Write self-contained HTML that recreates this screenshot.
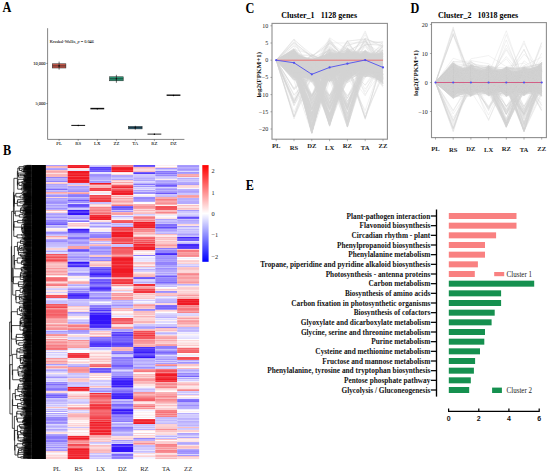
<!DOCTYPE html><html><head><meta charset="utf-8"><style>html,body{margin:0;padding:0;background:#fff;width:550px;height:474px;overflow:hidden}svg{display:block}</style></head><body>
<svg width="550" height="474" viewBox="0 0 550 474">
<rect width="550" height="474" fill="#fff"/>
<text transform="translate(2.6 12.3) scale(0.9 1)" font-family='"Liberation Serif", serif' font-weight="bold" font-size="13.6">A</text>
<path d="M47.6 28.2V139.4H184.4" fill="none" stroke="#333" stroke-width="0.6"/>
<path d="M46.2 63.4H47.6M46.2 103.6H47.6" stroke="#333" stroke-width="0.5"/>
<text x="45.6" y="64.9" text-anchor="end" font-family='"Liberation Serif", serif' font-size="4.5" fill="#000" stroke="#000" stroke-width="0.05">10,000</text>
<text x="45.6" y="105.1" text-anchor="end" font-family='"Liberation Serif", serif' font-size="4.5" fill="#000" stroke="#000" stroke-width="0.05">5,000</text>
<text x="49.8" y="42.9" font-family='"Liberation Serif", serif' font-size="4.25" fill="#000" stroke="#000" stroke-width="0.04">Kruskal-Wallis, <tspan font-style="italic">p</tspan> = 0.046</text>
<path d="M59.1 139.4V140.8" stroke="#333" stroke-width="0.5"/>
<text x="59.1" y="145.2" text-anchor="middle" font-family='"Liberation Serif", serif' font-size="4.8" fill="#000" stroke="#000" stroke-width="0.04">PL</text>
<path d="M78.2 139.4V140.8" stroke="#333" stroke-width="0.5"/>
<text x="78.2" y="145.2" text-anchor="middle" font-family='"Liberation Serif", serif' font-size="4.8" fill="#000" stroke="#000" stroke-width="0.04">RS</text>
<path d="M97.3 139.4V140.8" stroke="#333" stroke-width="0.5"/>
<text x="97.3" y="145.2" text-anchor="middle" font-family='"Liberation Serif", serif' font-size="4.8" fill="#000" stroke="#000" stroke-width="0.04">LX</text>
<path d="M116.4 139.4V140.8" stroke="#333" stroke-width="0.5"/>
<text x="116.4" y="145.2" text-anchor="middle" font-family='"Liberation Serif", serif' font-size="4.8" fill="#000" stroke="#000" stroke-width="0.04">ZZ</text>
<path d="M135.3 139.4V140.8" stroke="#333" stroke-width="0.5"/>
<text x="135.3" y="145.2" text-anchor="middle" font-family='"Liberation Serif", serif' font-size="4.8" fill="#000" stroke="#000" stroke-width="0.04">TA</text>
<path d="M154.4 139.4V140.8" stroke="#333" stroke-width="0.5"/>
<text x="154.4" y="145.2" text-anchor="middle" font-family='"Liberation Serif", serif' font-size="4.8" fill="#000" stroke="#000" stroke-width="0.04">RZ</text>
<path d="M173.5 139.4V140.8" stroke="#333" stroke-width="0.5"/>
<text x="173.5" y="145.2" text-anchor="middle" font-family='"Liberation Serif", serif' font-size="4.8" fill="#000" stroke="#000" stroke-width="0.04">DZ</text>
<rect x="52.3" y="63.8" width="13.6" height="4.2" fill="#c75a4c" stroke="#222" stroke-width="0.5"/>
<path d="M59.1 61.6V69.6 M52.3 65.9H65.9" stroke="#111" stroke-width="0.6"/>
<circle cx="59.1" cy="65.9" r="0.8" fill="#111"/>
<rect x="109.6" y="76.8" width="13.6" height="4" fill="#2a9a76" stroke="#222" stroke-width="0.5"/>
<path d="M116.4 74.8V82.8 M109.6 78.8H123.2" stroke="#111" stroke-width="0.6"/>
<circle cx="116.4" cy="78.8" r="0.8" fill="#111"/>
<rect x="128.5" y="126.4" width="13.6" height="2.5" fill="#2b6f8e" stroke="#222" stroke-width="0.5"/>
<path d="M135.3 125.8V129.6 M128.5 127.65H142.1" stroke="#111" stroke-width="0.6"/>
<circle cx="135.3" cy="127.65" r="0.8" fill="#111"/>
<rect x="71.3" y="124.9" width="13.8" height="1" fill="#111"/>
<circle cx="78.2" cy="125.6" r="0.75" fill="#000"/>
<rect x="90.4" y="107.85" width="13.8" height="1.5" fill="#111"/>
<circle cx="97.3" cy="108.8" r="0.75" fill="#000"/>
<rect x="147.5" y="133.65" width="13.8" height="0.9" fill="#111"/>
<circle cx="154.4" cy="134.3" r="0.75" fill="#000"/>
<rect x="166.6" y="94.5" width="13.8" height="1.4" fill="#111"/>
<circle cx="173.5" cy="95.4" r="0.75" fill="#000"/>
<text transform="translate(2.9 155.3) scale(0.9 1)" font-family='"Liberation Serif", serif' font-weight="bold" font-size="13.6">B</text>
<rect x="45.8" y="165" width="21.95" height="1.05" fill="#a99cfd"/>
<rect x="45.8" y="166" width="21.95" height="1.05" fill="#fab1b4"/>
<rect x="45.8" y="167" width="21.95" height="1.05" fill="#fbbec1"/>
<rect x="45.8" y="168" width="21.95" height="1.05" fill="#b2a7fd"/>
<rect x="45.8" y="169" width="21.95" height="1.05" fill="#a89bfd"/>
<rect x="45.8" y="170" width="21.95" height="1.05" fill="#fbbec1"/>
<rect x="45.8" y="171" width="21.95" height="1.05" fill="#f9a6a9"/>
<rect x="45.8" y="172" width="21.95" height="1.05" fill="#fab2b6"/>
<rect x="45.8" y="173" width="21.95" height="1.05" fill="#fde0e2"/>
<rect x="45.8" y="174" width="21.95" height="1.05" fill="#fab5b9"/>
<rect x="45.8" y="175" width="21.95" height="1.05" fill="#fab3b6"/>
<rect x="45.8" y="176" width="21.95" height="1.05" fill="#fab7ba"/>
<rect x="45.8" y="177" width="21.95" height="1.05" fill="#9282fc"/>
<rect x="45.8" y="178" width="21.95" height="1.05" fill="#bbb1fd"/>
<rect x="45.8" y="179" width="21.95" height="1.05" fill="#b5abfd"/>
<rect x="45.8" y="180" width="21.95" height="1.05" fill="#b5aafd"/>
<rect x="45.8" y="181" width="21.95" height="1.05" fill="#9181fc"/>
<rect x="45.8" y="182" width="21.95" height="1.05" fill="#fddadc"/>
<rect x="45.8" y="183" width="21.95" height="1.05" fill="#fccacd"/>
<rect x="45.8" y="184" width="21.95" height="1.05" fill="#b0a4fd"/>
<rect x="45.8" y="185" width="21.95" height="1.05" fill="#bcb2fd"/>
<rect x="45.8" y="186" width="21.95" height="1.05" fill="#b6acfd"/>
<rect x="45.8" y="187" width="21.95" height="1.05" fill="#c0b7fd"/>
<rect x="45.8" y="188" width="21.95" height="1.05" fill="#ada1fd"/>
<rect x="45.8" y="189" width="21.95" height="1.05" fill="#7f6cfc"/>
<rect x="45.8" y="190" width="21.95" height="1.05" fill="#c8c0fe"/>
<rect x="45.8" y="191" width="21.95" height="1.05" fill="#b7acfd"/>
<rect x="45.8" y="192" width="21.95" height="1.05" fill="#f9a6aa"/>
<rect x="45.8" y="193" width="21.95" height="1.05" fill="#fbbbbe"/>
<rect x="45.8" y="194" width="21.95" height="1.05" fill="#c1b8fd"/>
<rect x="45.8" y="195" width="21.95" height="1.05" fill="#a395fd"/>
<rect x="45.8" y="196" width="21.95" height="1.05" fill="#a193fd"/>
<rect x="45.8" y="197" width="21.95" height="1.05" fill="#fcd7d9"/>
<rect x="45.8" y="198" width="21.95" height="1.05" fill="#ab9ffd"/>
<rect x="45.8" y="199" width="21.95" height="1.05" fill="#b7adfd"/>
<rect x="45.8" y="200" width="21.95" height="1.05" fill="#b1a6fd"/>
<rect x="45.8" y="201" width="21.95" height="1.05" fill="#a699fd"/>
<rect x="45.8" y="202" width="21.95" height="1.05" fill="#9d8ffd"/>
<rect x="45.8" y="203" width="21.95" height="1.05" fill="#a497fd"/>
<rect x="45.8" y="204" width="21.95" height="1.05" fill="#cbc4fe"/>
<rect x="45.8" y="205" width="21.95" height="1.05" fill="#aa9efd"/>
<rect x="45.8" y="206" width="21.95" height="1.05" fill="#bbb1fd"/>
<rect x="45.8" y="207" width="21.95" height="1.05" fill="#beb5fd"/>
<rect x="45.8" y="208" width="21.95" height="1.05" fill="#9f91fd"/>
<rect x="45.8" y="209" width="21.95" height="1.05" fill="#b8aefd"/>
<rect x="45.8" y="210" width="21.95" height="1.05" fill="#fab9bc"/>
<rect x="45.8" y="211" width="21.95" height="1.05" fill="#fef6f6"/>
<rect x="45.8" y="212" width="21.95" height="1.05" fill="#fcd7d9"/>
<rect x="45.8" y="213" width="21.95" height="1.05" fill="#b6abfd"/>
<rect x="45.8" y="214" width="21.95" height="1.05" fill="#aa9dfd"/>
<rect x="45.8" y="215" width="21.95" height="1.05" fill="#bfb6fd"/>
<rect x="45.8" y="216" width="21.95" height="1.05" fill="#b6acfd"/>
<rect x="45.8" y="217" width="21.95" height="1.05" fill="#9f91fd"/>
<rect x="45.8" y="218" width="21.95" height="1.05" fill="#c5bcfe"/>
<rect x="45.8" y="219" width="21.95" height="1.05" fill="#c2b9fe"/>
<rect x="45.8" y="220" width="21.95" height="1.05" fill="#9484fc"/>
<rect x="45.8" y="221" width="21.95" height="1.05" fill="#9c8dfd"/>
<rect x="45.8" y="222" width="21.95" height="1.05" fill="#8a79fc"/>
<rect x="45.8" y="223" width="21.95" height="1.05" fill="#8674fc"/>
<rect x="45.8" y="224" width="21.95" height="1.05" fill="#6f5afb"/>
<rect x="45.8" y="225" width="21.95" height="1.05" fill="#ccc4fe"/>
<rect x="45.8" y="226" width="21.95" height="1.05" fill="#b7adfd"/>
<rect x="45.8" y="227" width="21.95" height="1.05" fill="#bab0fd"/>
<rect x="45.8" y="228" width="21.95" height="1.05" fill="#fef4f4"/>
<rect x="45.8" y="229" width="21.95" height="1.05" fill="#feeeef"/>
<rect x="45.8" y="230" width="21.95" height="1.05" fill="#fde6e7"/>
<rect x="45.8" y="231" width="21.95" height="1.05" fill="#ccc5fe"/>
<rect x="45.8" y="232" width="21.95" height="1.05" fill="#9687fc"/>
<rect x="45.8" y="233" width="21.95" height="1.05" fill="#9f91fd"/>
<rect x="45.8" y="234" width="21.95" height="1.05" fill="#bbb1fd"/>
<rect x="45.8" y="235" width="21.95" height="1.05" fill="#cfc8fe"/>
<rect x="45.8" y="236" width="21.95" height="1.05" fill="#f9a4a8"/>
<rect x="45.8" y="237" width="21.95" height="1.05" fill="#fcd1d3"/>
<rect x="45.8" y="238" width="21.95" height="1.05" fill="#fdddde"/>
<rect x="45.8" y="239" width="21.95" height="1.05" fill="#b3a8fd"/>
<rect x="45.8" y="240" width="21.95" height="1.05" fill="#a193fd"/>
<rect x="45.8" y="241" width="21.95" height="1.05" fill="#9b8cfd"/>
<rect x="45.8" y="242" width="21.95" height="1.05" fill="#bdb3fd"/>
<rect x="45.8" y="243" width="21.95" height="1.05" fill="#bfb6fd"/>
<rect x="45.8" y="244" width="21.95" height="1.05" fill="#c4bbfe"/>
<rect x="45.8" y="245" width="21.95" height="1.05" fill="#c6bdfe"/>
<rect x="45.8" y="246" width="21.95" height="1.05" fill="#c9c1fe"/>
<rect x="45.8" y="247" width="21.95" height="1.05" fill="#dcd6fe"/>
<rect x="45.8" y="248" width="21.95" height="1.05" fill="#fcd1d3"/>
<rect x="45.8" y="249" width="21.95" height="1.05" fill="#fcd3d5"/>
<rect x="45.8" y="250" width="21.95" height="1.05" fill="#d5cffe"/>
<rect x="45.8" y="251" width="21.95" height="1.05" fill="#b2a7fd"/>
<rect x="45.8" y="252" width="21.95" height="1.05" fill="#e1dcfe"/>
<rect x="45.8" y="253" width="21.95" height="1.05" fill="#dbd6fe"/>
<rect x="45.8" y="254" width="21.95" height="1.05" fill="#f4545c"/>
<rect x="45.8" y="255" width="21.95" height="1.05" fill="#f78288"/>
<rect x="45.8" y="256" width="21.95" height="1.05" fill="#f56a70"/>
<rect x="45.8" y="257" width="21.95" height="1.05" fill="#f34f56"/>
<rect x="45.8" y="258" width="21.95" height="1.05" fill="#f77f85"/>
<rect x="45.8" y="259" width="21.95" height="1.05" fill="#f56168"/>
<rect x="45.8" y="260" width="21.95" height="1.05" fill="#f34b53"/>
<rect x="45.8" y="261" width="21.95" height="1.05" fill="#f6767c"/>
<rect x="45.8" y="262" width="21.95" height="1.05" fill="#f9a8ac"/>
<rect x="45.8" y="263" width="21.95" height="1.05" fill="#fbbbbe"/>
<rect x="45.8" y="264" width="21.95" height="1.05" fill="#fbc8cb"/>
<rect x="45.8" y="265" width="21.95" height="1.05" fill="#fbc0c2"/>
<rect x="45.8" y="266" width="21.95" height="1.05" fill="#fababd"/>
<rect x="45.8" y="267" width="21.95" height="1.05" fill="#fbc3c6"/>
<rect x="45.8" y="268" width="21.95" height="1.05" fill="#f8999e"/>
<rect x="45.8" y="269" width="21.95" height="1.05" fill="#fbbbbe"/>
<rect x="45.8" y="270" width="21.95" height="1.05" fill="#fab6b9"/>
<rect x="45.8" y="271" width="21.95" height="1.05" fill="#f89ba0"/>
<rect x="45.8" y="272" width="21.95" height="1.05" fill="#faaeb2"/>
<rect x="45.8" y="273" width="21.95" height="1.05" fill="#fbbfc1"/>
<rect x="45.8" y="274" width="21.95" height="1.05" fill="#f99da1"/>
<rect x="45.8" y="275" width="21.95" height="1.05" fill="#fcd9da"/>
<rect x="45.8" y="276" width="21.95" height="1.05" fill="#fffcfc"/>
<rect x="45.8" y="277" width="21.95" height="1.05" fill="#f78388"/>
<rect x="45.8" y="278" width="21.95" height="1.05" fill="#f56c72"/>
<rect x="45.8" y="279" width="21.95" height="1.05" fill="#f56c73"/>
<rect x="45.8" y="280" width="21.95" height="1.05" fill="#f66f75"/>
<rect x="45.8" y="281" width="21.95" height="1.05" fill="#faacaf"/>
<rect x="45.8" y="282" width="21.95" height="1.05" fill="#fcd8da"/>
<rect x="45.8" y="283" width="21.95" height="1.05" fill="#faaeb2"/>
<rect x="45.8" y="284" width="21.95" height="1.05" fill="#f78186"/>
<rect x="45.8" y="285" width="21.95" height="1.05" fill="#f6787e"/>
<rect x="45.8" y="286" width="21.95" height="1.05" fill="#fddcde"/>
<rect x="45.8" y="287" width="21.95" height="1.05" fill="#fcd3d5"/>
<rect x="45.8" y="288" width="21.95" height="1.05" fill="#dad4fe"/>
<rect x="45.8" y="289" width="21.95" height="1.05" fill="#d1cbfe"/>
<rect x="45.8" y="290" width="21.95" height="1.05" fill="#fde5e6"/>
<rect x="45.8" y="291" width="21.95" height="1.05" fill="#fde5e6"/>
<rect x="45.8" y="292" width="21.95" height="1.05" fill="#d5cffe"/>
<rect x="45.8" y="293" width="21.95" height="1.05" fill="#feebec"/>
<rect x="45.8" y="294" width="21.95" height="1.05" fill="#fde3e4"/>
<rect x="45.8" y="295" width="21.95" height="1.05" fill="#f4535b"/>
<rect x="45.8" y="296" width="21.95" height="1.05" fill="#f45e65"/>
<rect x="45.8" y="297" width="21.95" height="1.05" fill="#f45058"/>
<rect x="45.8" y="298" width="21.95" height="1.05" fill="#d5cffe"/>
<rect x="45.8" y="299" width="21.95" height="1.05" fill="#edeaff"/>
<rect x="45.8" y="300" width="21.95" height="1.05" fill="#d1cafe"/>
<rect x="45.8" y="301" width="21.95" height="1.05" fill="#c5bcfe"/>
<rect x="45.8" y="302" width="21.95" height="1.05" fill="#c6bdfe"/>
<rect x="45.8" y="303" width="21.95" height="1.05" fill="#ccc4fe"/>
<rect x="45.8" y="304" width="21.95" height="1.05" fill="#f45960"/>
<rect x="45.8" y="305" width="21.95" height="1.05" fill="#f67076"/>
<rect x="45.8" y="306" width="21.95" height="1.05" fill="#f56269"/>
<rect x="45.8" y="307" width="21.95" height="1.05" fill="#f34850"/>
<rect x="45.8" y="308" width="21.95" height="1.05" fill="#f8999d"/>
<rect x="45.8" y="309" width="21.95" height="1.05" fill="#f77e84"/>
<rect x="45.8" y="310" width="21.95" height="1.05" fill="#f5656c"/>
<rect x="45.8" y="311" width="21.95" height="1.05" fill="#f56269"/>
<rect x="45.8" y="312" width="21.95" height="1.05" fill="#f5656c"/>
<rect x="45.8" y="313" width="21.95" height="1.05" fill="#f67178"/>
<rect x="45.8" y="314" width="21.95" height="1.05" fill="#f45d64"/>
<rect x="45.8" y="315" width="21.95" height="1.05" fill="#f5646b"/>
<rect x="45.8" y="316" width="21.95" height="1.05" fill="#f67379"/>
<rect x="45.8" y="317" width="21.95" height="1.05" fill="#f6767c"/>
<rect x="45.8" y="318" width="21.95" height="1.05" fill="#f99ca1"/>
<rect x="45.8" y="319" width="21.95" height="1.05" fill="#faadb1"/>
<rect x="45.8" y="320" width="21.95" height="1.05" fill="#f9a5a9"/>
<rect x="45.8" y="321" width="21.95" height="1.05" fill="#f9a7ab"/>
<rect x="45.8" y="322" width="21.95" height="1.05" fill="#f9a4a8"/>
<rect x="45.8" y="323" width="21.95" height="1.05" fill="#fcd5d7"/>
<rect x="45.8" y="324" width="21.95" height="1.05" fill="#faacb0"/>
<rect x="45.8" y="325" width="21.95" height="1.05" fill="#f89095"/>
<rect x="45.8" y="326" width="21.95" height="1.05" fill="#fab9bc"/>
<rect x="45.8" y="327" width="21.95" height="1.05" fill="#f9a4a8"/>
<rect x="45.8" y="328" width="21.95" height="1.05" fill="#f89196"/>
<rect x="45.8" y="329" width="21.95" height="1.05" fill="#f89398"/>
<rect x="45.8" y="330" width="21.95" height="1.05" fill="#dad5fe"/>
<rect x="45.8" y="331" width="21.95" height="1.05" fill="#a699fd"/>
<rect x="45.8" y="332" width="21.95" height="1.05" fill="#bcb2fd"/>
<rect x="45.8" y="333" width="21.95" height="1.05" fill="#bcb2fd"/>
<rect x="45.8" y="334" width="21.95" height="1.05" fill="#f8989c"/>
<rect x="45.8" y="335" width="21.95" height="1.05" fill="#f88f94"/>
<rect x="45.8" y="336" width="21.95" height="1.05" fill="#fcd4d6"/>
<rect x="45.8" y="337" width="21.95" height="1.05" fill="#fbbdc0"/>
<rect x="45.8" y="338" width="21.95" height="1.05" fill="#feecec"/>
<rect x="45.8" y="339" width="21.95" height="1.05" fill="#f8969b"/>
<rect x="45.8" y="340" width="21.95" height="1.05" fill="#fbbec1"/>
<rect x="45.8" y="341" width="21.95" height="1.05" fill="#f9a0a4"/>
<rect x="45.8" y="342" width="21.95" height="1.05" fill="#f88d92"/>
<rect x="45.8" y="343" width="21.95" height="1.05" fill="#f9a6aa"/>
<rect x="45.8" y="344" width="21.95" height="1.05" fill="#f99fa4"/>
<rect x="45.8" y="345" width="21.95" height="1.05" fill="#f77d83"/>
<rect x="45.8" y="346" width="21.95" height="1.05" fill="#f7898f"/>
<rect x="45.8" y="347" width="21.95" height="1.05" fill="#f88e93"/>
<rect x="45.8" y="348" width="21.95" height="1.05" fill="#f67076"/>
<rect x="45.8" y="349" width="21.95" height="1.05" fill="#f6797f"/>
<rect x="45.8" y="350" width="21.95" height="1.05" fill="#dbd6fe"/>
<rect x="45.8" y="351" width="21.95" height="1.05" fill="#feeff0"/>
<rect x="45.8" y="352" width="21.95" height="1.05" fill="#cdc6fe"/>
<rect x="45.8" y="353" width="21.95" height="1.05" fill="#efedff"/>
<rect x="45.8" y="354" width="21.95" height="1.05" fill="#dcd7fe"/>
<rect x="45.8" y="355" width="21.95" height="1.05" fill="#e2defe"/>
<rect x="45.8" y="356" width="21.95" height="1.05" fill="#ece9ff"/>
<rect x="45.8" y="357" width="21.95" height="1.05" fill="#e4e0fe"/>
<rect x="45.8" y="358" width="21.95" height="1.05" fill="#f8979c"/>
<rect x="45.8" y="359" width="21.95" height="1.05" fill="#fbbfc2"/>
<rect x="45.8" y="360" width="21.95" height="1.05" fill="#fbbfc2"/>
<rect x="45.8" y="361" width="21.95" height="1.05" fill="#f8989c"/>
<rect x="45.8" y="362" width="21.95" height="1.05" fill="#fab5b8"/>
<rect x="45.8" y="363" width="21.95" height="1.05" fill="#fab6b9"/>
<rect x="45.8" y="364" width="21.95" height="1.05" fill="#a99dfd"/>
<rect x="45.8" y="365" width="21.95" height="1.05" fill="#d6d0fe"/>
<rect x="45.8" y="366" width="21.95" height="1.05" fill="#faacb0"/>
<rect x="45.8" y="367" width="21.95" height="1.05" fill="#f99fa3"/>
<rect x="45.8" y="368" width="21.95" height="1.05" fill="#fccbce"/>
<rect x="45.8" y="369" width="21.95" height="1.05" fill="#c2b9fe"/>
<rect x="45.8" y="370" width="21.95" height="1.05" fill="#afa3fd"/>
<rect x="45.8" y="371" width="21.95" height="1.05" fill="#cec7fe"/>
<rect x="45.8" y="372" width="21.95" height="1.05" fill="#dcd6fe"/>
<rect x="45.8" y="373" width="21.95" height="1.05" fill="#feedee"/>
<rect x="45.8" y="374" width="21.95" height="1.05" fill="#dbd6fe"/>
<rect x="45.8" y="375" width="21.95" height="1.05" fill="#d2cbfe"/>
<rect x="45.8" y="376" width="21.95" height="1.05" fill="#bfb5fd"/>
<rect x="45.8" y="377" width="21.95" height="1.05" fill="#a193fd"/>
<rect x="45.8" y="378" width="21.95" height="1.05" fill="#d9d3fe"/>
<rect x="45.8" y="379" width="21.95" height="1.05" fill="#dfdafe"/>
<rect x="45.8" y="380" width="21.95" height="1.05" fill="#d6d0fe"/>
<rect x="45.8" y="381" width="21.95" height="1.05" fill="#e7e3fe"/>
<rect x="45.8" y="382" width="21.95" height="1.05" fill="#9585fc"/>
<rect x="45.8" y="383" width="21.95" height="1.05" fill="#a79afd"/>
<rect x="45.8" y="384" width="21.95" height="1.05" fill="#7e6bfc"/>
<rect x="45.8" y="385" width="21.95" height="1.05" fill="#a193fd"/>
<rect x="45.8" y="386" width="21.95" height="1.05" fill="#a79afd"/>
<rect x="45.8" y="387" width="21.95" height="1.05" fill="#a699fd"/>
<rect x="45.8" y="388" width="21.95" height="1.05" fill="#8b7afc"/>
<rect x="45.8" y="389" width="21.95" height="1.05" fill="#8270fc"/>
<rect x="45.8" y="390" width="21.95" height="1.05" fill="#9f91fd"/>
<rect x="45.8" y="391" width="21.95" height="1.05" fill="#fddadc"/>
<rect x="45.8" y="392" width="21.95" height="1.05" fill="#fddadc"/>
<rect x="45.8" y="393" width="21.95" height="1.05" fill="#b0a4fd"/>
<rect x="45.8" y="394" width="21.95" height="1.05" fill="#9485fc"/>
<rect x="45.8" y="395" width="21.95" height="1.05" fill="#735efc"/>
<rect x="45.8" y="396" width="21.95" height="1.05" fill="#9282fc"/>
<rect x="45.8" y="397" width="21.95" height="1.05" fill="#7a67fc"/>
<rect x="45.8" y="398" width="21.95" height="1.05" fill="#cfc8fe"/>
<rect x="45.8" y="399" width="21.95" height="1.05" fill="#c7befe"/>
<rect x="45.8" y="400" width="21.95" height="1.05" fill="#b7adfd"/>
<rect x="45.8" y="401" width="21.95" height="1.05" fill="#c1b8fd"/>
<rect x="45.8" y="402" width="21.95" height="1.05" fill="#cfc8fe"/>
<rect x="45.8" y="403" width="21.95" height="1.05" fill="#c3bafe"/>
<rect x="45.8" y="404" width="21.95" height="1.05" fill="#e2ddfe"/>
<rect x="45.8" y="405" width="21.95" height="1.05" fill="#cbc3fe"/>
<rect x="45.8" y="406" width="21.95" height="1.05" fill="#ddd8fe"/>
<rect x="45.8" y="407" width="21.95" height="1.05" fill="#fbc1c4"/>
<rect x="45.8" y="408" width="21.95" height="1.05" fill="#e6e3fe"/>
<rect x="45.8" y="409" width="21.95" height="1.05" fill="#c1b8fd"/>
<rect x="45.8" y="410" width="21.95" height="1.05" fill="#dad5fe"/>
<rect x="45.8" y="411" width="21.95" height="1.05" fill="#ada1fd"/>
<rect x="45.8" y="412" width="21.95" height="1.05" fill="#fffcfc"/>
<rect x="45.8" y="413" width="21.95" height="1.05" fill="#ac9ffd"/>
<rect x="45.8" y="414" width="21.95" height="1.05" fill="#ddd8fe"/>
<rect x="45.8" y="415" width="21.95" height="1.05" fill="#b8adfd"/>
<rect x="45.8" y="416" width="21.95" height="1.05" fill="#ccc4fe"/>
<rect x="45.8" y="417" width="21.95" height="1.05" fill="#9586fc"/>
<rect x="45.8" y="418" width="21.95" height="1.05" fill="#9889fc"/>
<rect x="45.8" y="419" width="21.95" height="1.05" fill="#8f7efc"/>
<rect x="45.8" y="420" width="21.95" height="1.05" fill="#9c8efd"/>
<rect x="45.8" y="421" width="21.95" height="1.05" fill="#b6abfd"/>
<rect x="45.8" y="422" width="21.95" height="1.05" fill="#998afd"/>
<rect x="45.8" y="423" width="21.95" height="1.05" fill="#a193fd"/>
<rect x="45.8" y="424" width="21.95" height="1.05" fill="#dcd7fe"/>
<rect x="45.8" y="425" width="21.95" height="1.05" fill="#c9c1fe"/>
<rect x="45.8" y="426" width="21.95" height="1.05" fill="#b7adfd"/>
<rect x="45.8" y="427" width="21.95" height="1.05" fill="#c3bafe"/>
<rect x="45.8" y="428" width="21.95" height="1.05" fill="#ddd8fe"/>
<rect x="45.8" y="429" width="21.95" height="1.05" fill="#b1a5fd"/>
<rect x="45.8" y="430" width="21.95" height="1.05" fill="#c2b9fe"/>
<rect x="45.8" y="431" width="21.95" height="1.05" fill="#dcd7fe"/>
<rect x="45.8" y="432" width="21.95" height="1.05" fill="#fdd9db"/>
<rect x="45.8" y="433" width="21.95" height="1.05" fill="#fde8e9"/>
<rect x="45.8" y="434" width="21.95" height="1.05" fill="#b0a4fd"/>
<rect x="45.8" y="435" width="21.95" height="1.05" fill="#a598fd"/>
<rect x="45.8" y="436" width="21.95" height="1.05" fill="#8f7ffc"/>
<rect x="45.8" y="437" width="21.95" height="1.05" fill="#8978fc"/>
<rect x="45.8" y="438" width="21.95" height="1.05" fill="#8e7dfc"/>
<rect x="45.8" y="439" width="21.95" height="1.05" fill="#a89bfd"/>
<rect x="45.8" y="440" width="21.95" height="1.05" fill="#8f7ffc"/>
<rect x="45.8" y="441" width="21.95" height="1.05" fill="#8a79fc"/>
<rect x="45.8" y="442" width="21.95" height="1.05" fill="#b5aafd"/>
<rect x="45.8" y="443" width="21.95" height="1.05" fill="#a89cfd"/>
<rect x="45.8" y="444" width="21.95" height="1.05" fill="#c0b6fd"/>
<rect x="45.8" y="445" width="21.95" height="1.05" fill="#aea2fd"/>
<rect x="45.8" y="446" width="21.95" height="1.05" fill="#c7bffe"/>
<rect x="45.8" y="447" width="21.95" height="1.05" fill="#9b8cfd"/>
<rect x="45.8" y="448" width="21.95" height="1.05" fill="#c7bffe"/>
<rect x="45.8" y="449" width="21.95" height="1.05" fill="#b7acfd"/>
<rect x="45.8" y="450" width="21.95" height="1.05" fill="#a294fd"/>
<rect x="45.8" y="451" width="21.95" height="1.05" fill="#fccfd1"/>
<rect x="45.8" y="452" width="21.95" height="1.05" fill="#fde2e3"/>
<rect x="45.8" y="453" width="21.95" height="1.05" fill="#f9f8ff"/>
<rect x="45.8" y="454" width="21.95" height="1.05" fill="#feeded"/>
<rect x="45.8" y="455" width="21.95" height="1.05" fill="#fcd7d9"/>
<rect x="45.8" y="456" width="21.95" height="1.05" fill="#fde5e6"/>
<rect x="45.8" y="457" width="21.95" height="1.05" fill="#fcced0"/>
<rect x="45.8" y="458" width="21.95" height="1.05" fill="#fccfd1"/>
<rect x="67.7" y="165" width="21.95" height="1.05" fill="#f1242d"/>
<rect x="67.7" y="166" width="21.95" height="1.05" fill="#f12a33"/>
<rect x="67.7" y="167" width="21.95" height="1.05" fill="#f01923"/>
<rect x="67.7" y="168" width="21.95" height="1.05" fill="#fde7e8"/>
<rect x="67.7" y="169" width="21.95" height="1.05" fill="#feebec"/>
<rect x="67.7" y="170" width="21.95" height="1.05" fill="#e7e4fe"/>
<rect x="67.7" y="171" width="21.95" height="1.05" fill="#f01923"/>
<rect x="67.7" y="172" width="21.95" height="1.05" fill="#f01923"/>
<rect x="67.7" y="173" width="21.95" height="1.05" fill="#f12a33"/>
<rect x="67.7" y="174" width="21.95" height="1.05" fill="#f12d36"/>
<rect x="67.7" y="175" width="21.95" height="1.05" fill="#f01923"/>
<rect x="67.7" y="176" width="21.95" height="1.05" fill="#f3454d"/>
<rect x="67.7" y="177" width="21.95" height="1.05" fill="#f01c26"/>
<rect x="67.7" y="178" width="21.95" height="1.05" fill="#f01923"/>
<rect x="67.7" y="179" width="21.95" height="1.05" fill="#f2363e"/>
<rect x="67.7" y="180" width="21.95" height="1.05" fill="#f01923"/>
<rect x="67.7" y="181" width="21.95" height="1.05" fill="#f01923"/>
<rect x="67.7" y="182" width="21.95" height="1.05" fill="#f12730"/>
<rect x="67.7" y="183" width="21.95" height="1.05" fill="#cbc3fe"/>
<rect x="67.7" y="184" width="21.95" height="1.05" fill="#d0c9fe"/>
<rect x="67.7" y="185" width="21.95" height="1.05" fill="#fccbcd"/>
<rect x="67.7" y="186" width="21.95" height="1.05" fill="#ac9ffd"/>
<rect x="67.7" y="187" width="21.95" height="1.05" fill="#b2a7fd"/>
<rect x="67.7" y="188" width="21.95" height="1.05" fill="#bbb1fd"/>
<rect x="67.7" y="189" width="21.95" height="1.05" fill="#aca0fd"/>
<rect x="67.7" y="190" width="21.95" height="1.05" fill="#aa9dfd"/>
<rect x="67.7" y="191" width="21.95" height="1.05" fill="#9c8efd"/>
<rect x="67.7" y="192" width="21.95" height="1.05" fill="#fab5b8"/>
<rect x="67.7" y="193" width="21.95" height="1.05" fill="#f99ea2"/>
<rect x="67.7" y="194" width="21.95" height="1.05" fill="#9a8bfd"/>
<rect x="67.7" y="195" width="21.95" height="1.05" fill="#8b79fc"/>
<rect x="67.7" y="196" width="21.95" height="1.05" fill="#8b7afc"/>
<rect x="67.7" y="197" width="21.95" height="1.05" fill="#c4bcfe"/>
<rect x="67.7" y="198" width="21.95" height="1.05" fill="#ab9ffd"/>
<rect x="67.7" y="199" width="21.95" height="1.05" fill="#a395fd"/>
<rect x="67.7" y="200" width="21.95" height="1.05" fill="#6e59fb"/>
<rect x="67.7" y="201" width="21.95" height="1.05" fill="#a395fd"/>
<rect x="67.7" y="202" width="21.95" height="1.05" fill="#a093fd"/>
<rect x="67.7" y="203" width="21.95" height="1.05" fill="#ddd8fe"/>
<rect x="67.7" y="204" width="21.95" height="1.05" fill="#6c57fb"/>
<rect x="67.7" y="205" width="21.95" height="1.05" fill="#644dfb"/>
<rect x="67.7" y="206" width="21.95" height="1.05" fill="#6e59fb"/>
<rect x="67.7" y="207" width="21.95" height="1.05" fill="#a294fd"/>
<rect x="67.7" y="208" width="21.95" height="1.05" fill="#d2ccfe"/>
<rect x="67.7" y="209" width="21.95" height="1.05" fill="#c7bffe"/>
<rect x="67.7" y="210" width="21.95" height="1.05" fill="#3214fa"/>
<rect x="67.7" y="211" width="21.95" height="1.05" fill="#5239fb"/>
<rect x="67.7" y="212" width="21.95" height="1.05" fill="#5a42fb"/>
<rect x="67.7" y="213" width="21.95" height="1.05" fill="#3214fa"/>
<rect x="67.7" y="214" width="21.95" height="1.05" fill="#3214fa"/>
<rect x="67.7" y="215" width="21.95" height="1.05" fill="#bcb2fd"/>
<rect x="67.7" y="216" width="21.95" height="1.05" fill="#bab0fd"/>
<rect x="67.7" y="217" width="21.95" height="1.05" fill="#b1a5fd"/>
<rect x="67.7" y="218" width="21.95" height="1.05" fill="#a79afd"/>
<rect x="67.7" y="219" width="21.95" height="1.05" fill="#dad5fe"/>
<rect x="67.7" y="220" width="21.95" height="1.05" fill="#aa9dfd"/>
<rect x="67.7" y="221" width="21.95" height="1.05" fill="#8573fc"/>
<rect x="67.7" y="222" width="21.95" height="1.05" fill="#fdfdff"/>
<rect x="67.7" y="223" width="21.95" height="1.05" fill="#fbc9cb"/>
<rect x="67.7" y="224" width="21.95" height="1.05" fill="#fcd6d8"/>
<rect x="67.7" y="225" width="21.95" height="1.05" fill="#fbc6c9"/>
<rect x="67.7" y="226" width="21.95" height="1.05" fill="#fdd9db"/>
<rect x="67.7" y="227" width="21.95" height="1.05" fill="#fff8f8"/>
<rect x="67.7" y="228" width="21.95" height="1.05" fill="#d0c9fe"/>
<rect x="67.7" y="229" width="21.95" height="1.05" fill="#381afa"/>
<rect x="67.7" y="230" width="21.95" height="1.05" fill="#4f35fb"/>
<rect x="67.7" y="231" width="21.95" height="1.05" fill="#5a42fb"/>
<rect x="67.7" y="232" width="21.95" height="1.05" fill="#644dfb"/>
<rect x="67.7" y="233" width="21.95" height="1.05" fill="#a193fd"/>
<rect x="67.7" y="234" width="21.95" height="1.05" fill="#ab9ffd"/>
<rect x="67.7" y="235" width="21.95" height="1.05" fill="#b5aafd"/>
<rect x="67.7" y="236" width="21.95" height="1.05" fill="#b3a8fd"/>
<rect x="67.7" y="237" width="21.95" height="1.05" fill="#8472fc"/>
<rect x="67.7" y="238" width="21.95" height="1.05" fill="#7d6afc"/>
<rect x="67.7" y="239" width="21.95" height="1.05" fill="#a89bfd"/>
<rect x="67.7" y="240" width="21.95" height="1.05" fill="#bab0fd"/>
<rect x="67.7" y="241" width="21.95" height="1.05" fill="#aea2fd"/>
<rect x="67.7" y="242" width="21.95" height="1.05" fill="#9f91fd"/>
<rect x="67.7" y="243" width="21.95" height="1.05" fill="#a395fd"/>
<rect x="67.7" y="244" width="21.95" height="1.05" fill="#c1b8fd"/>
<rect x="67.7" y="245" width="21.95" height="1.05" fill="#c0b6fd"/>
<rect x="67.7" y="246" width="21.95" height="1.05" fill="#f9a0a4"/>
<rect x="67.7" y="247" width="21.95" height="1.05" fill="#f9a3a7"/>
<rect x="67.7" y="248" width="21.95" height="1.05" fill="#f9a0a4"/>
<rect x="67.7" y="249" width="21.95" height="1.05" fill="#7864fc"/>
<rect x="67.7" y="250" width="21.95" height="1.05" fill="#654ffb"/>
<rect x="67.7" y="251" width="21.95" height="1.05" fill="#816efc"/>
<rect x="67.7" y="252" width="21.95" height="1.05" fill="#c9c1fe"/>
<rect x="67.7" y="253" width="21.95" height="1.05" fill="#beb5fd"/>
<rect x="67.7" y="254" width="21.95" height="1.05" fill="#b4a9fd"/>
<rect x="67.7" y="255" width="21.95" height="1.05" fill="#bfb5fd"/>
<rect x="67.7" y="256" width="21.95" height="1.05" fill="#a79bfd"/>
<rect x="67.7" y="257" width="21.95" height="1.05" fill="#9889fc"/>
<rect x="67.7" y="258" width="21.95" height="1.05" fill="#b8aefd"/>
<rect x="67.7" y="259" width="21.95" height="1.05" fill="#a89bfd"/>
<rect x="67.7" y="260" width="21.95" height="1.05" fill="#c3bbfe"/>
<rect x="67.7" y="261" width="21.95" height="1.05" fill="#a598fd"/>
<rect x="67.7" y="262" width="21.95" height="1.05" fill="#3214fa"/>
<rect x="67.7" y="263" width="21.95" height="1.05" fill="#4a2ffb"/>
<rect x="67.7" y="264" width="21.95" height="1.05" fill="#7561fc"/>
<rect x="67.7" y="265" width="21.95" height="1.05" fill="#553cfb"/>
<rect x="67.7" y="266" width="21.95" height="1.05" fill="#4529fa"/>
<rect x="67.7" y="267" width="21.95" height="1.05" fill="#b5aafd"/>
<rect x="67.7" y="268" width="21.95" height="1.05" fill="#cac2fe"/>
<rect x="67.7" y="269" width="21.95" height="1.05" fill="#cac2fe"/>
<rect x="67.7" y="270" width="21.95" height="1.05" fill="#c4bcfe"/>
<rect x="67.7" y="271" width="21.95" height="1.05" fill="#dad4fe"/>
<rect x="67.7" y="272" width="21.95" height="1.05" fill="#cdc6fe"/>
<rect x="67.7" y="273" width="21.95" height="1.05" fill="#9889fc"/>
<rect x="67.7" y="274" width="21.95" height="1.05" fill="#a295fd"/>
<rect x="67.7" y="275" width="21.95" height="1.05" fill="#b4a9fd"/>
<rect x="67.7" y="276" width="21.95" height="1.05" fill="#feedee"/>
<rect x="67.7" y="277" width="21.95" height="1.05" fill="#feeced"/>
<rect x="67.7" y="278" width="21.95" height="1.05" fill="#edebff"/>
<rect x="67.7" y="279" width="21.95" height="1.05" fill="#fdfcff"/>
<rect x="67.7" y="280" width="21.95" height="1.05" fill="#fef2f2"/>
<rect x="67.7" y="281" width="21.95" height="1.05" fill="#fbbfc2"/>
<rect x="67.7" y="282" width="21.95" height="1.05" fill="#f9a6aa"/>
<rect x="67.7" y="283" width="21.95" height="1.05" fill="#faafb3"/>
<rect x="67.7" y="284" width="21.95" height="1.05" fill="#c6befe"/>
<rect x="67.7" y="285" width="21.95" height="1.05" fill="#b4a9fd"/>
<rect x="67.7" y="286" width="21.95" height="1.05" fill="#e1ddfe"/>
<rect x="67.7" y="287" width="21.95" height="1.05" fill="#ccc4fe"/>
<rect x="67.7" y="288" width="21.95" height="1.05" fill="#b4a9fd"/>
<rect x="67.7" y="289" width="21.95" height="1.05" fill="#9a8bfd"/>
<rect x="67.7" y="290" width="21.95" height="1.05" fill="#c3bafe"/>
<rect x="67.7" y="291" width="21.95" height="1.05" fill="#9383fc"/>
<rect x="67.7" y="292" width="21.95" height="1.05" fill="#a79afd"/>
<rect x="67.7" y="293" width="21.95" height="1.05" fill="#614afb"/>
<rect x="67.7" y="294" width="21.95" height="1.05" fill="#5137fb"/>
<rect x="67.7" y="295" width="21.95" height="1.05" fill="#3e21fa"/>
<rect x="67.7" y="296" width="21.95" height="1.05" fill="#543bfb"/>
<rect x="67.7" y="297" width="21.95" height="1.05" fill="#573efb"/>
<rect x="67.7" y="298" width="21.95" height="1.05" fill="#634cfb"/>
<rect x="67.7" y="299" width="21.95" height="1.05" fill="#cec7fe"/>
<rect x="67.7" y="300" width="21.95" height="1.05" fill="#c2b9fe"/>
<rect x="67.7" y="301" width="21.95" height="1.05" fill="#cfc9fe"/>
<rect x="67.7" y="302" width="21.95" height="1.05" fill="#cac3fe"/>
<rect x="67.7" y="303" width="21.95" height="1.05" fill="#c5bcfe"/>
<rect x="67.7" y="304" width="21.95" height="1.05" fill="#c2bafe"/>
<rect x="67.7" y="305" width="21.95" height="1.05" fill="#beb4fd"/>
<rect x="67.7" y="306" width="21.95" height="1.05" fill="#fbc4c7"/>
<rect x="67.7" y="307" width="21.95" height="1.05" fill="#fde4e6"/>
<rect x="67.7" y="308" width="21.95" height="1.05" fill="#fdddde"/>
<rect x="67.7" y="309" width="21.95" height="1.05" fill="#fcd1d3"/>
<rect x="67.7" y="310" width="21.95" height="1.05" fill="#feeced"/>
<rect x="67.7" y="311" width="21.95" height="1.05" fill="#fdd9db"/>
<rect x="67.7" y="312" width="21.95" height="1.05" fill="#a193fd"/>
<rect x="67.7" y="313" width="21.95" height="1.05" fill="#b6acfd"/>
<rect x="67.7" y="314" width="21.95" height="1.05" fill="#cbc3fe"/>
<rect x="67.7" y="315" width="21.95" height="1.05" fill="#cbc3fe"/>
<rect x="67.7" y="316" width="21.95" height="1.05" fill="#fee9ea"/>
<rect x="67.7" y="317" width="21.95" height="1.05" fill="#feeced"/>
<rect x="67.7" y="318" width="21.95" height="1.05" fill="#fcfcff"/>
<rect x="67.7" y="319" width="21.95" height="1.05" fill="#dfdbfe"/>
<rect x="67.7" y="320" width="21.95" height="1.05" fill="#cac2fe"/>
<rect x="67.7" y="321" width="21.95" height="1.05" fill="#d3cdfe"/>
<rect x="67.7" y="322" width="21.95" height="1.05" fill="#b3a8fd"/>
<rect x="67.7" y="323" width="21.95" height="1.05" fill="#beb5fd"/>
<rect x="67.7" y="324" width="21.95" height="1.05" fill="#faadb1"/>
<rect x="67.7" y="325" width="21.95" height="1.05" fill="#f77e83"/>
<rect x="67.7" y="326" width="21.95" height="1.05" fill="#f67b81"/>
<rect x="67.7" y="327" width="21.95" height="1.05" fill="#faafb2"/>
<rect x="67.7" y="328" width="21.95" height="1.05" fill="#f88d92"/>
<rect x="67.7" y="329" width="21.95" height="1.05" fill="#f78086"/>
<rect x="67.7" y="330" width="21.95" height="1.05" fill="#a597fd"/>
<rect x="67.7" y="331" width="21.95" height="1.05" fill="#a496fd"/>
<rect x="67.7" y="332" width="21.95" height="1.05" fill="#b0a4fd"/>
<rect x="67.7" y="333" width="21.95" height="1.05" fill="#b7adfd"/>
<rect x="67.7" y="334" width="21.95" height="1.05" fill="#fef6f7"/>
<rect x="67.7" y="335" width="21.95" height="1.05" fill="#fddcdd"/>
<rect x="67.7" y="336" width="21.95" height="1.05" fill="#fcd8da"/>
<rect x="67.7" y="337" width="21.95" height="1.05" fill="#d6d0fe"/>
<rect x="67.7" y="338" width="21.95" height="1.05" fill="#d7d1fe"/>
<rect x="67.7" y="339" width="21.95" height="1.05" fill="#e4e0fe"/>
<rect x="67.7" y="340" width="21.95" height="1.05" fill="#f88e93"/>
<rect x="67.7" y="341" width="21.95" height="1.05" fill="#fbbbbe"/>
<rect x="67.7" y="342" width="21.95" height="1.05" fill="#faacb0"/>
<rect x="67.7" y="343" width="21.95" height="1.05" fill="#fab7ba"/>
<rect x="67.7" y="344" width="21.95" height="1.05" fill="#fab7ba"/>
<rect x="67.7" y="345" width="21.95" height="1.05" fill="#f9a4a8"/>
<rect x="67.7" y="346" width="21.95" height="1.05" fill="#f9a3a7"/>
<rect x="67.7" y="347" width="21.95" height="1.05" fill="#f89a9e"/>
<rect x="67.7" y="348" width="21.95" height="1.05" fill="#e5e1fe"/>
<rect x="67.7" y="349" width="21.95" height="1.05" fill="#ebe8ff"/>
<rect x="67.7" y="350" width="21.95" height="1.05" fill="#ffffff"/>
<rect x="67.7" y="351" width="21.95" height="1.05" fill="#fcfbff"/>
<rect x="67.7" y="352" width="21.95" height="1.05" fill="#faf9ff"/>
<rect x="67.7" y="353" width="21.95" height="1.05" fill="#f23d45"/>
<rect x="67.7" y="354" width="21.95" height="1.05" fill="#f34951"/>
<rect x="67.7" y="355" width="21.95" height="1.05" fill="#f12f38"/>
<rect x="67.7" y="356" width="21.95" height="1.05" fill="#f2353e"/>
<rect x="67.7" y="357" width="21.95" height="1.05" fill="#f23d46"/>
<rect x="67.7" y="358" width="21.95" height="1.05" fill="#fddddf"/>
<rect x="67.7" y="359" width="21.95" height="1.05" fill="#fcd4d6"/>
<rect x="67.7" y="360" width="21.95" height="1.05" fill="#fbfbff"/>
<rect x="67.7" y="361" width="21.95" height="1.05" fill="#fde3e4"/>
<rect x="67.7" y="362" width="21.95" height="1.05" fill="#fcd0d2"/>
<rect x="67.7" y="363" width="21.95" height="1.05" fill="#feeded"/>
<rect x="67.7" y="364" width="21.95" height="1.05" fill="#c5bcfe"/>
<rect x="67.7" y="365" width="21.95" height="1.05" fill="#c4bbfe"/>
<rect x="67.7" y="366" width="21.95" height="1.05" fill="#ab9ffd"/>
<rect x="67.7" y="367" width="21.95" height="1.05" fill="#f99ca0"/>
<rect x="67.7" y="368" width="21.95" height="1.05" fill="#f99da2"/>
<rect x="67.7" y="369" width="21.95" height="1.05" fill="#f88f94"/>
<rect x="67.7" y="370" width="21.95" height="1.05" fill="#f88c91"/>
<rect x="67.7" y="371" width="21.95" height="1.05" fill="#f8989d"/>
<rect x="67.7" y="372" width="21.95" height="1.05" fill="#f9a7ab"/>
<rect x="67.7" y="373" width="21.95" height="1.05" fill="#c9c2fe"/>
<rect x="67.7" y="374" width="21.95" height="1.05" fill="#cbc3fe"/>
<rect x="67.7" y="375" width="21.95" height="1.05" fill="#d8d2fe"/>
<rect x="67.7" y="376" width="21.95" height="1.05" fill="#d1cafe"/>
<rect x="67.7" y="377" width="21.95" height="1.05" fill="#c0b7fd"/>
<rect x="67.7" y="378" width="21.95" height="1.05" fill="#fcd3d5"/>
<rect x="67.7" y="379" width="21.95" height="1.05" fill="#fbc1c4"/>
<rect x="67.7" y="380" width="21.95" height="1.05" fill="#fbc8ca"/>
<rect x="67.7" y="381" width="21.95" height="1.05" fill="#fcced1"/>
<rect x="67.7" y="382" width="21.95" height="1.05" fill="#cac2fe"/>
<rect x="67.7" y="383" width="21.95" height="1.05" fill="#c4bbfe"/>
<rect x="67.7" y="384" width="21.95" height="1.05" fill="#cdc6fe"/>
<rect x="67.7" y="385" width="21.95" height="1.05" fill="#d4cefe"/>
<rect x="67.7" y="386" width="21.95" height="1.05" fill="#c5bcfe"/>
<rect x="67.7" y="387" width="21.95" height="1.05" fill="#f01923"/>
<rect x="67.7" y="388" width="21.95" height="1.05" fill="#f3414a"/>
<rect x="67.7" y="389" width="21.95" height="1.05" fill="#f12731"/>
<rect x="67.7" y="390" width="21.95" height="1.05" fill="#f23942"/>
<rect x="67.7" y="391" width="21.95" height="1.05" fill="#fbc8ca"/>
<rect x="67.7" y="392" width="21.95" height="1.05" fill="#f7f6ff"/>
<rect x="67.7" y="393" width="21.95" height="1.05" fill="#feeaeb"/>
<rect x="67.7" y="394" width="21.95" height="1.05" fill="#fcd8da"/>
<rect x="67.7" y="395" width="21.95" height="1.05" fill="#fcd1d3"/>
<rect x="67.7" y="396" width="21.95" height="1.05" fill="#fab2b5"/>
<rect x="67.7" y="397" width="21.95" height="1.05" fill="#fcd7d8"/>
<rect x="67.7" y="398" width="21.95" height="1.05" fill="#fbc5c7"/>
<rect x="67.7" y="399" width="21.95" height="1.05" fill="#d8d3fe"/>
<rect x="67.7" y="400" width="21.95" height="1.05" fill="#dbd6fe"/>
<rect x="67.7" y="401" width="21.95" height="1.05" fill="#d4cefe"/>
<rect x="67.7" y="402" width="21.95" height="1.05" fill="#c9c1fe"/>
<rect x="67.7" y="403" width="21.95" height="1.05" fill="#d4cefe"/>
<rect x="67.7" y="404" width="21.95" height="1.05" fill="#fef0f1"/>
<rect x="67.7" y="405" width="21.95" height="1.05" fill="#fbc7c9"/>
<rect x="67.7" y="406" width="21.95" height="1.05" fill="#feeff0"/>
<rect x="67.7" y="407" width="21.95" height="1.05" fill="#f9aaae"/>
<rect x="67.7" y="408" width="21.95" height="1.05" fill="#f7878d"/>
<rect x="67.7" y="409" width="21.95" height="1.05" fill="#fab3b6"/>
<rect x="67.7" y="410" width="21.95" height="1.05" fill="#d6d0fe"/>
<rect x="67.7" y="411" width="21.95" height="1.05" fill="#e9e6fe"/>
<rect x="67.7" y="412" width="21.95" height="1.05" fill="#d6d0fe"/>
<rect x="67.7" y="413" width="21.95" height="1.05" fill="#fbc9cb"/>
<rect x="67.7" y="414" width="21.95" height="1.05" fill="#fab5b8"/>
<rect x="67.7" y="415" width="21.95" height="1.05" fill="#faafb3"/>
<rect x="67.7" y="416" width="21.95" height="1.05" fill="#faadb1"/>
<rect x="67.7" y="417" width="21.95" height="1.05" fill="#fbc8cb"/>
<rect x="67.7" y="418" width="21.95" height="1.05" fill="#fcd3d5"/>
<rect x="67.7" y="419" width="21.95" height="1.05" fill="#fcd5d7"/>
<rect x="67.7" y="420" width="21.95" height="1.05" fill="#fef3f4"/>
<rect x="67.7" y="421" width="21.95" height="1.05" fill="#feefef"/>
<rect x="67.7" y="422" width="21.95" height="1.05" fill="#fffbfc"/>
<rect x="67.7" y="423" width="21.95" height="1.05" fill="#fdd9db"/>
<rect x="67.7" y="424" width="21.95" height="1.05" fill="#fee9ea"/>
<rect x="67.7" y="425" width="21.95" height="1.05" fill="#fcd0d2"/>
<rect x="67.7" y="426" width="21.95" height="1.05" fill="#fde5e6"/>
<rect x="67.7" y="427" width="21.95" height="1.05" fill="#cbc3fe"/>
<rect x="67.7" y="428" width="21.95" height="1.05" fill="#fde6e7"/>
<rect x="67.7" y="429" width="21.95" height="1.05" fill="#fddbdd"/>
<rect x="67.7" y="430" width="21.95" height="1.05" fill="#fef4f4"/>
<rect x="67.7" y="431" width="21.95" height="1.05" fill="#fefeff"/>
<rect x="67.7" y="432" width="21.95" height="1.05" fill="#fde5e6"/>
<rect x="67.7" y="433" width="21.95" height="1.05" fill="#fef4f5"/>
<rect x="67.7" y="434" width="21.95" height="1.05" fill="#feeeef"/>
<rect x="67.7" y="435" width="21.95" height="1.05" fill="#fcd7d9"/>
<rect x="67.7" y="436" width="21.95" height="1.05" fill="#f12730"/>
<rect x="67.7" y="437" width="21.95" height="1.05" fill="#f3454d"/>
<rect x="67.7" y="438" width="21.95" height="1.05" fill="#f01923"/>
<rect x="67.7" y="439" width="21.95" height="1.05" fill="#f23b44"/>
<rect x="67.7" y="440" width="21.95" height="1.05" fill="#f77e83"/>
<rect x="67.7" y="441" width="21.95" height="1.05" fill="#f8989c"/>
<rect x="67.7" y="442" width="21.95" height="1.05" fill="#f88d92"/>
<rect x="67.7" y="443" width="21.95" height="1.05" fill="#faacb0"/>
<rect x="67.7" y="444" width="21.95" height="1.05" fill="#f34951"/>
<rect x="67.7" y="445" width="21.95" height="1.05" fill="#f45058"/>
<rect x="67.7" y="446" width="21.95" height="1.05" fill="#f78085"/>
<rect x="67.7" y="447" width="21.95" height="1.05" fill="#f7858a"/>
<rect x="67.7" y="448" width="21.95" height="1.05" fill="#f3424b"/>
<rect x="67.7" y="449" width="21.95" height="1.05" fill="#f01923"/>
<rect x="67.7" y="450" width="21.95" height="1.05" fill="#f12d36"/>
<rect x="67.7" y="451" width="21.95" height="1.05" fill="#f1262f"/>
<rect x="67.7" y="452" width="21.95" height="1.05" fill="#f12a34"/>
<rect x="67.7" y="453" width="21.95" height="1.05" fill="#f12730"/>
<rect x="67.7" y="454" width="21.95" height="1.05" fill="#f23941"/>
<rect x="67.7" y="455" width="21.95" height="1.05" fill="#f1242e"/>
<rect x="67.7" y="456" width="21.95" height="1.05" fill="#f23f47"/>
<rect x="67.7" y="457" width="21.95" height="1.05" fill="#f1262f"/>
<rect x="67.7" y="458" width="21.95" height="1.05" fill="#f01f29"/>
<rect x="89.6" y="165" width="21.95" height="1.05" fill="#d3cdfe"/>
<rect x="89.6" y="166" width="21.95" height="1.05" fill="#c8c0fe"/>
<rect x="89.6" y="167" width="21.95" height="1.05" fill="#563efb"/>
<rect x="89.6" y="168" width="21.95" height="1.05" fill="#6852fb"/>
<rect x="89.6" y="169" width="21.95" height="1.05" fill="#5d46fb"/>
<rect x="89.6" y="170" width="21.95" height="1.05" fill="#7f6cfc"/>
<rect x="89.6" y="171" width="21.95" height="1.05" fill="#725dfc"/>
<rect x="89.6" y="172" width="21.95" height="1.05" fill="#e9e5fe"/>
<rect x="89.6" y="173" width="21.95" height="1.05" fill="#e3dffe"/>
<rect x="89.6" y="174" width="21.95" height="1.05" fill="#a194fd"/>
<rect x="89.6" y="175" width="21.95" height="1.05" fill="#9e8ffd"/>
<rect x="89.6" y="176" width="21.95" height="1.05" fill="#a79afd"/>
<rect x="89.6" y="177" width="21.95" height="1.05" fill="#b2a7fd"/>
<rect x="89.6" y="178" width="21.95" height="1.05" fill="#b5abfd"/>
<rect x="89.6" y="179" width="21.95" height="1.05" fill="#b6acfd"/>
<rect x="89.6" y="180" width="21.95" height="1.05" fill="#cfc8fe"/>
<rect x="89.6" y="181" width="21.95" height="1.05" fill="#a194fd"/>
<rect x="89.6" y="182" width="21.95" height="1.05" fill="#ada1fd"/>
<rect x="89.6" y="183" width="21.95" height="1.05" fill="#f01923"/>
<rect x="89.6" y="184" width="21.95" height="1.05" fill="#f56970"/>
<rect x="89.6" y="185" width="21.95" height="1.05" fill="#fbc4c6"/>
<rect x="89.6" y="186" width="21.95" height="1.05" fill="#fab7ba"/>
<rect x="89.6" y="187" width="21.95" height="1.05" fill="#fab7ba"/>
<rect x="89.6" y="188" width="21.95" height="1.05" fill="#f33f48"/>
<rect x="89.6" y="189" width="21.95" height="1.05" fill="#f34b53"/>
<rect x="89.6" y="190" width="21.95" height="1.05" fill="#f34049"/>
<rect x="89.6" y="191" width="21.95" height="1.05" fill="#fef3f3"/>
<rect x="89.6" y="192" width="21.95" height="1.05" fill="#fde5e6"/>
<rect x="89.6" y="193" width="21.95" height="1.05" fill="#eae7fe"/>
<rect x="89.6" y="194" width="21.95" height="1.05" fill="#fbfaff"/>
<rect x="89.6" y="195" width="21.95" height="1.05" fill="#f3474f"/>
<rect x="89.6" y="196" width="21.95" height="1.05" fill="#f45a61"/>
<rect x="89.6" y="197" width="21.95" height="1.05" fill="#f45a61"/>
<rect x="89.6" y="198" width="21.95" height="1.05" fill="#f23b44"/>
<rect x="89.6" y="199" width="21.95" height="1.05" fill="#f4535a"/>
<rect x="89.6" y="200" width="21.95" height="1.05" fill="#f23b44"/>
<rect x="89.6" y="201" width="21.95" height="1.05" fill="#f23942"/>
<rect x="89.6" y="202" width="21.95" height="1.05" fill="#c7befe"/>
<rect x="89.6" y="203" width="21.95" height="1.05" fill="#cac2fe"/>
<rect x="89.6" y="204" width="21.95" height="1.05" fill="#fcd3d5"/>
<rect x="89.6" y="205" width="21.95" height="1.05" fill="#feebec"/>
<rect x="89.6" y="206" width="21.95" height="1.05" fill="#fcd2d4"/>
<rect x="89.6" y="207" width="21.95" height="1.05" fill="#f78489"/>
<rect x="89.6" y="208" width="21.95" height="1.05" fill="#f8969a"/>
<rect x="89.6" y="209" width="21.95" height="1.05" fill="#f88e93"/>
<rect x="89.6" y="210" width="21.95" height="1.05" fill="#f77e84"/>
<rect x="89.6" y="211" width="21.95" height="1.05" fill="#f99ca0"/>
<rect x="89.6" y="212" width="21.95" height="1.05" fill="#f78086"/>
<rect x="89.6" y="213" width="21.95" height="1.05" fill="#f56a70"/>
<rect x="89.6" y="214" width="21.95" height="1.05" fill="#f8969b"/>
<rect x="89.6" y="215" width="21.95" height="1.05" fill="#f12d36"/>
<rect x="89.6" y="216" width="21.95" height="1.05" fill="#f2333c"/>
<rect x="89.6" y="217" width="21.95" height="1.05" fill="#f01923"/>
<rect x="89.6" y="218" width="21.95" height="1.05" fill="#f12a33"/>
<rect x="89.6" y="219" width="21.95" height="1.05" fill="#f01f29"/>
<rect x="89.6" y="220" width="21.95" height="1.05" fill="#fee9ea"/>
<rect x="89.6" y="221" width="21.95" height="1.05" fill="#fdddde"/>
<rect x="89.6" y="222" width="21.95" height="1.05" fill="#c1b8fd"/>
<rect x="89.6" y="223" width="21.95" height="1.05" fill="#a497fd"/>
<rect x="89.6" y="224" width="21.95" height="1.05" fill="#d9d4fe"/>
<rect x="89.6" y="225" width="21.95" height="1.05" fill="#d0c9fe"/>
<rect x="89.6" y="226" width="21.95" height="1.05" fill="#a598fd"/>
<rect x="89.6" y="227" width="21.95" height="1.05" fill="#cec6fe"/>
<rect x="89.6" y="228" width="21.95" height="1.05" fill="#fef6f6"/>
<rect x="89.6" y="229" width="21.95" height="1.05" fill="#feebec"/>
<rect x="89.6" y="230" width="21.95" height="1.05" fill="#feedee"/>
<rect x="89.6" y="231" width="21.95" height="1.05" fill="#f1efff"/>
<rect x="89.6" y="232" width="21.95" height="1.05" fill="#9f91fd"/>
<rect x="89.6" y="233" width="21.95" height="1.05" fill="#bbb1fd"/>
<rect x="89.6" y="234" width="21.95" height="1.05" fill="#998afd"/>
<rect x="89.6" y="235" width="21.95" height="1.05" fill="#9282fc"/>
<rect x="89.6" y="236" width="21.95" height="1.05" fill="#8c7cfc"/>
<rect x="89.6" y="237" width="21.95" height="1.05" fill="#8f7efc"/>
<rect x="89.6" y="238" width="21.95" height="1.05" fill="#f9a8ac"/>
<rect x="89.6" y="239" width="21.95" height="1.05" fill="#f88f94"/>
<rect x="89.6" y="240" width="21.95" height="1.05" fill="#f9a7aa"/>
<rect x="89.6" y="241" width="21.95" height="1.05" fill="#c6bdfe"/>
<rect x="89.6" y="242" width="21.95" height="1.05" fill="#e6e2fe"/>
<rect x="89.6" y="243" width="21.95" height="1.05" fill="#b9affd"/>
<rect x="89.6" y="244" width="21.95" height="1.05" fill="#fbc6c9"/>
<rect x="89.6" y="245" width="21.95" height="1.05" fill="#fab0b4"/>
<rect x="89.6" y="246" width="21.95" height="1.05" fill="#b6abfd"/>
<rect x="89.6" y="247" width="21.95" height="1.05" fill="#9c8efd"/>
<rect x="89.6" y="248" width="21.95" height="1.05" fill="#9a8bfd"/>
<rect x="89.6" y="249" width="21.95" height="1.05" fill="#b2a6fd"/>
<rect x="89.6" y="250" width="21.95" height="1.05" fill="#b1a6fd"/>
<rect x="89.6" y="251" width="21.95" height="1.05" fill="#9888fc"/>
<rect x="89.6" y="252" width="21.95" height="1.05" fill="#aa9dfd"/>
<rect x="89.6" y="253" width="21.95" height="1.05" fill="#a497fd"/>
<rect x="89.6" y="254" width="21.95" height="1.05" fill="#b5aafd"/>
<rect x="89.6" y="255" width="21.95" height="1.05" fill="#fbc8ca"/>
<rect x="89.6" y="256" width="21.95" height="1.05" fill="#fbc7ca"/>
<rect x="89.6" y="257" width="21.95" height="1.05" fill="#9383fc"/>
<rect x="89.6" y="258" width="21.95" height="1.05" fill="#aa9dfd"/>
<rect x="89.6" y="259" width="21.95" height="1.05" fill="#afa4fd"/>
<rect x="89.6" y="260" width="21.95" height="1.05" fill="#9283fc"/>
<rect x="89.6" y="261" width="21.95" height="1.05" fill="#fbc1c4"/>
<rect x="89.6" y="262" width="21.95" height="1.05" fill="#fddfe0"/>
<rect x="89.6" y="263" width="21.95" height="1.05" fill="#fcd0d2"/>
<rect x="89.6" y="264" width="21.95" height="1.05" fill="#fbc3c6"/>
<rect x="89.6" y="265" width="21.95" height="1.05" fill="#fab5b8"/>
<rect x="89.6" y="266" width="21.95" height="1.05" fill="#fcd8da"/>
<rect x="89.6" y="267" width="21.95" height="1.05" fill="#7965fc"/>
<rect x="89.6" y="268" width="21.95" height="1.05" fill="#7d6afc"/>
<rect x="89.6" y="269" width="21.95" height="1.05" fill="#614afb"/>
<rect x="89.6" y="270" width="21.95" height="1.05" fill="#7a67fc"/>
<rect x="89.6" y="271" width="21.95" height="1.05" fill="#6f5afb"/>
<rect x="89.6" y="272" width="21.95" height="1.05" fill="#614afb"/>
<rect x="89.6" y="273" width="21.95" height="1.05" fill="#482efb"/>
<rect x="89.6" y="274" width="21.95" height="1.05" fill="#3b1efa"/>
<rect x="89.6" y="275" width="21.95" height="1.05" fill="#5c44fb"/>
<rect x="89.6" y="276" width="21.95" height="1.05" fill="#5f48fb"/>
<rect x="89.6" y="277" width="21.95" height="1.05" fill="#b8aefd"/>
<rect x="89.6" y="278" width="21.95" height="1.05" fill="#d0c9fe"/>
<rect x="89.6" y="279" width="21.95" height="1.05" fill="#7561fc"/>
<rect x="89.6" y="280" width="21.95" height="1.05" fill="#705bfc"/>
<rect x="89.6" y="281" width="21.95" height="1.05" fill="#826ffc"/>
<rect x="89.6" y="282" width="21.95" height="1.05" fill="#6049fb"/>
<rect x="89.6" y="283" width="21.95" height="1.05" fill="#6f5afb"/>
<rect x="89.6" y="284" width="21.95" height="1.05" fill="#8472fc"/>
<rect x="89.6" y="285" width="21.95" height="1.05" fill="#9282fc"/>
<rect x="89.6" y="286" width="21.95" height="1.05" fill="#816ffc"/>
<rect x="89.6" y="287" width="21.95" height="1.05" fill="#563dfb"/>
<rect x="89.6" y="288" width="21.95" height="1.05" fill="#462bfa"/>
<rect x="89.6" y="289" width="21.95" height="1.05" fill="#563dfb"/>
<rect x="89.6" y="290" width="21.95" height="1.05" fill="#6c57fb"/>
<rect x="89.6" y="291" width="21.95" height="1.05" fill="#a294fd"/>
<rect x="89.6" y="292" width="21.95" height="1.05" fill="#d4cdfe"/>
<rect x="89.6" y="293" width="21.95" height="1.05" fill="#a295fd"/>
<rect x="89.6" y="294" width="21.95" height="1.05" fill="#ada1fd"/>
<rect x="89.6" y="295" width="21.95" height="1.05" fill="#b0a4fd"/>
<rect x="89.6" y="296" width="21.95" height="1.05" fill="#beb4fd"/>
<rect x="89.6" y="297" width="21.95" height="1.05" fill="#998afd"/>
<rect x="89.6" y="298" width="21.95" height="1.05" fill="#8b7afc"/>
<rect x="89.6" y="299" width="21.95" height="1.05" fill="#b7acfd"/>
<rect x="89.6" y="300" width="21.95" height="1.05" fill="#bab0fd"/>
<rect x="89.6" y="301" width="21.95" height="1.05" fill="#e0dcfe"/>
<rect x="89.6" y="302" width="21.95" height="1.05" fill="#fffdfd"/>
<rect x="89.6" y="303" width="21.95" height="1.05" fill="#d9d4fe"/>
<rect x="89.6" y="304" width="21.95" height="1.05" fill="#dad5fe"/>
<rect x="89.6" y="305" width="21.95" height="1.05" fill="#9383fc"/>
<rect x="89.6" y="306" width="21.95" height="1.05" fill="#8a79fc"/>
<rect x="89.6" y="307" width="21.95" height="1.05" fill="#9f91fd"/>
<rect x="89.6" y="308" width="21.95" height="1.05" fill="#705bfc"/>
<rect x="89.6" y="309" width="21.95" height="1.05" fill="#7e6bfc"/>
<rect x="89.6" y="310" width="21.95" height="1.05" fill="#4c31fb"/>
<rect x="89.6" y="311" width="21.95" height="1.05" fill="#9181fc"/>
<rect x="89.6" y="312" width="21.95" height="1.05" fill="#7e6bfc"/>
<rect x="89.6" y="313" width="21.95" height="1.05" fill="#4125fa"/>
<rect x="89.6" y="314" width="21.95" height="1.05" fill="#553cfb"/>
<rect x="89.6" y="315" width="21.95" height="1.05" fill="#3214fa"/>
<rect x="89.6" y="316" width="21.95" height="1.05" fill="#3214fa"/>
<rect x="89.6" y="317" width="21.95" height="1.05" fill="#3214fa"/>
<rect x="89.6" y="318" width="21.95" height="1.05" fill="#3214fa"/>
<rect x="89.6" y="319" width="21.95" height="1.05" fill="#3214fa"/>
<rect x="89.6" y="320" width="21.95" height="1.05" fill="#3c20fa"/>
<rect x="89.6" y="321" width="21.95" height="1.05" fill="#3315fa"/>
<rect x="89.6" y="322" width="21.95" height="1.05" fill="#3315fa"/>
<rect x="89.6" y="323" width="21.95" height="1.05" fill="#3214fa"/>
<rect x="89.6" y="324" width="21.95" height="1.05" fill="#553dfb"/>
<rect x="89.6" y="325" width="21.95" height="1.05" fill="#4f35fb"/>
<rect x="89.6" y="326" width="21.95" height="1.05" fill="#4429fa"/>
<rect x="89.6" y="327" width="21.95" height="1.05" fill="#5138fb"/>
<rect x="89.6" y="328" width="21.95" height="1.05" fill="#b5aafd"/>
<rect x="89.6" y="329" width="21.95" height="1.05" fill="#a497fd"/>
<rect x="89.6" y="330" width="21.95" height="1.05" fill="#cfc8fe"/>
<rect x="89.6" y="331" width="21.95" height="1.05" fill="#fbc8cb"/>
<rect x="89.6" y="332" width="21.95" height="1.05" fill="#fde3e4"/>
<rect x="89.6" y="333" width="21.95" height="1.05" fill="#fbbdc0"/>
<rect x="89.6" y="334" width="21.95" height="1.05" fill="#fccbcd"/>
<rect x="89.6" y="335" width="21.95" height="1.05" fill="#feeeef"/>
<rect x="89.6" y="336" width="21.95" height="1.05" fill="#fab3b7"/>
<rect x="89.6" y="337" width="21.95" height="1.05" fill="#8978fc"/>
<rect x="89.6" y="338" width="21.95" height="1.05" fill="#9383fc"/>
<rect x="89.6" y="339" width="21.95" height="1.05" fill="#8776fc"/>
<rect x="89.6" y="340" width="21.95" height="1.05" fill="#826ffc"/>
<rect x="89.6" y="341" width="21.95" height="1.05" fill="#6b55fb"/>
<rect x="89.6" y="342" width="21.95" height="1.05" fill="#614afb"/>
<rect x="89.6" y="343" width="21.95" height="1.05" fill="#5138fb"/>
<rect x="89.6" y="344" width="21.95" height="1.05" fill="#4c32fb"/>
<rect x="89.6" y="345" width="21.95" height="1.05" fill="#573efb"/>
<rect x="89.6" y="346" width="21.95" height="1.05" fill="#5239fb"/>
<rect x="89.6" y="347" width="21.95" height="1.05" fill="#d7d1fe"/>
<rect x="89.6" y="348" width="21.95" height="1.05" fill="#c6bdfe"/>
<rect x="89.6" y="349" width="21.95" height="1.05" fill="#cbc4fe"/>
<rect x="89.6" y="350" width="21.95" height="1.05" fill="#f0eeff"/>
<rect x="89.6" y="351" width="21.95" height="1.05" fill="#fef0f0"/>
<rect x="89.6" y="352" width="21.95" height="1.05" fill="#fddcdd"/>
<rect x="89.6" y="353" width="21.95" height="1.05" fill="#fccfd1"/>
<rect x="89.6" y="354" width="21.95" height="1.05" fill="#feefef"/>
<rect x="89.6" y="355" width="21.95" height="1.05" fill="#feeaeb"/>
<rect x="89.6" y="356" width="21.95" height="1.05" fill="#fccbcd"/>
<rect x="89.6" y="357" width="21.95" height="1.05" fill="#fde2e4"/>
<rect x="89.6" y="358" width="21.95" height="1.05" fill="#fccfd1"/>
<rect x="89.6" y="359" width="21.95" height="1.05" fill="#fbbec0"/>
<rect x="89.6" y="360" width="21.95" height="1.05" fill="#fddcdd"/>
<rect x="89.6" y="361" width="21.95" height="1.05" fill="#fbc6c8"/>
<rect x="89.6" y="362" width="21.95" height="1.05" fill="#feeaeb"/>
<rect x="89.6" y="363" width="21.95" height="1.05" fill="#fdd9da"/>
<rect x="89.6" y="364" width="21.95" height="1.05" fill="#f6767c"/>
<rect x="89.6" y="365" width="21.95" height="1.05" fill="#f67379"/>
<rect x="89.6" y="366" width="21.95" height="1.05" fill="#f56067"/>
<rect x="89.6" y="367" width="21.95" height="1.05" fill="#fcd3d5"/>
<rect x="89.6" y="368" width="21.95" height="1.05" fill="#6f5afb"/>
<rect x="89.6" y="369" width="21.95" height="1.05" fill="#705bfc"/>
<rect x="89.6" y="370" width="21.95" height="1.05" fill="#8270fc"/>
<rect x="89.6" y="371" width="21.95" height="1.05" fill="#6852fb"/>
<rect x="89.6" y="372" width="21.95" height="1.05" fill="#8270fc"/>
<rect x="89.6" y="373" width="21.95" height="1.05" fill="#fcd2d4"/>
<rect x="89.6" y="374" width="21.95" height="1.05" fill="#fde2e3"/>
<rect x="89.6" y="375" width="21.95" height="1.05" fill="#fcd3d5"/>
<rect x="89.6" y="376" width="21.95" height="1.05" fill="#fff9f9"/>
<rect x="89.6" y="377" width="21.95" height="1.05" fill="#fccfd1"/>
<rect x="89.6" y="378" width="21.95" height="1.05" fill="#fff9f9"/>
<rect x="89.6" y="379" width="21.95" height="1.05" fill="#fee9ea"/>
<rect x="89.6" y="380" width="21.95" height="1.05" fill="#cdc6fe"/>
<rect x="89.6" y="381" width="21.95" height="1.05" fill="#cfc8fe"/>
<rect x="89.6" y="382" width="21.95" height="1.05" fill="#e4e0fe"/>
<rect x="89.6" y="383" width="21.95" height="1.05" fill="#d7d2fe"/>
<rect x="89.6" y="384" width="21.95" height="1.05" fill="#cfc9fe"/>
<rect x="89.6" y="385" width="21.95" height="1.05" fill="#dfdafe"/>
<rect x="89.6" y="386" width="21.95" height="1.05" fill="#fbbfc2"/>
<rect x="89.6" y="387" width="21.95" height="1.05" fill="#fddcde"/>
<rect x="89.6" y="388" width="21.95" height="1.05" fill="#b3a8fd"/>
<rect x="89.6" y="389" width="21.95" height="1.05" fill="#c1b8fd"/>
<rect x="89.6" y="390" width="21.95" height="1.05" fill="#b1a6fd"/>
<rect x="89.6" y="391" width="21.95" height="1.05" fill="#9889fc"/>
<rect x="89.6" y="392" width="21.95" height="1.05" fill="#d6d0fe"/>
<rect x="89.6" y="393" width="21.95" height="1.05" fill="#f12a33"/>
<rect x="89.6" y="394" width="21.95" height="1.05" fill="#f6777d"/>
<rect x="89.6" y="395" width="21.95" height="1.05" fill="#f4535b"/>
<rect x="89.6" y="396" width="21.95" height="1.05" fill="#f34b53"/>
<rect x="89.6" y="397" width="21.95" height="1.05" fill="#f5636a"/>
<rect x="89.6" y="398" width="21.95" height="1.05" fill="#f5696f"/>
<rect x="89.6" y="399" width="21.95" height="1.05" fill="#f67a80"/>
<rect x="89.6" y="400" width="21.95" height="1.05" fill="#f7888e"/>
<rect x="89.6" y="401" width="21.95" height="1.05" fill="#f67379"/>
<rect x="89.6" y="402" width="21.95" height="1.05" fill="#f56269"/>
<rect x="89.6" y="403" width="21.95" height="1.05" fill="#f7898e"/>
<rect x="89.6" y="404" width="21.95" height="1.05" fill="#f3434b"/>
<rect x="89.6" y="405" width="21.95" height="1.05" fill="#f23039"/>
<rect x="89.6" y="406" width="21.95" height="1.05" fill="#f4545b"/>
<rect x="89.6" y="407" width="21.95" height="1.05" fill="#f2353e"/>
<rect x="89.6" y="408" width="21.95" height="1.05" fill="#f23841"/>
<rect x="89.6" y="409" width="21.95" height="1.05" fill="#f4565d"/>
<rect x="89.6" y="410" width="21.95" height="1.05" fill="#f56b71"/>
<rect x="89.6" y="411" width="21.95" height="1.05" fill="#f66e75"/>
<rect x="89.6" y="412" width="21.95" height="1.05" fill="#f5656c"/>
<rect x="89.6" y="413" width="21.95" height="1.05" fill="#f55f66"/>
<rect x="89.6" y="414" width="21.95" height="1.05" fill="#f56a71"/>
<rect x="89.6" y="415" width="21.95" height="1.05" fill="#f45e65"/>
<rect x="89.6" y="416" width="21.95" height="1.05" fill="#f45058"/>
<rect x="89.6" y="417" width="21.95" height="1.05" fill="#f34850"/>
<rect x="89.6" y="418" width="21.95" height="1.05" fill="#f23f47"/>
<rect x="89.6" y="419" width="21.95" height="1.05" fill="#f56c73"/>
<rect x="89.6" y="420" width="21.95" height="1.05" fill="#f23840"/>
<rect x="89.6" y="421" width="21.95" height="1.05" fill="#f45e65"/>
<rect x="89.6" y="422" width="21.95" height="1.05" fill="#f01923"/>
<rect x="89.6" y="423" width="21.95" height="1.05" fill="#f23d46"/>
<rect x="89.6" y="424" width="21.95" height="1.05" fill="#f2313a"/>
<rect x="89.6" y="425" width="21.95" height="1.05" fill="#f12630"/>
<rect x="89.6" y="426" width="21.95" height="1.05" fill="#f34951"/>
<rect x="89.6" y="427" width="21.95" height="1.05" fill="#f12731"/>
<rect x="89.6" y="428" width="21.95" height="1.05" fill="#f23039"/>
<rect x="89.6" y="429" width="21.95" height="1.05" fill="#f45259"/>
<rect x="89.6" y="430" width="21.95" height="1.05" fill="#f12b34"/>
<rect x="89.6" y="431" width="21.95" height="1.05" fill="#f01a24"/>
<rect x="89.6" y="432" width="21.95" height="1.05" fill="#f4525a"/>
<rect x="89.6" y="433" width="21.95" height="1.05" fill="#f1212b"/>
<rect x="89.6" y="434" width="21.95" height="1.05" fill="#f12c35"/>
<rect x="89.6" y="435" width="21.95" height="1.05" fill="#f9a6aa"/>
<rect x="89.6" y="436" width="21.95" height="1.05" fill="#f9a6aa"/>
<rect x="89.6" y="437" width="21.95" height="1.05" fill="#fab9bc"/>
<rect x="89.6" y="438" width="21.95" height="1.05" fill="#fcd5d7"/>
<rect x="89.6" y="439" width="21.95" height="1.05" fill="#fbc1c4"/>
<rect x="89.6" y="440" width="21.95" height="1.05" fill="#fcd9da"/>
<rect x="89.6" y="441" width="21.95" height="1.05" fill="#fbc4c6"/>
<rect x="89.6" y="442" width="21.95" height="1.05" fill="#c9c1fe"/>
<rect x="89.6" y="443" width="21.95" height="1.05" fill="#d4cefe"/>
<rect x="89.6" y="444" width="21.95" height="1.05" fill="#f2f1ff"/>
<rect x="89.6" y="445" width="21.95" height="1.05" fill="#fbbdc0"/>
<rect x="89.6" y="446" width="21.95" height="1.05" fill="#fbc8cb"/>
<rect x="89.6" y="447" width="21.95" height="1.05" fill="#fddbdc"/>
<rect x="89.6" y="448" width="21.95" height="1.05" fill="#fcd4d6"/>
<rect x="89.6" y="449" width="21.95" height="1.05" fill="#fbc2c5"/>
<rect x="89.6" y="450" width="21.95" height="1.05" fill="#fab4b7"/>
<rect x="89.6" y="451" width="21.95" height="1.05" fill="#fbbec1"/>
<rect x="89.6" y="452" width="21.95" height="1.05" fill="#fbbcbf"/>
<rect x="89.6" y="453" width="21.95" height="1.05" fill="#cbc3fe"/>
<rect x="89.6" y="454" width="21.95" height="1.05" fill="#e2defe"/>
<rect x="89.6" y="455" width="21.95" height="1.05" fill="#c5bdfe"/>
<rect x="89.6" y="456" width="21.95" height="1.05" fill="#c3bafe"/>
<rect x="89.6" y="457" width="21.95" height="1.05" fill="#dad5fe"/>
<rect x="89.6" y="458" width="21.95" height="1.05" fill="#cdc5fe"/>
<rect x="111.5" y="165" width="21.95" height="1.05" fill="#f67a80"/>
<rect x="111.5" y="166" width="21.95" height="1.05" fill="#f78085"/>
<rect x="111.5" y="167" width="21.95" height="1.05" fill="#f12933"/>
<rect x="111.5" y="168" width="21.95" height="1.05" fill="#f01923"/>
<rect x="111.5" y="169" width="21.95" height="1.05" fill="#f01e28"/>
<rect x="111.5" y="170" width="21.95" height="1.05" fill="#f23b43"/>
<rect x="111.5" y="171" width="21.95" height="1.05" fill="#f01d26"/>
<rect x="111.5" y="172" width="21.95" height="1.05" fill="#fde5e6"/>
<rect x="111.5" y="173" width="21.95" height="1.05" fill="#fffafb"/>
<rect x="111.5" y="174" width="21.95" height="1.05" fill="#fddadb"/>
<rect x="111.5" y="175" width="21.95" height="1.05" fill="#b3a7fd"/>
<rect x="111.5" y="176" width="21.95" height="1.05" fill="#b2a6fd"/>
<rect x="111.5" y="177" width="21.95" height="1.05" fill="#c4bcfe"/>
<rect x="111.5" y="178" width="21.95" height="1.05" fill="#cdc6fe"/>
<rect x="111.5" y="179" width="21.95" height="1.05" fill="#aca0fd"/>
<rect x="111.5" y="180" width="21.95" height="1.05" fill="#fbc9cb"/>
<rect x="111.5" y="181" width="21.95" height="1.05" fill="#fde1e2"/>
<rect x="111.5" y="182" width="21.95" height="1.05" fill="#f9a6aa"/>
<rect x="111.5" y="183" width="21.95" height="1.05" fill="#fddadc"/>
<rect x="111.5" y="184" width="21.95" height="1.05" fill="#fbbbbe"/>
<rect x="111.5" y="185" width="21.95" height="1.05" fill="#f55e65"/>
<rect x="111.5" y="186" width="21.95" height="1.05" fill="#f3444c"/>
<rect x="111.5" y="187" width="21.95" height="1.05" fill="#f12a33"/>
<rect x="111.5" y="188" width="21.95" height="1.05" fill="#f78187"/>
<rect x="111.5" y="189" width="21.95" height="1.05" fill="#f45a62"/>
<rect x="111.5" y="190" width="21.95" height="1.05" fill="#f34951"/>
<rect x="111.5" y="191" width="21.95" height="1.05" fill="#f12630"/>
<rect x="111.5" y="192" width="21.95" height="1.05" fill="#f2313a"/>
<rect x="111.5" y="193" width="21.95" height="1.05" fill="#f01923"/>
<rect x="111.5" y="194" width="21.95" height="1.05" fill="#f1232d"/>
<rect x="111.5" y="195" width="21.95" height="1.05" fill="#fcd8da"/>
<rect x="111.5" y="196" width="21.95" height="1.05" fill="#f9aaae"/>
<rect x="111.5" y="197" width="21.95" height="1.05" fill="#fddadb"/>
<rect x="111.5" y="198" width="21.95" height="1.05" fill="#f9a5a9"/>
<rect x="111.5" y="199" width="21.95" height="1.05" fill="#fbc5c7"/>
<rect x="111.5" y="200" width="21.95" height="1.05" fill="#fab7ba"/>
<rect x="111.5" y="201" width="21.95" height="1.05" fill="#f9a3a7"/>
<rect x="111.5" y="202" width="21.95" height="1.05" fill="#fab8bb"/>
<rect x="111.5" y="203" width="21.95" height="1.05" fill="#fcd4d5"/>
<rect x="111.5" y="204" width="21.95" height="1.05" fill="#faabaf"/>
<rect x="111.5" y="205" width="21.95" height="1.05" fill="#f6767c"/>
<rect x="111.5" y="206" width="21.95" height="1.05" fill="#7c68fc"/>
<rect x="111.5" y="207" width="21.95" height="1.05" fill="#624bfb"/>
<rect x="111.5" y="208" width="21.95" height="1.05" fill="#7e6bfc"/>
<rect x="111.5" y="209" width="21.95" height="1.05" fill="#7864fc"/>
<rect x="111.5" y="210" width="21.95" height="1.05" fill="#ccc5fe"/>
<rect x="111.5" y="211" width="21.95" height="1.05" fill="#9c8efd"/>
<rect x="111.5" y="212" width="21.95" height="1.05" fill="#fab4b7"/>
<rect x="111.5" y="213" width="21.95" height="1.05" fill="#f99ea2"/>
<rect x="111.5" y="214" width="21.95" height="1.05" fill="#f9a1a5"/>
<rect x="111.5" y="215" width="21.95" height="1.05" fill="#efecff"/>
<rect x="111.5" y="216" width="21.95" height="1.05" fill="#b8aefd"/>
<rect x="111.5" y="217" width="21.95" height="1.05" fill="#e3dffe"/>
<rect x="111.5" y="218" width="21.95" height="1.05" fill="#e8e5fe"/>
<rect x="111.5" y="219" width="21.95" height="1.05" fill="#fef3f3"/>
<rect x="111.5" y="220" width="21.95" height="1.05" fill="#f5646b"/>
<rect x="111.5" y="221" width="21.95" height="1.05" fill="#f45960"/>
<rect x="111.5" y="222" width="21.95" height="1.05" fill="#f45259"/>
<rect x="111.5" y="223" width="21.95" height="1.05" fill="#d0c9fe"/>
<rect x="111.5" y="224" width="21.95" height="1.05" fill="#bab0fd"/>
<rect x="111.5" y="225" width="21.95" height="1.05" fill="#d4cefe"/>
<rect x="111.5" y="226" width="21.95" height="1.05" fill="#b5aafd"/>
<rect x="111.5" y="227" width="21.95" height="1.05" fill="#f3424a"/>
<rect x="111.5" y="228" width="21.95" height="1.05" fill="#f45158"/>
<rect x="111.5" y="229" width="21.95" height="1.05" fill="#f3444c"/>
<rect x="111.5" y="230" width="21.95" height="1.05" fill="#f4545b"/>
<rect x="111.5" y="231" width="21.95" height="1.05" fill="#f5646b"/>
<rect x="111.5" y="232" width="21.95" height="1.05" fill="#f01923"/>
<rect x="111.5" y="233" width="21.95" height="1.05" fill="#f01923"/>
<rect x="111.5" y="234" width="21.95" height="1.05" fill="#f1232d"/>
<rect x="111.5" y="235" width="21.95" height="1.05" fill="#f01923"/>
<rect x="111.5" y="236" width="21.95" height="1.05" fill="#f01923"/>
<rect x="111.5" y="237" width="21.95" height="1.05" fill="#f5646b"/>
<rect x="111.5" y="238" width="21.95" height="1.05" fill="#f4555c"/>
<rect x="111.5" y="239" width="21.95" height="1.05" fill="#f34951"/>
<rect x="111.5" y="240" width="21.95" height="1.05" fill="#f34951"/>
<rect x="111.5" y="241" width="21.95" height="1.05" fill="#f45960"/>
<rect x="111.5" y="242" width="21.95" height="1.05" fill="#f6797f"/>
<rect x="111.5" y="243" width="21.95" height="1.05" fill="#f23c44"/>
<rect x="111.5" y="244" width="21.95" height="1.05" fill="#d1cafe"/>
<rect x="111.5" y="245" width="21.95" height="1.05" fill="#ccc4fe"/>
<rect x="111.5" y="246" width="21.95" height="1.05" fill="#c7bffe"/>
<rect x="111.5" y="247" width="21.95" height="1.05" fill="#f34e55"/>
<rect x="111.5" y="248" width="21.95" height="1.05" fill="#f45a61"/>
<rect x="111.5" y="249" width="21.95" height="1.05" fill="#f5656c"/>
<rect x="111.5" y="250" width="21.95" height="1.05" fill="#f56067"/>
<rect x="111.5" y="251" width="21.95" height="1.05" fill="#f45d65"/>
<rect x="111.5" y="252" width="21.95" height="1.05" fill="#f45e65"/>
<rect x="111.5" y="253" width="21.95" height="1.05" fill="#f5686e"/>
<rect x="111.5" y="254" width="21.95" height="1.05" fill="#f78086"/>
<rect x="111.5" y="255" width="21.95" height="1.05" fill="#f9a4a8"/>
<rect x="111.5" y="256" width="21.95" height="1.05" fill="#f78085"/>
<rect x="111.5" y="257" width="21.95" height="1.05" fill="#f23740"/>
<rect x="111.5" y="258" width="21.95" height="1.05" fill="#f01e28"/>
<rect x="111.5" y="259" width="21.95" height="1.05" fill="#f01923"/>
<rect x="111.5" y="260" width="21.95" height="1.05" fill="#f1212a"/>
<rect x="111.5" y="261" width="21.95" height="1.05" fill="#f2323b"/>
<rect x="111.5" y="262" width="21.95" height="1.05" fill="#f1242d"/>
<rect x="111.5" y="263" width="21.95" height="1.05" fill="#f1222b"/>
<rect x="111.5" y="264" width="21.95" height="1.05" fill="#f3444d"/>
<rect x="111.5" y="265" width="21.95" height="1.05" fill="#f13039"/>
<rect x="111.5" y="266" width="21.95" height="1.05" fill="#f1222b"/>
<rect x="111.5" y="267" width="21.95" height="1.05" fill="#f12d36"/>
<rect x="111.5" y="268" width="21.95" height="1.05" fill="#f1232d"/>
<rect x="111.5" y="269" width="21.95" height="1.05" fill="#f01923"/>
<rect x="111.5" y="270" width="21.95" height="1.05" fill="#f01923"/>
<rect x="111.5" y="271" width="21.95" height="1.05" fill="#f01923"/>
<rect x="111.5" y="272" width="21.95" height="1.05" fill="#f01a24"/>
<rect x="111.5" y="273" width="21.95" height="1.05" fill="#f12a33"/>
<rect x="111.5" y="274" width="21.95" height="1.05" fill="#f1252e"/>
<rect x="111.5" y="275" width="21.95" height="1.05" fill="#f12933"/>
<rect x="111.5" y="276" width="21.95" height="1.05" fill="#f12a34"/>
<rect x="111.5" y="277" width="21.95" height="1.05" fill="#f88f94"/>
<rect x="111.5" y="278" width="21.95" height="1.05" fill="#faacaf"/>
<rect x="111.5" y="279" width="21.95" height="1.05" fill="#f3424a"/>
<rect x="111.5" y="280" width="21.95" height="1.05" fill="#f23c44"/>
<rect x="111.5" y="281" width="21.95" height="1.05" fill="#f34d55"/>
<rect x="111.5" y="282" width="21.95" height="1.05" fill="#f23c44"/>
<rect x="111.5" y="283" width="21.95" height="1.05" fill="#f2323b"/>
<rect x="111.5" y="284" width="21.95" height="1.05" fill="#fab2b5"/>
<rect x="111.5" y="285" width="21.95" height="1.05" fill="#f7888d"/>
<rect x="111.5" y="286" width="21.95" height="1.05" fill="#fddee0"/>
<rect x="111.5" y="287" width="21.95" height="1.05" fill="#fef7f8"/>
<rect x="111.5" y="288" width="21.95" height="1.05" fill="#ebe8ff"/>
<rect x="111.5" y="289" width="21.95" height="1.05" fill="#fde1e3"/>
<rect x="111.5" y="290" width="21.95" height="1.05" fill="#fbc3c5"/>
<rect x="111.5" y="291" width="21.95" height="1.05" fill="#e0dcfe"/>
<rect x="111.5" y="292" width="21.95" height="1.05" fill="#fef1f2"/>
<rect x="111.5" y="293" width="21.95" height="1.05" fill="#f8999e"/>
<rect x="111.5" y="294" width="21.95" height="1.05" fill="#f9a9ac"/>
<rect x="111.5" y="295" width="21.95" height="1.05" fill="#f8999d"/>
<rect x="111.5" y="296" width="21.95" height="1.05" fill="#fcccce"/>
<rect x="111.5" y="297" width="21.95" height="1.05" fill="#f89398"/>
<rect x="111.5" y="298" width="21.95" height="1.05" fill="#f99ca0"/>
<rect x="111.5" y="299" width="21.95" height="1.05" fill="#f9a3a7"/>
<rect x="111.5" y="300" width="21.95" height="1.05" fill="#b8adfd"/>
<rect x="111.5" y="301" width="21.95" height="1.05" fill="#ccc5fe"/>
<rect x="111.5" y="302" width="21.95" height="1.05" fill="#baaffd"/>
<rect x="111.5" y="303" width="21.95" height="1.05" fill="#c5bdfe"/>
<rect x="111.5" y="304" width="21.95" height="1.05" fill="#b9affd"/>
<rect x="111.5" y="305" width="21.95" height="1.05" fill="#9d8efd"/>
<rect x="111.5" y="306" width="21.95" height="1.05" fill="#c1b8fd"/>
<rect x="111.5" y="307" width="21.95" height="1.05" fill="#c5bcfe"/>
<rect x="111.5" y="308" width="21.95" height="1.05" fill="#faacb0"/>
<rect x="111.5" y="309" width="21.95" height="1.05" fill="#fccacc"/>
<rect x="111.5" y="310" width="21.95" height="1.05" fill="#fbbbbe"/>
<rect x="111.5" y="311" width="21.95" height="1.05" fill="#fef4f4"/>
<rect x="111.5" y="312" width="21.95" height="1.05" fill="#fffcfc"/>
<rect x="111.5" y="313" width="21.95" height="1.05" fill="#fee8e9"/>
<rect x="111.5" y="314" width="21.95" height="1.05" fill="#fddadc"/>
<rect x="111.5" y="315" width="21.95" height="1.05" fill="#f0eeff"/>
<rect x="111.5" y="316" width="21.95" height="1.05" fill="#dfdbfe"/>
<rect x="111.5" y="317" width="21.95" height="1.05" fill="#feeff0"/>
<rect x="111.5" y="318" width="21.95" height="1.05" fill="#f34d55"/>
<rect x="111.5" y="319" width="21.95" height="1.05" fill="#f45960"/>
<rect x="111.5" y="320" width="21.95" height="1.05" fill="#f45b62"/>
<rect x="111.5" y="321" width="21.95" height="1.05" fill="#f6757b"/>
<rect x="111.5" y="322" width="21.95" height="1.05" fill="#f6777d"/>
<rect x="111.5" y="323" width="21.95" height="1.05" fill="#f45960"/>
<rect x="111.5" y="324" width="21.95" height="1.05" fill="#fcd6d8"/>
<rect x="111.5" y="325" width="21.95" height="1.05" fill="#fde7e8"/>
<rect x="111.5" y="326" width="21.95" height="1.05" fill="#fcd8da"/>
<rect x="111.5" y="327" width="21.95" height="1.05" fill="#f8989c"/>
<rect x="111.5" y="328" width="21.95" height="1.05" fill="#f9a2a6"/>
<rect x="111.5" y="329" width="21.95" height="1.05" fill="#aca0fd"/>
<rect x="111.5" y="330" width="21.95" height="1.05" fill="#ab9ffd"/>
<rect x="111.5" y="331" width="21.95" height="1.05" fill="#bbb1fd"/>
<rect x="111.5" y="332" width="21.95" height="1.05" fill="#5941fb"/>
<rect x="111.5" y="333" width="21.95" height="1.05" fill="#7b67fc"/>
<rect x="111.5" y="334" width="21.95" height="1.05" fill="#644dfb"/>
<rect x="111.5" y="335" width="21.95" height="1.05" fill="#533afb"/>
<rect x="111.5" y="336" width="21.95" height="1.05" fill="#7b67fc"/>
<rect x="111.5" y="337" width="21.95" height="1.05" fill="#705bfc"/>
<rect x="111.5" y="338" width="21.95" height="1.05" fill="#7d6afc"/>
<rect x="111.5" y="339" width="21.95" height="1.05" fill="#7a66fc"/>
<rect x="111.5" y="340" width="21.95" height="1.05" fill="#7560fc"/>
<rect x="111.5" y="341" width="21.95" height="1.05" fill="#7f6cfc"/>
<rect x="111.5" y="342" width="21.95" height="1.05" fill="#6e59fb"/>
<rect x="111.5" y="343" width="21.95" height="1.05" fill="#5c44fb"/>
<rect x="111.5" y="344" width="21.95" height="1.05" fill="#563dfb"/>
<rect x="111.5" y="345" width="21.95" height="1.05" fill="#654efb"/>
<rect x="111.5" y="346" width="21.95" height="1.05" fill="#6d58fb"/>
<rect x="111.5" y="347" width="21.95" height="1.05" fill="#fbbabd"/>
<rect x="111.5" y="348" width="21.95" height="1.05" fill="#fab9bc"/>
<rect x="111.5" y="349" width="21.95" height="1.05" fill="#fab0b3"/>
<rect x="111.5" y="350" width="21.95" height="1.05" fill="#fab8bb"/>
<rect x="111.5" y="351" width="21.95" height="1.05" fill="#9686fc"/>
<rect x="111.5" y="352" width="21.95" height="1.05" fill="#9788fc"/>
<rect x="111.5" y="353" width="21.95" height="1.05" fill="#806dfc"/>
<rect x="111.5" y="354" width="21.95" height="1.05" fill="#c9c1fe"/>
<rect x="111.5" y="355" width="21.95" height="1.05" fill="#d4cdfe"/>
<rect x="111.5" y="356" width="21.95" height="1.05" fill="#d4cefe"/>
<rect x="111.5" y="357" width="21.95" height="1.05" fill="#8c7bfc"/>
<rect x="111.5" y="358" width="21.95" height="1.05" fill="#8b7afc"/>
<rect x="111.5" y="359" width="21.95" height="1.05" fill="#9e8ffd"/>
<rect x="111.5" y="360" width="21.95" height="1.05" fill="#8f7efc"/>
<rect x="111.5" y="361" width="21.95" height="1.05" fill="#9a8cfd"/>
<rect x="111.5" y="362" width="21.95" height="1.05" fill="#9889fc"/>
<rect x="111.5" y="363" width="21.95" height="1.05" fill="#9282fc"/>
<rect x="111.5" y="364" width="21.95" height="1.05" fill="#8f7ffc"/>
<rect x="111.5" y="365" width="21.95" height="1.05" fill="#705bfc"/>
<rect x="111.5" y="366" width="21.95" height="1.05" fill="#7460fc"/>
<rect x="111.5" y="367" width="21.95" height="1.05" fill="#9586fc"/>
<rect x="111.5" y="368" width="21.95" height="1.05" fill="#9686fc"/>
<rect x="111.5" y="369" width="21.95" height="1.05" fill="#bcb3fd"/>
<rect x="111.5" y="370" width="21.95" height="1.05" fill="#dedafe"/>
<rect x="111.5" y="371" width="21.95" height="1.05" fill="#c2b9fe"/>
<rect x="111.5" y="372" width="21.95" height="1.05" fill="#a294fd"/>
<rect x="111.5" y="373" width="21.95" height="1.05" fill="#aca0fd"/>
<rect x="111.5" y="374" width="21.95" height="1.05" fill="#a699fd"/>
<rect x="111.5" y="375" width="21.95" height="1.05" fill="#aca0fd"/>
<rect x="111.5" y="376" width="21.95" height="1.05" fill="#8472fc"/>
<rect x="111.5" y="377" width="21.95" height="1.05" fill="#8e7dfc"/>
<rect x="111.5" y="378" width="21.95" height="1.05" fill="#4e34fb"/>
<rect x="111.5" y="379" width="21.95" height="1.05" fill="#5e46fb"/>
<rect x="111.5" y="380" width="21.95" height="1.05" fill="#482dfb"/>
<rect x="111.5" y="381" width="21.95" height="1.05" fill="#381bfa"/>
<rect x="111.5" y="382" width="21.95" height="1.05" fill="#4125fa"/>
<rect x="111.5" y="383" width="21.95" height="1.05" fill="#3c1ffa"/>
<rect x="111.5" y="384" width="21.95" height="1.05" fill="#381bfa"/>
<rect x="111.5" y="385" width="21.95" height="1.05" fill="#5f48fb"/>
<rect x="111.5" y="386" width="21.95" height="1.05" fill="#3c20fa"/>
<rect x="111.5" y="387" width="21.95" height="1.05" fill="#8472fc"/>
<rect x="111.5" y="388" width="21.95" height="1.05" fill="#a79bfd"/>
<rect x="111.5" y="389" width="21.95" height="1.05" fill="#9788fc"/>
<rect x="111.5" y="390" width="21.95" height="1.05" fill="#8a78fc"/>
<rect x="111.5" y="391" width="21.95" height="1.05" fill="#7a66fc"/>
<rect x="111.5" y="392" width="21.95" height="1.05" fill="#8b7afc"/>
<rect x="111.5" y="393" width="21.95" height="1.05" fill="#573efb"/>
<rect x="111.5" y="394" width="21.95" height="1.05" fill="#462bfa"/>
<rect x="111.5" y="395" width="21.95" height="1.05" fill="#5137fb"/>
<rect x="111.5" y="396" width="21.95" height="1.05" fill="#3e22fa"/>
<rect x="111.5" y="397" width="21.95" height="1.05" fill="#4529fa"/>
<rect x="111.5" y="398" width="21.95" height="1.05" fill="#391cfa"/>
<rect x="111.5" y="399" width="21.95" height="1.05" fill="#beb5fd"/>
<rect x="111.5" y="400" width="21.95" height="1.05" fill="#cdc5fe"/>
<rect x="111.5" y="401" width="21.95" height="1.05" fill="#a092fd"/>
<rect x="111.5" y="402" width="21.95" height="1.05" fill="#b6acfd"/>
<rect x="111.5" y="403" width="21.95" height="1.05" fill="#bbb1fd"/>
<rect x="111.5" y="404" width="21.95" height="1.05" fill="#7b67fc"/>
<rect x="111.5" y="405" width="21.95" height="1.05" fill="#7f6cfc"/>
<rect x="111.5" y="406" width="21.95" height="1.05" fill="#9181fc"/>
<rect x="111.5" y="407" width="21.95" height="1.05" fill="#a598fd"/>
<rect x="111.5" y="408" width="21.95" height="1.05" fill="#8e7efc"/>
<rect x="111.5" y="409" width="21.95" height="1.05" fill="#4c32fb"/>
<rect x="111.5" y="410" width="21.95" height="1.05" fill="#3214fa"/>
<rect x="111.5" y="411" width="21.95" height="1.05" fill="#6650fb"/>
<rect x="111.5" y="412" width="21.95" height="1.05" fill="#482dfb"/>
<rect x="111.5" y="413" width="21.95" height="1.05" fill="#462bfa"/>
<rect x="111.5" y="414" width="21.95" height="1.05" fill="#8674fc"/>
<rect x="111.5" y="415" width="21.95" height="1.05" fill="#9888fc"/>
<rect x="111.5" y="416" width="21.95" height="1.05" fill="#8775fc"/>
<rect x="111.5" y="417" width="21.95" height="1.05" fill="#9a8bfd"/>
<rect x="111.5" y="418" width="21.95" height="1.05" fill="#a092fd"/>
<rect x="111.5" y="419" width="21.95" height="1.05" fill="#998afd"/>
<rect x="111.5" y="420" width="21.95" height="1.05" fill="#9d8ffd"/>
<rect x="111.5" y="421" width="21.95" height="1.05" fill="#8b79fc"/>
<rect x="111.5" y="422" width="21.95" height="1.05" fill="#e3dffe"/>
<rect x="111.5" y="423" width="21.95" height="1.05" fill="#c1b8fd"/>
<rect x="111.5" y="424" width="21.95" height="1.05" fill="#aea2fd"/>
<rect x="111.5" y="425" width="21.95" height="1.05" fill="#c9c1fe"/>
<rect x="111.5" y="426" width="21.95" height="1.05" fill="#bfb6fd"/>
<rect x="111.5" y="427" width="21.95" height="1.05" fill="#8877fc"/>
<rect x="111.5" y="428" width="21.95" height="1.05" fill="#9383fc"/>
<rect x="111.5" y="429" width="21.95" height="1.05" fill="#9d8ffd"/>
<rect x="111.5" y="430" width="21.95" height="1.05" fill="#a497fd"/>
<rect x="111.5" y="431" width="21.95" height="1.05" fill="#b5aafd"/>
<rect x="111.5" y="432" width="21.95" height="1.05" fill="#cfc8fe"/>
<rect x="111.5" y="433" width="21.95" height="1.05" fill="#c2bafe"/>
<rect x="111.5" y="434" width="21.95" height="1.05" fill="#b5aafd"/>
<rect x="111.5" y="435" width="21.95" height="1.05" fill="#b9affd"/>
<rect x="111.5" y="436" width="21.95" height="1.05" fill="#fddfe0"/>
<rect x="111.5" y="437" width="21.95" height="1.05" fill="#fddddf"/>
<rect x="111.5" y="438" width="21.95" height="1.05" fill="#fccfd1"/>
<rect x="111.5" y="439" width="21.95" height="1.05" fill="#fddee0"/>
<rect x="111.5" y="440" width="21.95" height="1.05" fill="#a497fd"/>
<rect x="111.5" y="441" width="21.95" height="1.05" fill="#cbc4fe"/>
<rect x="111.5" y="442" width="21.95" height="1.05" fill="#bdb4fd"/>
<rect x="111.5" y="443" width="21.95" height="1.05" fill="#d6d0fe"/>
<rect x="111.5" y="444" width="21.95" height="1.05" fill="#3c20fa"/>
<rect x="111.5" y="445" width="21.95" height="1.05" fill="#492efb"/>
<rect x="111.5" y="446" width="21.95" height="1.05" fill="#6a54fb"/>
<rect x="111.5" y="447" width="21.95" height="1.05" fill="#3518fa"/>
<rect x="111.5" y="448" width="21.95" height="1.05" fill="#3416fa"/>
<rect x="111.5" y="449" width="21.95" height="1.05" fill="#3214fa"/>
<rect x="111.5" y="450" width="21.95" height="1.05" fill="#3214fa"/>
<rect x="111.5" y="451" width="21.95" height="1.05" fill="#3214fa"/>
<rect x="111.5" y="452" width="21.95" height="1.05" fill="#d2cbfe"/>
<rect x="111.5" y="453" width="21.95" height="1.05" fill="#c1b8fd"/>
<rect x="111.5" y="454" width="21.95" height="1.05" fill="#7a66fc"/>
<rect x="111.5" y="455" width="21.95" height="1.05" fill="#806efc"/>
<rect x="111.5" y="456" width="21.95" height="1.05" fill="#a395fd"/>
<rect x="111.5" y="457" width="21.95" height="1.05" fill="#8c7bfc"/>
<rect x="111.5" y="458" width="21.95" height="1.05" fill="#9283fc"/>
<rect x="133.4" y="165" width="21.95" height="1.05" fill="#6049fb"/>
<rect x="133.4" y="166" width="21.95" height="1.05" fill="#715dfc"/>
<rect x="133.4" y="167" width="21.95" height="1.05" fill="#fab9bc"/>
<rect x="133.4" y="168" width="21.95" height="1.05" fill="#fccacc"/>
<rect x="133.4" y="169" width="21.95" height="1.05" fill="#fddadb"/>
<rect x="133.4" y="170" width="21.95" height="1.05" fill="#fdd9db"/>
<rect x="133.4" y="171" width="21.95" height="1.05" fill="#fbbbbe"/>
<rect x="133.4" y="172" width="21.95" height="1.05" fill="#725efc"/>
<rect x="133.4" y="173" width="21.95" height="1.05" fill="#563dfb"/>
<rect x="133.4" y="174" width="21.95" height="1.05" fill="#d3cdfe"/>
<rect x="133.4" y="175" width="21.95" height="1.05" fill="#d0cafe"/>
<rect x="133.4" y="176" width="21.95" height="1.05" fill="#cdc5fe"/>
<rect x="133.4" y="177" width="21.95" height="1.05" fill="#c4bbfe"/>
<rect x="133.4" y="178" width="21.95" height="1.05" fill="#b6abfd"/>
<rect x="133.4" y="179" width="21.95" height="1.05" fill="#c3bafe"/>
<rect x="133.4" y="180" width="21.95" height="1.05" fill="#b2a7fd"/>
<rect x="133.4" y="181" width="21.95" height="1.05" fill="#e0dbfe"/>
<rect x="133.4" y="182" width="21.95" height="1.05" fill="#d5cefe"/>
<rect x="133.4" y="183" width="21.95" height="1.05" fill="#b8aefd"/>
<rect x="133.4" y="184" width="21.95" height="1.05" fill="#8675fc"/>
<rect x="133.4" y="185" width="21.95" height="1.05" fill="#d0c9fe"/>
<rect x="133.4" y="186" width="21.95" height="1.05" fill="#a295fd"/>
<rect x="133.4" y="187" width="21.95" height="1.05" fill="#e0dbfe"/>
<rect x="133.4" y="188" width="21.95" height="1.05" fill="#cfc8fe"/>
<rect x="133.4" y="189" width="21.95" height="1.05" fill="#e3dffe"/>
<rect x="133.4" y="190" width="21.95" height="1.05" fill="#ada1fd"/>
<rect x="133.4" y="191" width="21.95" height="1.05" fill="#cac2fe"/>
<rect x="133.4" y="192" width="21.95" height="1.05" fill="#9f91fd"/>
<rect x="133.4" y="193" width="21.95" height="1.05" fill="#9c8dfd"/>
<rect x="133.4" y="194" width="21.95" height="1.05" fill="#fffcfc"/>
<rect x="133.4" y="195" width="21.95" height="1.05" fill="#feecec"/>
<rect x="133.4" y="196" width="21.95" height="1.05" fill="#e6e3fe"/>
<rect x="133.4" y="197" width="21.95" height="1.05" fill="#998afd"/>
<rect x="133.4" y="198" width="21.95" height="1.05" fill="#9687fc"/>
<rect x="133.4" y="199" width="21.95" height="1.05" fill="#a497fd"/>
<rect x="133.4" y="200" width="21.95" height="1.05" fill="#a396fd"/>
<rect x="133.4" y="201" width="21.95" height="1.05" fill="#b3a8fd"/>
<rect x="133.4" y="202" width="21.95" height="1.05" fill="#fffafa"/>
<rect x="133.4" y="203" width="21.95" height="1.05" fill="#fffefe"/>
<rect x="133.4" y="204" width="21.95" height="1.05" fill="#faafb3"/>
<rect x="133.4" y="205" width="21.95" height="1.05" fill="#faabaf"/>
<rect x="133.4" y="206" width="21.95" height="1.05" fill="#f89196"/>
<rect x="133.4" y="207" width="21.95" height="1.05" fill="#f8959a"/>
<rect x="133.4" y="208" width="21.95" height="1.05" fill="#f9a1a5"/>
<rect x="133.4" y="209" width="21.95" height="1.05" fill="#fcd7d9"/>
<rect x="133.4" y="210" width="21.95" height="1.05" fill="#fab4b8"/>
<rect x="133.4" y="211" width="21.95" height="1.05" fill="#fddcdd"/>
<rect x="133.4" y="212" width="21.95" height="1.05" fill="#fbc5c8"/>
<rect x="133.4" y="213" width="21.95" height="1.05" fill="#fbbcbf"/>
<rect x="133.4" y="214" width="21.95" height="1.05" fill="#d2cbfe"/>
<rect x="133.4" y="215" width="21.95" height="1.05" fill="#e4e0fe"/>
<rect x="133.4" y="216" width="21.95" height="1.05" fill="#f9a1a5"/>
<rect x="133.4" y="217" width="21.95" height="1.05" fill="#f6797f"/>
<rect x="133.4" y="218" width="21.95" height="1.05" fill="#f7888d"/>
<rect x="133.4" y="219" width="21.95" height="1.05" fill="#f9a9ad"/>
<rect x="133.4" y="220" width="21.95" height="1.05" fill="#f78085"/>
<rect x="133.4" y="221" width="21.95" height="1.05" fill="#f99ca1"/>
<rect x="133.4" y="222" width="21.95" height="1.05" fill="#f01923"/>
<rect x="133.4" y="223" width="21.95" height="1.05" fill="#f2313a"/>
<rect x="133.4" y="224" width="21.95" height="1.05" fill="#f12831"/>
<rect x="133.4" y="225" width="21.95" height="1.05" fill="#f01f29"/>
<rect x="133.4" y="226" width="21.95" height="1.05" fill="#f12b34"/>
<rect x="133.4" y="227" width="21.95" height="1.05" fill="#f02029"/>
<rect x="133.4" y="228" width="21.95" height="1.05" fill="#f8969b"/>
<rect x="133.4" y="229" width="21.95" height="1.05" fill="#f78085"/>
<rect x="133.4" y="230" width="21.95" height="1.05" fill="#f78c91"/>
<rect x="133.4" y="231" width="21.95" height="1.05" fill="#f7888d"/>
<rect x="133.4" y="232" width="21.95" height="1.05" fill="#fbbfc1"/>
<rect x="133.4" y="233" width="21.95" height="1.05" fill="#fab0b4"/>
<rect x="133.4" y="234" width="21.95" height="1.05" fill="#fbc5c7"/>
<rect x="133.4" y="235" width="21.95" height="1.05" fill="#fde6e7"/>
<rect x="133.4" y="236" width="21.95" height="1.05" fill="#fbc4c6"/>
<rect x="133.4" y="237" width="21.95" height="1.05" fill="#f56c73"/>
<rect x="133.4" y="238" width="21.95" height="1.05" fill="#f56168"/>
<rect x="133.4" y="239" width="21.95" height="1.05" fill="#f7898e"/>
<rect x="133.4" y="240" width="21.95" height="1.05" fill="#f45960"/>
<rect x="133.4" y="241" width="21.95" height="1.05" fill="#f6787e"/>
<rect x="133.4" y="242" width="21.95" height="1.05" fill="#f34951"/>
<rect x="133.4" y="243" width="21.95" height="1.05" fill="#f6787e"/>
<rect x="133.4" y="244" width="21.95" height="1.05" fill="#f1232d"/>
<rect x="133.4" y="245" width="21.95" height="1.05" fill="#f2373f"/>
<rect x="133.4" y="246" width="21.95" height="1.05" fill="#f3454d"/>
<rect x="133.4" y="247" width="21.95" height="1.05" fill="#f01c26"/>
<rect x="133.4" y="248" width="21.95" height="1.05" fill="#f01f29"/>
<rect x="133.4" y="249" width="21.95" height="1.05" fill="#f01923"/>
<rect x="133.4" y="250" width="21.95" height="1.05" fill="#fccdcf"/>
<rect x="133.4" y="251" width="21.95" height="1.05" fill="#fde7e8"/>
<rect x="133.4" y="252" width="21.95" height="1.05" fill="#fffbfb"/>
<rect x="133.4" y="253" width="21.95" height="1.05" fill="#fee8e9"/>
<rect x="133.4" y="254" width="21.95" height="1.05" fill="#fee9ea"/>
<rect x="133.4" y="255" width="21.95" height="1.05" fill="#8b7afc"/>
<rect x="133.4" y="256" width="21.95" height="1.05" fill="#f4f2ff"/>
<rect x="133.4" y="257" width="21.95" height="1.05" fill="#f0eeff"/>
<rect x="133.4" y="258" width="21.95" height="1.05" fill="#e6e2fe"/>
<rect x="133.4" y="259" width="21.95" height="1.05" fill="#edebff"/>
<rect x="133.4" y="260" width="21.95" height="1.05" fill="#e8e5fe"/>
<rect x="133.4" y="261" width="21.95" height="1.05" fill="#eeecff"/>
<rect x="133.4" y="262" width="21.95" height="1.05" fill="#fbc3c6"/>
<rect x="133.4" y="263" width="21.95" height="1.05" fill="#fbbfc2"/>
<rect x="133.4" y="264" width="21.95" height="1.05" fill="#fddedf"/>
<rect x="133.4" y="265" width="21.95" height="1.05" fill="#feedee"/>
<rect x="133.4" y="266" width="21.95" height="1.05" fill="#fab7ba"/>
<rect x="133.4" y="267" width="21.95" height="1.05" fill="#d8d2fe"/>
<rect x="133.4" y="268" width="21.95" height="1.05" fill="#e8e5fe"/>
<rect x="133.4" y="269" width="21.95" height="1.05" fill="#bbb1fd"/>
<rect x="133.4" y="270" width="21.95" height="1.05" fill="#d1cafe"/>
<rect x="133.4" y="271" width="21.95" height="1.05" fill="#d6d1fe"/>
<rect x="133.4" y="272" width="21.95" height="1.05" fill="#feecec"/>
<rect x="133.4" y="273" width="21.95" height="1.05" fill="#fddadc"/>
<rect x="133.4" y="274" width="21.95" height="1.05" fill="#fbc4c6"/>
<rect x="133.4" y="275" width="21.95" height="1.05" fill="#fbbdc0"/>
<rect x="133.4" y="276" width="21.95" height="1.05" fill="#fab4b7"/>
<rect x="133.4" y="277" width="21.95" height="1.05" fill="#7662fc"/>
<rect x="133.4" y="278" width="21.95" height="1.05" fill="#6d58fb"/>
<rect x="133.4" y="279" width="21.95" height="1.05" fill="#d4cefe"/>
<rect x="133.4" y="280" width="21.95" height="1.05" fill="#dbd6fe"/>
<rect x="133.4" y="281" width="21.95" height="1.05" fill="#cfc8fe"/>
<rect x="133.4" y="282" width="21.95" height="1.05" fill="#b6acfd"/>
<rect x="133.4" y="283" width="21.95" height="1.05" fill="#d9d3fe"/>
<rect x="133.4" y="284" width="21.95" height="1.05" fill="#f12d36"/>
<rect x="133.4" y="285" width="21.95" height="1.05" fill="#f2313a"/>
<rect x="133.4" y="286" width="21.95" height="1.05" fill="#faacb0"/>
<rect x="133.4" y="287" width="21.95" height="1.05" fill="#f99da2"/>
<rect x="133.4" y="288" width="21.95" height="1.05" fill="#f89499"/>
<rect x="133.4" y="289" width="21.95" height="1.05" fill="#f3464e"/>
<rect x="133.4" y="290" width="21.95" height="1.05" fill="#f45d64"/>
<rect x="133.4" y="291" width="21.95" height="1.05" fill="#f2353e"/>
<rect x="133.4" y="292" width="21.95" height="1.05" fill="#f2333c"/>
<rect x="133.4" y="293" width="21.95" height="1.05" fill="#fcd1d3"/>
<rect x="133.4" y="294" width="21.95" height="1.05" fill="#fbc1c3"/>
<rect x="133.4" y="295" width="21.95" height="1.05" fill="#fddcdd"/>
<rect x="133.4" y="296" width="21.95" height="1.05" fill="#fcd3d4"/>
<rect x="133.4" y="297" width="21.95" height="1.05" fill="#fcd7d8"/>
<rect x="133.4" y="298" width="21.95" height="1.05" fill="#fbc6c9"/>
<rect x="133.4" y="299" width="21.95" height="1.05" fill="#f0eeff"/>
<rect x="133.4" y="300" width="21.95" height="1.05" fill="#d2cbfe"/>
<rect x="133.4" y="301" width="21.95" height="1.05" fill="#f8f7ff"/>
<rect x="133.4" y="302" width="21.95" height="1.05" fill="#efedff"/>
<rect x="133.4" y="303" width="21.95" height="1.05" fill="#e3dffe"/>
<rect x="133.4" y="304" width="21.95" height="1.05" fill="#faafb3"/>
<rect x="133.4" y="305" width="21.95" height="1.05" fill="#f8999e"/>
<rect x="133.4" y="306" width="21.95" height="1.05" fill="#fbbdc0"/>
<rect x="133.4" y="307" width="21.95" height="1.05" fill="#fbbcbf"/>
<rect x="133.4" y="308" width="21.95" height="1.05" fill="#fcced0"/>
<rect x="133.4" y="309" width="21.95" height="1.05" fill="#9687fc"/>
<rect x="133.4" y="310" width="21.95" height="1.05" fill="#a497fd"/>
<rect x="133.4" y="311" width="21.95" height="1.05" fill="#fbbcbf"/>
<rect x="133.4" y="312" width="21.95" height="1.05" fill="#fbbec1"/>
<rect x="133.4" y="313" width="21.95" height="1.05" fill="#fbc9cc"/>
<rect x="133.4" y="314" width="21.95" height="1.05" fill="#fbc2c5"/>
<rect x="133.4" y="315" width="21.95" height="1.05" fill="#fde0e1"/>
<rect x="133.4" y="316" width="21.95" height="1.05" fill="#fab2b6"/>
<rect x="133.4" y="317" width="21.95" height="1.05" fill="#fccdcf"/>
<rect x="133.4" y="318" width="21.95" height="1.05" fill="#fddadb"/>
<rect x="133.4" y="319" width="21.95" height="1.05" fill="#fcd3d5"/>
<rect x="133.4" y="320" width="21.95" height="1.05" fill="#fcd5d7"/>
<rect x="133.4" y="321" width="21.95" height="1.05" fill="#fab6b9"/>
<rect x="133.4" y="322" width="21.95" height="1.05" fill="#fab2b5"/>
<rect x="133.4" y="323" width="21.95" height="1.05" fill="#fddee0"/>
<rect x="133.4" y="324" width="21.95" height="1.05" fill="#d1cafe"/>
<rect x="133.4" y="325" width="21.95" height="1.05" fill="#d0c9fe"/>
<rect x="133.4" y="326" width="21.95" height="1.05" fill="#b8aefd"/>
<rect x="133.4" y="327" width="21.95" height="1.05" fill="#a99dfd"/>
<rect x="133.4" y="328" width="21.95" height="1.05" fill="#b5aafd"/>
<rect x="133.4" y="329" width="21.95" height="1.05" fill="#fbc6c8"/>
<rect x="133.4" y="330" width="21.95" height="1.05" fill="#fab4b7"/>
<rect x="133.4" y="331" width="21.95" height="1.05" fill="#f34e55"/>
<rect x="133.4" y="332" width="21.95" height="1.05" fill="#f56c73"/>
<rect x="133.4" y="333" width="21.95" height="1.05" fill="#f3434b"/>
<rect x="133.4" y="334" width="21.95" height="1.05" fill="#f5636a"/>
<rect x="133.4" y="335" width="21.95" height="1.05" fill="#f2363f"/>
<rect x="133.4" y="336" width="21.95" height="1.05" fill="#f45d64"/>
<rect x="133.4" y="337" width="21.95" height="1.05" fill="#f4545b"/>
<rect x="133.4" y="338" width="21.95" height="1.05" fill="#f4575e"/>
<rect x="133.4" y="339" width="21.95" height="1.05" fill="#faadb1"/>
<rect x="133.4" y="340" width="21.95" height="1.05" fill="#f78b90"/>
<rect x="133.4" y="341" width="21.95" height="1.05" fill="#f89398"/>
<rect x="133.4" y="342" width="21.95" height="1.05" fill="#f8989c"/>
<rect x="133.4" y="343" width="21.95" height="1.05" fill="#f99da1"/>
<rect x="133.4" y="344" width="21.95" height="1.05" fill="#fbbfc2"/>
<rect x="133.4" y="345" width="21.95" height="1.05" fill="#faadb0"/>
<rect x="133.4" y="346" width="21.95" height="1.05" fill="#faadb1"/>
<rect x="133.4" y="347" width="21.95" height="1.05" fill="#4b31fb"/>
<rect x="133.4" y="348" width="21.95" height="1.05" fill="#634dfb"/>
<rect x="133.4" y="349" width="21.95" height="1.05" fill="#4f35fb"/>
<rect x="133.4" y="350" width="21.95" height="1.05" fill="#4f36fb"/>
<rect x="133.4" y="351" width="21.95" height="1.05" fill="#4a2ffb"/>
<rect x="133.4" y="352" width="21.95" height="1.05" fill="#391cfa"/>
<rect x="133.4" y="353" width="21.95" height="1.05" fill="#654efb"/>
<rect x="133.4" y="354" width="21.95" height="1.05" fill="#715cfc"/>
<rect x="133.4" y="355" width="21.95" height="1.05" fill="#5e46fb"/>
<rect x="133.4" y="356" width="21.95" height="1.05" fill="#4b31fb"/>
<rect x="133.4" y="357" width="21.95" height="1.05" fill="#3214fa"/>
<rect x="133.4" y="358" width="21.95" height="1.05" fill="#b0a4fd"/>
<rect x="133.4" y="359" width="21.95" height="1.05" fill="#c1b8fd"/>
<rect x="133.4" y="360" width="21.95" height="1.05" fill="#b2a7fd"/>
<rect x="133.4" y="361" width="21.95" height="1.05" fill="#bcb2fd"/>
<rect x="133.4" y="362" width="21.95" height="1.05" fill="#c5bdfe"/>
<rect x="133.4" y="363" width="21.95" height="1.05" fill="#bfb6fd"/>
<rect x="133.4" y="364" width="21.95" height="1.05" fill="#b0a4fd"/>
<rect x="133.4" y="365" width="21.95" height="1.05" fill="#c9c1fe"/>
<rect x="133.4" y="366" width="21.95" height="1.05" fill="#c4bbfe"/>
<rect x="133.4" y="367" width="21.95" height="1.05" fill="#9e90fd"/>
<rect x="133.4" y="368" width="21.95" height="1.05" fill="#b1a5fd"/>
<rect x="133.4" y="369" width="21.95" height="1.05" fill="#f89b9f"/>
<rect x="133.4" y="370" width="21.95" height="1.05" fill="#f78388"/>
<rect x="133.4" y="371" width="21.95" height="1.05" fill="#f6767c"/>
<rect x="133.4" y="372" width="21.95" height="1.05" fill="#fde5e6"/>
<rect x="133.4" y="373" width="21.95" height="1.05" fill="#fef7f7"/>
<rect x="133.4" y="374" width="21.95" height="1.05" fill="#fab9bc"/>
<rect x="133.4" y="375" width="21.95" height="1.05" fill="#fccacc"/>
<rect x="133.4" y="376" width="21.95" height="1.05" fill="#fab6b9"/>
<rect x="133.4" y="377" width="21.95" height="1.05" fill="#fcd2d4"/>
<rect x="133.4" y="378" width="21.95" height="1.05" fill="#f9a6aa"/>
<rect x="133.4" y="379" width="21.95" height="1.05" fill="#f89498"/>
<rect x="133.4" y="380" width="21.95" height="1.05" fill="#f8959a"/>
<rect x="133.4" y="381" width="21.95" height="1.05" fill="#fbbec1"/>
<rect x="133.4" y="382" width="21.95" height="1.05" fill="#fab5b8"/>
<rect x="133.4" y="383" width="21.95" height="1.05" fill="#fbbdc0"/>
<rect x="133.4" y="384" width="21.95" height="1.05" fill="#fde1e2"/>
<rect x="133.4" y="385" width="21.95" height="1.05" fill="#fde0e2"/>
<rect x="133.4" y="386" width="21.95" height="1.05" fill="#fef2f2"/>
<rect x="133.4" y="387" width="21.95" height="1.05" fill="#f3f1ff"/>
<rect x="133.4" y="388" width="21.95" height="1.05" fill="#d8d2fe"/>
<rect x="133.4" y="389" width="21.95" height="1.05" fill="#c4bbfe"/>
<rect x="133.4" y="390" width="21.95" height="1.05" fill="#d6d0fe"/>
<rect x="133.4" y="391" width="21.95" height="1.05" fill="#d0c9fe"/>
<rect x="133.4" y="392" width="21.95" height="1.05" fill="#f89195"/>
<rect x="133.4" y="393" width="21.95" height="1.05" fill="#f89a9e"/>
<rect x="133.4" y="394" width="21.95" height="1.05" fill="#fab7ba"/>
<rect x="133.4" y="395" width="21.95" height="1.05" fill="#f9a8ac"/>
<rect x="133.4" y="396" width="21.95" height="1.05" fill="#f88e93"/>
<rect x="133.4" y="397" width="21.95" height="1.05" fill="#f77f84"/>
<rect x="133.4" y="398" width="21.95" height="1.05" fill="#f56d73"/>
<rect x="133.4" y="399" width="21.95" height="1.05" fill="#f55f66"/>
<rect x="133.4" y="400" width="21.95" height="1.05" fill="#f45e65"/>
<rect x="133.4" y="401" width="21.95" height="1.05" fill="#fbc7ca"/>
<rect x="133.4" y="402" width="21.95" height="1.05" fill="#fee9ea"/>
<rect x="133.4" y="403" width="21.95" height="1.05" fill="#fee8e9"/>
<rect x="133.4" y="404" width="21.95" height="1.05" fill="#f99ea3"/>
<rect x="133.4" y="405" width="21.95" height="1.05" fill="#f99ca0"/>
<rect x="133.4" y="406" width="21.95" height="1.05" fill="#f6747a"/>
<rect x="133.4" y="407" width="21.95" height="1.05" fill="#fab3b6"/>
<rect x="133.4" y="408" width="21.95" height="1.05" fill="#f88e93"/>
<rect x="133.4" y="409" width="21.95" height="1.05" fill="#fde5e6"/>
<rect x="133.4" y="410" width="21.95" height="1.05" fill="#eeebff"/>
<rect x="133.4" y="411" width="21.95" height="1.05" fill="#fcfbff"/>
<rect x="133.4" y="412" width="21.95" height="1.05" fill="#fef0f1"/>
<rect x="133.4" y="413" width="21.95" height="1.05" fill="#fffdfd"/>
<rect x="133.4" y="414" width="21.95" height="1.05" fill="#fef6f7"/>
<rect x="133.4" y="415" width="21.95" height="1.05" fill="#feebec"/>
<rect x="133.4" y="416" width="21.95" height="1.05" fill="#fcfcff"/>
<rect x="133.4" y="417" width="21.95" height="1.05" fill="#feebec"/>
<rect x="133.4" y="418" width="21.95" height="1.05" fill="#ffffff"/>
<rect x="133.4" y="419" width="21.95" height="1.05" fill="#f23a43"/>
<rect x="133.4" y="420" width="21.95" height="1.05" fill="#f12630"/>
<rect x="133.4" y="421" width="21.95" height="1.05" fill="#f23b43"/>
<rect x="133.4" y="422" width="21.95" height="1.05" fill="#f12b34"/>
<rect x="133.4" y="423" width="21.95" height="1.05" fill="#f01923"/>
<rect x="133.4" y="424" width="21.95" height="1.05" fill="#ccc5fe"/>
<rect x="133.4" y="425" width="21.95" height="1.05" fill="#c9c2fe"/>
<rect x="133.4" y="426" width="21.95" height="1.05" fill="#d8d2fe"/>
<rect x="133.4" y="427" width="21.95" height="1.05" fill="#c6bdfe"/>
<rect x="133.4" y="428" width="21.95" height="1.05" fill="#ded9fe"/>
<rect x="133.4" y="429" width="21.95" height="1.05" fill="#b7acfd"/>
<rect x="133.4" y="430" width="21.95" height="1.05" fill="#fee8e9"/>
<rect x="133.4" y="431" width="21.95" height="1.05" fill="#fffdfd"/>
<rect x="133.4" y="432" width="21.95" height="1.05" fill="#fcfcff"/>
<rect x="133.4" y="433" width="21.95" height="1.05" fill="#fcd3d5"/>
<rect x="133.4" y="434" width="21.95" height="1.05" fill="#fbfbff"/>
<rect x="133.4" y="435" width="21.95" height="1.05" fill="#fcd3d5"/>
<rect x="133.4" y="436" width="21.95" height="1.05" fill="#fde7e8"/>
<rect x="133.4" y="437" width="21.95" height="1.05" fill="#fdd9da"/>
<rect x="133.4" y="438" width="21.95" height="1.05" fill="#9383fc"/>
<rect x="133.4" y="439" width="21.95" height="1.05" fill="#b6acfd"/>
<rect x="133.4" y="440" width="21.95" height="1.05" fill="#bbb1fd"/>
<rect x="133.4" y="441" width="21.95" height="1.05" fill="#fbbcbf"/>
<rect x="133.4" y="442" width="21.95" height="1.05" fill="#fbbcbf"/>
<rect x="133.4" y="443" width="21.95" height="1.05" fill="#f88d92"/>
<rect x="133.4" y="444" width="21.95" height="1.05" fill="#fab7ba"/>
<rect x="133.4" y="445" width="21.95" height="1.05" fill="#c5bcfe"/>
<rect x="133.4" y="446" width="21.95" height="1.05" fill="#c1b8fd"/>
<rect x="133.4" y="447" width="21.95" height="1.05" fill="#d3cdfe"/>
<rect x="133.4" y="448" width="21.95" height="1.05" fill="#d1cafe"/>
<rect x="133.4" y="449" width="21.95" height="1.05" fill="#cfc8fe"/>
<rect x="133.4" y="450" width="21.95" height="1.05" fill="#e8e5fe"/>
<rect x="133.4" y="451" width="21.95" height="1.05" fill="#c6befe"/>
<rect x="133.4" y="452" width="21.95" height="1.05" fill="#d4cdfe"/>
<rect x="133.4" y="453" width="21.95" height="1.05" fill="#fcd9da"/>
<rect x="133.4" y="454" width="21.95" height="1.05" fill="#f9f8ff"/>
<rect x="133.4" y="455" width="21.95" height="1.05" fill="#fde0e2"/>
<rect x="133.4" y="456" width="21.95" height="1.05" fill="#fcd2d4"/>
<rect x="133.4" y="457" width="21.95" height="1.05" fill="#f3f1ff"/>
<rect x="133.4" y="458" width="21.95" height="1.05" fill="#f7f6ff"/>
<rect x="155.3" y="165" width="21.95" height="1.05" fill="#fef0f0"/>
<rect x="155.3" y="166" width="21.95" height="1.05" fill="#fffefe"/>
<rect x="155.3" y="167" width="21.95" height="1.05" fill="#fcd4d6"/>
<rect x="155.3" y="168" width="21.95" height="1.05" fill="#a396fd"/>
<rect x="155.3" y="169" width="21.95" height="1.05" fill="#cac2fe"/>
<rect x="155.3" y="170" width="21.95" height="1.05" fill="#d9d4fe"/>
<rect x="155.3" y="171" width="21.95" height="1.05" fill="#8877fc"/>
<rect x="155.3" y="172" width="21.95" height="1.05" fill="#9e8ffd"/>
<rect x="155.3" y="173" width="21.95" height="1.05" fill="#8371fc"/>
<rect x="155.3" y="174" width="21.95" height="1.05" fill="#b0a4fd"/>
<rect x="155.3" y="175" width="21.95" height="1.05" fill="#9787fc"/>
<rect x="155.3" y="176" width="21.95" height="1.05" fill="#c7bffe"/>
<rect x="155.3" y="177" width="21.95" height="1.05" fill="#cdc5fe"/>
<rect x="155.3" y="178" width="21.95" height="1.05" fill="#d5cefe"/>
<rect x="155.3" y="179" width="21.95" height="1.05" fill="#feeeef"/>
<rect x="155.3" y="180" width="21.95" height="1.05" fill="#b7adfd"/>
<rect x="155.3" y="181" width="21.95" height="1.05" fill="#aea2fd"/>
<rect x="155.3" y="182" width="21.95" height="1.05" fill="#b9affd"/>
<rect x="155.3" y="183" width="21.95" height="1.05" fill="#a497fd"/>
<rect x="155.3" y="184" width="21.95" height="1.05" fill="#8f7ffc"/>
<rect x="155.3" y="185" width="21.95" height="1.05" fill="#6f59fb"/>
<rect x="155.3" y="186" width="21.95" height="1.05" fill="#8675fc"/>
<rect x="155.3" y="187" width="21.95" height="1.05" fill="#d7d1fe"/>
<rect x="155.3" y="188" width="21.95" height="1.05" fill="#b9aefd"/>
<rect x="155.3" y="189" width="21.95" height="1.05" fill="#a395fd"/>
<rect x="155.3" y="190" width="21.95" height="1.05" fill="#bbb2fd"/>
<rect x="155.3" y="191" width="21.95" height="1.05" fill="#a79afd"/>
<rect x="155.3" y="192" width="21.95" height="1.05" fill="#9c8efd"/>
<rect x="155.3" y="193" width="21.95" height="1.05" fill="#6e58fb"/>
<rect x="155.3" y="194" width="21.95" height="1.05" fill="#cec6fe"/>
<rect x="155.3" y="195" width="21.95" height="1.05" fill="#c8c0fe"/>
<rect x="155.3" y="196" width="21.95" height="1.05" fill="#c0b7fd"/>
<rect x="155.3" y="197" width="21.95" height="1.05" fill="#f9a9ac"/>
<rect x="155.3" y="198" width="21.95" height="1.05" fill="#faabaf"/>
<rect x="155.3" y="199" width="21.95" height="1.05" fill="#f77f84"/>
<rect x="155.3" y="200" width="21.95" height="1.05" fill="#f89398"/>
<rect x="155.3" y="201" width="21.95" height="1.05" fill="#f9a9ad"/>
<rect x="155.3" y="202" width="21.95" height="1.05" fill="#f99ca0"/>
<rect x="155.3" y="203" width="21.95" height="1.05" fill="#f88e93"/>
<rect x="155.3" y="204" width="21.95" height="1.05" fill="#faafb2"/>
<rect x="155.3" y="205" width="21.95" height="1.05" fill="#fef2f2"/>
<rect x="155.3" y="206" width="21.95" height="1.05" fill="#f4545b"/>
<rect x="155.3" y="207" width="21.95" height="1.05" fill="#f34f56"/>
<rect x="155.3" y="208" width="21.95" height="1.05" fill="#f4555d"/>
<rect x="155.3" y="209" width="21.95" height="1.05" fill="#f4585f"/>
<rect x="155.3" y="210" width="21.95" height="1.05" fill="#fbbcbf"/>
<rect x="155.3" y="211" width="21.95" height="1.05" fill="#fab6b9"/>
<rect x="155.3" y="212" width="21.95" height="1.05" fill="#f78489"/>
<rect x="155.3" y="213" width="21.95" height="1.05" fill="#fab1b4"/>
<rect x="155.3" y="214" width="21.95" height="1.05" fill="#fde4e5"/>
<rect x="155.3" y="215" width="21.95" height="1.05" fill="#edebff"/>
<rect x="155.3" y="216" width="21.95" height="1.05" fill="#fff9f9"/>
<rect x="155.3" y="217" width="21.95" height="1.05" fill="#feefef"/>
<rect x="155.3" y="218" width="21.95" height="1.05" fill="#fde0e2"/>
<rect x="155.3" y="219" width="21.95" height="1.05" fill="#afa3fd"/>
<rect x="155.3" y="220" width="21.95" height="1.05" fill="#cbc4fe"/>
<rect x="155.3" y="221" width="21.95" height="1.05" fill="#c8c0fe"/>
<rect x="155.3" y="222" width="21.95" height="1.05" fill="#b5abfd"/>
<rect x="155.3" y="223" width="21.95" height="1.05" fill="#c9c1fe"/>
<rect x="155.3" y="224" width="21.95" height="1.05" fill="#806dfc"/>
<rect x="155.3" y="225" width="21.95" height="1.05" fill="#816ffc"/>
<rect x="155.3" y="226" width="21.95" height="1.05" fill="#8e7dfc"/>
<rect x="155.3" y="227" width="21.95" height="1.05" fill="#624bfb"/>
<rect x="155.3" y="228" width="21.95" height="1.05" fill="#8c7cfc"/>
<rect x="155.3" y="229" width="21.95" height="1.05" fill="#b1a6fd"/>
<rect x="155.3" y="230" width="21.95" height="1.05" fill="#aa9dfd"/>
<rect x="155.3" y="231" width="21.95" height="1.05" fill="#bbb1fd"/>
<rect x="155.3" y="232" width="21.95" height="1.05" fill="#cec7fe"/>
<rect x="155.3" y="233" width="21.95" height="1.05" fill="#bbb1fd"/>
<rect x="155.3" y="234" width="21.95" height="1.05" fill="#fababd"/>
<rect x="155.3" y="235" width="21.95" height="1.05" fill="#fde6e7"/>
<rect x="155.3" y="236" width="21.95" height="1.05" fill="#fee9ea"/>
<rect x="155.3" y="237" width="21.95" height="1.05" fill="#fab4b8"/>
<rect x="155.3" y="238" width="21.95" height="1.05" fill="#fccacc"/>
<rect x="155.3" y="239" width="21.95" height="1.05" fill="#fbc0c2"/>
<rect x="155.3" y="240" width="21.95" height="1.05" fill="#fde0e2"/>
<rect x="155.3" y="241" width="21.95" height="1.05" fill="#fbc2c5"/>
<rect x="155.3" y="242" width="21.95" height="1.05" fill="#fcccce"/>
<rect x="155.3" y="243" width="21.95" height="1.05" fill="#fbc5c8"/>
<rect x="155.3" y="244" width="21.95" height="1.05" fill="#faaeb2"/>
<rect x="155.3" y="245" width="21.95" height="1.05" fill="#f8989d"/>
<rect x="155.3" y="246" width="21.95" height="1.05" fill="#fbbabd"/>
<rect x="155.3" y="247" width="21.95" height="1.05" fill="#fbc0c3"/>
<rect x="155.3" y="248" width="21.95" height="1.05" fill="#8b79fc"/>
<rect x="155.3" y="249" width="21.95" height="1.05" fill="#b6abfd"/>
<rect x="155.3" y="250" width="21.95" height="1.05" fill="#9787fc"/>
<rect x="155.3" y="251" width="21.95" height="1.05" fill="#9282fc"/>
<rect x="155.3" y="252" width="21.95" height="1.05" fill="#9384fc"/>
<rect x="155.3" y="253" width="21.95" height="1.05" fill="#543bfb"/>
<rect x="155.3" y="254" width="21.95" height="1.05" fill="#462bfa"/>
<rect x="155.3" y="255" width="21.95" height="1.05" fill="#a89cfd"/>
<rect x="155.3" y="256" width="21.95" height="1.05" fill="#a395fd"/>
<rect x="155.3" y="257" width="21.95" height="1.05" fill="#a497fd"/>
<rect x="155.3" y="258" width="21.95" height="1.05" fill="#9d8ffd"/>
<rect x="155.3" y="259" width="21.95" height="1.05" fill="#aea2fd"/>
<rect x="155.3" y="260" width="21.95" height="1.05" fill="#a598fd"/>
<rect x="155.3" y="261" width="21.95" height="1.05" fill="#afa3fd"/>
<rect x="155.3" y="262" width="21.95" height="1.05" fill="#9282fc"/>
<rect x="155.3" y="263" width="21.95" height="1.05" fill="#9484fc"/>
<rect x="155.3" y="264" width="21.95" height="1.05" fill="#9384fc"/>
<rect x="155.3" y="265" width="21.95" height="1.05" fill="#aea3fd"/>
<rect x="155.3" y="266" width="21.95" height="1.05" fill="#aa9efd"/>
<rect x="155.3" y="267" width="21.95" height="1.05" fill="#c4bbfe"/>
<rect x="155.3" y="268" width="21.95" height="1.05" fill="#9d8ffd"/>
<rect x="155.3" y="269" width="21.95" height="1.05" fill="#ac9ffd"/>
<rect x="155.3" y="270" width="21.95" height="1.05" fill="#b2a7fd"/>
<rect x="155.3" y="271" width="21.95" height="1.05" fill="#b2a6fd"/>
<rect x="155.3" y="272" width="21.95" height="1.05" fill="#c8bffe"/>
<rect x="155.3" y="273" width="21.95" height="1.05" fill="#b0a4fd"/>
<rect x="155.3" y="274" width="21.95" height="1.05" fill="#c7bffe"/>
<rect x="155.3" y="275" width="21.95" height="1.05" fill="#9f91fd"/>
<rect x="155.3" y="276" width="21.95" height="1.05" fill="#715cfc"/>
<rect x="155.3" y="277" width="21.95" height="1.05" fill="#a295fd"/>
<rect x="155.3" y="278" width="21.95" height="1.05" fill="#9586fc"/>
<rect x="155.3" y="279" width="21.95" height="1.05" fill="#9687fc"/>
<rect x="155.3" y="280" width="21.95" height="1.05" fill="#9080fc"/>
<rect x="155.3" y="281" width="21.95" height="1.05" fill="#9687fc"/>
<rect x="155.3" y="282" width="21.95" height="1.05" fill="#7a67fc"/>
<rect x="155.3" y="283" width="21.95" height="1.05" fill="#9e90fd"/>
<rect x="155.3" y="284" width="21.95" height="1.05" fill="#b9aefd"/>
<rect x="155.3" y="285" width="21.95" height="1.05" fill="#d2cbfe"/>
<rect x="155.3" y="286" width="21.95" height="1.05" fill="#c3bafe"/>
<rect x="155.3" y="287" width="21.95" height="1.05" fill="#fdfdff"/>
<rect x="155.3" y="288" width="21.95" height="1.05" fill="#fef4f5"/>
<rect x="155.3" y="289" width="21.95" height="1.05" fill="#fbc8ca"/>
<rect x="155.3" y="290" width="21.95" height="1.05" fill="#fddfe0"/>
<rect x="155.3" y="291" width="21.95" height="1.05" fill="#9c8efd"/>
<rect x="155.3" y="292" width="21.95" height="1.05" fill="#a79afd"/>
<rect x="155.3" y="293" width="21.95" height="1.05" fill="#fbc2c4"/>
<rect x="155.3" y="294" width="21.95" height="1.05" fill="#fbc4c7"/>
<rect x="155.3" y="295" width="21.95" height="1.05" fill="#fab8bb"/>
<rect x="155.3" y="296" width="21.95" height="1.05" fill="#d8d3fe"/>
<rect x="155.3" y="297" width="21.95" height="1.05" fill="#efedff"/>
<rect x="155.3" y="298" width="21.95" height="1.05" fill="#d7d1fe"/>
<rect x="155.3" y="299" width="21.95" height="1.05" fill="#c2b9fe"/>
<rect x="155.3" y="300" width="21.95" height="1.05" fill="#c0b7fd"/>
<rect x="155.3" y="301" width="21.95" height="1.05" fill="#bfb6fd"/>
<rect x="155.3" y="302" width="21.95" height="1.05" fill="#b4a9fd"/>
<rect x="155.3" y="303" width="21.95" height="1.05" fill="#fddadc"/>
<rect x="155.3" y="304" width="21.95" height="1.05" fill="#fddadc"/>
<rect x="155.3" y="305" width="21.95" height="1.05" fill="#826ffc"/>
<rect x="155.3" y="306" width="21.95" height="1.05" fill="#7864fc"/>
<rect x="155.3" y="307" width="21.95" height="1.05" fill="#8371fc"/>
<rect x="155.3" y="308" width="21.95" height="1.05" fill="#7966fc"/>
<rect x="155.3" y="309" width="21.95" height="1.05" fill="#9f91fd"/>
<rect x="155.3" y="310" width="21.95" height="1.05" fill="#fcd3d5"/>
<rect x="155.3" y="311" width="21.95" height="1.05" fill="#fde5e6"/>
<rect x="155.3" y="312" width="21.95" height="1.05" fill="#fefeff"/>
<rect x="155.3" y="313" width="21.95" height="1.05" fill="#dfdbfe"/>
<rect x="155.3" y="314" width="21.95" height="1.05" fill="#d9d4fe"/>
<rect x="155.3" y="315" width="21.95" height="1.05" fill="#cec7fe"/>
<rect x="155.3" y="316" width="21.95" height="1.05" fill="#cec6fe"/>
<rect x="155.3" y="317" width="21.95" height="1.05" fill="#bbb1fd"/>
<rect x="155.3" y="318" width="21.95" height="1.05" fill="#eae6fe"/>
<rect x="155.3" y="319" width="21.95" height="1.05" fill="#dfdbfe"/>
<rect x="155.3" y="320" width="21.95" height="1.05" fill="#fef2f3"/>
<rect x="155.3" y="321" width="21.95" height="1.05" fill="#e0dbfe"/>
<rect x="155.3" y="322" width="21.95" height="1.05" fill="#ded9fe"/>
<rect x="155.3" y="323" width="21.95" height="1.05" fill="#f8f7ff"/>
<rect x="155.3" y="324" width="21.95" height="1.05" fill="#cec7fe"/>
<rect x="155.3" y="325" width="21.95" height="1.05" fill="#cec7fe"/>
<rect x="155.3" y="326" width="21.95" height="1.05" fill="#c6bdfe"/>
<rect x="155.3" y="327" width="21.95" height="1.05" fill="#8f7efc"/>
<rect x="155.3" y="328" width="21.95" height="1.05" fill="#fbc1c4"/>
<rect x="155.3" y="329" width="21.95" height="1.05" fill="#fccacc"/>
<rect x="155.3" y="330" width="21.95" height="1.05" fill="#fbbdc0"/>
<rect x="155.3" y="331" width="21.95" height="1.05" fill="#fde3e4"/>
<rect x="155.3" y="332" width="21.95" height="1.05" fill="#ccc5fe"/>
<rect x="155.3" y="333" width="21.95" height="1.05" fill="#bdb4fd"/>
<rect x="155.3" y="334" width="21.95" height="1.05" fill="#dcd6fe"/>
<rect x="155.3" y="335" width="21.95" height="1.05" fill="#fcd4d6"/>
<rect x="155.3" y="336" width="21.95" height="1.05" fill="#fab0b3"/>
<rect x="155.3" y="337" width="21.95" height="1.05" fill="#f9a6aa"/>
<rect x="155.3" y="338" width="21.95" height="1.05" fill="#f9a0a4"/>
<rect x="155.3" y="339" width="21.95" height="1.05" fill="#fccbce"/>
<rect x="155.3" y="340" width="21.95" height="1.05" fill="#f9a6aa"/>
<rect x="155.3" y="341" width="21.95" height="1.05" fill="#fbc7ca"/>
<rect x="155.3" y="342" width="21.95" height="1.05" fill="#fbc8ca"/>
<rect x="155.3" y="343" width="21.95" height="1.05" fill="#fcd2d4"/>
<rect x="155.3" y="344" width="21.95" height="1.05" fill="#f9a5a9"/>
<rect x="155.3" y="345" width="21.95" height="1.05" fill="#f99ca0"/>
<rect x="155.3" y="346" width="21.95" height="1.05" fill="#8f7efc"/>
<rect x="155.3" y="347" width="21.95" height="1.05" fill="#8c7bfc"/>
<rect x="155.3" y="348" width="21.95" height="1.05" fill="#9383fc"/>
<rect x="155.3" y="349" width="21.95" height="1.05" fill="#c2b9fe"/>
<rect x="155.3" y="350" width="21.95" height="1.05" fill="#a99cfd"/>
<rect x="155.3" y="351" width="21.95" height="1.05" fill="#907ffc"/>
<rect x="155.3" y="352" width="21.95" height="1.05" fill="#7b68fc"/>
<rect x="155.3" y="353" width="21.95" height="1.05" fill="#8d7dfc"/>
<rect x="155.3" y="354" width="21.95" height="1.05" fill="#aca0fd"/>
<rect x="155.3" y="355" width="21.95" height="1.05" fill="#e0dcfe"/>
<rect x="155.3" y="356" width="21.95" height="1.05" fill="#bdb3fd"/>
<rect x="155.3" y="357" width="21.95" height="1.05" fill="#b6acfd"/>
<rect x="155.3" y="358" width="21.95" height="1.05" fill="#b9affd"/>
<rect x="155.3" y="359" width="21.95" height="1.05" fill="#a395fd"/>
<rect x="155.3" y="360" width="21.95" height="1.05" fill="#d0cafe"/>
<rect x="155.3" y="361" width="21.95" height="1.05" fill="#b0a4fd"/>
<rect x="155.3" y="362" width="21.95" height="1.05" fill="#d3ccfe"/>
<rect x="155.3" y="363" width="21.95" height="1.05" fill="#a598fd"/>
<rect x="155.3" y="364" width="21.95" height="1.05" fill="#f9a3a7"/>
<rect x="155.3" y="365" width="21.95" height="1.05" fill="#f7878c"/>
<rect x="155.3" y="366" width="21.95" height="1.05" fill="#bfb6fd"/>
<rect x="155.3" y="367" width="21.95" height="1.05" fill="#d9d3fe"/>
<rect x="155.3" y="368" width="21.95" height="1.05" fill="#ccc4fe"/>
<rect x="155.3" y="369" width="21.95" height="1.05" fill="#f6747a"/>
<rect x="155.3" y="370" width="21.95" height="1.05" fill="#f4535a"/>
<rect x="155.3" y="371" width="21.95" height="1.05" fill="#f34f56"/>
<rect x="155.3" y="372" width="21.95" height="1.05" fill="#f78187"/>
<rect x="155.3" y="373" width="21.95" height="1.05" fill="#f23c45"/>
<rect x="155.3" y="374" width="21.95" height="1.05" fill="#f01b25"/>
<rect x="155.3" y="375" width="21.95" height="1.05" fill="#f01923"/>
<rect x="155.3" y="376" width="21.95" height="1.05" fill="#f3474f"/>
<rect x="155.3" y="377" width="21.95" height="1.05" fill="#f2323b"/>
<rect x="155.3" y="378" width="21.95" height="1.05" fill="#f12b34"/>
<rect x="155.3" y="379" width="21.95" height="1.05" fill="#f01923"/>
<rect x="155.3" y="380" width="21.95" height="1.05" fill="#f33f48"/>
<rect x="155.3" y="381" width="21.95" height="1.05" fill="#f2353e"/>
<rect x="155.3" y="382" width="21.95" height="1.05" fill="#fab1b5"/>
<rect x="155.3" y="383" width="21.95" height="1.05" fill="#f89095"/>
<rect x="155.3" y="384" width="21.95" height="1.05" fill="#f7868b"/>
<rect x="155.3" y="385" width="21.95" height="1.05" fill="#faabaf"/>
<rect x="155.3" y="386" width="21.95" height="1.05" fill="#f8979b"/>
<rect x="155.3" y="387" width="21.95" height="1.05" fill="#f78388"/>
<rect x="155.3" y="388" width="21.95" height="1.05" fill="#fccbcd"/>
<rect x="155.3" y="389" width="21.95" height="1.05" fill="#fddcdd"/>
<rect x="155.3" y="390" width="21.95" height="1.05" fill="#feeeee"/>
<rect x="155.3" y="391" width="21.95" height="1.05" fill="#fffefe"/>
<rect x="155.3" y="392" width="21.95" height="1.05" fill="#fab4b7"/>
<rect x="155.3" y="393" width="21.95" height="1.05" fill="#faafb3"/>
<rect x="155.3" y="394" width="21.95" height="1.05" fill="#f9a0a4"/>
<rect x="155.3" y="395" width="21.95" height="1.05" fill="#f9a4a8"/>
<rect x="155.3" y="396" width="21.95" height="1.05" fill="#f7848a"/>
<rect x="155.3" y="397" width="21.95" height="1.05" fill="#f99ea2"/>
<rect x="155.3" y="398" width="21.95" height="1.05" fill="#fab7ba"/>
<rect x="155.3" y="399" width="21.95" height="1.05" fill="#f7878c"/>
<rect x="155.3" y="400" width="21.95" height="1.05" fill="#f89296"/>
<rect x="155.3" y="401" width="21.95" height="1.05" fill="#f9a1a5"/>
<rect x="155.3" y="402" width="21.95" height="1.05" fill="#fab0b4"/>
<rect x="155.3" y="403" width="21.95" height="1.05" fill="#fbc5c8"/>
<rect x="155.3" y="404" width="21.95" height="1.05" fill="#fde4e5"/>
<rect x="155.3" y="405" width="21.95" height="1.05" fill="#fbc0c3"/>
<rect x="155.3" y="406" width="21.95" height="1.05" fill="#fde0e1"/>
<rect x="155.3" y="407" width="21.95" height="1.05" fill="#fee9ea"/>
<rect x="155.3" y="408" width="21.95" height="1.05" fill="#fccdd0"/>
<rect x="155.3" y="409" width="21.95" height="1.05" fill="#fccdcf"/>
<rect x="155.3" y="410" width="21.95" height="1.05" fill="#f78186"/>
<rect x="155.3" y="411" width="21.95" height="1.05" fill="#f78085"/>
<rect x="155.3" y="412" width="21.95" height="1.05" fill="#f67278"/>
<rect x="155.3" y="413" width="21.95" height="1.05" fill="#f99ba0"/>
<rect x="155.3" y="414" width="21.95" height="1.05" fill="#f67a80"/>
<rect x="155.3" y="415" width="21.95" height="1.05" fill="#f99ea2"/>
<rect x="155.3" y="416" width="21.95" height="1.05" fill="#f77f85"/>
<rect x="155.3" y="417" width="21.95" height="1.05" fill="#c4bcfe"/>
<rect x="155.3" y="418" width="21.95" height="1.05" fill="#c5bdfe"/>
<rect x="155.3" y="419" width="21.95" height="1.05" fill="#d1cbfe"/>
<rect x="155.3" y="420" width="21.95" height="1.05" fill="#c1b8fd"/>
<rect x="155.3" y="421" width="21.95" height="1.05" fill="#d4cdfe"/>
<rect x="155.3" y="422" width="21.95" height="1.05" fill="#d0c9fe"/>
<rect x="155.3" y="423" width="21.95" height="1.05" fill="#c4bbfe"/>
<rect x="155.3" y="424" width="21.95" height="1.05" fill="#fcd0d2"/>
<rect x="155.3" y="425" width="21.95" height="1.05" fill="#fcd3d5"/>
<rect x="155.3" y="426" width="21.95" height="1.05" fill="#fccfd1"/>
<rect x="155.3" y="427" width="21.95" height="1.05" fill="#fbc9cc"/>
<rect x="155.3" y="428" width="21.95" height="1.05" fill="#fbc6c8"/>
<rect x="155.3" y="429" width="21.95" height="1.05" fill="#f88f94"/>
<rect x="155.3" y="430" width="21.95" height="1.05" fill="#fbc5c8"/>
<rect x="155.3" y="431" width="21.95" height="1.05" fill="#fbc3c5"/>
<rect x="155.3" y="432" width="21.95" height="1.05" fill="#fde1e2"/>
<rect x="155.3" y="433" width="21.95" height="1.05" fill="#fddee0"/>
<rect x="155.3" y="434" width="21.95" height="1.05" fill="#fcd7d9"/>
<rect x="155.3" y="435" width="21.95" height="1.05" fill="#d9d4fe"/>
<rect x="155.3" y="436" width="21.95" height="1.05" fill="#bbb1fd"/>
<rect x="155.3" y="437" width="21.95" height="1.05" fill="#e6e3fe"/>
<rect x="155.3" y="438" width="21.95" height="1.05" fill="#c3bafe"/>
<rect x="155.3" y="439" width="21.95" height="1.05" fill="#fbbdc0"/>
<rect x="155.3" y="440" width="21.95" height="1.05" fill="#fffcfc"/>
<rect x="155.3" y="441" width="21.95" height="1.05" fill="#fcd1d3"/>
<rect x="155.3" y="442" width="21.95" height="1.05" fill="#fcccce"/>
<rect x="155.3" y="443" width="21.95" height="1.05" fill="#fccdd0"/>
<rect x="155.3" y="444" width="21.95" height="1.05" fill="#f78186"/>
<rect x="155.3" y="445" width="21.95" height="1.05" fill="#f7878c"/>
<rect x="155.3" y="446" width="21.95" height="1.05" fill="#f7898e"/>
<rect x="155.3" y="447" width="21.95" height="1.05" fill="#faafb2"/>
<rect x="155.3" y="448" width="21.95" height="1.05" fill="#f8999e"/>
<rect x="155.3" y="449" width="21.95" height="1.05" fill="#fab7ba"/>
<rect x="155.3" y="450" width="21.95" height="1.05" fill="#f78086"/>
<rect x="155.3" y="451" width="21.95" height="1.05" fill="#f7868c"/>
<rect x="155.3" y="452" width="21.95" height="1.05" fill="#f89094"/>
<rect x="155.3" y="453" width="21.95" height="1.05" fill="#fde0e1"/>
<rect x="155.3" y="454" width="21.95" height="1.05" fill="#fddcdd"/>
<rect x="155.3" y="455" width="21.95" height="1.05" fill="#faafb3"/>
<rect x="155.3" y="456" width="21.95" height="1.05" fill="#fab1b5"/>
<rect x="155.3" y="457" width="21.95" height="1.05" fill="#fcd2d4"/>
<rect x="155.3" y="458" width="21.95" height="1.05" fill="#fab9bc"/>
<rect x="177.2" y="165" width="21.95" height="1.05" fill="#a79bfd"/>
<rect x="177.2" y="166" width="21.95" height="1.05" fill="#a294fd"/>
<rect x="177.2" y="167" width="21.95" height="1.05" fill="#baaffd"/>
<rect x="177.2" y="168" width="21.95" height="1.05" fill="#b3a8fd"/>
<rect x="177.2" y="169" width="21.95" height="1.05" fill="#a496fd"/>
<rect x="177.2" y="170" width="21.95" height="1.05" fill="#b0a5fd"/>
<rect x="177.2" y="171" width="21.95" height="1.05" fill="#dfdafe"/>
<rect x="177.2" y="172" width="21.95" height="1.05" fill="#a295fd"/>
<rect x="177.2" y="173" width="21.95" height="1.05" fill="#aea2fd"/>
<rect x="177.2" y="174" width="21.95" height="1.05" fill="#f9a9ad"/>
<rect x="177.2" y="175" width="21.95" height="1.05" fill="#faafb3"/>
<rect x="177.2" y="176" width="21.95" height="1.05" fill="#f99da2"/>
<rect x="177.2" y="177" width="21.95" height="1.05" fill="#e9e6fe"/>
<rect x="177.2" y="178" width="21.95" height="1.05" fill="#b7adfd"/>
<rect x="177.2" y="179" width="21.95" height="1.05" fill="#cec7fe"/>
<rect x="177.2" y="180" width="21.95" height="1.05" fill="#c7bffe"/>
<rect x="177.2" y="181" width="21.95" height="1.05" fill="#d2cbfe"/>
<rect x="177.2" y="182" width="21.95" height="1.05" fill="#b3a7fd"/>
<rect x="177.2" y="183" width="21.95" height="1.05" fill="#afa3fd"/>
<rect x="177.2" y="184" width="21.95" height="1.05" fill="#a699fd"/>
<rect x="177.2" y="185" width="21.95" height="1.05" fill="#fcd3d5"/>
<rect x="177.2" y="186" width="21.95" height="1.05" fill="#fdd9db"/>
<rect x="177.2" y="187" width="21.95" height="1.05" fill="#fddbdd"/>
<rect x="177.2" y="188" width="21.95" height="1.05" fill="#f7f6ff"/>
<rect x="177.2" y="189" width="21.95" height="1.05" fill="#bbb1fd"/>
<rect x="177.2" y="190" width="21.95" height="1.05" fill="#b5aafd"/>
<rect x="177.2" y="191" width="21.95" height="1.05" fill="#aa9efd"/>
<rect x="177.2" y="192" width="21.95" height="1.05" fill="#b2a7fd"/>
<rect x="177.2" y="193" width="21.95" height="1.05" fill="#cdc6fe"/>
<rect x="177.2" y="194" width="21.95" height="1.05" fill="#cac3fe"/>
<rect x="177.2" y="195" width="21.95" height="1.05" fill="#f9a3a7"/>
<rect x="177.2" y="196" width="21.95" height="1.05" fill="#f89a9e"/>
<rect x="177.2" y="197" width="21.95" height="1.05" fill="#faaeb2"/>
<rect x="177.2" y="198" width="21.95" height="1.05" fill="#b8aefd"/>
<rect x="177.2" y="199" width="21.95" height="1.05" fill="#b8aefd"/>
<rect x="177.2" y="200" width="21.95" height="1.05" fill="#c0b7fd"/>
<rect x="177.2" y="201" width="21.95" height="1.05" fill="#b6abfd"/>
<rect x="177.2" y="202" width="21.95" height="1.05" fill="#b5aafd"/>
<rect x="177.2" y="203" width="21.95" height="1.05" fill="#b5aafd"/>
<rect x="177.2" y="204" width="21.95" height="1.05" fill="#fef4f4"/>
<rect x="177.2" y="205" width="21.95" height="1.05" fill="#fbbfc2"/>
<rect x="177.2" y="206" width="21.95" height="1.05" fill="#fddfe0"/>
<rect x="177.2" y="207" width="21.95" height="1.05" fill="#fde0e1"/>
<rect x="177.2" y="208" width="21.95" height="1.05" fill="#fbbec1"/>
<rect x="177.2" y="209" width="21.95" height="1.05" fill="#fcced0"/>
<rect x="177.2" y="210" width="21.95" height="1.05" fill="#a89bfd"/>
<rect x="177.2" y="211" width="21.95" height="1.05" fill="#cdc6fe"/>
<rect x="177.2" y="212" width="21.95" height="1.05" fill="#cfc8fe"/>
<rect x="177.2" y="213" width="21.95" height="1.05" fill="#e0dcfe"/>
<rect x="177.2" y="214" width="21.95" height="1.05" fill="#d7d1fe"/>
<rect x="177.2" y="215" width="21.95" height="1.05" fill="#cec7fe"/>
<rect x="177.2" y="216" width="21.95" height="1.05" fill="#aea2fd"/>
<rect x="177.2" y="217" width="21.95" height="1.05" fill="#614afb"/>
<rect x="177.2" y="218" width="21.95" height="1.05" fill="#7460fc"/>
<rect x="177.2" y="219" width="21.95" height="1.05" fill="#cac2fe"/>
<rect x="177.2" y="220" width="21.95" height="1.05" fill="#b1a5fd"/>
<rect x="177.2" y="221" width="21.95" height="1.05" fill="#bbb1fd"/>
<rect x="177.2" y="222" width="21.95" height="1.05" fill="#bbb1fd"/>
<rect x="177.2" y="223" width="21.95" height="1.05" fill="#c2bafe"/>
<rect x="177.2" y="224" width="21.95" height="1.05" fill="#fcd6d8"/>
<rect x="177.2" y="225" width="21.95" height="1.05" fill="#fde2e3"/>
<rect x="177.2" y="226" width="21.95" height="1.05" fill="#ada1fd"/>
<rect x="177.2" y="227" width="21.95" height="1.05" fill="#d6d0fe"/>
<rect x="177.2" y="228" width="21.95" height="1.05" fill="#dcd7fe"/>
<rect x="177.2" y="229" width="21.95" height="1.05" fill="#c0b7fd"/>
<rect x="177.2" y="230" width="21.95" height="1.05" fill="#d2ccfe"/>
<rect x="177.2" y="231" width="21.95" height="1.05" fill="#c9c1fe"/>
<rect x="177.2" y="232" width="21.95" height="1.05" fill="#ccc5fe"/>
<rect x="177.2" y="233" width="21.95" height="1.05" fill="#bfb6fd"/>
<rect x="177.2" y="234" width="21.95" height="1.05" fill="#ab9efd"/>
<rect x="177.2" y="235" width="21.95" height="1.05" fill="#c1b8fd"/>
<rect x="177.2" y="236" width="21.95" height="1.05" fill="#c8c0fe"/>
<rect x="177.2" y="237" width="21.95" height="1.05" fill="#4226fa"/>
<rect x="177.2" y="238" width="21.95" height="1.05" fill="#715cfc"/>
<rect x="177.2" y="239" width="21.95" height="1.05" fill="#735ffc"/>
<rect x="177.2" y="240" width="21.95" height="1.05" fill="#6f5afb"/>
<rect x="177.2" y="241" width="21.95" height="1.05" fill="#e2defe"/>
<rect x="177.2" y="242" width="21.95" height="1.05" fill="#cec6fe"/>
<rect x="177.2" y="243" width="21.95" height="1.05" fill="#bcb2fd"/>
<rect x="177.2" y="244" width="21.95" height="1.05" fill="#472cfb"/>
<rect x="177.2" y="245" width="21.95" height="1.05" fill="#4328fa"/>
<rect x="177.2" y="246" width="21.95" height="1.05" fill="#5339fb"/>
<rect x="177.2" y="247" width="21.95" height="1.05" fill="#5037fb"/>
<rect x="177.2" y="248" width="21.95" height="1.05" fill="#5c44fb"/>
<rect x="177.2" y="249" width="21.95" height="1.05" fill="#fbc8cb"/>
<rect x="177.2" y="250" width="21.95" height="1.05" fill="#f6787e"/>
<rect x="177.2" y="251" width="21.95" height="1.05" fill="#f6797f"/>
<rect x="177.2" y="252" width="21.95" height="1.05" fill="#f9a4a7"/>
<rect x="177.2" y="253" width="21.95" height="1.05" fill="#f8979b"/>
<rect x="177.2" y="254" width="21.95" height="1.05" fill="#f89a9f"/>
<rect x="177.2" y="255" width="21.95" height="1.05" fill="#f7878c"/>
<rect x="177.2" y="256" width="21.95" height="1.05" fill="#f89095"/>
<rect x="177.2" y="257" width="21.95" height="1.05" fill="#fdfdff"/>
<rect x="177.2" y="258" width="21.95" height="1.05" fill="#f1efff"/>
<rect x="177.2" y="259" width="21.95" height="1.05" fill="#fffcfc"/>
<rect x="177.2" y="260" width="21.95" height="1.05" fill="#fcd1d3"/>
<rect x="177.2" y="261" width="21.95" height="1.05" fill="#fccbcd"/>
<rect x="177.2" y="262" width="21.95" height="1.05" fill="#fde1e2"/>
<rect x="177.2" y="263" width="21.95" height="1.05" fill="#fcd0d2"/>
<rect x="177.2" y="264" width="21.95" height="1.05" fill="#d7d1fe"/>
<rect x="177.2" y="265" width="21.95" height="1.05" fill="#e0dbfe"/>
<rect x="177.2" y="266" width="21.95" height="1.05" fill="#c5bcfe"/>
<rect x="177.2" y="267" width="21.95" height="1.05" fill="#fbc9cc"/>
<rect x="177.2" y="268" width="21.95" height="1.05" fill="#fbbfc2"/>
<rect x="177.2" y="269" width="21.95" height="1.05" fill="#fbc6c8"/>
<rect x="177.2" y="270" width="21.95" height="1.05" fill="#fcd8d9"/>
<rect x="177.2" y="271" width="21.95" height="1.05" fill="#fddadc"/>
<rect x="177.2" y="272" width="21.95" height="1.05" fill="#fcd5d7"/>
<rect x="177.2" y="273" width="21.95" height="1.05" fill="#f8969a"/>
<rect x="177.2" y="274" width="21.95" height="1.05" fill="#f7868c"/>
<rect x="177.2" y="275" width="21.95" height="1.05" fill="#f9a6aa"/>
<rect x="177.2" y="276" width="21.95" height="1.05" fill="#faafb2"/>
<rect x="177.2" y="277" width="21.95" height="1.05" fill="#f99ca0"/>
<rect x="177.2" y="278" width="21.95" height="1.05" fill="#f99fa3"/>
<rect x="177.2" y="279" width="21.95" height="1.05" fill="#fab4b7"/>
<rect x="177.2" y="280" width="21.95" height="1.05" fill="#fab1b4"/>
<rect x="177.2" y="281" width="21.95" height="1.05" fill="#f9a5a9"/>
<rect x="177.2" y="282" width="21.95" height="1.05" fill="#f8979b"/>
<rect x="177.2" y="283" width="21.95" height="1.05" fill="#fab9bc"/>
<rect x="177.2" y="284" width="21.95" height="1.05" fill="#bbb1fd"/>
<rect x="177.2" y="285" width="21.95" height="1.05" fill="#d4cefe"/>
<rect x="177.2" y="286" width="21.95" height="1.05" fill="#fde8e9"/>
<rect x="177.2" y="287" width="21.95" height="1.05" fill="#fccfd1"/>
<rect x="177.2" y="288" width="21.95" height="1.05" fill="#fccbcd"/>
<rect x="177.2" y="289" width="21.95" height="1.05" fill="#fcd3d5"/>
<rect x="177.2" y="290" width="21.95" height="1.05" fill="#fde4e5"/>
<rect x="177.2" y="291" width="21.95" height="1.05" fill="#fcd2d4"/>
<rect x="177.2" y="292" width="21.95" height="1.05" fill="#fcd7d9"/>
<rect x="177.2" y="293" width="21.95" height="1.05" fill="#fccbcd"/>
<rect x="177.2" y="294" width="21.95" height="1.05" fill="#fbbec1"/>
<rect x="177.2" y="295" width="21.95" height="1.05" fill="#f89a9f"/>
<rect x="177.2" y="296" width="21.95" height="1.05" fill="#fccdcf"/>
<rect x="177.2" y="297" width="21.95" height="1.05" fill="#fab2b5"/>
<rect x="177.2" y="298" width="21.95" height="1.05" fill="#faaeb2"/>
<rect x="177.2" y="299" width="21.95" height="1.05" fill="#f01923"/>
<rect x="177.2" y="300" width="21.95" height="1.05" fill="#f13039"/>
<rect x="177.2" y="301" width="21.95" height="1.05" fill="#f01a24"/>
<rect x="177.2" y="302" width="21.95" height="1.05" fill="#f12f38"/>
<rect x="177.2" y="303" width="21.95" height="1.05" fill="#f01923"/>
<rect x="177.2" y="304" width="21.95" height="1.05" fill="#f01923"/>
<rect x="177.2" y="305" width="21.95" height="1.05" fill="#f89398"/>
<rect x="177.2" y="306" width="21.95" height="1.05" fill="#f78489"/>
<rect x="177.2" y="307" width="21.95" height="1.05" fill="#f99da1"/>
<rect x="177.2" y="308" width="21.95" height="1.05" fill="#f67a80"/>
<rect x="177.2" y="309" width="21.95" height="1.05" fill="#f6767c"/>
<rect x="177.2" y="310" width="21.95" height="1.05" fill="#f78b90"/>
<rect x="177.2" y="311" width="21.95" height="1.05" fill="#f9a1a5"/>
<rect x="177.2" y="312" width="21.95" height="1.05" fill="#f7858a"/>
<rect x="177.2" y="313" width="21.95" height="1.05" fill="#dfdafe"/>
<rect x="177.2" y="314" width="21.95" height="1.05" fill="#ded9fe"/>
<rect x="177.2" y="315" width="21.95" height="1.05" fill="#d9d4fe"/>
<rect x="177.2" y="316" width="21.95" height="1.05" fill="#fddcdd"/>
<rect x="177.2" y="317" width="21.95" height="1.05" fill="#fbc7c9"/>
<rect x="177.2" y="318" width="21.95" height="1.05" fill="#f9a0a4"/>
<rect x="177.2" y="319" width="21.95" height="1.05" fill="#fcd1d3"/>
<rect x="177.2" y="320" width="21.95" height="1.05" fill="#f9a5a9"/>
<rect x="177.2" y="321" width="21.95" height="1.05" fill="#f8979c"/>
<rect x="177.2" y="322" width="21.95" height="1.05" fill="#faacb0"/>
<rect x="177.2" y="323" width="21.95" height="1.05" fill="#f9a5a9"/>
<rect x="177.2" y="324" width="21.95" height="1.05" fill="#fbc0c3"/>
<rect x="177.2" y="325" width="21.95" height="1.05" fill="#fcd1d3"/>
<rect x="177.2" y="326" width="21.95" height="1.05" fill="#fbbcbf"/>
<rect x="177.2" y="327" width="21.95" height="1.05" fill="#beb5fd"/>
<rect x="177.2" y="328" width="21.95" height="1.05" fill="#c1b8fd"/>
<rect x="177.2" y="329" width="21.95" height="1.05" fill="#cdc6fe"/>
<rect x="177.2" y="330" width="21.95" height="1.05" fill="#bfb6fd"/>
<rect x="177.2" y="331" width="21.95" height="1.05" fill="#c5bcfe"/>
<rect x="177.2" y="332" width="21.95" height="1.05" fill="#f1efff"/>
<rect x="177.2" y="333" width="21.95" height="1.05" fill="#eae7fe"/>
<rect x="177.2" y="334" width="21.95" height="1.05" fill="#fef4f5"/>
<rect x="177.2" y="335" width="21.95" height="1.05" fill="#f2f0ff"/>
<rect x="177.2" y="336" width="21.95" height="1.05" fill="#ece9ff"/>
<rect x="177.2" y="337" width="21.95" height="1.05" fill="#e7e4fe"/>
<rect x="177.2" y="338" width="21.95" height="1.05" fill="#e0dcfe"/>
<rect x="177.2" y="339" width="21.95" height="1.05" fill="#fffdfd"/>
<rect x="177.2" y="340" width="21.95" height="1.05" fill="#fddadb"/>
<rect x="177.2" y="341" width="21.95" height="1.05" fill="#fef0f1"/>
<rect x="177.2" y="342" width="21.95" height="1.05" fill="#fde7e8"/>
<rect x="177.2" y="343" width="21.95" height="1.05" fill="#fddfe0"/>
<rect x="177.2" y="344" width="21.95" height="1.05" fill="#fde5e6"/>
<rect x="177.2" y="345" width="21.95" height="1.05" fill="#fbc9cb"/>
<rect x="177.2" y="346" width="21.95" height="1.05" fill="#fef2f2"/>
<rect x="177.2" y="347" width="21.95" height="1.05" fill="#fcd3d5"/>
<rect x="177.2" y="348" width="21.95" height="1.05" fill="#f5676d"/>
<rect x="177.2" y="349" width="21.95" height="1.05" fill="#f77f85"/>
<rect x="177.2" y="350" width="21.95" height="1.05" fill="#f5696f"/>
<rect x="177.2" y="351" width="21.95" height="1.05" fill="#f56b72"/>
<rect x="177.2" y="352" width="21.95" height="1.05" fill="#f56067"/>
<rect x="177.2" y="353" width="21.95" height="1.05" fill="#fffcfc"/>
<rect x="177.2" y="354" width="21.95" height="1.05" fill="#feeeef"/>
<rect x="177.2" y="355" width="21.95" height="1.05" fill="#eeebff"/>
<rect x="177.2" y="356" width="21.95" height="1.05" fill="#f7f6ff"/>
<rect x="177.2" y="357" width="21.95" height="1.05" fill="#f45057"/>
<rect x="177.2" y="358" width="21.95" height="1.05" fill="#f34b53"/>
<rect x="177.2" y="359" width="21.95" height="1.05" fill="#f55e65"/>
<rect x="177.2" y="360" width="21.95" height="1.05" fill="#b8adfd"/>
<rect x="177.2" y="361" width="21.95" height="1.05" fill="#d3cdfe"/>
<rect x="177.2" y="362" width="21.95" height="1.05" fill="#9f91fd"/>
<rect x="177.2" y="363" width="21.95" height="1.05" fill="#b4a9fd"/>
<rect x="177.2" y="364" width="21.95" height="1.05" fill="#fbc5c7"/>
<rect x="177.2" y="365" width="21.95" height="1.05" fill="#fbc5c8"/>
<rect x="177.2" y="366" width="21.95" height="1.05" fill="#fde4e5"/>
<rect x="177.2" y="367" width="21.95" height="1.05" fill="#fef4f4"/>
<rect x="177.2" y="368" width="21.95" height="1.05" fill="#fab6b9"/>
<rect x="177.2" y="369" width="21.95" height="1.05" fill="#c4bbfe"/>
<rect x="177.2" y="370" width="21.95" height="1.05" fill="#b3a8fd"/>
<rect x="177.2" y="371" width="21.95" height="1.05" fill="#c2bafe"/>
<rect x="177.2" y="372" width="21.95" height="1.05" fill="#d0c9fe"/>
<rect x="177.2" y="373" width="21.95" height="1.05" fill="#9788fc"/>
<rect x="177.2" y="374" width="21.95" height="1.05" fill="#ab9efd"/>
<rect x="177.2" y="375" width="21.95" height="1.05" fill="#a597fd"/>
<rect x="177.2" y="376" width="21.95" height="1.05" fill="#7662fc"/>
<rect x="177.2" y="377" width="21.95" height="1.05" fill="#d8d3fe"/>
<rect x="177.2" y="378" width="21.95" height="1.05" fill="#afa3fd"/>
<rect x="177.2" y="379" width="21.95" height="1.05" fill="#dedafe"/>
<rect x="177.2" y="380" width="21.95" height="1.05" fill="#d2ccfe"/>
<rect x="177.2" y="381" width="21.95" height="1.05" fill="#f1efff"/>
<rect x="177.2" y="382" width="21.95" height="1.05" fill="#fcd1d3"/>
<rect x="177.2" y="383" width="21.95" height="1.05" fill="#fbc5c8"/>
<rect x="177.2" y="384" width="21.95" height="1.05" fill="#fab2b6"/>
<rect x="177.2" y="385" width="21.95" height="1.05" fill="#fcd1d3"/>
<rect x="177.2" y="386" width="21.95" height="1.05" fill="#fee9ea"/>
<rect x="177.2" y="387" width="21.95" height="1.05" fill="#fde3e5"/>
<rect x="177.2" y="388" width="21.95" height="1.05" fill="#fddedf"/>
<rect x="177.2" y="389" width="21.95" height="1.05" fill="#f9a0a4"/>
<rect x="177.2" y="390" width="21.95" height="1.05" fill="#f78388"/>
<rect x="177.2" y="391" width="21.95" height="1.05" fill="#d5cefe"/>
<rect x="177.2" y="392" width="21.95" height="1.05" fill="#cdc6fe"/>
<rect x="177.2" y="393" width="21.95" height="1.05" fill="#e8e4fe"/>
<rect x="177.2" y="394" width="21.95" height="1.05" fill="#c6befe"/>
<rect x="177.2" y="395" width="21.95" height="1.05" fill="#fddbdd"/>
<rect x="177.2" y="396" width="21.95" height="1.05" fill="#fffefe"/>
<rect x="177.2" y="397" width="21.95" height="1.05" fill="#fde6e7"/>
<rect x="177.2" y="398" width="21.95" height="1.05" fill="#eae6fe"/>
<rect x="177.2" y="399" width="21.95" height="1.05" fill="#8776fc"/>
<rect x="177.2" y="400" width="21.95" height="1.05" fill="#816ffc"/>
<rect x="177.2" y="401" width="21.95" height="1.05" fill="#7c69fc"/>
<rect x="177.2" y="402" width="21.95" height="1.05" fill="#b7adfd"/>
<rect x="177.2" y="403" width="21.95" height="1.05" fill="#bcb2fd"/>
<rect x="177.2" y="404" width="21.95" height="1.05" fill="#b6abfd"/>
<rect x="177.2" y="405" width="21.95" height="1.05" fill="#9e8ffd"/>
<rect x="177.2" y="406" width="21.95" height="1.05" fill="#b8adfd"/>
<rect x="177.2" y="407" width="21.95" height="1.05" fill="#b8aefd"/>
<rect x="177.2" y="408" width="21.95" height="1.05" fill="#b9affd"/>
<rect x="177.2" y="409" width="21.95" height="1.05" fill="#eeebff"/>
<rect x="177.2" y="410" width="21.95" height="1.05" fill="#fdfcff"/>
<rect x="177.2" y="411" width="21.95" height="1.05" fill="#fef1f1"/>
<rect x="177.2" y="412" width="21.95" height="1.05" fill="#fbfaff"/>
<rect x="177.2" y="413" width="21.95" height="1.05" fill="#b9affd"/>
<rect x="177.2" y="414" width="21.95" height="1.05" fill="#d8d2fe"/>
<rect x="177.2" y="415" width="21.95" height="1.05" fill="#d2cbfe"/>
<rect x="177.2" y="416" width="21.95" height="1.05" fill="#d1cafe"/>
<rect x="177.2" y="417" width="21.95" height="1.05" fill="#d4cefe"/>
<rect x="177.2" y="418" width="21.95" height="1.05" fill="#bcb2fd"/>
<rect x="177.2" y="419" width="21.95" height="1.05" fill="#bfb6fd"/>
<rect x="177.2" y="420" width="21.95" height="1.05" fill="#d4cdfe"/>
<rect x="177.2" y="421" width="21.95" height="1.05" fill="#b8aefd"/>
<rect x="177.2" y="422" width="21.95" height="1.05" fill="#c0b6fd"/>
<rect x="177.2" y="423" width="21.95" height="1.05" fill="#c8c0fe"/>
<rect x="177.2" y="424" width="21.95" height="1.05" fill="#c8c0fe"/>
<rect x="177.2" y="425" width="21.95" height="1.05" fill="#bdb3fd"/>
<rect x="177.2" y="426" width="21.95" height="1.05" fill="#d2cbfe"/>
<rect x="177.2" y="427" width="21.95" height="1.05" fill="#fbbdc0"/>
<rect x="177.2" y="428" width="21.95" height="1.05" fill="#cdc6fe"/>
<rect x="177.2" y="429" width="21.95" height="1.05" fill="#d3cdfe"/>
<rect x="177.2" y="430" width="21.95" height="1.05" fill="#fcd0d2"/>
<rect x="177.2" y="431" width="21.95" height="1.05" fill="#fccfd1"/>
<rect x="177.2" y="432" width="21.95" height="1.05" fill="#fef2f2"/>
<rect x="177.2" y="433" width="21.95" height="1.05" fill="#aca0fd"/>
<rect x="177.2" y="434" width="21.95" height="1.05" fill="#b7adfd"/>
<rect x="177.2" y="435" width="21.95" height="1.05" fill="#c9c1fe"/>
<rect x="177.2" y="436" width="21.95" height="1.05" fill="#dad5fe"/>
<rect x="177.2" y="437" width="21.95" height="1.05" fill="#ada2fd"/>
<rect x="177.2" y="438" width="21.95" height="1.05" fill="#fcd7d9"/>
<rect x="177.2" y="439" width="21.95" height="1.05" fill="#feeced"/>
<rect x="177.2" y="440" width="21.95" height="1.05" fill="#feeaeb"/>
<rect x="177.2" y="441" width="21.95" height="1.05" fill="#fde2e3"/>
<rect x="177.2" y="442" width="21.95" height="1.05" fill="#b8aefd"/>
<rect x="177.2" y="443" width="21.95" height="1.05" fill="#b0a5fd"/>
<rect x="177.2" y="444" width="21.95" height="1.05" fill="#c0b7fd"/>
<rect x="177.2" y="445" width="21.95" height="1.05" fill="#fde3e4"/>
<rect x="177.2" y="446" width="21.95" height="1.05" fill="#fbc1c3"/>
<rect x="177.2" y="447" width="21.95" height="1.05" fill="#fbc0c3"/>
<rect x="177.2" y="448" width="21.95" height="1.05" fill="#fcd0d2"/>
<rect x="177.2" y="449" width="21.95" height="1.05" fill="#b5aafd"/>
<rect x="177.2" y="450" width="21.95" height="1.05" fill="#a496fd"/>
<rect x="177.2" y="451" width="21.95" height="1.05" fill="#9b8dfd"/>
<rect x="177.2" y="452" width="21.95" height="1.05" fill="#a699fd"/>
<rect x="177.2" y="453" width="21.95" height="1.05" fill="#a295fd"/>
<rect x="177.2" y="454" width="21.95" height="1.05" fill="#dcd7fe"/>
<rect x="177.2" y="455" width="21.95" height="1.05" fill="#a598fd"/>
<rect x="177.2" y="456" width="21.95" height="1.05" fill="#fbbec1"/>
<rect x="177.2" y="457" width="21.95" height="1.05" fill="#fdd9da"/>
<rect x="177.2" y="458" width="21.95" height="1.05" fill="#fcd7d9"/>
<defs><linearGradient id="cb" x1="0" y1="0" x2="0" y2="1"><stop offset="0" stop-color="#ff0000"/><stop offset="0.5" stop-color="#ffffff"/><stop offset="1" stop-color="#0000ff"/></linearGradient></defs>
<rect x="202.3" y="165.1" width="6.3" height="96.7" fill="url(#cb)"/>
<text x="211.4" y="172.8" font-family='"Liberation Serif", serif' font-size="6.3" fill="#222">2</text>
<text x="211.4" y="194.6" font-family='"Liberation Serif", serif' font-size="6.3" fill="#222">1</text>
<text x="211.4" y="215.8" font-family='"Liberation Serif", serif' font-size="6.3" fill="#222">0</text>
<text x="211.4" y="237.4" font-family='"Liberation Serif", serif' font-size="6.3" fill="#222">−1</text>
<text x="211.4" y="258.9" font-family='"Liberation Serif", serif' font-size="6.3" fill="#222">−2</text>
<text x="56.75" y="470.6" text-anchor="middle" font-family='"Liberation Serif", serif' font-size="6.6" fill="#222">PL</text>
<text x="78.65" y="470.6" text-anchor="middle" font-family='"Liberation Serif", serif' font-size="6.6" fill="#222">RS</text>
<text x="100.55" y="470.6" text-anchor="middle" font-family='"Liberation Serif", serif' font-size="6.6" fill="#222">LX</text>
<text x="122.45" y="470.6" text-anchor="middle" font-family='"Liberation Serif", serif' font-size="6.6" fill="#222">DZ</text>
<text x="144.35" y="470.6" text-anchor="middle" font-family='"Liberation Serif", serif' font-size="6.6" fill="#222">RZ</text>
<text x="166.25" y="470.6" text-anchor="middle" font-family='"Liberation Serif", serif' font-size="6.6" fill="#222">TA</text>
<text x="188.15" y="470.6" text-anchor="middle" font-family='"Liberation Serif", serif' font-size="6.6" fill="#222">ZZ</text>
<rect x="31.5" y="165" width="14.4" height="294" fill="#000"/>
<path d="M31.5 165.37H26.68V165.59H31.5M26.68 165.48H26.38V165.86H31.5M31.5 166.15H24.9V166.42H31.5M26.38 165.67H24.6V166.29H24.9M31.5 166.69H25.26V167.01H31.5M25.26 166.85H24.96V167.27H31.5M24.96 167.06H24.66V167.53H31.5M24.6 165.98H23.3V167.3H24.66M31.5 167.77H27.93V167.99H31.5M31.5 168.23H24.22V168.43H31.5M31.5 168.65H25.15V168.86H31.5M24.22 168.33H23.92V168.75H25.15M27.93 167.88H23.62V168.54H23.92M31.5 169.14H24.23V169.37H31.5M24.23 169.26H23.93V169.51H31.5M31.5 170.08H26.75V170.37H31.5M31.5 169.78H26.45V170.23H26.75M23.93 169.38H23.14V170H26.45M31.5 170.67H23.69V170.93H31.5M23.69 170.8H23.39V171.2H31.5M31.5 171.98H25.92V172.21H31.5M31.5 171.69H23.59V172.09H25.92M31.5 171.45H23.29V171.89H23.59M23.39 171H22.99V171.67H23.29M23.14 169.69H21.64V171.33H22.99M23.62 168.21H19.45V170.51H21.64M23.3 166.64H19.15V169.36H19.45M31.5 172.44H27.53V172.7H31.5M27.53 172.57H26.95V172.89H31.5M31.5 173.65H27.26V173.9H31.5M31.5 173.39H25.52V173.78H27.26M31.5 173.14H25.22V173.58H25.52M26.95 172.73H24.92V173.36H25.22M31.5 174.06H26.15V174.29H31.5M26.15 174.18H25.85V174.62H31.5M31.5 174.96H26.68V175.2H31.5M26.68 175.08H24.03V175.38H31.5M31.5 176H24.17V176.35H31.5M31.5 175.66H23.87V176.17H24.17M24.03 175.23H23.57V175.92H23.87M25.85 174.4H20.09V175.57H23.57M31.5 176.65H24.54V176.93H31.5M31.5 177.19H27.74V177.4H31.5M31.5 177.82H26.96V178.03H31.5M31.5 177.62H25.32V177.92H26.96M27.74 177.3H25.02V177.77H25.32M24.54 176.79H24.24V177.53H25.02M20.09 174.99H18.42V177.16H24.24M24.92 173.05H18.12V176.07H18.42M19.15 168H17.82V174.56H18.12M31.5 178.21H27.2V178.43H31.5M27.2 178.32H24.69V178.69H31.5M24.69 178.51H23.77V178.95H31.5M31.5 179.26H25.31V179.51H31.5M25.31 179.39H25.01V179.69H31.5M31.5 180.5H24.85V180.74H31.5M24.85 180.62H24.55V180.98H31.5M31.5 180.29H24.25V180.8H24.55M31.5 179.98H23.95V180.55H24.25M25.01 179.54H23.65V180.26H23.95M23.77 178.73H23.35V179.9H23.65M31.5 181.6H24.18V181.91H31.5M31.5 181.25H23.88V181.75H24.18M31.5 182.36H26.84V182.58H31.5M31.5 182.18H26.03V182.47H26.84M26.03 182.32H25.73V182.89H31.5M31.5 183.14H25.46V183.39H31.5M31.5 184H24V184.34H31.5M31.5 183.7H23.58V184.17H24M25.46 183.27H23.28V183.93H23.58M25.73 182.6H22.13V183.6H23.28M23.88 181.5H21.82V183.1H22.13M31.5 184.8H23.91V185.06H31.5M31.5 184.63H23.61V184.93H23.91M31.5 185.65H24.73V185.88H31.5M24.73 185.76H24.43V186.17H31.5M31.5 185.39H23.17V185.97H24.43M31.5 186.41H25.58V186.61H31.5M23.17 185.68H22.87V186.51H25.58M23.61 184.78H21.18V186.1H22.87M21.82 182.3H19.05V185.44H21.18M23.35 179.31H17.98V183.87H19.05M31.5 186.92H24.09V187.15H31.5M24.09 187.03H23.79V187.38H31.5M31.5 187.66H25.22V187.89H31.5M25.22 187.77H24.92V188.1H31.5M24.92 187.94H24.62V188.4H31.5M23.79 187.2H23.49V188.17H24.62M31.5 188.96H23.53V189.23H31.5M31.5 188.69H23.23V189.09H23.53M23.49 187.69H21.75V188.89H23.23M31.5 189.53H25.42V189.85H31.5M31.5 190.48H27.69V190.69H31.5M31.5 190.15H24.64V190.58H27.69M25.42 189.69H24.34V190.37H24.64M21.75 188.29H21.26V190.03H24.34M17.98 181.59H17.68V189.16H21.26M17.82 171.28H17.38V185.38H17.68M31.5 191.59H27.15V191.86H31.5M31.5 191.25H26.85V191.72H27.15M31.5 190.91H23.27V191.49H26.85M31.5 192.16H26.58V192.44H31.5M31.5 192.7H27.16V193.01H31.5M26.58 192.3H25.74V192.85H27.16M31.5 193.33H24.05V193.61H31.5M24.05 193.47H23.75V193.83H31.5M25.74 192.58H23.45V193.65H23.75M23.27 191.2H22.97V193.11H23.45M31.5 194.08H24.25V194.29H31.5M31.5 194.58H23.73V194.88H31.5M23.73 194.73H23.43V195.15H31.5M24.25 194.19H23.13V194.94H23.43M22.97 192.16H22.06V194.56H23.13M31.5 195.41H25.21V195.66H31.5M31.5 195.88H24.24V196.11H31.5M31.5 196.41H26V196.63H31.5M24.24 195.99H23.94V196.52H26M25.21 195.53H23.64V196.26H23.94M31.5 196.82H25.46V197.02H31.5M31.5 197.25H27.98V197.47H31.5M31.5 197.87H27.96V198.09H31.5M31.5 197.65H24.28V197.98H27.96M27.98 197.36H23.98V197.82H24.28M25.46 196.92H23.68V197.59H23.98M31.5 198.54H26.03V198.79H31.5M31.5 198.3H25.19V198.66H26.03M23.68 197.25H22.73V198.48H25.19M23.64 195.89H20.06V197.87H22.73M22.06 193.36H15.83V196.88H20.06M31.5 199.42H24.81V199.62H31.5M31.5 199.25H24.51V199.52H24.81M31.5 199.04H24.21V199.39H24.51M31.5 200.24H25.69V200.5H31.5M31.5 199.91H25.26V200.37H25.69M24.21 199.21H22.96V200.14H25.26M31.5 200.95H24.77V201.17H31.5M31.5 200.69H24.47V201.06H24.77M24.47 200.87H24.17V201.37H31.5M31.5 201.65H23.91V201.9H31.5M24.17 201.12H23.61V201.77H23.91M31.5 202.16H25.95V202.36H31.5M25.95 202.26H25.09V202.54H31.5M25.09 202.4H24.79V202.79H31.5M31.5 203.1H25.14V203.35H31.5M25.14 203.23H24.79V203.59H31.5M24.79 202.6H24.49V203.41H24.79M23.61 201.45H19.88V203H24.49M22.96 199.68H17.63V202.22H19.88M31.5 204.26H24.16V204.5H31.5M31.5 203.92H23.86V204.38H24.16M31.5 204.64H26.06V204.87H31.5M23.86 204.15H23.56V204.76H26.06M31.5 205.22H27.94V205.59H31.5M31.5 205.93H27.78V206.14H31.5M27.94 205.4H23.88V206.03H27.78M23.56 204.45H23.26V205.72H23.88M31.5 206.75H27.43V207H31.5M31.5 206.4H27.13V206.87H27.43M23.26 205.09H22.42V206.64H27.13M17.63 200.95H17.33V205.86H22.42M15.83 195.12H14.51V203.41H17.33M31.5 207.18H25.66V207.43H31.5M31.5 207.73H25.15V207.97H31.5M31.5 208.24H24.22V208.6H31.5M25.15 207.85H23.92V208.42H24.22M25.66 207.3H23.62V208.14H23.92M31.5 208.92H24.21V209.24H31.5M23.62 207.72H21V209.08H24.21M31.5 209.53H25.45V209.74H31.5M25.45 209.63H25.15V209.91H31.5M25.15 209.77H24.85V210.12H31.5M31.5 210.32H23.64V210.53H31.5M23.64 210.42H23.34V210.86H31.5M31.5 211.51H25.5V211.72H31.5M31.5 211.2H25.2V211.61H25.5M23.34 210.64H23.04V211.4H25.2M24.85 209.95H22.74V211.02H23.04M21 208.4H20.7V210.48H22.74M31.5 211.87H25.91V212.08H31.5M25.91 211.98H25.61V212.3H31.5M25.61 212.14H25.31V212.5H31.5M31.5 212.72H26.62V212.95H31.5M26.62 212.83H26.32V213.16H31.5M26.32 213H25.25V213.42H31.5M25.31 212.32H21.79V213.21H25.25M20.7 209.44H20.4V212.76H21.79M31.5 213.93H24.93V214.18H31.5M31.5 213.72H24.63V214.06H24.93M31.5 214.41H24.73V214.66H31.5M24.73 214.53H24.43V215.03H31.5M31.5 215.34H27.17V215.64H31.5M31.5 215.98H26.08V216.28H31.5M27.17 215.49H25.78V216.13H26.08M24.43 214.78H24.13V215.81H25.78M24.63 213.89H22.8V215.3H24.13M31.5 216.52H25.19V216.78H31.5M31.5 217.11H24.18V217.41H31.5M31.5 217.69H24.16V217.92H31.5M24.18 217.26H23.86V217.8H24.16M25.19 216.65H23.25V217.53H23.86M22.8 214.59H19.32V217.09H23.25M20.4 211.1H15.27V215.84H19.32M14.51 199.26H14.21V213.47H15.27M17.38 178.33H13.91V206.37H14.21M31.5 218.52H26.89V218.81H31.5M31.5 218.18H26.59V218.67H26.89M31.5 219.11H27.5V219.4H31.5M31.5 219.67H24.94V220.01H31.5M27.5 219.26H24.64V219.84H24.94M31.5 220.55H23.91V220.76H31.5M31.5 220.32H23.61V220.66H23.91M24.64 219.55H23.31V220.49H23.61M26.59 218.43H22.97V220.02H23.31M31.5 221.05H24.94V221.44H31.5M31.5 221.71H27.75V221.95H31.5M24.94 221.24H24.64V221.83H27.75M22.97 219.22H22.67V221.54H24.64M31.5 222.28H25.47V222.64H31.5M31.5 223.1H27.14V223.32H31.5M31.5 222.92H24.23V223.21H27.14M25.47 222.46H22.44V223.07H24.23M22.67 220.38H17.63V222.76H22.44M31.5 223.61H24.58V223.9H31.5M24.58 223.75H24.28V224.16H31.5M31.5 224.39H25.32V224.65H31.5M31.5 224.85H24.87V225.1H31.5M25.32 224.52H24.2V224.97H24.87M31.5 225.82H24.69V226.17H31.5M31.5 225.46H24.39V225.99H24.69M24.2 224.75H23.9V225.73H24.39M24.28 223.96H23.6V225.24H23.9M31.5 226.48H24.14V226.68H31.5M24.14 226.58H23.84V226.87H31.5M23.84 226.72H23.54V227.11H31.5M31.5 227.42H26.89V227.68H31.5M26.89 227.55H23.91V227.86H31.5M31.5 228.09H24.35V228.31H31.5M24.35 228.2H24.05V228.52H31.5M23.91 227.71H22.82V228.36H24.05M31.5 228.81H24.57V229.05H31.5M24.57 228.93H24.27V229.29H31.5M24.27 229.11H23.97V229.63H31.5M22.82 228.03H22.52V229.37H23.97M23.54 226.92H22.22V228.7H22.52M31.5 229.9H25.15V230.11H31.5M31.5 230.63H25.03V230.85H31.5M31.5 230.35H24.73V230.74H25.03M31.5 231.07H25.47V231.33H31.5M24.73 230.55H24.43V231.2H25.47M25.15 230H24.13V230.87H24.43M31.5 231.58H23.59V231.81H31.5M23.59 231.7H23.29V232.04H31.5M31.5 232.34H24.69V232.62H31.5M23.29 231.87H22.99V232.48H24.69M31.5 232.84H27.84V233.06H31.5M22.99 232.18H22.69V232.95H27.84M24.13 230.44H22.39V232.56H22.69M22.22 227.81H21.92V231.5H22.39M23.6 224.6H21.62V229.66H21.92M17.63 221.57H14.08V227.13H21.62M31.5 233.32H24.37V233.55H31.5M24.37 233.44H24.07V233.74H31.5M31.5 233.97H24.6V234.25H31.5M24.07 233.59H23.77V234.11H24.6M31.5 234.53H27.34V234.75H31.5M23.77 233.85H23.47V234.64H27.34M31.5 234.94H25.28V235.21H31.5M31.5 235.77H25.66V236.05H31.5M25.66 235.91H25.34V236.3H31.5M31.5 235.49H25.04V236.11H25.34M25.28 235.08H24.74V235.8H25.04M23.47 234.24H21.53V235.44H24.74M31.5 236.6H26.72V236.9H31.5M31.5 237.58H27.36V237.8H31.5M31.5 237.39H24.62V237.69H27.36M31.5 237.14H24.32V237.54H24.62M26.72 236.75H22.48V237.34H24.32M31.5 238.36H27.74V238.59H31.5M27.74 238.48H23.93V238.74H31.5M31.5 238.08H23.63V238.61H23.93M31.5 238.94H23.62V239.2H31.5M23.63 238.34H23.32V239.07H23.62M22.48 237.04H22.18V238.71H23.32M21.53 234.84H17.08V237.88H22.18M14.08 224.35H13.78V236.36H17.08M13.91 192.35H13.48V230.35H13.78M31.5 239.4H25.66V239.66H31.5M31.5 240.29H25.02V240.62H31.5M31.5 239.99H24.72V240.46H25.02M25.66 239.53H24.42V240.22H24.72M31.5 241.34H25.65V241.57H31.5M31.5 240.99H23.51V241.45H25.65M31.5 241.82H26.98V242.08H31.5M26.98 241.95H26.68V242.28H31.5M23.51 241.22H22.41V242.12H26.68M24.42 239.88H20.81V241.67H22.41M31.5 242.49H24.94V242.78H31.5M31.5 243.07H25.18V243.27H31.5M25.18 243.17H24.63V243.54H31.5M24.94 242.64H24.33V243.35H24.63M31.5 244.28H24.05V244.52H31.5M24.05 244.4H23.75V244.67H31.5M31.5 243.91H23.45V244.54H23.75M24.33 243H23.15V244.23H23.45M20.81 240.77H20.51V243.61H23.15M31.5 245.45H25.55V245.72H31.5M31.5 245.18H25.19V245.59H25.55M31.5 244.91H24.89V245.38H25.19M31.5 245.92H26.5V246.16H31.5M31.5 246.48H24.24V246.73H31.5M26.5 246.04H23.94V246.6H24.24M24.89 245.15H23.64V246.32H23.94M31.5 247.39H26.89V247.75H31.5M31.5 247.03H24.02V247.57H26.89M31.5 248.08H25.08V248.41H31.5M24.02 247.3H21.5V248.25H25.08M31.5 248.74H24.66V249.02H31.5M31.5 249.29H26.38V249.58H31.5M26.38 249.43H26.08V249.85H31.5M24.66 248.88H23.02V249.64H26.08M21.5 247.77H21.2V249.26H23.02M31.5 250.09H25.86V250.33H31.5M31.5 250.86H27.72V251.07H31.5M31.5 250.59H27.1V250.96H27.72M31.5 251.28H27.7V251.52H31.5M27.1 250.77H26.34V251.4H27.7M25.86 250.21H23.22V251.09H26.34M21.2 248.52H19.97V250.65H23.22M23.64 245.74H19.67V249.58H19.97M31.5 251.72H27.54V251.94H31.5M27.54 251.83H24.83V252.22H31.5M31.5 252.55H23.78V252.81H31.5M31.5 253.05H26.07V253.27H31.5M23.78 252.68H23.48V253.16H26.07M24.83 252.02H23.18V252.92H23.48M31.5 253.51H26.94V253.75H31.5M26.94 253.63H26.42V253.92H31.5M31.5 254.46H26.26V254.7H31.5M31.5 254.19H25.96V254.58H26.26M26.42 253.77H25.66V254.38H25.96M31.5 255.02H24.25V255.39H31.5M31.5 255.68H27.26V255.88H31.5M24.25 255.21H23.95V255.78H27.26M31.5 256.3H25.71V256.51H31.5M31.5 256.11H25.41V256.4H25.71M25.41 256.25H25.11V256.82H31.5M23.95 255.49H20.89V256.54H25.11M25.66 254.08H20.59V256.01H20.89M23.18 252.47H18.7V255.05H20.59M19.67 247.66H18.4V253.76H18.7M20.51 242.19H17.44V250.71H18.4M31.5 257.15H27.68V257.39H31.5M27.68 257.27H25.17V257.61H31.5M31.5 257.95H25.11V258.26H31.5M31.5 258.46H24.57V258.7H31.5M31.5 258.99H26.27V259.2H31.5M26.27 259.09H25.97V259.47H31.5M24.57 258.58H22.74V259.28H25.97M25.11 258.1H22.44V258.93H22.74M25.17 257.44H22.14V258.52H22.44M31.5 259.8H25.02V260.01H31.5M31.5 260.24H24.39V260.48H31.5M25.02 259.9H24.09V260.36H24.39M24.09 260.13H23.27V260.74H31.5M31.5 261.09H25.68V261.39H31.5M25.68 261.24H24.83V261.63H31.5M23.27 260.43H22.03V261.43H24.83M31.5 261.88H27.4V262.18H31.5M31.5 262.51H26.36V262.73H31.5M26.36 262.62H26.06V262.92H31.5M27.4 262.03H25.76V262.77H26.06M22.03 260.93H21.73V262.4H25.76M31.5 263.45H27.55V263.78H31.5M31.5 263.19H25.11V263.61H27.55M25.11 263.4H23.85V264.14H31.5M31.5 264.6H25.4V264.83H31.5M31.5 264.4H23.92V264.71H25.4M31.5 265.86H27V266.07H31.5M31.5 265.68H24.79V265.96H27M31.5 265.43H24.49V265.82H24.79M31.5 265.12H24.19V265.62H24.49M23.92 264.55H23.62V265.37H24.19M23.85 263.77H23.32V264.96H23.62M21.73 261.67H21.43V264.37H23.32M22.14 257.98H17.26V263.02H21.43M31.5 266.38H26.88V266.74H31.5M26.88 266.56H23.75V267.1H31.5M31.5 267.69H23.7V267.89H31.5M31.5 267.44H23.4V267.79H23.7M23.4 267.61H23.1V268.13H31.5M23.75 266.83H22.8V267.87H23.1M31.5 268.44H25.71V268.75H31.5M31.5 269.4H25.07V269.64H31.5M31.5 269.06H24.77V269.52H25.07M25.71 268.6H24.47V269.29H24.77M31.5 269.89H26.37V270.27H31.5M24.47 268.94H21.86V270.08H26.37M31.5 270.61H27.35V270.86H31.5M27.35 270.74H27.05V271.14H31.5M21.86 269.51H21.56V270.94H27.05M22.8 267.35H21.26V270.22H21.56M17.26 260.5H14.65V268.79H21.26M17.44 246.45H14.35V264.64H14.65M31.5 271.45H28.07V271.68H31.5M31.5 271.9H27.7V272.11H31.5M27.7 272H26.84V272.28H31.5M26.84 272.14H24.8V272.54H31.5M28.07 271.56H24.5V272.34H24.8M31.5 272.86H23.7V273.18H31.5M31.5 273.52H24.15V273.85H31.5M23.7 273.02H23.4V273.69H24.15M24.5 271.95H21.2V273.35H23.4M31.5 274.14H27.12V274.35H31.5M31.5 274.55H27.35V274.81H31.5M31.5 275.1H26.65V275.34H31.5M27.35 274.68H26.35V275.22H26.65M27.12 274.25H26.05V274.95H26.35M31.5 275.53H25.94V275.82H31.5M26.05 274.6H22.69V275.68H25.94M31.5 276.27H25.96V276.48H31.5M31.5 276.09H23.65V276.38H25.96M31.5 276.73H25.08V276.94H31.5M23.65 276.23H23.35V276.84H25.08M31.5 277.18H26.99V277.48H31.5M31.5 277.69H28.02V277.89H31.5M28.02 277.79H23.54V278.17H31.5M26.99 277.33H23.24V277.98H23.54M23.35 276.53H22.94V277.66H23.24M22.69 275.14H20.89V277.09H22.94M21.2 272.65H20.59V276.12H20.89M31.5 278.46H26.53V278.73H31.5M31.5 279H25.02V279.26H31.5M26.53 278.59H24.72V279.13H25.02M31.5 279.54H26.57V279.77H31.5M31.5 280.03H24.76V280.35H31.5M24.76 280.19H24.46V280.62H31.5M26.57 279.66H23.34V280.4H24.46M24.72 278.86H23.04V280.03H23.34M20.59 274.38H20.29V279.45H23.04M31.5 281.11H24.25V281.36H31.5M31.5 280.87H23.95V281.23H24.25M31.5 281.57H27.04V281.82H31.5M23.95 281.05H23.65V281.69H27.04M31.5 282.4H27.74V282.7H31.5M31.5 282.13H23.86V282.55H27.74M23.65 281.37H23.35V282.34H23.86M31.5 283H26.56V283.31H31.5M26.56 283.15H26.19V283.63H31.5M31.5 283.86H26.24V284.13H31.5M26.19 283.39H23.75V283.99H26.24M31.5 284.48H25.29V284.74H31.5M25.29 284.61H24.99V284.99H31.5M24.99 284.8H24.69V285.27H31.5M23.75 283.69H23.45V285.03H24.69M31.5 285.51H25.74V285.72H31.5M31.5 285.96H27.35V286.18H31.5M27.35 286.07H24.57V286.38H31.5M24.57 286.22H23.94V286.66H31.5M25.74 285.61H23.64V286.44H23.94M31.5 286.95H27.42V287.18H31.5M31.5 287.48H23.56V287.78H31.5M27.42 287.07H23.26V287.63H23.56M23.64 286.03H21.96V287.35H23.26M23.45 284.36H18.66V286.69H21.96M23.35 281.86H18.36V285.53H18.66M20.29 276.91H13.34V283.69H18.36M14.35 255.55H13.04V280.3H13.34M31.5 288.07H24.89V288.4H31.5M31.5 288.71H26.42V288.94H31.5M31.5 289.15H27.5V289.47H31.5M26.42 288.82H23.31V289.31H27.5M24.89 288.23H23.01V289.07H23.31M31.5 289.72H23.92V289.94H31.5M23.92 289.83H23.54V290.27H31.5M31.5 290.59H27.51V290.83H31.5M27.51 290.71H24.3V291.07H31.5M23.54 290.05H23.24V290.89H24.3M31.5 291.72H24.27V292.04H31.5M31.5 291.37H23.97V291.88H24.27M31.5 292.29H27.72V292.51H31.5M23.97 291.63H23.67V292.4H27.72M23.24 290.47H22.94V292.01H23.67M31.5 292.81H26.67V293.14H31.5M26.67 292.97H25V293.42H31.5M25 293.2H24V293.71H31.5M22.94 291.24H22.64V293.45H24M23.01 288.65H20.12V292.35H22.64M31.5 294.03H27.42V294.36H31.5M31.5 294.67H27.28V294.94H31.5M31.5 295.24H26.87V295.58H31.5M27.28 294.81H24.95V295.41H26.87M27.42 294.19H24.65V295.11H24.95M31.5 295.82H23.69V296.07H31.5M23.69 295.95H23.39V296.4H31.5M31.5 296.71H24.92V296.96H31.5M31.5 297.26H24.64V297.55H31.5M24.92 296.84H24.34V297.41H24.64M31.5 297.86H26.2V298.15H31.5M26.2 298.01H25.9V298.39H31.5M25.9 298.2H25.1V298.68H31.5M24.34 297.12H21.1V298.44H25.1M23.39 296.17H20.8V297.78H21.1M31.5 299.02H26.61V299.29H31.5M31.5 299.69H23.96V299.92H31.5M31.5 299.46H23.66V299.8H23.96M26.61 299.15H23.36V299.63H23.66M31.5 300.41H27.75V300.62H31.5M31.5 300.15H27.45V300.51H27.75M31.5 300.81H25.77V301.02H31.5M27.45 300.33H25.47V300.92H25.77M23.36 299.39H23.06V300.62H25.47M20.8 296.98H19.58V300.01H23.06M24.65 294.65H19.28V298.49H19.58M31.5 301.26H26.99V301.55H31.5M31.5 302.11H25.03V302.33H31.5M25.03 302.22H24.11V302.48H31.5M31.5 301.83H23.81V302.35H24.11M26.99 301.41H23.24V302.09H23.81M31.5 302.72H23.94V302.99H31.5M23.94 302.85H23.64V303.29H31.5M31.5 303.95H23.72V304.29H31.5M31.5 303.61H23.42V304.12H23.72M31.5 304.56H26.7V304.84H31.5M23.42 303.86H23.12V304.7H26.7M23.64 303.07H22.82V304.28H23.12M23.24 301.75H19.15V303.68H22.82M19.28 296.57H16.06V302.71H19.15M20.12 290.5H15.76V299.64H16.06M13.04 267.92H12.74V295.07H15.76M13.48 211.35H11.65V281.5H12.74M31.5 305.09H26.72V305.29H31.5M31.5 305.57H23.97V305.78H31.5M26.72 305.19H23.67V305.68H23.97M23.67 305.43H23.37V305.99H31.5M31.5 306.24H25.91V306.46H31.5M23.37 305.71H23.07V306.35H25.91M31.5 307.02H27.2V307.28H31.5M31.5 306.73H24.05V307.15H27.2M24.05 306.94H23.75V307.53H31.5M31.5 307.75H24.75V307.99H31.5M23.75 307.24H23.45V307.87H24.75M23.07 306.03H19.89V307.55H23.45M31.5 308.34H23.79V308.65H31.5M31.5 309.03H26.67V309.25H31.5M31.5 308.86H24.82V309.14H26.67M31.5 309.71H27V309.94H31.5M31.5 309.52H25.03V309.83H27M24.82 309H23.6V309.67H25.03M23.79 308.5H23.3V309.34H23.6M31.5 310.23H27.03V310.48H31.5M27.03 310.35H26.7V310.7H31.5M31.5 311H25.02V311.27H31.5M26.7 310.53H24.72V311.13H25.02M23.3 308.92H21.69V310.83H24.72M31.5 311.5H26.06V311.72H31.5M31.5 311.91H27.86V312.17H31.5M31.5 312.44H26.77V312.69H31.5M27.86 312.04H26.47V312.57H26.77M26.06 311.61H23.19V312.3H26.47M21.69 309.87H21.39V311.96H23.19M19.89 306.79H19.59V310.91H21.39M31.5 313.23H27.22V313.47H31.5M31.5 312.96H23.97V313.35H27.22M31.5 314.02H24.64V314.38H31.5M31.5 313.72H24.34V314.2H24.64M24.34 313.96H22.88V314.74H31.5M23.97 313.16H22.58V314.35H22.88M31.5 315.02H25.12V315.23H31.5M31.5 315.82H24.49V316.06H31.5M31.5 315.51H24.19V315.94H24.49M25.12 315.13H23.89V315.72H24.19M22.58 313.75H20.05V315.42H23.89M19.59 308.85H17.36V314.59H20.05M31.5 316.24H26.06V316.46H31.5M26.06 316.35H24.54V316.79H31.5M31.5 317.33H27.06V317.54H31.5M31.5 317.1H25.42V317.44H27.06M25.42 317.27H25.12V317.84H31.5M31.5 318.3H24.8V318.52H31.5M31.5 318.11H24.5V318.41H24.8M25.12 317.55H22.42V318.26H24.5M24.54 316.57H22.12V317.91H22.42M31.5 318.67H25.8V318.9H31.5M31.5 319.17H26.87V319.39H31.5M31.5 319.66H27.74V319.91H31.5M26.87 319.28H23.92V319.79H27.74M25.8 318.78H23.62V319.53H23.92M22.12 317.24H21.82V319.16H23.62M31.5 320.12H27.88V320.41H31.5M31.5 320.72H25.67V320.97H31.5M31.5 321.48H27.67V321.7H31.5M31.5 321.22H24.32V321.59H27.67M25.67 320.84H24.02V321.4H24.32M27.88 320.26H23.72V321.12H24.02M31.5 321.93H27.79V322.13H31.5M27.79 322.03H26.19V322.31H31.5M31.5 322.5H27.08V322.7H31.5M26.19 322.17H23.58V322.6H27.08M31.5 322.96H24.59V323.24H31.5M31.5 323.92H24.67V324.3H31.5M31.5 323.56H24.37V324.11H24.67M24.37 323.83H24.07V324.69H31.5M24.59 323.1H21.5V324.26H24.07M23.58 322.38H21.2V323.68H21.5M23.72 320.69H20.9V323.03H21.2M31.5 324.95H27.92V325.2H31.5M31.5 325.51H24.72V325.73H31.5M24.72 325.62H24.42V325.88H31.5M27.92 325.08H24.12V325.75H24.42M31.5 326.39H23.81V326.66H31.5M31.5 326.11H23.51V326.53H23.81M31.5 327.28H25.28V327.51H31.5M31.5 326.96H24.98V327.39H25.28M23.51 326.32H23.21V327.18H24.98M24.12 325.41H22.16V326.75H23.21M20.9 321.86H20.6V326.08H22.16M21.82 318.2H20.3V323.97H20.6M31.5 327.72H26.28V328.05H31.5M26.28 327.89H24.22V328.37H31.5M31.5 329.02H27.09V329.24H31.5M31.5 328.7H26.48V329.13H27.09M24.22 328.13H23.92V328.91H26.48M31.5 329.39H27.14V329.61H31.5M27.14 329.5H26.84V329.94H31.5M23.92 328.52H23.48V329.72H26.84M31.5 330.3H23.53V330.66H31.5M31.5 330.91H26.32V331.12H31.5M26.32 331.02H26.02V331.35H31.5M31.5 331.58H26.41V331.79H31.5M26.02 331.18H25.72V331.68H26.41M23.53 330.48H23.23V331.43H25.72M23.48 329.12H22.93V330.96H23.23M20.3 321.08H20V330.04H22.93M31.5 331.95H23.79V332.19H31.5M31.5 332.49H24.57V332.81H31.5M23.79 332.07H23.49V332.65H24.57M31.5 333.83H27.69V334.1H31.5M31.5 333.51H24.04V333.96H27.69M31.5 333.16H23.74V333.74H24.04M31.5 334.42H25.7V334.69H31.5M23.74 333.45H23.44V334.56H25.7M23.49 332.36H23.14V334H23.44M31.5 335.06H25.35V335.31H31.5M31.5 334.88H25.05V335.18H25.35M31.5 335.59H25.59V335.83H31.5M31.5 336.33H26.88V336.57H31.5M31.5 336.08H24.76V336.45H26.88M25.59 335.71H24.46V336.26H24.76M25.05 335.03H24.16V335.99H24.46M23.14 333.18H22.84V335.51H24.16M31.5 336.77H26.31V337H31.5M26.31 336.89H24.11V337.28H31.5M31.5 337.51H26.49V337.73H31.5M31.5 338.19H27.96V338.43H31.5M31.5 337.99H25.19V338.31H27.96M26.49 337.62H24.89V338.15H25.19M24.11 337.08H22.21V337.89H24.89M22.84 334.35H16.4V337.48H22.21M31.5 338.76H25.02V339.01H31.5M31.5 339.19H25.18V339.41H31.5M25.18 339.3H24.88V339.65H31.5M24.88 339.47H24.58V339.87H31.5M25.02 338.88H24.28V339.67H24.58M31.5 340.24H26.57V340.45H31.5M31.5 340.07H25.8V340.35H26.57M24.28 339.28H23.98V340.21H25.8M31.5 340.66H25.9V340.89H31.5M31.5 341.51H26.98V341.81H31.5M31.5 341.17H26.68V341.66H26.98M25.9 340.78H25.6V341.42H26.68M23.98 339.74H23.1V341.1H25.6M31.5 342.08H24.87V342.35H31.5M24.87 342.22H24.57V342.65H31.5M31.5 343.25H27.78V343.46H31.5M31.5 342.99H26.22V343.35H27.78M24.57 342.43H24.27V343.17H26.22M31.5 343.67H26.91V343.89H31.5M31.5 344.08H26.49V344.32H31.5M26.91 343.78H24V344.2H26.49M31.5 344.57H25.02V344.77H31.5M25.02 344.67H24.72V345.08H31.5M24 343.99H23.7V344.88H24.72M31.5 345.41H25.44V345.76H31.5M25.44 345.58H23.76V346.08H31.5M31.5 346.34H25.23V346.58H31.5M25.23 346.46H24.93V346.82H31.5M23.76 345.83H23.46V346.64H24.93M23.7 344.43H23.16V346.24H23.46M24.27 342.8H18.72V345.34H23.16M23.1 340.42H16.46V344.07H18.72M16.4 335.92H16.1V342.24H16.46M20 325.56H11.6V339.08H16.1M17.36 311.72H11.3V332.32H11.6M31.5 347.31H24.96V347.55H31.5M31.5 347.09H24.66V347.43H24.96M31.5 348.23H26.98V348.54H31.5M31.5 348.84H25.1V349.12H31.5M26.98 348.38H24.8V348.98H25.1M31.5 347.9H23.97V348.68H24.8M24.66 347.26H23.2V348.29H23.97M31.5 349.46H26.55V349.73H31.5M26.55 349.59H26.25V349.94H31.5M23.2 347.78H20.03V349.77H26.25M31.5 350.25H23.67V350.56H31.5M31.5 350.82H27.34V351.02H31.5M23.67 350.41H23.37V350.92H27.34M31.5 351.25H25.49V351.58H31.5M23.37 350.66H23.07V351.42H25.49M31.5 351.9H26.99V352.2H31.5M26.99 352.05H26.69V352.53H31.5M31.5 353.02H27.5V353.22H31.5M31.5 352.81H27.2V353.12H27.5M31.5 353.89H27.56V354.11H31.5M31.5 353.66H26.01V354H27.56M31.5 353.45H24.54V353.83H26.01M27.2 352.97H24.24V353.64H24.54M26.69 352.29H23.94V353.3H24.24M23.07 351.04H19.14V352.8H23.94M20.03 348.77H17.07V351.92H19.14M31.5 354.38H26.28V354.66H31.5M31.5 354.92H26.92V355.2H31.5M26.28 354.52H24.49V355.06H26.92M31.5 355.76H24.22V355.98H31.5M31.5 355.46H23.92V355.87H24.22M31.5 356.2H24.84V356.48H31.5M31.5 356.78H24.27V357.03H31.5M24.84 356.34H23.97V356.91H24.27M23.92 355.67H23.62V356.62H23.97M24.49 354.79H23.32V356.15H23.62M31.5 357.4H23.77V357.61H31.5M31.5 357.22H23.47V357.51H23.77M31.5 358.15H25.19V358.37H31.5M25.19 358.26H24.89V358.64H31.5M31.5 357.88H23.54V358.45H24.89M23.47 357.36H21.76V358.16H23.54M31.5 358.86H27.88V359.1H31.5M27.88 358.98H26.76V359.42H31.5M31.5 360.01H27.95V360.34H31.5M31.5 359.72H25.59V360.17H27.95M25.59 359.95H25.25V360.69H31.5M31.5 361.29H24.41V361.52H31.5M31.5 361.03H24.11V361.4H24.41M25.25 360.32H23.81V361.21H24.11M26.76 359.2H23.51V360.77H23.81M21.76 357.76H20.77V359.98H23.51M31.5 361.85H25.58V362.18H31.5M31.5 362.4H27.27V362.67H31.5M27.27 362.54H26.97V363H31.5M25.58 362.01H22.4V362.77H26.97M31.5 363.25H25.84V363.51H31.5M22.4 362.39H22.1V363.38H25.84M31.5 363.74H25.48V363.98H31.5M31.5 364.51H26.82V364.75H31.5M31.5 364.27H26.52V364.63H26.82M25.48 363.86H25.18V364.45H26.52M22.1 362.89H21.8V364.15H25.18M20.77 358.87H20.47V363.52H21.8M23.32 355.47H20.17V361.2H20.47M17.07 350.35H16.77V358.33H20.17M31.5 364.97H23.51V365.22H31.5M31.5 365.78H26.18V365.99H31.5M26.18 365.88H24.38V366.19H31.5M31.5 365.51H24.08V366.04H24.38M23.51 365.09H23.21V365.77H24.08M31.5 366.4H23.78V366.71H31.5M31.5 367.05H23.53V367.29H31.5M23.78 366.55H23.23V367.17H23.53M31.5 367.52H27.27V367.78H31.5M27.27 367.65H26.97V368.01H31.5M23.23 366.86H22.93V367.83H26.97M31.5 368.22H26.43V368.48H31.5M31.5 369.06H28.02V369.28H31.5M31.5 368.81H27.11V369.17H28.02M31.5 369.54H28.02V369.76H31.5M27.11 368.99H25.29V369.65H28.02M26.43 368.35H22.7V369.32H25.29M22.93 367.35H20.25V368.83H22.7M23.21 365.43H19.52V368.09H20.25M31.5 370.19H26.23V370.42H31.5M31.5 369.92H24.85V370.31H26.23M24.85 370.11H24.55V370.6H31.5M31.5 370.9H27.96V371.16H31.5M24.55 370.36H24.25V371.03H27.96M31.5 371.6H26.38V371.83H31.5M31.5 371.37H25.07V371.72H26.38M24.25 370.7H21.86V371.55H25.07M31.5 372.1H26.45V372.35H31.5M31.5 372.58H23.93V372.91H31.5M26.45 372.23H23.63V372.75H23.93M21.86 371.12H21.56V372.49H23.63M31.5 373.59H24.96V373.8H31.5M24.96 373.69H24.66V374.02H31.5M31.5 373.29H24.36V373.86H24.66M31.5 374.45H26.1V374.66H31.5M31.5 374.25H25.8V374.55H26.1M24.36 373.57H24.06V374.4H25.8M31.5 374.9H23.72V375.12H31.5M31.5 375.58H26.6V375.78H31.5M31.5 375.33H24.62V375.68H26.6M23.72 375.01H23.42V375.51H24.62M31.5 376.01H27.07V376.23H31.5M31.5 376.41H24.84V376.66H31.5M27.07 376.12H24.54V376.53H24.84M24.54 376.33H24.24V376.97H31.5M23.42 375.26H22.4V376.65H24.24M24.06 373.99H18.61V375.95H22.4M21.56 371.8H18.31V374.97H18.61M19.52 366.76H18.01V373.39H18.31M31.5 377.29H26.34V377.56H31.5M31.5 378.04H24.01V378.25H31.5M31.5 377.8H23.71V378.14H24.01M31.5 378.48H25.76V378.73H31.5M23.71 377.97H23.41V378.61H25.76M26.34 377.43H23.11V378.29H23.41M31.5 379.04H24.92V379.33H31.5M23.11 377.86H22.81V379.18H24.92M31.5 379.87H25.33V380.1H31.5M31.5 379.61H25.03V379.99H25.33M31.5 380.31H25.2V380.56H31.5M31.5 380.85H25.36V381.08H31.5M25.2 380.43H24.9V380.97H25.36M25.03 379.8H21.79V380.7H24.9M31.5 381.31H23.53V381.52H31.5M31.5 381.73H24.7V382H31.5M24.7 381.87H23.55V382.32H31.5M23.53 381.41H23.23V382.09H23.55M21.79 380.25H20.22V381.75H23.23M22.81 378.52H19.92V381H20.22M18.01 370.07H12.63V379.76H19.92M16.77 354.34H12.33V374.92H12.63M31.5 383.03H26.93V383.34H31.5M26.93 383.19H24.38V383.61H31.5M31.5 382.66H24.08V383.4H24.38M31.5 383.86H24.12V384.07H31.5M24.08 383.03H23.78V383.97H24.12M31.5 384.36H27.74V384.68H31.5M31.5 384.99H25.83V385.25H31.5M31.5 385.44H24.42V385.68H31.5M25.83 385.12H24.12V385.56H24.42M27.74 384.52H22.97V385.34H24.12M23.78 383.5H22.18V384.93H22.97M31.5 386.21H27.61V386.49H31.5M31.5 385.96H27.31V386.35H27.61M31.5 386.74H24.12V386.97H31.5M27.31 386.16H23.49V386.86H24.12M31.5 387.18H27.24V387.45H31.5M23.49 386.51H23.19V387.31H27.24M22.18 384.21H18.47V386.91H23.19M31.5 388.02H25.2V388.29H31.5M25.2 388.15H24.07V388.56H31.5M31.5 387.78H23.77V388.36H24.07M31.5 388.72H25.02V388.94H31.5M23.77 388.07H23.47V388.83H25.02M31.5 389.84H25.19V390.08H31.5M31.5 389.56H24.89V389.96H25.19M31.5 389.23H24.59V389.76H24.89M23.47 388.45H21.96V389.49H24.59M18.47 385.56H18.17V388.97H21.96M31.5 390.37H27.48V390.65H31.5M27.48 390.51H27.18V390.99H31.5M31.5 391.62H23.52V391.86H31.5M31.5 391.36H23.22V391.74H23.52M31.5 392.1H26.65V392.31H31.5M26.65 392.2H26.21V392.55H31.5M23.22 391.55H22.92V392.38H26.21M31.5 392.84H26.13V393.13H31.5M22.92 391.96H21.91V392.99H26.13M27.18 390.75H21.61V392.47H21.91M18.17 387.27H17.87V391.61H21.61M31.5 393.65H26.77V393.89H31.5M31.5 393.39H24.08V393.77H26.77M31.5 394.09H24.17V394.33H31.5M24.08 393.58H23.78V394.21H24.17M31.5 394.61H24.67V394.89H31.5M24.67 394.75H24.37V395.17H31.5M31.5 395.34H26.16V395.54H31.5M31.5 395.78H26.06V396.01H31.5M26.16 395.44H23.71V395.9H26.06M24.37 394.96H23.41V395.67H23.71M23.78 393.9H21.61V395.31H23.41M31.5 396.49H27.47V396.7H31.5M31.5 396.27H23.98V396.59H27.47M31.5 396.89H26.15V397.13H31.5M23.98 396.43H23.68V397.01H26.15M21.61 394.61H19.59V396.72H23.68M31.5 397.69H27.67V397.95H31.5M31.5 397.39H26.41V397.82H27.67M31.5 398.19H24.77V398.53H31.5M26.41 397.6H23.91V398.36H24.77M31.5 398.91H23.73V399.17H31.5M31.5 399.57H25.93V399.83H31.5M31.5 399.33H25.63V399.7H25.93M23.73 399.04H23.43V399.52H25.63M23.91 397.98H23.13V399.28H23.43M31.5 400.1H23.61V400.31H31.5M23.61 400.2H23.31V400.53H31.5M31.5 400.82H24.28V401.09H31.5M23.31 400.37H23.01V400.95H24.28M23.13 398.63H20.54V400.66H23.01M19.59 395.66H15.55V399.64H20.54M17.87 389.44H15.25V397.65H15.55M31.5 401.39H27.11V401.59H31.5M31.5 402.04H26.27V402.25H31.5M31.5 401.81H24.68V402.14H26.27M27.11 401.49H24.38V401.98H24.68M31.5 402.83H25.22V403.11H31.5M31.5 402.53H24.68V402.97H25.22M24.38 401.73H24.08V402.75H24.68M31.5 403.53H28V403.75H31.5M31.5 403.33H24.14V403.64H28M24.14 403.49H23.75V404.04H31.5M31.5 404.27H26.47V404.49H31.5M26.47 404.38H25.62V404.74H31.5M23.75 403.76H23.45V404.56H25.62M31.5 405.28H26.69V405.57H31.5M31.5 404.96H25.75V405.42H26.69M23.45 404.16H23.15V405.19H25.75M24.08 402.24H21.2V404.68H23.15M31.5 405.78H26.73V406.01H31.5M31.5 406.47H27.82V406.68H31.5M31.5 406.24H27.08V406.57H27.82M27.08 406.41H25.86V406.99H31.5M26.73 405.9H24.42V406.7H25.86M31.5 407.58H23.64V407.83H31.5M23.64 407.71H23.34V408.12H31.5M31.5 407.34H23.04V407.92H23.34M31.5 408.39H24.12V408.64H31.5M23.04 407.63H22.06V408.51H24.12M31.5 409.05H24.33V409.34H31.5M31.5 408.85H24.03V409.19H24.33M31.5 409.63H25.64V409.91H31.5M25.64 409.77H25.34V410.28H31.5M24.03 409.02H23.73V410.02H25.34M22.06 408.07H21.76V409.52H23.73M24.42 406.3H17.8V408.8H21.76M21.2 403.46H17.5V407.55H17.8M15.25 393.55H12.65V405.5H17.5M31.5 410.83H26.57V411.06H31.5M31.5 410.56H25.84V410.94H26.57M31.5 411.28H25.48V411.5H31.5M25.48 411.39H25.18V411.65H31.5M31.5 411.91H26.27V412.14H31.5M25.18 411.52H24.88V412.02H26.27M25.84 410.75H22.97V411.77H24.88M31.5 412.37H25.89V412.72H31.5M31.5 413.43H26.01V413.69H31.5M31.5 413.11H25.71V413.56H26.01M25.89 412.55H22.66V413.33H25.71M31.5 414.02H25.57V414.4H31.5M31.5 414.97H26.37V415.25H31.5M31.5 414.74H26.07V415.11H26.37M31.5 415.54H24.65V415.79H31.5M31.5 416.09H28.03V416.36H31.5M24.65 415.67H24.35V416.23H28.03M26.07 414.92H21.32V415.95H24.35M25.57 414.21H21.02V415.43H21.32M22.66 412.94H20.72V414.82H21.02M22.97 411.26H16.95V413.88H20.72M31.5 416.91H25.38V417.13H31.5M31.5 416.64H25.08V417.02H25.38M31.5 417.35H24.63V417.59H31.5M31.5 417.78H27.65V418.02H31.5M24.63 417.47H24.33V417.9H27.65M25.08 416.83H24.03V417.68H24.33M31.5 418.33H26.23V418.54H31.5M31.5 418.7H24.96V418.95H31.5M26.23 418.44H24.66V418.82H24.96M31.5 419.28H24.27V419.52H31.5M24.66 418.63H23.97V419.4H24.27M24.03 417.26H23.67V419.01H23.97M31.5 419.92H25.22V420.14H31.5M25.22 420.03H24.92V420.44H31.5M31.5 419.72H23.83V420.23H24.92M31.5 420.62H23.8V420.83H31.5M23.8 420.73H23.5V421.15H31.5M23.83 419.98H23.2V420.94H23.5M31.5 421.65H24.97V421.86H31.5M24.97 421.76H23.58V422.12H31.5M31.5 421.42H23.28V421.94H23.58M23.2 420.46H22.9V421.68H23.28M31.5 422.38H26.34V422.59H31.5M31.5 422.78H26.07V423.01H31.5M26.34 422.49H25.77V422.9H26.07M31.5 423.24H24.71V423.49H31.5M25.77 422.69H24.41V423.36H24.71M22.9 421.07H22.6V423.03H24.41M23.67 418.14H17.43V422.05H22.6M16.95 412.57H16.65V420.09H17.43M31.5 423.77H23.86V424.02H31.5M23.86 423.9H23.56V424.24H31.5M31.5 424.46H24.24V424.7H31.5M31.5 424.9H24.08V425.18H31.5M24.24 424.58H23.78V425.04H24.08M23.56 424.07H23.26V424.81H23.78M31.5 425.54H25.82V425.78H31.5M25.82 425.66H24.92V426.01H31.5M31.5 426.31H27.59V426.54H31.5M31.5 426.8H27.31V427.08H31.5M27.59 426.43H25.35V426.94H27.31M24.92 425.83H24.62V426.68H25.35M31.5 427.61H25.37V427.9H31.5M31.5 427.33H25.07V427.75H25.37M31.5 428.21H24.22V428.48H31.5M31.5 428.74H25.4V429.08H31.5M24.22 428.34H23.92V428.91H25.4M25.07 427.54H20.92V428.63H23.92M24.62 426.26H20.62V428.09H20.92M23.26 424.44H19.41V427.17H20.62M31.5 429.38H27.78V429.67H31.5M31.5 430.02H26.35V430.28H31.5M27.78 429.53H24.53V430.15H26.35M31.5 430.52H25.25V430.86H31.5M24.53 429.84H23.94V430.69H25.25M31.5 431.22H27.01V431.58H31.5M31.5 431.84H26.67V432.09H31.5M26.67 431.96H24.2V432.4H31.5M27.01 431.4H23.9V432.18H24.2M31.5 432.74H25.48V433.06H31.5M23.9 431.79H23.47V432.9H25.48M31.5 433.57H23.73V433.79H31.5M31.5 433.34H23.43V433.68H23.73M23.47 432.35H20.85V433.51H23.43M23.94 430.26H20.55V432.93H20.85M31.5 434.11H25.28V434.43H31.5M31.5 435.11H23.96V435.37H31.5M23.96 435.24H23.66V435.65H31.5M31.5 434.78H23.36V435.45H23.66M25.28 434.27H23.06V435.11H23.36M31.5 436H24.75V436.29H31.5M31.5 436.82H27.98V437.1H31.5M31.5 436.55H25.62V436.96H27.98M24.75 436.14H24.45V436.76H25.62M31.5 437.75H27.47V438.03H31.5M31.5 437.46H25.86V437.89H27.47M24.45 436.45H24.15V437.67H25.86M31.5 438.68H25.74V438.95H31.5M31.5 438.39H24.08V438.81H25.74M24.15 437.06H23.78V438.6H24.08M23.06 434.69H18.36V437.83H23.78M31.5 439.3H25.63V439.58H31.5M31.5 439.84H23.87V440.1H31.5M25.63 439.44H23.57V439.97H23.87M31.5 440.61H23.79V440.88H31.5M31.5 440.37H23.49V440.75H23.79M23.57 439.7H22.31V440.56H23.49M31.5 441.56H26.38V441.86H31.5M31.5 441.25H24.74V441.71H26.38M22.31 440.13H19.91V441.48H24.74M18.36 436.26H18.06V440.8H19.91M20.55 431.6H17.76V438.53H18.06M19.41 425.81H17.46V435.07H17.76M31.5 442.31H27.61V442.51H31.5M31.5 442.09H25.49V442.41H27.61M31.5 442.64H23.55V442.84H31.5M25.49 442.25H23.25V442.74H23.55M23.25 442.5H22.95V443.17H31.5M31.5 443.43H27.94V443.68H31.5M27.94 443.56H25.46V444.05H31.5M31.5 444.33H27.72V444.55H31.5M27.72 444.44H25.66V444.77H31.5M25.66 444.6H25.36V445.04H31.5M31.5 445.37H26.45V445.7H31.5M25.36 444.82H24.51V445.54H26.45M31.5 445.97H24.85V446.25H31.5M24.51 445.18H24.2V446.11H24.85M25.46 443.8H22.87V445.64H24.2M22.95 442.83H22.57V444.72H22.87M31.5 446.6H25.51V446.82H31.5M25.51 446.71H25.21V447.07H31.5M31.5 447.72H24.86V447.97H31.5M31.5 447.44H23.78V447.84H24.86M25.21 446.89H21.75V447.64H23.78M22.57 443.78H17V447.27H21.75M31.5 448.25H24.94V448.49H31.5M31.5 448.73H25.27V448.97H31.5M24.94 448.37H23.81V448.85H25.27M31.5 449.22H27.93V449.43H31.5M27.93 449.33H27.56V449.68H31.5M31.5 450.48H24.92V450.74H31.5M31.5 450.22H24.62V450.61H24.92M31.5 450H24.32V450.42H24.62M24.32 450.21H23.77V451.01H31.5M31.5 451.39H28.07V451.69H31.5M23.77 450.61H23.47V451.54H28.07M27.56 449.5H21.14V451.07H23.47M23.81 448.61H18.76V450.29H21.14M31.5 451.89H26.49V452.11H31.5M31.5 452.3H24.55V452.56H31.5M26.49 452H24.25V452.43H24.55M31.5 452.89H25.67V453.13H31.5M24.25 452.21H23.95V453.01H25.67M18.76 449.45H18.46V452.61H23.95M31.5 453.39H27.27V453.6H31.5M31.5 454H25.88V454.24H31.5M31.5 453.78H24.49V454.12H25.88M27.27 453.49H24.19V453.95H24.49M31.5 454.53H26.88V454.76H31.5M31.5 454.94H24.06V455.14H31.5M24.06 455.04H23.76V455.47H31.5M26.88 454.65H23.46V455.25H23.76M24.19 453.72H23.16V454.95H23.46M18.46 451.03H18.16V454.34H23.16M31.5 455.84H27.71V456.2H31.5M27.71 456.02H24.31V456.56H31.5M31.5 457.13H26.18V457.37H31.5M31.5 456.9H23.55V457.25H26.18M24.31 456.29H23.25V457.07H23.55M31.5 457.7H23.54V457.95H31.5M31.5 458.18H27.45V458.51H31.5M23.54 457.83H23.24V458.34H27.45M23.25 456.68H20.84V458.09H23.24M18.16 452.68H17.86V457.38H20.84M17 445.52H14.97V455.03H17.86M17.46 430.44H14.67V450.28H14.97M16.65 416.33H14.37V440.36H14.67M12.65 399.52H12.35V428.34H14.37M12.33 364.63H9.93V413.93H12.35M11.3 322.02H9.63V389.28H9.93M11.65 246.42H11.3V355.65H9.63" fill="none" stroke="#000" stroke-width="0.7"/>
<text transform="translate(245.6 13) scale(0.9 1)" font-family='"Liberation Serif", serif' font-weight="bold" font-size="13.6">C</text>
<text x="281.2" y="18.1" font-family='"Liberation Serif", serif' font-weight="bold" font-size="8">Cluster_1</text>
<text x="320.8" y="18.1" font-family='"Liberation Serif", serif' font-weight="bold" font-size="8">1128 genes</text>
<clipPath id="clipC"><rect x="272" y="23.4" width="115.4" height="115.8"/></clipPath>
<g clip-path="url(#clipC)">
<path d="M276.2 60.2L294 53.77L311.8 58.88L329.6 53.58L347.4 53.01L365.2 54.33L383 53.77L383 74.39L365.2 69.66L347.4 72.5L329.6 72.5L311.8 72.5L294 71.55Z" fill="#d3d3d3"/>
<path d="M276.2 60.2L294 66.06L311.8 74L329.6 63.69L347.4 56.59L365.2 64.13L383 71.27M276.2 60.2L294 63.92L311.8 73.45L329.6 62.23L347.4 66.68L365.2 55.14L383 61.33M276.2 60.2L294 66.46L311.8 60.79L329.6 76.49L347.4 67.11L365.2 66.14L383 68.45M276.2 60.2L294 55.19L311.8 61.35L329.6 59.47L347.4 50.22L365.2 61.54L383 66.45M276.2 60.2L294 75.21L311.8 58.04L329.6 61.73L347.4 63.73L365.2 76.17L383 71.69M276.2 60.2L294 50.74L311.8 66.36L329.6 71.7L347.4 64.52L365.2 64.72L383 51.22M276.2 60.2L294 64.99L311.8 68.26L329.6 57.66L347.4 65.59L365.2 56.52L383 78M276.2 60.2L294 70.56L311.8 74.05L329.6 64.81L347.4 69.09L365.2 54.56L383 66.33M276.2 60.2L294 69.9L311.8 71.46L329.6 68.81L347.4 64.04L365.2 62.88L383 64.75M276.2 60.2L294 70.24L311.8 71.7L329.6 76.74L347.4 55.36L365.2 72.58L383 67.3M276.2 60.2L294 74.9L311.8 64.61L329.6 70.68L347.4 63.32L365.2 66.77L383 61.06M276.2 60.2L294 65.51L311.8 58.12L329.6 50.27L347.4 54.53L365.2 66.14L383 80.46M276.2 60.2L294 63.1L311.8 62.78L329.6 51.72L347.4 62.12L365.2 64.62L383 63.73M276.2 60.2L294 55.76L311.8 68.76L329.6 63.05L347.4 58.62L365.2 53.53L383 55.12M276.2 60.2L294 56.73L311.8 75.87L329.6 67.15L347.4 82.5L365.2 73.9L383 51.71M276.2 60.2L294 67.61L311.8 70.2L329.6 73.07L347.4 70.53L365.2 70.99L383 67.67M276.2 60.2L294 68.54L311.8 67.13L329.6 67.62L347.4 62.81L365.2 66.52L383 76.69M276.2 60.2L294 51.48L311.8 61.65L329.6 72.46L347.4 59.09L365.2 55.32L383 61.67M276.2 60.2L294 71.26L311.8 72.42L329.6 65.71L347.4 67.24L365.2 56.26L383 50.29M276.2 60.2L294 67.34L311.8 69.9L329.6 67.84L347.4 80.39L365.2 58.01L383 77.94M276.2 60.2L294 62.29L311.8 73.31L329.6 72.52L347.4 67.93L365.2 65.54L383 60.73M276.2 60.2L294 62.62L311.8 78.86L329.6 53.93L347.4 61.97L365.2 70.9L383 75.74M276.2 60.2L294 60.64L311.8 66.87L329.6 74.22L347.4 67.28L365.2 67.89L383 80.62M276.2 60.2L294 65.33L311.8 66.43L329.6 63.4L347.4 54.62L365.2 53.8L383 77.29M276.2 60.2L294 54.42L311.8 76.56L329.6 74.89L347.4 51.41L365.2 60.98L383 70.72M276.2 60.2L294 62.64L311.8 67.01L329.6 69.3L347.4 68.47L365.2 66.51L383 78.61M276.2 60.2L294 64.68L311.8 80.16L329.6 69.69L347.4 55.73L365.2 58.87L383 76.04M276.2 60.2L294 49.75L311.8 74.52L329.6 64.15L347.4 69.3L365.2 66.12L383 61.43M276.2 60.2L294 63.49L311.8 66.24L329.6 63.55L347.4 78.22L365.2 59.32L383 74.28M276.2 60.2L294 66.05L311.8 69.98L329.6 69.9L347.4 62.64L365.2 74.28L383 82.02M276.2 60.2L294 57.32L311.8 75.06L329.6 55.65L347.4 72.91L365.2 62.13L383 66.66M276.2 60.2L294 53.45L311.8 73.07L329.6 61.63L347.4 58.23L365.2 58.67L383 72.33M276.2 60.2L294 59.44L311.8 70.37L329.6 72.81L347.4 63.25L365.2 51.61L383 59.46M276.2 60.2L294 71.25L311.8 64.37L329.6 55.64L347.4 56.7L365.2 57.45L383 64.43M276.2 60.2L294 52.98L311.8 67.18L329.6 80.48L347.4 70.9L365.2 64.03L383 71.58M276.2 60.2L294 67.86L311.8 62.51L329.6 67.07L347.4 78.55L365.2 64.49L383 78.41M276.2 60.2L294 71.59L311.8 79.11L329.6 81.15L347.4 62.87L365.2 66.26L383 63.79M276.2 60.2L294 70.5L311.8 76.74L329.6 65.31L347.4 66.07L365.2 69.03L383 65.74M276.2 60.2L294 73.75L311.8 63.22L329.6 80.48L347.4 80.96L365.2 62.06L383 68.12M276.2 60.2L294 51.18L311.8 81.71L329.6 55.84L347.4 62.3L365.2 67.31L383 65.32M276.2 60.2L294 55.46L311.8 66.63L329.6 65.21L347.4 74.78L365.2 59.06L383 73.98M276.2 60.2L294 72.92L311.8 65.78L329.6 63.97L347.4 51.54L365.2 54.69L383 77.71M276.2 60.2L294 63.69L311.8 80.19L329.6 77.58L347.4 60.77L365.2 60.72L383 67.59M276.2 60.2L294 61.3L311.8 69.3L329.6 78.14L347.4 78.57L365.2 61.16L383 82.78M276.2 60.2L294 63.83L311.8 65.18L329.6 70.66L347.4 72.7L365.2 60.84L383 78.28M276.2 60.2L294 61.56L311.8 72.27L329.6 60.41L347.4 60.34L365.2 58.64L383 76.34M276.2 60.2L294 63.12L311.8 59.51L329.6 57.33L347.4 49.77L365.2 63.91L383 70.74M276.2 60.2L294 51.08L311.8 68.71L329.6 65.07L347.4 70.52L365.2 67.53L383 58.09M276.2 60.2L294 74.33L311.8 79.7L329.6 58.47L347.4 47.85L365.2 67.02L383 71.47M276.2 60.2L294 66.26L311.8 75.5L329.6 53.42L347.4 63.97L365.2 68.17L383 81.95M276.2 60.2L294 60.86L311.8 63.1L329.6 81.35L347.4 74.67L365.2 69.08L383 75.52M276.2 60.2L294 67.32L311.8 76.7L329.6 55.25L347.4 73.8L365.2 55.84L383 60.07M276.2 60.2L294 77.84L311.8 60.23L329.6 55.14L347.4 61.21L365.2 67.8L383 54.58M276.2 60.2L294 68.55L311.8 67.01L329.6 77.22L347.4 66.02L365.2 54.34L383 63.04M276.2 60.2L294 62.66L311.8 70.31L329.6 79.04L347.4 66.86L365.2 50.64L383 65.08M276.2 60.2L294 61.25L311.8 67.44L329.6 71.64L347.4 75.24L365.2 62.64L383 80.76M276.2 60.2L294 55.27L311.8 72.37L329.6 64.83L347.4 69.26L365.2 73.46L383 80.59M276.2 60.2L294 75.09L311.8 65.85L329.6 79.18L347.4 76.32L365.2 53.75L383 57.96M276.2 60.2L294 72.81L311.8 75.61L329.6 77.88L347.4 64.99L365.2 50.42L383 76.78M276.2 60.2L294 57.62L311.8 78.42L329.6 56.24L347.4 64.81L365.2 58.35L383 57.37M276.2 60.2L294 75.04L311.8 61.75L329.6 74.51L347.4 57.98L365.2 74.21L383 54.81M276.2 60.2L294 58.67L311.8 71.93L329.6 72.45L347.4 67.86L365.2 67.97L383 50.07M276.2 60.2L294 53.83L311.8 67.12L329.6 61.35L347.4 66.13L365.2 64.78L383 59.63M276.2 60.2L294 63.75L311.8 74.05L329.6 54.61L347.4 60.62L365.2 67.18L383 59.14M276.2 60.2L294 55.31L311.8 72.58L329.6 64.94L347.4 61.85L365.2 69.17L383 81.86M276.2 60.2L294 75.79L311.8 64.53L329.6 53.9L347.4 66.92L365.2 63.46L383 60.4M276.2 60.2L294 64.45L311.8 81.16L329.6 68.11L347.4 70.82L365.2 62.62L383 76M276.2 60.2L294 58.49L311.8 67.76L329.6 80.29L347.4 66.58L365.2 54.37L383 67.22M276.2 60.2L294 74.31L311.8 73.52L329.6 57.47L347.4 76.93L365.2 57.95L383 55.19M276.2 60.2L294 72.74L311.8 79.27L329.6 65.79L347.4 50.32L365.2 56.84L383 76.76M276.2 60.2L294 63.62L311.8 60.76L329.6 60.02L347.4 78.59L365.2 60.18L383 83.86M276.2 60.2L294 71.68L311.8 70.7L329.6 76.86L347.4 68.2L365.2 65.05L383 68.62M276.2 60.2L294 62.45L311.8 76.39L329.6 52.99L347.4 67.55L365.2 58.29L383 52.19M276.2 60.2L294 56.93L311.8 69.49L329.6 70.67L347.4 59.02L365.2 59.15L383 59.63M276.2 60.2L294 67.02L311.8 67.76L329.6 63.93L347.4 52.94L365.2 73.19L383 65.64M276.2 60.2L294 67.63L311.8 70.82L329.6 67.53L347.4 72.52L365.2 63.68L383 75.93M276.2 60.2L294 69.97L311.8 64.47L329.6 64.83L347.4 76.49L365.2 62.65L383 68.12M276.2 60.2L294 61.04L311.8 69.16L329.6 61.78L347.4 56.57L365.2 74.65L383 67.7M276.2 60.2L294 59.8L311.8 78.47L329.6 69.17L347.4 53.95L365.2 61.87L383 76.35M276.2 60.2L294 65.1L311.8 72.52L329.6 60.84L347.4 52.52L365.2 71.6L383 54.75M276.2 60.2L294 62.43L311.8 67.41L329.6 61.7L347.4 77.28L365.2 63.15L383 69.73M276.2 60.2L294 57.4L311.8 70.62L329.6 65.7L347.4 72.8L365.2 62.45L383 71.43M276.2 60.2L294 66.45L311.8 75.73L329.6 62.86L347.4 73.49L365.2 61.82L383 80.1M276.2 60.2L294 72.18L311.8 69.84L329.6 58.52L347.4 69.54L365.2 59.36L383 57.72M276.2 60.2L294 71.71L311.8 78.39L329.6 63.27L347.4 69.68L365.2 65.86L383 77.03M276.2 60.2L294 52.15L311.8 70.42L329.6 72.15L347.4 69.91L365.2 76.18L383 78.82M276.2 60.2L294 60.21L311.8 69.97L329.6 69.55L347.4 65.4L365.2 55.08L383 62.16M276.2 60.2L294 63.59L311.8 69.64L329.6 70.01L347.4 57.86L365.2 64.11L383 78.59M276.2 60.2L294 61.51L311.8 79.1L329.6 69.55L347.4 62.55L365.2 70.84L383 65.1M276.2 60.2L294 72.89L311.8 72.62L329.6 68.26L347.4 65.61L365.2 64.36L383 66.48M276.2 60.2L294 62.9L311.8 62.74L329.6 63.34L347.4 50.69L365.2 55.92L383 52.97M276.2 60.2L294 75.01L311.8 72.1L329.6 58.98L347.4 65.42L365.2 58.43L383 67.75M276.2 60.2L294 62.1L311.8 67.28L329.6 69.52L347.4 66.51L365.2 52.72L383 55.26M276.2 60.2L294 73.5L311.8 59.36L329.6 63.37L347.4 74L365.2 70L383 64.51M276.2 60.2L294 70.78L311.8 70.11L329.6 65.37L347.4 75.91L365.2 64.92L383 76.67M276.2 60.2L294 66.94L311.8 74.82L329.6 61.64L347.4 65.46L365.2 63.22L383 69.16M276.2 60.2L294 68.7L311.8 77.89L329.6 65.79L347.4 61.51L365.2 62.13L383 79.44M276.2 60.2L294 72.42L311.8 65.47L329.6 52.39L347.4 80.68L365.2 65.39L383 57.13M276.2 60.2L294 58.95L311.8 68.98L329.6 65.67L347.4 62.88L365.2 74.06L383 75.72M276.2 60.2L294 73.91L311.8 65.67L329.6 58.54L347.4 69.66L365.2 71.35L383 67.72M276.2 60.2L294 61.58L311.8 63.63L329.6 72.88L347.4 63.7L365.2 64.72L383 73.73M276.2 60.2L294 55.73L311.8 70.15L329.6 65.38L347.4 67.3L365.2 71.11L383 61.41M276.2 60.2L294 62.76L311.8 68.78L329.6 59.81L347.4 63.36L365.2 75.37L383 64.36M276.2 60.2L294 74.45L311.8 75.41L329.6 62.66L347.4 67.41L365.2 56.72L383 68.6M276.2 60.2L294 62.91L311.8 67.57L329.6 58.86L347.4 71.62L365.2 65.08L383 82.33M276.2 60.2L294 57.69L311.8 65.9L329.6 65.7L347.4 77.53L365.2 61.92L383 64.27M276.2 60.2L294 62.56L311.8 60.74L329.6 58.53L347.4 60.56L365.2 73.17L383 82.43M276.2 60.2L294 60.24L311.8 65.55L329.6 81.1L347.4 68.42L365.2 54.84L383 59.9M276.2 60.2L294 60.53L311.8 73.4L329.6 68.06L347.4 82.56L365.2 67.92L383 59.07M276.2 60.2L294 61.87L311.8 60.67L329.6 54L347.4 55.64L365.2 65.43L383 61.03M276.2 60.2L294 69.31L311.8 63.16L329.6 65.43L347.4 68.35L365.2 52.73L383 75.57M276.2 60.2L294 55.72L311.8 70.99L329.6 66.01L347.4 57.75L365.2 74.3L383 55.96M276.2 60.2L294 66.54L311.8 67.12L329.6 66.57L347.4 68.68L365.2 54.98L383 64.63M276.2 60.2L294 64.36L311.8 63.74L329.6 68.26L347.4 72.87L365.2 56.34L383 64.07M276.2 60.2L294 67.88L311.8 69.65L329.6 67.32L347.4 56.89L365.2 55.34L383 68.2M276.2 60.2L294 49.09L311.8 77.34L329.6 75.66L347.4 66L365.2 64.71L383 55.26M276.2 60.2L294 61.43L311.8 73.28L329.6 63.02L347.4 73.13L365.2 58.11L383 69.48M276.2 60.2L294 65.52L311.8 67.16L329.6 70.37L347.4 68.41L365.2 64.97L383 53.9M276.2 60.2L294 62.89L311.8 65.28L329.6 74.82L347.4 69.97L365.2 55.85L383 65.02M276.2 60.2L294 49.86L311.8 71.1L329.6 55.09L347.4 69.87L365.2 61.19L383 68.04M276.2 60.2L294 73.18L311.8 62.3L329.6 66.39L347.4 62.63L365.2 56.84L383 62.43M276.2 60.2L294 76.21L311.8 61.53L329.6 53.73L347.4 71.29L365.2 66.94L383 69.13M276.2 60.2L294 68.18L311.8 71.39L329.6 59.27L347.4 60.8L365.2 62.74L383 60.41M276.2 60.2L294 63.07L311.8 63.13L329.6 54.62L347.4 58.99L365.2 77.33L383 60.73M276.2 60.2L294 64.84L311.8 63.4L329.6 63.75L347.4 58.68L365.2 75.18L383 63.12M276.2 60.2L294 71.77L311.8 63.38L329.6 76.97L347.4 67.06L365.2 62.97L383 65.82M276.2 60.2L294 68.23L311.8 70.2L329.6 60.12L347.4 77.1L365.2 58.29L383 69.54M276.2 60.2L294 63.86L311.8 62.72L329.6 60.95L347.4 65.73L365.2 62.38L383 78.33M276.2 60.2L294 64.44L311.8 69.33L329.6 62.57L347.4 71.27L365.2 68.97L383 52.34M276.2 60.2L294 71.86L311.8 80.2L329.6 65.79L347.4 68.93L365.2 58.45L383 60.91M276.2 60.2L294 64.51L311.8 61.33L329.6 75.09L347.4 66.88L365.2 71.79L383 81.1M276.2 60.2L294 62.33L311.8 75.26L329.6 51.71L347.4 61.94L365.2 66.3L383 64.54M276.2 60.2L294 62.49L311.8 60.51L329.6 79.95L347.4 68.38L365.2 53.45L383 60.58M276.2 60.2L294 63.35L311.8 59.6L329.6 58.24L347.4 60.14L365.2 65.25L383 62.02M276.2 60.2L294 56.79L311.8 76.52L329.6 63.51L347.4 71.77L365.2 72.41L383 80.8M276.2 60.2L294 66.25L311.8 74.73L329.6 79.78L347.4 57.29L365.2 62L383 77.45M276.2 60.2L294 71.71L311.8 71.72L329.6 69.63L347.4 69.34L365.2 64.78L383 61.19M276.2 60.2L294 70.87L311.8 71.02L329.6 60.95L347.4 78.93L365.2 59.3L383 49.89M276.2 60.2L294 73.07L311.8 73.11L329.6 74.76L347.4 63.98L365.2 59.32L383 61.51M276.2 60.2L294 53.11L311.8 76.84L329.6 74.43L347.4 64.55L365.2 61.81L383 79.17M276.2 60.2L294 59.2L311.8 66.41L329.6 74.94L347.4 70.86L365.2 62.26L383 71.12M276.2 60.2L294 69.1L311.8 75.55L329.6 75.12L347.4 70.18L365.2 66.17L383 73.37M276.2 60.2L294 62.98L311.8 71.44L329.6 50.29L347.4 64.11L365.2 52.55L383 62.13M276.2 60.2L294 62.87L311.8 63.84L329.6 72.09L347.4 62.44L365.2 53.58L383 62.93M276.2 60.2L294 65.72L311.8 67.07L329.6 68.97L347.4 68.48L365.2 65.45L383 60.79M276.2 60.2L294 68.57L311.8 69.16L329.6 66.49L347.4 62.76L365.2 62.23L383 64.3M276.2 60.2L294 63.82L311.8 71.13L329.6 55.83L347.4 52.46L365.2 61.77L383 81.13M276.2 60.2L294 50.77L311.8 69.21L329.6 65.07L347.4 68.79L365.2 72.72L383 62.45M276.2 60.2L294 54.23L311.8 66.02L329.6 48.46L347.4 57.37L365.2 51.9L383 79.52M276.2 60.2L294 66.89L311.8 78.31L329.6 63.52L347.4 80.07L365.2 63.37L383 58.44M276.2 60.2L294 60.86L311.8 68.32L329.6 73.49L347.4 71.73L365.2 64.3L383 58.19M276.2 60.2L294 71.03L311.8 59.26L329.6 80.69L347.4 51.83L365.2 62.8L383 56.03M276.2 60.2L294 57.22L311.8 75.27L329.6 51.51L347.4 54.99L365.2 61.5L383 72.41M276.2 60.2L294 79.46L311.8 76.03L329.6 69.23L347.4 61.24L365.2 60.99L383 64.65M276.2 60.2L294 63.2L311.8 71.26L329.6 57.71L347.4 58.56L365.2 55.96L383 65.35M276.2 60.2L294 54.81L311.8 66.14L329.6 53.86L347.4 51.01L365.2 74.64L383 60.83M276.2 60.2L294 67.08L311.8 62.41L329.6 73.48L347.4 63.62L365.2 64.68L383 57.22M276.2 60.2L294 79.55L311.8 63.97L329.6 54.43L347.4 57.57L365.2 60.44L383 60.79M276.2 60.2L294 60.45L311.8 79.13L329.6 64.27L347.4 69.51L365.2 70.41L383 61.58M276.2 60.2L294 66.54L311.8 68.76L329.6 54.47L347.4 73.57L365.2 53.58L383 78.54M276.2 60.2L294 75.01L311.8 75.98L329.6 66.46L347.4 66.66L365.2 55.32L383 73.23M276.2 60.2L294 58.2L311.8 70.43L329.6 66.96L347.4 51.39L365.2 71.32L383 66.64M276.2 60.2L294 64.27L311.8 75.98L329.6 48.4L347.4 56.34L365.2 70.67L383 78.2M276.2 60.2L294 52.62L311.8 73.84L329.6 59.68L347.4 63.75L365.2 67.67L383 61.86M276.2 60.2L294 68.57L311.8 73.55L329.6 65.79L347.4 52.57L365.2 56.27L383 64.27M276.2 60.2L294 65.29L311.8 68.03L329.6 71.74L347.4 61.8L365.2 66.47L383 64.51M276.2 60.2L294 49.01L311.8 65.44L329.6 67.07L347.4 72.24L365.2 69.36L383 65.07M276.2 60.2L294 50.71L311.8 65.03L329.6 72.38L347.4 59.31L365.2 67.18L383 52.31M276.2 60.2L294 77.15L311.8 71.13L329.6 75.55L347.4 62.53L365.2 52.77L383 53.32M276.2 60.2L294 72.6L311.8 74.72L329.6 67.19L347.4 61.12L365.2 55.97L383 69.42M276.2 60.2L294 64.58L311.8 68.99L329.6 72.1L347.4 70.64L365.2 54.71L383 64.69M276.2 60.2L294 48.98L311.8 77.15L329.6 56.53L347.4 53.97L365.2 61.65L383 64.89M276.2 60.2L294 62.61L311.8 70.92L329.6 65.08L347.4 77.51L365.2 59.82L383 56.53M276.2 60.2L294 71.36L311.8 73.06L329.6 74.47L347.4 75.4L365.2 62.15L383 59.36M276.2 60.2L294 75.73L311.8 77.14L329.6 57.29L347.4 53.31L365.2 64.31L383 77.1M276.2 60.2L294 66.87L311.8 73.51L329.6 73.64L347.4 66.44L365.2 60.24L383 75.32M276.2 60.2L294 73.71L311.8 75.75L329.6 69.02L347.4 55.82L365.2 62.59L383 63.96M276.2 60.2L294 56.62L311.8 71.28L329.6 67.63L347.4 67.94L365.2 62.75L383 85.73M276.2 60.2L294 50.97L311.8 71.66L329.6 66.97L347.4 74.5L365.2 58.97L383 66.26M276.2 60.2L294 72.37L311.8 73.43L329.6 63.16L347.4 57.91L365.2 65.49L383 59.01M276.2 60.2L294 62.5L311.8 71.04L329.6 72.59L347.4 65.24L365.2 63.37L383 77.81M276.2 60.2L294 74.41L311.8 70.68L329.6 60.72L347.4 73.52L365.2 57.2L383 67.62M276.2 60.2L294 74.24L311.8 70.54L329.6 72.16L347.4 76.17L365.2 57.61L383 54.04M276.2 60.2L294 60.02L311.8 62.5L329.6 76.51L347.4 76.73L365.2 62.27L383 69.77M276.2 60.2L294 62.39L311.8 61.61L329.6 56.77L347.4 60.2L365.2 66.48L383 73.49M276.2 60.2L294 66.18L311.8 71.79L329.6 62.58L347.4 49.89L365.2 75.34L383 77.07M276.2 60.2L294 71.84L311.8 65.83L329.6 68.94L347.4 74.89L365.2 62.89L383 77.83M276.2 60.2L294 72.33L311.8 62.03L329.6 57.92L347.4 73.61L365.2 53.67L383 70.29M276.2 60.2L294 63.5L311.8 74.49L329.6 81.13L347.4 52.46L365.2 55.53L383 61.79M276.2 60.2L294 60.99L311.8 70.42L329.6 65.99L347.4 72.57L365.2 50.67L383 71.37M276.2 60.2L294 70.46L311.8 73.49L329.6 71.13L347.4 58.11L365.2 63.19L383 68.57M276.2 60.2L294 69.32L311.8 74.38L329.6 58.26L347.4 65.85L365.2 70.98L383 75.32M276.2 60.2L294 58.11L311.8 72.76L329.6 56.3L347.4 70.43L365.2 65.25L383 62.19M276.2 60.2L294 60.63L311.8 68.62L329.6 68.97L347.4 82.1L365.2 56.02L383 73.69M276.2 60.2L294 61.02L311.8 71.86L329.6 71.62L347.4 64.27L365.2 68.63L383 63.5M276.2 60.2L294 58.95L311.8 61.05L329.6 56.19L347.4 62.92L365.2 76.54L383 65.72M276.2 60.2L294 65.88L311.8 66.77L329.6 68.41L347.4 72.3L365.2 60.65L383 65.84M276.2 60.2L294 72.35L311.8 71.53L329.6 56.08L347.4 64.35L365.2 63.26L383 67.46M276.2 60.2L294 68.44L311.8 62.78L329.6 76.94L347.4 69.94L365.2 59.6L383 62.47M276.2 60.2L294 53.84L311.8 60.71L329.6 60.13L347.4 67.64L365.2 62.93L383 54.7M276.2 60.2L294 67.08L311.8 66.58L329.6 68.46L347.4 63.3L365.2 61.03L383 74.26M276.2 60.2L294 75.15L311.8 71.02L329.6 55.29L347.4 61.88L365.2 63.85L383 58.03M276.2 60.2L294 64.44L311.8 68.18L329.6 69.56L347.4 68.69L365.2 65.37L383 70.55M276.2 60.2L294 64.3L311.8 70.54L329.6 81.17L347.4 64.06L365.2 63.41L383 78.64M276.2 60.2L294 80.48L311.8 72.12L329.6 59.65L347.4 73.11L365.2 56.65L383 58.8M276.2 60.2L294 56.55L311.8 70.83L329.6 56.04L347.4 62.06L365.2 65.03L383 62.6M276.2 60.2L294 67.7L311.8 72.3L329.6 49.61L347.4 63.82L365.2 62.94L383 72.91M276.2 60.2L294 67.92L311.8 72.78L329.6 69.62L347.4 54.26L365.2 57.64L383 67.78M276.2 60.2L294 77.46L311.8 73.18L329.6 68.81L347.4 64.92L365.2 69.15L383 74.16M276.2 60.2L294 56.61L311.8 74.49L329.6 75.05L347.4 65.82L365.2 69.58L383 62.35M276.2 60.2L294 64.8L311.8 68.32L329.6 79.34L347.4 74.92L365.2 62.74L383 52.51M276.2 60.2L294 73.59L311.8 67.13L329.6 51.33L347.4 60.02L365.2 75.49L383 62.5M276.2 60.2L294 62.9L311.8 64.19L329.6 49.26L347.4 61.21L365.2 66.94L383 68.04M276.2 60.2L294 63.6L311.8 72.3L329.6 53L347.4 59.45L365.2 59.24L383 67.39M276.2 60.2L294 73.82L311.8 74.04L329.6 74.6L347.4 75.12L365.2 52.7L383 74.25M276.2 60.2L294 57.26L311.8 67.1L329.6 67.97L347.4 53.4L365.2 55.64L383 63.19M276.2 60.2L294 69.95L311.8 65.72L329.6 65.34L347.4 67.73L365.2 72.48L383 66.55M276.2 60.2L294 59.43L311.8 81.45L329.6 65.79L347.4 71.08L365.2 56.56L383 70.27M276.2 60.2L294 51.56L311.8 70.06L329.6 62.54L347.4 67.47L365.2 72.68L383 81.82M276.2 60.2L294 77.52L311.8 76.01L329.6 57.94L347.4 48.93L365.2 56.94L383 70.63M276.2 60.2L294 55.67L311.8 69.31L329.6 70.71L347.4 51.4L365.2 68.12L383 52.14M276.2 60.2L294 70.45L311.8 68.34L329.6 68.71L347.4 77.3L365.2 59.16L383 59.69M276.2 60.2L294 54.85L311.8 68.15L329.6 67.3L347.4 68.53L365.2 61.15L383 75.67M276.2 60.2L294 52.58L311.8 65.43L329.6 67.22L347.4 51.8L365.2 72.81L383 70.16M276.2 60.2L294 60.77L311.8 75.09L329.6 50.05L347.4 66.39L365.2 76.81L383 56.78M276.2 60.2L294 79.08L311.8 76.72L329.6 67.88L347.4 66.47L365.2 64.67L383 80.74M276.2 60.2L294 71.38L311.8 78.62L329.6 74.08L347.4 68.7L365.2 52.65L383 65.84M276.2 60.2L294 64.28L311.8 69.36L329.6 62.62L347.4 56.85L365.2 56.6L383 72.48M276.2 60.2L294 60.89L311.8 79.3L329.6 71.36L347.4 55.57L365.2 67.56L383 64.87M276.2 60.2L294 59.94L311.8 61.58L329.6 61.79L347.4 48.83L365.2 66.35L383 62.79M276.2 60.2L294 67L311.8 67.27L329.6 70.06L347.4 60.23L365.2 73.34L383 54.25M276.2 60.2L294 66.92L311.8 78.64L329.6 70.03L347.4 60.63L365.2 69.26L383 69.39M276.2 60.2L294 57.17L311.8 61.97L329.6 66.48L347.4 67.9L365.2 76.23L383 71.46M276.2 60.2L294 71.49L311.8 68.08L329.6 60.86L347.4 76.92L365.2 67.27L383 56.3M276.2 60.2L294 59.02L311.8 68.19L329.6 55.7L347.4 64.91L365.2 57.55L383 62.81M276.2 60.2L294 62.93L311.8 74.92L329.6 52.02L347.4 58.85L365.2 61.14L383 68.52M276.2 60.2L294 74.99L311.8 74.26L329.6 73.77L347.4 66.42L365.2 62.63L383 54.16M276.2 60.2L294 63.03L311.8 58.1L329.6 62.1L347.4 63.5L365.2 64.37L383 67.2M276.2 60.2L294 52L311.8 74.69L329.6 60.3L347.4 55.12L365.2 62.31L383 63.86M276.2 60.2L294 63.24L311.8 72.84L329.6 80.94L347.4 76.4L365.2 60.68L383 65.22M276.2 60.2L294 52.36L311.8 62.62L329.6 60.8L347.4 71.88L365.2 67.69L383 60.29M276.2 60.2L294 54.06L311.8 75.17L329.6 79.64L347.4 74.3L365.2 54.75L383 64.98M276.2 60.2L294 70.33L311.8 74.14L329.6 72.11L347.4 75.8L365.2 74.13L383 60.68M276.2 60.2L294 62.74L311.8 74.93L329.6 78.15L347.4 65.87L365.2 61.52L383 54.66M276.2 60.2L294 54.66L311.8 75.1L329.6 65L347.4 58.88L365.2 66.98L383 76.17M276.2 60.2L294 70.51L311.8 64.42L329.6 65.12L347.4 59.82L365.2 64.48L383 63.78M276.2 60.2L294 73.59L311.8 63.53L329.6 73.69L347.4 61.11L365.2 69.22L383 66.5M276.2 60.2L294 66.83L311.8 64.32L329.6 67.87L347.4 59.74L365.2 64.42L383 56.85M276.2 60.2L294 74.34L311.8 62.4L329.6 66.37L347.4 60.21L365.2 64.31L383 75.56M276.2 60.2L294 68.97L311.8 71.5L329.6 64.59L347.4 62.31L365.2 65.9L383 65.89M276.2 60.2L294 72.33L311.8 70.13L329.6 64.27L347.4 79.8L365.2 70.27L383 68.29M276.2 60.2L294 50.58L311.8 76.62L329.6 73.27L347.4 72.6L365.2 59.83L383 62.85M276.2 60.2L294 50.48L311.8 77.85L329.6 64.94L347.4 63.87L365.2 53.22L383 64.8M276.2 60.2L294 76.01L311.8 82.01L329.6 69.16L347.4 57.58L365.2 60.14L383 64.95M276.2 60.2L294 67.02L311.8 69.51L329.6 57.71L347.4 47.52L365.2 72.58L383 82.18M276.2 60.2L294 51.02L311.8 72.03L329.6 56.8L347.4 64.19L365.2 52.01L383 72.13M276.2 60.2L294 67.23L311.8 73.07L329.6 80.13L347.4 66.41L365.2 60.68L383 77.39M276.2 60.2L294 63.07L311.8 64.79L329.6 78.24L347.4 73.58L365.2 67.78L383 63.63M276.2 60.2L294 80L311.8 72.9L329.6 55.34L347.4 72.53L365.2 61.06L383 50.7M276.2 60.2L294 60.47L311.8 77.24L329.6 49.33L347.4 65.32L365.2 62.13L383 62.83M276.2 60.2L294 61.03L311.8 68.72L329.6 62.37L347.4 66.12L365.2 67.31L383 55.68M276.2 60.2L294 77.32L311.8 67.99L329.6 59.03L347.4 70.08L365.2 72.36L383 55.93M276.2 60.2L294 62L311.8 74.14L329.6 70.12L347.4 77.36L365.2 70.17L383 63.32M276.2 60.2L294 59.69L311.8 73.46L329.6 61.45L347.4 65.99L365.2 63.85L383 63.35M276.2 60.2L294 75.06L311.8 71.75L329.6 63.74L347.4 56.89L365.2 61.58L383 65.31M276.2 60.2L294 57.99L311.8 67.39L329.6 53.33L347.4 79.49L365.2 72.08L383 76.89M276.2 60.2L294 78.57L311.8 66.41L329.6 76.84L347.4 65.34L365.2 64.77L383 66.83M276.2 60.2L294 56.4L311.8 81.35L329.6 69.12L347.4 57.74L365.2 64.35L383 68.99M276.2 60.2L294 64.2L311.8 70.89L329.6 61.37L347.4 49.13L365.2 62.31L383 64.07M276.2 60.2L294 69.25L311.8 72.03L329.6 75.15L347.4 62.98L365.2 62.41L383 74.63M276.2 60.2L294 54.75L311.8 77.62L329.6 57.71L347.4 60.62L365.2 55.13L383 56.01M276.2 60.2L294 64.89L311.8 62.38L329.6 53.79L347.4 64.56L365.2 69.78L383 70.72M276.2 60.2L294 63.5L311.8 65.89L329.6 68.5L347.4 60.97L365.2 66.95L383 81.83M276.2 60.2L294 75.03L311.8 67.07L329.6 58.39L347.4 56.79L365.2 52.83L383 73.74M276.2 60.2L294 66.44L311.8 68.55L329.6 65.58L347.4 80.45L365.2 59.72L383 75.83M276.2 60.2L294 64L311.8 63.82L329.6 66.72L347.4 54.77L365.2 64.52L383 59.73M276.2 60.2L294 79.19L311.8 65.78L329.6 57.4L347.4 71.23L365.2 57.8L383 73.11M276.2 60.2L294 59.19L311.8 71.16L329.6 67.45L347.4 71.7L365.2 54.8L383 54.66M276.2 60.2L294 70.9L311.8 68.65L329.6 73.71L347.4 62.32L365.2 72.92L383 69.55M276.2 60.2L294 54.57L311.8 66.8L329.6 60.27L347.4 72.41L365.2 58.37L383 72.8M276.2 60.2L294 61.34L311.8 68.57L329.6 69.39L347.4 73.52L365.2 73.71L383 69.99M276.2 60.2L294 65.57L311.8 79.09L329.6 56.67L347.4 76.15L365.2 74.34L383 84.13M276.2 60.2L294 69.54L311.8 70.36L329.6 76.2L347.4 51.66L365.2 52.59L383 74.92M276.2 60.2L294 68.76L311.8 67.86L329.6 70.15L347.4 62.05L365.2 58.05L383 60.64M276.2 60.2L294 61.28L311.8 78.63L329.6 62.41L347.4 69.07L365.2 66.83L383 62.37M276.2 60.2L294 52.85L311.8 71.86L329.6 72.42L347.4 48.31L365.2 65.06L383 63.77M276.2 60.2L294 65.39L311.8 64.09L329.6 66.72L347.4 71.32L365.2 65.75L383 75.66M276.2 60.2L294 58.21L311.8 76.94L329.6 79.98L347.4 53.6L365.2 58.21L383 56.24M276.2 60.2L294 68.66L311.8 58.85L329.6 73.65L347.4 62.19L365.2 71.84L383 65.66M276.2 60.2L294 77.93L311.8 69.86L329.6 67.05L347.4 53.63L365.2 51.14L383 61.77M276.2 60.2L294 62.32L311.8 71.67L329.6 61.65L347.4 57.17L365.2 65.59L383 63.23M276.2 60.2L294 64.02L311.8 66.68L329.6 71.41L347.4 75.84L365.2 60.8L383 83.27M276.2 60.2L294 66.93L311.8 73.87L329.6 75.73L347.4 74.59L365.2 61.76L383 53.42M276.2 60.2L294 76.09L311.8 66.89L329.6 70.71L347.4 69.25L365.2 75.01L383 65.1M276.2 60.2L294 67.92L311.8 66.2L329.6 68.27L347.4 65.48L365.2 71.28L383 74.02M276.2 60.2L294 58.21L311.8 72.82L329.6 57.81L347.4 53.11L365.2 65.32L383 71.28M276.2 60.2L294 66.35L311.8 68.42L329.6 66.55L347.4 69.12L365.2 59.86L383 62.52M276.2 60.2L294 66.48L311.8 68.13L329.6 75.61L347.4 75.87L365.2 59.75L383 71.92M276.2 60.2L294 66.93L311.8 62.45L329.6 63.75L347.4 77.25L365.2 62.85L383 77.46M276.2 60.2L294 70.32L311.8 67.93L329.6 54.97L347.4 63.8L365.2 57.96L383 59.85M276.2 60.2L294 74.48L311.8 61.19L329.6 71.11L347.4 60.64L365.2 65.01L383 63.14M276.2 60.2L294 68.44L311.8 80.25L329.6 74.86L347.4 70.63L365.2 61.66L383 63.78M276.2 60.2L294 67.45L311.8 64.81L329.6 76.91L347.4 58.39L365.2 71.05L383 71.33M276.2 60.2L294 51.35L311.8 64.96L329.6 63.6L347.4 60.27L365.2 57.46L383 77.71M276.2 60.2L294 54.01L311.8 72.89L329.6 74.58L347.4 71.39L365.2 54.92L383 69.47M276.2 60.2L294 58.7L311.8 61.82L329.6 72.27L347.4 72.95L365.2 57.44L383 71.18M276.2 60.2L294 76.32L311.8 68.77L329.6 62.16L347.4 59.55L365.2 70.99L383 66.08M276.2 60.2L294 62.36L311.8 79.24L329.6 77.21L347.4 65.55L365.2 68.31L383 72.01M276.2 60.2L294 56.8L311.8 71.78L329.6 63.43L347.4 52.93L365.2 63.27L383 50.35M276.2 60.2L294 63.41L311.8 62.34L329.6 79.01L347.4 60.56L365.2 72.43L383 53.19M276.2 60.2L294 73.71L311.8 77.56L329.6 64.92L347.4 53.27L365.2 66.96L383 72.73M276.2 60.2L294 69.84L311.8 75.43L329.6 57.49L347.4 66.89L365.2 68.68L383 69.02M276.2 60.2L294 57.01L311.8 65.02L329.6 61.82L347.4 70.11L365.2 57.04L383 79.41M276.2 60.2L294 64.78L311.8 61.46L329.6 64.48L347.4 66.92L365.2 69.93L383 53.48M276.2 60.2L294 58.56L311.8 70.58L329.6 74.53L347.4 81.16L365.2 69.27L383 68.39M276.2 60.2L294 57.19L311.8 75.22L329.6 66.01L347.4 65.47L365.2 61.14L383 60.61M276.2 60.2L294 69.26L311.8 74.76L329.6 49.23L347.4 58L365.2 64.61L383 83.57M276.2 60.2L294 70.38L311.8 75.48L329.6 61.77L347.4 64.67L365.2 63L383 80.03M276.2 60.2L294 64.93L311.8 66.32L329.6 57.16L347.4 56.34L365.2 63.21L383 78.89M276.2 60.2L294 70.56L311.8 66.63L329.6 66.44L347.4 73.68L365.2 58.28L383 61.76" fill="none" stroke="#d3d3d3" stroke-width="0.35" stroke-linejoin="miter"/>
<path d="M276.2 60.2L294 71.98L311.8 69.93L329.6 67.41L347.4 71.45L365.2 38.42L383 46.28M276.2 60.2L294 69.04L311.8 69.95L329.6 67.7L347.4 41.03L365.2 39.4L383 43.83M276.2 60.2L294 62.97L311.8 75.2L329.6 67.54L347.4 63.62L365.2 64.58L383 45.83M276.2 60.2L294 65.73L311.8 67.89L329.6 42.37L347.4 54.85L365.2 58.94L383 64.98M276.2 60.2L294 69.11L311.8 73.12L329.6 52.67L347.4 65.58L365.2 63.79L383 70.31M276.2 60.2L294 70.57L311.8 65.48L329.6 71.25L347.4 50.83L365.2 43.15L383 53.84M276.2 60.2L294 41.93L311.8 57.26L329.6 75.97L347.4 69.75L365.2 68.22L383 46.1M276.2 60.2L294 43.47L311.8 68.57L329.6 61.38L347.4 57.46L365.2 44.38L383 44.92M276.2 60.2L294 64.93L311.8 61.14L329.6 67.94L347.4 68.85L365.2 59.72L383 46.6M276.2 60.2L294 76.71L311.8 77.66L329.6 57.27L347.4 61.42L365.2 58.66L383 45.09M276.2 60.2L294 68.48L311.8 55.7L329.6 46.21L347.4 60.09L365.2 60.68L383 67.6M276.2 60.2L294 68.67L311.8 71.71L329.6 61.01L347.4 45.23L365.2 41.04L383 69.51M276.2 60.2L294 72.44L311.8 70.65L329.6 42.78L347.4 43.07L365.2 42.48L383 42.02M276.2 60.2L294 55.48L311.8 55.43L329.6 60.9L347.4 76.55L365.2 37.92L383 47.52M276.2 60.2L294 39.32L311.8 76.51L329.6 69.61L347.4 75.92L365.2 58.95L383 76.43M276.2 60.2L294 61.84L311.8 74.67L329.6 43.91L347.4 71.82L365.2 60.51L383 48.01M276.2 60.2L294 61.91L311.8 68.12L329.6 37.77L347.4 49.59L365.2 68.99L383 73.77M276.2 60.2L294 77.45L311.8 77.42L329.6 38.56L347.4 63.47L365.2 43.95L383 45.61M276.2 60.2L294 50.2L311.8 76.77L329.6 68.11L347.4 71.99L365.2 40.78L383 58.96M276.2 60.2L294 61.38L311.8 70.17L329.6 76.57L347.4 40.42L365.2 67.68L383 61.85M276.2 60.2L294 69.15L311.8 56.63L329.6 43L347.4 59.53L365.2 44.99L383 78.24M276.2 60.2L294 62.42L311.8 56.54L329.6 69.57L347.4 41.35L365.2 38.59L383 74.54M276.2 60.2L294 48.32L311.8 66.62L329.6 51.94L347.4 57.2L365.2 64.95L383 45.86M276.2 60.2L294 57.27L311.8 59.32L329.6 71.19L347.4 53.96L365.2 63.04L383 41.68M276.2 60.2L294 72.27L311.8 55.4L329.6 65.32L347.4 44.62L365.2 58.84L383 78.22M276.2 60.2L294 45.5L311.8 56.45L329.6 43.23L347.4 59.47L365.2 65.03L383 70.38M276.2 60.2L294 53.47L311.8 72.09L329.6 72.81L347.4 69.48L365.2 45.14L383 41.32M276.2 60.2L294 43.24L311.8 56.69L329.6 67.06L347.4 74.01L365.2 44.59L383 66.57M276.2 60.2L294 54.94L311.8 55.03L329.6 70.02L347.4 73.84L365.2 65.05L383 45.23M276.2 60.2L294 67.24L311.8 71.04L329.6 64.86L347.4 70.63L365.2 46.87L383 64.65M276.2 60.2L294 66.31L311.8 70.56L329.6 63.79L347.4 45.4L365.2 66.02L383 60.2M276.2 60.2L294 70.39L311.8 54.78L329.6 62.46L347.4 43.02L365.2 62.28L383 46.92M276.2 60.2L294 62.13L311.8 77.1L329.6 39.94L347.4 65.29L365.2 59.19L383 63.32M276.2 60.2L294 65.07L311.8 55.4L329.6 65.37L347.4 41.38L365.2 64.76L383 59.78M276.2 60.2L294 61.89L311.8 71.74L329.6 60.94L347.4 68.3L365.2 63.06L383 79.4M276.2 60.2L294 60.23L311.8 69.26L329.6 47.02L347.4 65.83L365.2 57.62L383 64.06M276.2 60.2L294 42.44L311.8 56.64L329.6 67.37L347.4 63.45L365.2 70.58L383 63.97M276.2 60.2L294 75.4L311.8 71.14L329.6 46.65L347.4 64.02L365.2 40.55L383 42.99M276.2 60.2L294 38.97L311.8 56.53L329.6 40.65L347.4 70.71L365.2 61.84L383 63.78M276.2 60.2L294 69.96L311.8 54.54L329.6 66.47L347.4 45.76L365.2 39.11L383 66.52M276.2 60.2L294 49.27L311.8 54.25L329.6 62.82L347.4 40.98L365.2 72.49L383 56.73M276.2 60.2L294 72.83L311.8 77.86L329.6 41.06L347.4 59.16L365.2 44.61L383 63.29M276.2 60.2L294 45.92L311.8 77.84L329.6 42.76L347.4 59.35L365.2 60.99L383 71.25M276.2 60.2L294 40.23L311.8 54.23L329.6 65.37L347.4 67.26L365.2 60.75L383 78.19M276.2 60.2L294 64.11L311.8 71.25L329.6 39.62L347.4 63.74L365.2 57.93L383 44.28" fill="none" stroke="#d3d3d3" stroke-width="0.3" stroke-linejoin="miter"/>
<path d="M276.2 60.2L294 49.56L311.8 75L329.6 62.06L347.4 61.83L365.2 34.78L383 67.17M276.2 60.2L294 62.66L311.8 73.82L329.6 66.78L347.4 52.06L365.2 40.57L383 66.29M276.2 60.2L294 69.27L311.8 72.8L329.6 81.63L347.4 53.64L365.2 38.98L383 82.33M276.2 60.2L294 70.26L311.8 67.58L329.6 65.51L347.4 65.63L365.2 41.1L383 63.08M276.2 60.2L294 71.7L311.8 75.73L329.6 53.86L347.4 64.99L365.2 30.94L383 77.05M276.2 60.2L294 52.53L311.8 75.32L329.6 68.25L347.4 61.9L365.2 32.6L383 70.35" fill="none" stroke="#d3d3d3" stroke-width="0.3" stroke-linejoin="miter"/>
<path d="M276.2 60.2L294 116.98L311.8 78.04L329.6 78.46L347.4 62.1L365.2 60.23L383 71M276.2 60.2L294 98.99L311.8 63.1L329.6 80.34L347.4 79.52L365.2 64.62L383 55.5M276.2 60.2L294 100.6L311.8 70.41L329.6 75.16L347.4 74.15L365.2 65.25L383 61.69M276.2 60.2L294 95.37L311.8 76.49L329.6 65.81L347.4 62.38L365.2 75.86L383 68.65M276.2 60.2L294 89.66L311.8 69.01L329.6 60.98L347.4 67.96L365.2 71.7L383 60.02M276.2 60.2L294 103L311.8 66.52L329.6 61.35L347.4 69.95L365.2 61.68L383 79.48M276.2 60.2L294 106.08L311.8 65L329.6 70.11L347.4 54.32L365.2 69.21L383 79.21M276.2 60.2L294 104.84L311.8 78.67L329.6 65.2L347.4 66.67L365.2 72.41L383 69.13M276.2 60.2L294 112.59L311.8 69.51L329.6 62.38L347.4 69.21L365.2 64.41L383 64.91M276.2 60.2L294 94.69L311.8 75L329.6 63.67L347.4 73.02L365.2 67.77L383 69.83M276.2 60.2L294 100.93L311.8 71.4L329.6 59.09L347.4 55.59L365.2 73.08L383 79.54M276.2 60.2L294 116.61L311.8 63.36L329.6 72.98L347.4 73.91L365.2 73.47L383 60.14M276.2 60.2L294 102.71L311.8 65.28L329.6 62.04L347.4 67.37L365.2 65.52L383 72.09M276.2 60.2L294 103.22L311.8 73.84L329.6 64.76L347.4 75.05L365.2 63.3L383 60.4M276.2 60.2L294 118.87L311.8 75.03L329.6 57.09L347.4 65.9L365.2 72.44L383 77.19M276.2 60.2L294 88.49L311.8 73.07L329.6 63.97L347.4 63.48L365.2 71.5L383 71.85M276.2 60.2L294 116.63L311.8 72.1L329.6 77.4L347.4 75.01L365.2 69.54L383 71.1M276.2 60.2L294 88.47L311.8 63.14L329.6 69.64L347.4 57.06L365.2 55.37L383 54M276.2 60.2L294 100.61L311.8 71.96L329.6 63.1L347.4 63.6L365.2 59.21L383 73.22M276.2 60.2L294 102.84L311.8 61.66L329.6 52.68L347.4 63.77L365.2 63.67L383 73.43M276.2 60.2L294 116.65L311.8 67.78L329.6 62.02L347.4 76.05L365.2 67.58L383 64.64M276.2 60.2L294 89.68L311.8 72.96L329.6 52.56L347.4 54.35L365.2 69.81L383 67.3" fill="none" stroke="#d3d3d3" stroke-width="0.35" stroke-linejoin="miter"/>
<path d="M276.2 60.2L294 66.84L311.8 108.59L329.6 71.06L347.4 61.12L365.2 60.65L383 66.68M276.2 60.2L294 66.21L311.8 116.18L329.6 68.71L347.4 61.54L365.2 67.52L383 59.32M276.2 60.2L294 69.9L311.8 109.45L329.6 67.73L347.4 63.54L365.2 59.87L383 68.02M276.2 60.2L294 67.61L311.8 108.74L329.6 69.58L347.4 64.44L365.2 61.08L383 66.08M276.2 60.2L294 63.81L311.8 122.78L329.6 66.42L347.4 69.25L365.2 65.1L383 72.7M276.2 60.2L294 63.09L311.8 131.24L329.6 68.64L347.4 58.84L365.2 67.6L383 66.17M276.2 60.2L294 66.76L311.8 106.05L329.6 62.08L347.4 66.05L365.2 59.78L383 78.2M276.2 60.2L294 69.8L311.8 119.79L329.6 60.98L347.4 57.19L365.2 57.56L383 57.26M276.2 60.2L294 56.52L311.8 128.13L329.6 59.31L347.4 62.76L365.2 68.92L383 54.16M276.2 60.2L294 63.2L311.8 127.73L329.6 65.22L347.4 74.33L365.2 67.79L383 66.09M276.2 60.2L294 57.21L311.8 132.9L329.6 74.24L347.4 72.64L365.2 52.49L383 66.98M276.2 60.2L294 66.24L311.8 114.65L329.6 68.78L347.4 65L365.2 61.02L383 71.66M276.2 60.2L294 65.97L311.8 133.08L329.6 60.39L347.4 62.79L365.2 56.35L383 60.06M276.2 60.2L294 68.11L311.8 115.51L329.6 69.14L347.4 65.39L365.2 64.92L383 62.77M276.2 60.2L294 59.08L311.8 103.98L329.6 78.04L347.4 57.07L365.2 69.61L383 76.64M276.2 60.2L294 60.73L311.8 126.64L329.6 60.4L347.4 60.83L365.2 63.45L383 67.29M276.2 60.2L294 68.28L311.8 102.37L329.6 62.62L347.4 72.63L365.2 70.1L383 83.19M276.2 60.2L294 63.33L311.8 108.87L329.6 75.81L347.4 54.1L365.2 59.72L383 63.69M276.2 60.2L294 70.68L311.8 131.12L329.6 61.29L347.4 57.96L365.2 69.13L383 52.95M276.2 60.2L294 75.64L311.8 117.43L329.6 75.13L347.4 67.86L365.2 53.55L383 71.36M276.2 60.2L294 66.61L311.8 116.05L329.6 58.37L347.4 56.62L365.2 65.5L383 62.53M276.2 60.2L294 63.99L311.8 113.57L329.6 68.12L347.4 63.67L365.2 67.15L383 84.22M276.2 60.2L294 57.31L311.8 114.3L329.6 77.62L347.4 60.74L365.2 61.41L383 72.84M276.2 60.2L294 58.94L311.8 133.44L329.6 56.67L347.4 73.79L365.2 68.43L383 58.33M276.2 60.2L294 67.01L311.8 95.67L329.6 69.24L347.4 50.9L365.2 52.14L383 74.93M276.2 60.2L294 55.2L311.8 94.87L329.6 54.05L347.4 64.9L365.2 70.45L383 74.96M276.2 60.2L294 63.95L311.8 130.1L329.6 67.5L347.4 63.6L365.2 73.89L383 64.7M276.2 60.2L294 56.16L311.8 125.19L329.6 58.94L347.4 68.01L365.2 59.94L383 81.54M276.2 60.2L294 67.5L311.8 110.25L329.6 65.49L347.4 58.76L365.2 62.04L383 79.15M276.2 60.2L294 74.03L311.8 95.63L329.6 72.33L347.4 69.22L365.2 64.22L383 63.33M276.2 60.2L294 66.76L311.8 97.79L329.6 59.26L347.4 62.9L365.2 71.31L383 76.38M276.2 60.2L294 72.2L311.8 123.25L329.6 66.45L347.4 57.33L365.2 68.96L383 79.02M276.2 60.2L294 64.55L311.8 108.58L329.6 73.96L347.4 55.6L365.2 63.5L383 67.03M276.2 60.2L294 64.4L311.8 120.04L329.6 64.73L347.4 56.28L365.2 58.38L383 65.17M276.2 60.2L294 76.13L311.8 123.27L329.6 67.24L347.4 70.57L365.2 70.76L383 72.37M276.2 60.2L294 61.36L311.8 133.17L329.6 80.85L347.4 52.58L365.2 59.47L383 60.73M276.2 60.2L294 78.35L311.8 105.76L329.6 62.55L347.4 70.88L365.2 67.35L383 67.04M276.2 60.2L294 61.23L311.8 132.11L329.6 63.79L347.4 70.54L365.2 76.36L383 76.6M276.2 60.2L294 68.28L311.8 114.02L329.6 63.32L347.4 65.02L365.2 54.8L383 52.87M276.2 60.2L294 72.55L311.8 109.78L329.6 58.82L347.4 76.04L365.2 73.15L383 74.85M276.2 60.2L294 64.93L311.8 112.28L329.6 72.31L347.4 71.69L365.2 59.01L383 72.77M276.2 60.2L294 62.11L311.8 132.37L329.6 57.73L347.4 67.06L365.2 64.59L383 70.73M276.2 60.2L294 62.36L311.8 133.04L329.6 56.7L347.4 62.47L365.2 63.76L383 74.64M276.2 60.2L294 72.84L311.8 107.73L329.6 65.35L347.4 71.2L365.2 63.59L383 54.82M276.2 60.2L294 76.18L311.8 117.68L329.6 58.47L347.4 58.06L365.2 51.17L383 60.49M276.2 60.2L294 58.71L311.8 103.15L329.6 65.07L347.4 56.71L365.2 62.59L383 68.7M276.2 60.2L294 69.37L311.8 120.97L329.6 61.08L347.4 66.54L365.2 54.8L383 73.52M276.2 60.2L294 63.61L311.8 109.91L329.6 59.98L347.4 66.47L365.2 74.07L383 54.32M276.2 60.2L294 69.71L311.8 96.87L329.6 57.78L347.4 53.4L365.2 57.5L383 78.95M276.2 60.2L294 60.6L311.8 131.54L329.6 68.76L347.4 56.09L365.2 62.4L383 76.56M276.2 60.2L294 63.91L311.8 123.31L329.6 66.45L347.4 64.74L365.2 55.82L383 71.94M276.2 60.2L294 56.26L311.8 120.68L329.6 53.02L347.4 57.09L365.2 66.44L383 69.63M276.2 60.2L294 67.42L311.8 105.97L329.6 75.61L347.4 63.22L365.2 64.87L383 76.25M276.2 60.2L294 65.95L311.8 106.63L329.6 77.98L347.4 55.24L365.2 74.46L383 64.84M276.2 60.2L294 66.22L311.8 99.82L329.6 70.6L347.4 58.01L365.2 60.19L383 59.6M276.2 60.2L294 66.36L311.8 128.92L329.6 70.61L347.4 79.32L365.2 60.68L383 70.66M276.2 60.2L294 57.28L311.8 109.96L329.6 67.62L347.4 60.45L365.2 61.85L383 63.55M276.2 60.2L294 69.16L311.8 121.64L329.6 69.04L347.4 75.21L365.2 64.95L383 72.14M276.2 60.2L294 64.65L311.8 99.86L329.6 56.01L347.4 59.29L365.2 67.62L383 59.85M276.2 60.2L294 55.91L311.8 125.89L329.6 54.11L347.4 62.03L365.2 68.52L383 59.42M276.2 60.2L294 55.5L311.8 96.08L329.6 52.91L347.4 69.59L365.2 67.71L383 69.97M276.2 60.2L294 70.47L311.8 113.16L329.6 72.17L347.4 51.07L365.2 56.37L383 79.06M276.2 60.2L294 56.48L311.8 129.4L329.6 59.43L347.4 65.82L365.2 58.66L383 67.16M276.2 60.2L294 53.73L311.8 102.97L329.6 71.1L347.4 55.35L365.2 65.56L383 75.34M276.2 60.2L294 60.44L311.8 101.04L329.6 67.74L347.4 63.08L365.2 65.03L383 68.19M276.2 60.2L294 62.22L311.8 101.61L329.6 61.96L347.4 68.53L365.2 66.86L383 65M276.2 60.2L294 63.81L311.8 129.75L329.6 58.87L347.4 63.66L365.2 57.82L383 64.11M276.2 60.2L294 75.09L311.8 109.68L329.6 70L347.4 78.83L365.2 66.07L383 67.05M276.2 60.2L294 68.62L311.8 97.36L329.6 57.65L347.4 59.13L365.2 52.49L383 68.91M276.2 60.2L294 64.48L311.8 126.74L329.6 51.91L347.4 67.92L365.2 76.44L383 75.32M276.2 60.2L294 65.76L311.8 99.25L329.6 71.51L347.4 56.71L365.2 64.54L383 53.07M276.2 60.2L294 68.65L311.8 96.69L329.6 64.95L347.4 53.74L365.2 59.37L383 53.09M276.2 60.2L294 68.57L311.8 133.35L329.6 60.2L347.4 67.51L365.2 61.61L383 71.9M276.2 60.2L294 64.38L311.8 95.75L329.6 54.16L347.4 71.52L365.2 63.58L383 82.72M276.2 60.2L294 54.16L311.8 100.59L329.6 67.45L347.4 63.62L365.2 71.78L383 54.81M276.2 60.2L294 73.52L311.8 95.99L329.6 67.11L347.4 64.51L365.2 67.38L383 63.62M276.2 60.2L294 57.85L311.8 108.47L329.6 73.86L347.4 65.18L365.2 60.67L383 74.09M276.2 60.2L294 57.35L311.8 113.1L329.6 68.67L347.4 58.42L365.2 68.18L383 70.18M276.2 60.2L294 53.48L311.8 104.84L329.6 70.08L347.4 66.38L365.2 62.35L383 62.61M276.2 60.2L294 53.86L311.8 100.27L329.6 66.08L347.4 52.82L365.2 54.64L383 70.76M276.2 60.2L294 67.49L311.8 129.46L329.6 57.1L347.4 72.45L365.2 58.93L383 68.65M276.2 60.2L294 61.86L311.8 114.19L329.6 63.64L347.4 78.68L365.2 67.09L383 60.34M276.2 60.2L294 60.09L311.8 110.27L329.6 55.63L347.4 55.96L365.2 64.91L383 64.86M276.2 60.2L294 67.89L311.8 109.42L329.6 81.33L347.4 64.06L365.2 63.51L383 72.86M276.2 60.2L294 69.88L311.8 127.08L329.6 56.33L347.4 68.03L365.2 75.52L383 50.06M276.2 60.2L294 64.19L311.8 119.61L329.6 60.98L347.4 66.67L365.2 61.12L383 63.78M276.2 60.2L294 69.04L311.8 117.82L329.6 76.85L347.4 61.71L365.2 60.06L383 71.17M276.2 60.2L294 80.58L311.8 133.13L329.6 65.59L347.4 56.44L365.2 67.69L383 60.08M276.2 60.2L294 62.8L311.8 115.85L329.6 63.17L347.4 68.09L365.2 53.16L383 65.33M276.2 60.2L294 64.35L311.8 118.94L329.6 63.83L347.4 63.83L365.2 70.2L383 57.45M276.2 60.2L294 62.82L311.8 124.03L329.6 75.39L347.4 68.23L365.2 64.86L383 79.82M276.2 60.2L294 52.1L311.8 129.11L329.6 75.1L347.4 66.07L365.2 62.13L383 63.8M276.2 60.2L294 63.97L311.8 96.65L329.6 65.6L347.4 59.09L365.2 66.84L383 60.27M276.2 60.2L294 67.08L311.8 132.54L329.6 65L347.4 56.31L365.2 62.06L383 80.9M276.2 60.2L294 68.45L311.8 96.98L329.6 71.52L347.4 76.64L365.2 70.68L383 67.43M276.2 60.2L294 68.29L311.8 119.87L329.6 60.8L347.4 62.82L365.2 62.22L383 67.86M276.2 60.2L294 59.21L311.8 113.98L329.6 56.99L347.4 65.16L365.2 71.22L383 56.18M276.2 60.2L294 67L311.8 115.06L329.6 54.88L347.4 54.52L365.2 68.09L383 55.61M276.2 60.2L294 68.17L311.8 95.79L329.6 70.78L347.4 52.78L365.2 66.77L383 82.91M276.2 60.2L294 54.92L311.8 109.16L329.6 59.82L347.4 53.04L365.2 70.46L383 61.94M276.2 60.2L294 60.51L311.8 118.89L329.6 67.02L347.4 71.04L365.2 67.68L383 79.94M276.2 60.2L294 68.36L311.8 131.49L329.6 65.73L347.4 68.19L365.2 68.94L383 75.02M276.2 60.2L294 69.2L311.8 95.87L329.6 62.75L347.4 70.1L365.2 57.83L383 57.91M276.2 60.2L294 62.08L311.8 101.1L329.6 53.08L347.4 58.3L365.2 55.71L383 55.68M276.2 60.2L294 58.14L311.8 117.92L329.6 54.19L347.4 68.67L365.2 59.77L383 64.06M276.2 60.2L294 74.86L311.8 97.88L329.6 53.04L347.4 55.73L365.2 64.3L383 65.11M276.2 60.2L294 75.82L311.8 115L329.6 70.92L347.4 52.8L365.2 68.7L383 71.82M276.2 60.2L294 75.12L311.8 105.12L329.6 59.5L347.4 61.53L365.2 64.72L383 71.97M276.2 60.2L294 58.46L311.8 129.47L329.6 71.67L347.4 68.31L365.2 57.09L383 73.6M276.2 60.2L294 62.87L311.8 120.77L329.6 69.06L347.4 56.89L365.2 63.26L383 74.97M276.2 60.2L294 63.62L311.8 126.18L329.6 68.37L347.4 54.92L365.2 54.01L383 78.76M276.2 60.2L294 67.03L311.8 112.68L329.6 56.88L347.4 51.88L365.2 68.09L383 78.48M276.2 60.2L294 61.81L311.8 118.68L329.6 68.25L347.4 59.97L365.2 71.85L383 64.04M276.2 60.2L294 71.35L311.8 104.09L329.6 72.18L347.4 60.32L365.2 61.1L383 74.75M276.2 60.2L294 58.7L311.8 103.95L329.6 71.47L347.4 62.49L365.2 64L383 79.93M276.2 60.2L294 67.9L311.8 108.08L329.6 66.45L347.4 61.66L365.2 74.92L383 53.83M276.2 60.2L294 52.85L311.8 98.89L329.6 74.35L347.4 70.96L365.2 70L383 70.35M276.2 60.2L294 52.82L311.8 130.94L329.6 72.95L347.4 76.69L365.2 69.34L383 61.91M276.2 60.2L294 55.99L311.8 103.34L329.6 61.52L347.4 54.63L365.2 51.23L383 60.67M276.2 60.2L294 58.79L311.8 132.85L329.6 60.3L347.4 53.2L365.2 66.17L383 71.83M276.2 60.2L294 59.4L311.8 127.25L329.6 69.08L347.4 76.91L365.2 69.09L383 68.26M276.2 60.2L294 71.54L311.8 130.38L329.6 74.38L347.4 72.72L365.2 66.94L383 68.68M276.2 60.2L294 59.99L311.8 128.67L329.6 56.4L347.4 69.91L365.2 57.51L383 70.53M276.2 60.2L294 58.57L311.8 103.21L329.6 74.41L347.4 50.19L365.2 61.8L383 74.39M276.2 60.2L294 65.52L311.8 117.27L329.6 55.12L347.4 56.04L365.2 68.02L383 76.89M276.2 60.2L294 62.09L311.8 94.63L329.6 73.41L347.4 70.18L365.2 69.91L383 69.39M276.2 60.2L294 72.53L311.8 126.64L329.6 54.76L347.4 76.68L365.2 65.32L383 69.61M276.2 60.2L294 64.72L311.8 98.56L329.6 63.11L347.4 58.98L365.2 61.7L383 63.01M276.2 60.2L294 54.18L311.8 133.07L329.6 66.12L347.4 61.01L365.2 62.78L383 78.79M276.2 60.2L294 63.89L311.8 129.04L329.6 68.56L347.4 61.28L365.2 64.44L383 59.33" fill="none" stroke="#d3d3d3" stroke-width="0.35" stroke-linejoin="miter"/>
<path d="M276.2 60.2L294 77.54L311.8 60.83L329.6 120.03L347.4 63.8L365.2 59.7L383 48.92M276.2 60.2L294 79.21L311.8 71.79L329.6 122.32L347.4 66.89L365.2 50.01L383 61.44M276.2 60.2L294 59.13L311.8 73.33L329.6 102.37L347.4 67.66L365.2 63.45L383 63.57M276.2 60.2L294 62.8L311.8 72.33L329.6 100.36L347.4 62.72L365.2 64.68L383 64.8M276.2 60.2L294 75.53L311.8 67.55L329.6 113.93L347.4 72.3L365.2 57.91L383 55.61M276.2 60.2L294 61.23L311.8 63.58L329.6 102.43L347.4 54.21L365.2 63.52L383 60.5M276.2 60.2L294 64.29L311.8 69.64L329.6 115.4L347.4 81.27L365.2 59.68L383 79.21M276.2 60.2L294 55.27L311.8 60.56L329.6 119.75L347.4 72.82L365.2 54.42L383 60.09M276.2 60.2L294 62.6L311.8 68.74L329.6 98.86L347.4 59.34L365.2 64.12L383 57.64M276.2 60.2L294 65.95L311.8 67.42L329.6 116.46L347.4 70.56L365.2 62.61L383 70.52M276.2 60.2L294 66.7L311.8 67.81L329.6 96.64L347.4 62.2L365.2 59.32L383 57.74M276.2 60.2L294 56.63L311.8 66.77L329.6 125.42L347.4 57.85L365.2 59.14L383 83.26M276.2 60.2L294 58.07L311.8 65.23L329.6 117.83L347.4 58.56L365.2 67.8L383 64.36M276.2 60.2L294 71.42L311.8 70.03L329.6 115.59L347.4 67.44L365.2 54.07L383 71.28M276.2 60.2L294 64.62L311.8 77.28L329.6 114.76L347.4 74.96L365.2 72.91L383 72.83M276.2 60.2L294 64.45L311.8 73.38L329.6 108.84L347.4 72.77L365.2 50.89L383 65.47M276.2 60.2L294 58.75L311.8 65.48L329.6 102.86L347.4 71.34L365.2 65.06L383 64.78M276.2 60.2L294 68.14L311.8 60.46L329.6 108.41L347.4 64.07L365.2 56.76L383 75.87M276.2 60.2L294 69.33L311.8 60.55L329.6 125.52L347.4 65.72L365.2 65.74L383 74.09M276.2 60.2L294 73.4L311.8 62.9L329.6 113.94L347.4 66.48L365.2 60.02L383 69.2M276.2 60.2L294 51.82L311.8 75.33L329.6 117.96L347.4 78.57L365.2 72.32L383 71.61M276.2 60.2L294 57.46L311.8 70.31L329.6 125.11L347.4 71.1L365.2 69.42L383 66.06M276.2 60.2L294 60.92L311.8 73.79L329.6 117.64L347.4 77.44L365.2 68.17L383 69.38M276.2 60.2L294 52.04L311.8 71.73L329.6 105.33L347.4 51.6L365.2 53.78L383 68.31M276.2 60.2L294 63.46L311.8 66.29L329.6 125.01L347.4 62.48L365.2 62.34L383 72.96M276.2 60.2L294 57L311.8 75.56L329.6 115.32L347.4 68.66L365.2 50.63L383 59.02M276.2 60.2L294 60.77L311.8 81.01L329.6 107.95L347.4 73.92L365.2 65.43L383 59.61M276.2 60.2L294 68.32L311.8 69.18L329.6 122.45L347.4 71.79L365.2 61.89L383 62.59M276.2 60.2L294 73.65L311.8 71.23L329.6 103.96L347.4 72.25L365.2 61.68L383 74.37M276.2 60.2L294 56.86L311.8 69.09L329.6 120.29L347.4 63.74L365.2 69.78L383 70.87M276.2 60.2L294 65.8L311.8 72.12L329.6 117.28L347.4 51L365.2 59.96L383 61.32M276.2 60.2L294 65.99L311.8 65.16L329.6 107.02L347.4 77.6L365.2 62.98L383 66.46M276.2 60.2L294 61.51L311.8 81.53L329.6 116.66L347.4 63.57L365.2 55.07L383 64.6M276.2 60.2L294 51.03L311.8 71.48L329.6 98.4L347.4 74.63L365.2 73.18L383 56.29M276.2 60.2L294 60.4L311.8 67.55L329.6 95.77L347.4 53.45L365.2 54.95L383 54.55M276.2 60.2L294 77.72L311.8 75.43L329.6 96L347.4 57.59L365.2 72.61L383 81.53M276.2 60.2L294 62.83L311.8 72.66L329.6 109.09L347.4 52.78L365.2 67.1L383 75.55M276.2 60.2L294 59.38L311.8 70.28L329.6 123.73L347.4 57.59L365.2 57.05L383 67.42M276.2 60.2L294 59.43L311.8 76.38L329.6 117.7L347.4 59.05L365.2 71.77L383 70.86M276.2 60.2L294 75.24L311.8 67.92L329.6 98.7L347.4 60.95L365.2 71.19L383 67.71M276.2 60.2L294 57.82L311.8 78.41L329.6 122.02L347.4 69.51L365.2 52.69L383 61.2M276.2 60.2L294 61.77L311.8 62.27L329.6 109.6L347.4 76.11L365.2 63.1L383 69.22M276.2 60.2L294 59.47L311.8 69.93L329.6 95.63L347.4 70.18L365.2 60.25L383 72.76M276.2 60.2L294 68.05L311.8 69.1L329.6 116.52L347.4 60.32L365.2 60.63L383 67.88M276.2 60.2L294 57.53L311.8 66.69L329.6 109.64L347.4 53.77L365.2 68L383 67.74M276.2 60.2L294 55.1L311.8 74.09L329.6 114.09L347.4 69.78L365.2 55.68L383 63.27M276.2 60.2L294 61.46L311.8 78.43L329.6 120.26L347.4 57.39L365.2 70.62L383 78.08M276.2 60.2L294 58.31L311.8 68.26L329.6 107.18L347.4 71.23L365.2 66.12L383 66.36M276.2 60.2L294 62.17L311.8 76.12L329.6 99.16L347.4 60.5L365.2 55.93L383 68.79M276.2 60.2L294 63.8L311.8 76.96L329.6 96.06L347.4 63.83L365.2 76.03L383 68.68M276.2 60.2L294 63.07L311.8 71.59L329.6 124.25L347.4 79.63L365.2 58.18L383 69.98M276.2 60.2L294 60.17L311.8 60.21L329.6 102.81L347.4 59.17L365.2 55.72L383 73.06M276.2 60.2L294 56.8L311.8 63.51L329.6 101.36L347.4 48.67L365.2 56.23L383 72.55M276.2 60.2L294 60.88L311.8 69.62L329.6 105.64L347.4 57.66L365.2 61.84L383 58.34M276.2 60.2L294 67.16L311.8 77.07L329.6 124.06L347.4 68.89L365.2 59.75L383 70.19M276.2 60.2L294 53.77L311.8 73.28L329.6 107.35L347.4 73.23L365.2 66.61L383 59.78M276.2 60.2L294 60.24L311.8 69.25L329.6 108.55L347.4 68.32L365.2 62.46L383 58.57M276.2 60.2L294 71.85L311.8 71.33L329.6 117.23L347.4 74.17L365.2 60.64L383 78.29M276.2 60.2L294 60.9L311.8 76.59L329.6 112.87L347.4 52.96L365.2 68.5L383 76.25M276.2 60.2L294 61.38L311.8 76.31L329.6 109.17L347.4 74.83L365.2 60.71L383 73.53M276.2 60.2L294 65.2L311.8 72.92L329.6 114.73L347.4 56.27L365.2 60.74L383 63.57M276.2 60.2L294 58.68L311.8 67.68L329.6 97.71L347.4 75.52L365.2 67L383 56.2M276.2 60.2L294 68.21L311.8 78.25L329.6 99.83L347.4 69.63L365.2 68.59L383 60M276.2 60.2L294 63.23L311.8 58.62L329.6 95.36L347.4 67.95L365.2 54.79L383 72.5M276.2 60.2L294 73.31L311.8 71.53L329.6 121.21L347.4 52.34L365.2 69.45L383 54.83M276.2 60.2L294 60.53L311.8 64.9L329.6 118.24L347.4 61.68L365.2 60.97L383 61.84M276.2 60.2L294 60.92L311.8 72.16L329.6 104.14L347.4 63.68L365.2 72.9L383 60.15M276.2 60.2L294 55.37L311.8 69.88L329.6 115.9L347.4 78.84L365.2 62.52L383 58.79M276.2 60.2L294 76.33L311.8 75.02L329.6 102.09L347.4 60.8L365.2 70.67L383 70.43M276.2 60.2L294 66.91L311.8 73.85L329.6 111.41L347.4 51.67L365.2 57.65L383 61.67M276.2 60.2L294 55.89L311.8 71.29L329.6 102.84L347.4 67.62L365.2 56.22L383 74.9M276.2 60.2L294 65.26L311.8 69.61L329.6 114.17L347.4 59.79L365.2 58.94L383 60.5M276.2 60.2L294 65.27L311.8 73.89L329.6 122.37L347.4 54.6L365.2 61.79L383 74.55M276.2 60.2L294 69.18L311.8 82.1L329.6 104.25L347.4 69.06L365.2 68.75L383 59.13M276.2 60.2L294 66.89L311.8 74.02L329.6 105.84L347.4 48.56L365.2 73.54L383 53.64M276.2 60.2L294 62.23L311.8 73.97L329.6 126.17L347.4 74.42L365.2 70.37L383 65.93M276.2 60.2L294 60.87L311.8 72.55L329.6 109.61L347.4 62.44L365.2 63.42L383 49.68M276.2 60.2L294 70.95L311.8 77.98L329.6 121.18L347.4 76.52L365.2 60.48L383 60.32M276.2 60.2L294 71.48L311.8 60.63L329.6 113.08L347.4 72.06L365.2 57.56L383 52.52M276.2 60.2L294 63.96L311.8 69.61L329.6 110.62L347.4 64.23L365.2 60.95L383 76.81M276.2 60.2L294 70.36L311.8 64.54L329.6 118.21L347.4 64.38L365.2 67.61L383 60.48M276.2 60.2L294 57.39L311.8 74.8L329.6 109.82L347.4 68.18L365.2 55.04L383 70.72M276.2 60.2L294 73.72L311.8 65.71L329.6 124.76L347.4 63.73L365.2 62.89L383 68.11M276.2 60.2L294 76.99L311.8 64.65L329.6 103.34L347.4 67.54L365.2 65.32L383 60.19M276.2 60.2L294 73.58L311.8 73.42L329.6 125.78L347.4 60.81L365.2 70.4L383 65.69M276.2 60.2L294 58.01L311.8 65.78L329.6 126.24L347.4 66.68L365.2 68.77L383 70.41M276.2 60.2L294 57.34L311.8 75.12L329.6 108.29L347.4 68.19L365.2 67.72L383 58.99M276.2 60.2L294 65.17L311.8 74.77L329.6 121.69L347.4 63.01L365.2 66.6L383 71.67M276.2 60.2L294 76.29L311.8 74.12L329.6 105.31L347.4 65.65L365.2 54.87L383 72.06M276.2 60.2L294 70.32L311.8 66.45L329.6 115.81L347.4 72.2L365.2 60.72L383 76.07M276.2 60.2L294 64.84L311.8 70.14L329.6 119.19L347.4 54.11L365.2 63.13L383 59.51M276.2 60.2L294 76.57L311.8 68.71L329.6 98.85L347.4 63.74L365.2 63.12L383 58.96M276.2 60.2L294 64.39L311.8 69.37L329.6 122.01L347.4 59.08L365.2 60.49L383 72.16M276.2 60.2L294 59.54L311.8 73.63L329.6 106.66L347.4 75.2L365.2 59.99L383 58.15M276.2 60.2L294 76.21L311.8 66.59L329.6 103.12L347.4 55L365.2 57.66L383 67.53M276.2 60.2L294 74.99L311.8 70.54L329.6 96.73L347.4 71.35L365.2 74.27L383 77.79M276.2 60.2L294 57.43L311.8 68.52L329.6 117.34L347.4 80.27L365.2 63.68L383 61.07M276.2 60.2L294 54.02L311.8 65.52L329.6 117.3L347.4 65.92L365.2 70.46L383 72.42M276.2 60.2L294 64.69L311.8 76.85L329.6 124.69L347.4 71.06L365.2 67.41L383 81.39M276.2 60.2L294 69.09L311.8 69.92L329.6 107.75L347.4 69.37L365.2 63.29L383 80.19" fill="none" stroke="#d3d3d3" stroke-width="0.35" stroke-linejoin="miter"/>
<path d="M276.2 60.2L294 57.31L311.8 79.54L329.6 70.31L347.4 121.19L365.2 56.81L383 64.73M276.2 60.2L294 60L311.8 62.34L329.6 49.48L347.4 107.42L365.2 59.77L383 63.37M276.2 60.2L294 54.37L311.8 70.91L329.6 68.6L347.4 120.28L365.2 73.07L383 55.03M276.2 60.2L294 73.26L311.8 71.22L329.6 78.66L347.4 104.99L365.2 63.97L383 64.78M276.2 60.2L294 61.77L311.8 73.64L329.6 66.27L347.4 107.51L365.2 53.45L383 77.69M276.2 60.2L294 54.4L311.8 71.47L329.6 67.58L347.4 98.35L365.2 63.87L383 81.64M276.2 60.2L294 62.43L311.8 65.3L329.6 68.79L347.4 103.33L365.2 65.71L383 60M276.2 60.2L294 73.31L311.8 66.42L329.6 63.66L347.4 114.26L365.2 62.44L383 55.4M276.2 60.2L294 66.43L311.8 64.25L329.6 65.75L347.4 101.15L365.2 73.01L383 54.79M276.2 60.2L294 62.25L311.8 64.33L329.6 64L347.4 104.9L365.2 51.08L383 79.07M276.2 60.2L294 58.7L311.8 63.05L329.6 57.75L347.4 117.68L365.2 63.7L383 65.62M276.2 60.2L294 70.53L311.8 69.79L329.6 69.52L347.4 107.89L365.2 52.4L383 64.37M276.2 60.2L294 74.25L311.8 68.49L329.6 64.99L347.4 113.46L365.2 70.56L383 64.14M276.2 60.2L294 66.61L311.8 74.88L329.6 65.77L347.4 104.24L365.2 51.7L383 83.18M276.2 60.2L294 74.93L311.8 63.34L329.6 50.11L347.4 125.97L365.2 68.78L383 53.23M276.2 60.2L294 54.75L311.8 64.71L329.6 61.44L347.4 109.56L365.2 70.29L383 55.75M276.2 60.2L294 68.89L311.8 76.67L329.6 63.74L347.4 115.91L365.2 64.64L383 74.26M276.2 60.2L294 64.67L311.8 62.53L329.6 69.48L347.4 105.29L365.2 54.43L383 65.47M276.2 60.2L294 61.34L311.8 70.37L329.6 64.61L347.4 108.91L365.2 65.69L383 54.11M276.2 60.2L294 73.13L311.8 75.54L329.6 63.13L347.4 110.83L365.2 77.28L383 56.57M276.2 60.2L294 61.32L311.8 76.97L329.6 58.99L347.4 98.33L365.2 54.1L383 68.98M276.2 60.2L294 75.29L311.8 68.05L329.6 66.69L347.4 119.25L365.2 50.73L383 66.57M276.2 60.2L294 61.35L311.8 72.3L329.6 67.25L347.4 115.07L365.2 56.05L383 63.04M276.2 60.2L294 67.51L311.8 72.11L329.6 58.88L347.4 121.87L365.2 66.97L383 57.53M276.2 60.2L294 68.29L311.8 58.76L329.6 55.67L347.4 101.62L365.2 72.13L383 72.71M276.2 60.2L294 60.41L311.8 65.27L329.6 68.12L347.4 107.85L365.2 60.7L383 73.34M276.2 60.2L294 66.71L311.8 78.03L329.6 63.12L347.4 123.08L365.2 51.45L383 74.97M276.2 60.2L294 60.07L311.8 66.42L329.6 67.85L347.4 96.13L365.2 66.27L383 50.8M276.2 60.2L294 73.41L311.8 73.42L329.6 48.81L347.4 127.15L365.2 64.68L383 69.47M276.2 60.2L294 59.04L311.8 67.1L329.6 69.7L347.4 124.1L365.2 62.61L383 68.92M276.2 60.2L294 58.78L311.8 72.14L329.6 72.82L347.4 113.65L365.2 63.08L383 72.43M276.2 60.2L294 62.73L311.8 71.81L329.6 58.17L347.4 101.48L365.2 70.77L383 67.19M276.2 60.2L294 75.87L311.8 77.7L329.6 56.66L347.4 121.57L365.2 63.43L383 68.35M276.2 60.2L294 66.8L311.8 64.36L329.6 60.28L347.4 126.03L365.2 58.24L383 72.01M276.2 60.2L294 56.37L311.8 68.18L329.6 68.17L347.4 98.25L365.2 66.43L383 64.77M276.2 60.2L294 71.14L311.8 64.89L329.6 72.39L347.4 114.35L365.2 62.21L383 55.97M276.2 60.2L294 57.97L311.8 66.14L329.6 75.53L347.4 118.08L365.2 61.48L383 77.55M276.2 60.2L294 58.59L311.8 75.01L329.6 74.8L347.4 126.97L365.2 64.24L383 66.69M276.2 60.2L294 75.84L311.8 70.39L329.6 64.27L347.4 127.01L365.2 68.26L383 51.96M276.2 60.2L294 69.14L311.8 69.38L329.6 72.2L347.4 124.77L365.2 60.64L383 75.11M276.2 60.2L294 76.87L311.8 67.41L329.6 77.19L347.4 121.83L365.2 52.47L383 74.45M276.2 60.2L294 76.79L311.8 77.62L329.6 59.64L347.4 120.75L365.2 69.52L383 62.6M276.2 60.2L294 77.4L311.8 61.07L329.6 67.23L347.4 112.91L365.2 67.49L383 58.71M276.2 60.2L294 58.47L311.8 72.53L329.6 80.27L347.4 126.76L365.2 60.36L383 62.65M276.2 60.2L294 76.02L311.8 63.19L329.6 65.56L347.4 109.41L365.2 59.88L383 61.18M276.2 60.2L294 66.16L311.8 62.32L329.6 72.82L347.4 109.37L365.2 54.51L383 62.83M276.2 60.2L294 73.72L311.8 69.49L329.6 71.36L347.4 117.52L365.2 68.18L383 83.03M276.2 60.2L294 49.83L311.8 75.32L329.6 68.63L347.4 108.52L365.2 63.22L383 63.78M276.2 60.2L294 61.78L311.8 68.94L329.6 74.13L347.4 110.14L365.2 58.28L383 58.4M276.2 60.2L294 66.23L311.8 76.23L329.6 61.36L347.4 127.12L365.2 71.62L383 77.95M276.2 60.2L294 73.06L311.8 78.39L329.6 70.24L347.4 124.22L365.2 52.81L383 68.29M276.2 60.2L294 64.24L311.8 61.53L329.6 73.32L347.4 120.66L365.2 65.15L383 61.1M276.2 60.2L294 54.97L311.8 75.71L329.6 72.31L347.4 95.46L365.2 76.86L383 68.6M276.2 60.2L294 67.44L311.8 70.42L329.6 60.53L347.4 117.68L365.2 60.67L383 53.03M276.2 60.2L294 63.11L311.8 75.44L329.6 62.17L347.4 106.27L365.2 59.51L383 61.89M276.2 60.2L294 74.88L311.8 62.79L329.6 60.99L347.4 123.36L365.2 56.97L383 69.6M276.2 60.2L294 56.35L311.8 69.37L329.6 67.29L347.4 107.54L365.2 69.91L383 69.87M276.2 60.2L294 77.51L311.8 69.81L329.6 72.95L347.4 108.1L365.2 61.93L383 66.83M276.2 60.2L294 58.01L311.8 73.65L329.6 72.71L347.4 109.72L365.2 51.71L383 65.64M276.2 60.2L294 63.97L311.8 71.76L329.6 51.95L347.4 106.16L365.2 61.16L383 77.6" fill="none" stroke="#d3d3d3" stroke-width="0.35" stroke-linejoin="miter"/>
<path d="M276.2 60.2L294 69.74L311.8 66.02L329.6 64.34L347.4 64.95L365.2 117.13L383 74.15M276.2 60.2L294 62.95L311.8 65.69L329.6 70.87L347.4 71.05L365.2 95.84L383 58.19M276.2 60.2L294 64.74L311.8 77.69L329.6 75.02L347.4 76.19L365.2 110.56L383 59.09M276.2 60.2L294 67.27L311.8 69.46L329.6 64.68L347.4 60.42L365.2 118.69L383 56.24M276.2 60.2L294 53.66L311.8 73.4L329.6 60.91L347.4 61.67L365.2 91.72L383 54.99M276.2 60.2L294 66.82L311.8 72.89L329.6 63.79L347.4 55.17L365.2 94.4L383 69.36M276.2 60.2L294 63.77L311.8 71.23L329.6 54.72L347.4 66.07L365.2 118.31L383 70.57M276.2 60.2L294 52.78L311.8 66.5L329.6 72.46L347.4 63.28L365.2 114L383 75.95M276.2 60.2L294 64.79L311.8 61.85L329.6 74.24L347.4 64.64L365.2 85.45L383 64.18M276.2 60.2L294 61L311.8 67.37L329.6 62.27L347.4 70.42L365.2 85.04L383 59.05M276.2 60.2L294 59.74L311.8 68.63L329.6 69.76L347.4 60.48L365.2 89.06L383 64.02M276.2 60.2L294 66.84L311.8 64.44L329.6 64.77L347.4 69.28L365.2 117.85L383 60.7M276.2 60.2L294 50.55L311.8 60.98L329.6 57.24L347.4 61.63L365.2 117.51L383 59.32M276.2 60.2L294 58.82L311.8 64.11L329.6 66.31L347.4 66.89L365.2 119.37L383 57.75" fill="none" stroke="#d3d3d3" stroke-width="0.3" stroke-linejoin="miter"/>
<path d="M276.2 60.2L294 60.81L311.8 69.05L329.6 76.82L347.4 63.64L365.2 61.44L383 87.41M276.2 60.2L294 50.7L311.8 75.42L329.6 71L347.4 63.12L365.2 67.75L383 83.56M276.2 60.2L294 68.31L311.8 67.46L329.6 63.43L347.4 64.21L365.2 51.26L383 81.88M276.2 60.2L294 71.51L311.8 81.07L329.6 64.13L347.4 77.97L365.2 67.13L383 82.34M276.2 60.2L294 61.6L311.8 75.12L329.6 65.62L347.4 58.39L365.2 67.4L383 80.59M276.2 60.2L294 73.23L311.8 69.81L329.6 64.07L347.4 66.99L365.2 66.64L383 78.45M276.2 60.2L294 72.59L311.8 72.33L329.6 53.85L347.4 67.05L365.2 56.13L383 83.32M276.2 60.2L294 73.9L311.8 72.14L329.6 66.55L347.4 63.7L365.2 69.29L383 86.06M276.2 60.2L294 63.54L311.8 69.92L329.6 61.99L347.4 67.24L365.2 60.12L383 79.86M276.2 60.2L294 55.91L311.8 75.48L329.6 80.28L347.4 63.4L365.2 61.42L383 85.79" fill="none" stroke="#d3d3d3" stroke-width="0.3" stroke-linejoin="miter"/>
</g>
<path d="M276.2 60.2H383" stroke="#ee6a6a" stroke-width="0.9"/>
<path d="M276.2 60.2L294 62.78L311.8 74.3L329.6 67.42L347.4 63.64L365.2 60.03L383 67.42" fill="none" stroke="#5050ee" stroke-width="0.9"/>
<circle cx="276.2" cy="60.2" r="1.1" fill="#5050ee"/>
<circle cx="294" cy="62.78" r="1.1" fill="#5050ee"/>
<circle cx="311.8" cy="74.3" r="1.1" fill="#5050ee"/>
<circle cx="329.6" cy="67.42" r="1.1" fill="#5050ee"/>
<circle cx="347.4" cy="63.64" r="1.1" fill="#5050ee"/>
<circle cx="365.2" cy="60.03" r="1.1" fill="#5050ee"/>
<circle cx="383" cy="67.42" r="1.1" fill="#5050ee"/>
<rect x="272" y="23.4" width="115.4" height="115.8" fill="none" stroke="#8f8f8f" stroke-width="1.1"/>
<path d="M270.4 25.8H272" stroke="#666" stroke-width="0.5"/>
<text x="268.2" y="27.8" text-anchor="end" font-family='"Liberation Serif", serif' font-size="6" fill="#1a1a1a">10</text>
<path d="M270.4 43H272" stroke="#666" stroke-width="0.5"/>
<text x="268.2" y="45" text-anchor="end" font-family='"Liberation Serif", serif' font-size="6" fill="#1a1a1a">5</text>
<path d="M270.4 60.2H272" stroke="#666" stroke-width="0.5"/>
<text x="268.2" y="62.2" text-anchor="end" font-family='"Liberation Serif", serif' font-size="6" fill="#1a1a1a">0</text>
<path d="M270.4 77.4H272" stroke="#666" stroke-width="0.5"/>
<text x="268.2" y="79.4" text-anchor="end" font-family='"Liberation Serif", serif' font-size="6" fill="#1a1a1a">−5</text>
<path d="M270.4 94.6H272" stroke="#666" stroke-width="0.5"/>
<text x="268.2" y="96.6" text-anchor="end" font-family='"Liberation Serif", serif' font-size="6" fill="#1a1a1a">−10</text>
<path d="M270.4 111.8H272" stroke="#666" stroke-width="0.5"/>
<text x="268.2" y="113.8" text-anchor="end" font-family='"Liberation Serif", serif' font-size="6" fill="#1a1a1a">−15</text>
<path d="M270.4 129H272" stroke="#666" stroke-width="0.5"/>
<text x="268.2" y="131" text-anchor="end" font-family='"Liberation Serif", serif' font-size="6" fill="#1a1a1a">−20</text>
<path d="M276.2 139.2V141.2" stroke="#666" stroke-width="0.5"/>
<text x="276.2" y="148.4" text-anchor="middle" font-family='"Liberation Serif", serif' font-weight="bold" font-size="6.6" fill="#222">PL</text>
<path d="M294 139.2V141.2" stroke="#666" stroke-width="0.5"/>
<text x="294" y="149.6" text-anchor="middle" font-family='"Liberation Serif", serif' font-weight="bold" font-size="6.6" fill="#222">RS</text>
<path d="M311.8 139.2V141.2" stroke="#666" stroke-width="0.5"/>
<text x="311.8" y="148.4" text-anchor="middle" font-family='"Liberation Serif", serif' font-weight="bold" font-size="6.6" fill="#222">DZ</text>
<path d="M329.6 139.2V141.2" stroke="#666" stroke-width="0.5"/>
<text x="329.6" y="149.6" text-anchor="middle" font-family='"Liberation Serif", serif' font-weight="bold" font-size="6.6" fill="#222">LX</text>
<path d="M347.4 139.2V141.2" stroke="#666" stroke-width="0.5"/>
<text x="347.4" y="148.4" text-anchor="middle" font-family='"Liberation Serif", serif' font-weight="bold" font-size="6.6" fill="#222">RZ</text>
<path d="M365.2 139.2V141.2" stroke="#666" stroke-width="0.5"/>
<text x="365.2" y="149.6" text-anchor="middle" font-family='"Liberation Serif", serif' font-weight="bold" font-size="6.6" fill="#222">TA</text>
<path d="M383 139.2V141.2" stroke="#666" stroke-width="0.5"/>
<text x="383" y="148.4" text-anchor="middle" font-family='"Liberation Serif", serif' font-weight="bold" font-size="6.6" fill="#222">ZZ</text>
<text transform="translate(260.6 74.7) rotate(-90)" text-anchor="middle" font-family='"Liberation Serif", serif' font-weight="bold" font-size="7.1" fill="#111">log2(FPKM+1)</text>
<text transform="translate(410.6 13) scale(0.9 1)" font-family='"Liberation Serif", serif' font-weight="bold" font-size="13.6">D</text>
<text x="438.1" y="17.5" font-family='"Liberation Serif", serif' font-weight="bold" font-size="8">Cluster_2</text>
<text x="477.5" y="17.5" font-family='"Liberation Serif", serif' font-weight="bold" font-size="8">10318 genes</text>
<clipPath id="clipD"><rect x="431.5" y="22.6" width="114.9" height="115"/></clipPath>
<g clip-path="url(#clipD)">
<path d="M435.5 82.5L453.2 68.29L470.9 69.71L488.6 70.52L506.3 71.54L524 71.54L541.7 68.29L541.7 92.24L524 92.24L506.3 92.24L488.6 92.24L470.9 92.24L453.2 93.66Z" fill="#d3d3d3"/>
<path d="M435.5 82.5L453.2 71.56L470.9 66.08L488.6 67.8L506.3 75.58L524 69.77L541.7 84.18M435.5 82.5L453.2 77.64L470.9 88.43L488.6 72.66L506.3 82.58L524 92.67L541.7 77.93M435.5 82.5L453.2 64.83L470.9 72.27L488.6 90.07L506.3 75.99L524 69.98L541.7 87.4M435.5 82.5L453.2 91.81L470.9 96.31L488.6 85.94L506.3 77.2L524 78.88L541.7 79.34M435.5 82.5L453.2 67.82L470.9 77.85L488.6 96.14L506.3 79.62L524 71.49L541.7 84.64M435.5 82.5L453.2 74.88L470.9 71.54L488.6 95.28L506.3 93.72L524 73.81L541.7 71.28M435.5 82.5L453.2 89.49L470.9 82.93L488.6 91.41L506.3 73.94L524 89.4L541.7 68.14M435.5 82.5L453.2 83.16L470.9 81.15L488.6 70.4L506.3 71.55L524 73.11L541.7 86.43M435.5 82.5L453.2 87.76L470.9 64.25L488.6 66.13L506.3 81.98L524 82.25L541.7 87M435.5 82.5L453.2 63.14L470.9 80.35L488.6 90.81L506.3 70.76L524 73.33L541.7 73.7M435.5 82.5L453.2 85.28L470.9 87.38L488.6 72.53L506.3 87.73L524 77.2L541.7 96.02M435.5 82.5L453.2 89.36L470.9 81.52L488.6 76.33L506.3 86.13L524 74.6L541.7 84.44M435.5 82.5L453.2 66.92L470.9 65L488.6 80.34L506.3 91.5L524 68.69L541.7 72.76M435.5 82.5L453.2 71.97L470.9 74.51L488.6 83.36L506.3 73.5L524 75.11L541.7 86.14M435.5 82.5L453.2 90.51L470.9 76.11L488.6 85.59L506.3 89.75L524 93.03L541.7 83.41M435.5 82.5L453.2 77.06L470.9 81.87L488.6 87.78L506.3 93.02L524 85.36L541.7 84.3M435.5 82.5L453.2 86.15L470.9 65.57L488.6 83.42L506.3 77.42L524 85.5L541.7 63.66M435.5 82.5L453.2 76.39L470.9 82.02L488.6 78.1L506.3 73.93L524 86.69L541.7 73.28M435.5 82.5L453.2 65.33L470.9 88.06L488.6 81.02L506.3 86.98L524 81.87L541.7 86.17M435.5 82.5L453.2 82.37L470.9 70.53L488.6 83.91L506.3 73.29L524 90.17L541.7 86.39M435.5 82.5L453.2 81.24L470.9 76.98L488.6 92.75L506.3 87.53L524 86.48L541.7 79.41M435.5 82.5L453.2 74.24L470.9 85.02L488.6 68.87L506.3 95.99L524 83.77L541.7 72.19M435.5 82.5L453.2 80.98L470.9 84.01L488.6 80.15L506.3 83.17L524 75.87L541.7 86.62M435.5 82.5L453.2 65.44L470.9 79.88L488.6 86.16L506.3 75.75L524 80.9L541.7 73.71M435.5 82.5L453.2 67.61L470.9 73.85L488.6 79.95L506.3 68.25L524 92.44L541.7 78.15M435.5 82.5L453.2 83.44L470.9 85.7L488.6 89.42L506.3 76.93L524 92.45L541.7 85.66M435.5 82.5L453.2 80.7L470.9 84.37L488.6 83.26L506.3 81.46L524 80.01L541.7 87.41M435.5 82.5L453.2 89.24L470.9 79.78L488.6 87.02L506.3 91.12L524 77.04L541.7 83.43M435.5 82.5L453.2 83.36L470.9 80.95L488.6 83.61L506.3 94.83L524 72.27L541.7 77.79M435.5 82.5L453.2 68.7L470.9 80.66L488.6 81.73L506.3 88.7L524 77.26L541.7 81.59M435.5 82.5L453.2 79.69L470.9 77.97L488.6 84.15L506.3 92.94L524 76.15L541.7 96.4M435.5 82.5L453.2 66.2L470.9 82.62L488.6 93.32L506.3 88.53L524 81.15L541.7 88.91M435.5 82.5L453.2 85.45L470.9 75.6L488.6 75.08L506.3 82.47L524 92.93L541.7 86.46M435.5 82.5L453.2 72.01L470.9 92.78L488.6 88.98L506.3 85.65L524 85.31L541.7 71.85M435.5 82.5L453.2 81.91L470.9 75.63L488.6 66.15L506.3 83.99L524 95.09L541.7 62.56M435.5 82.5L453.2 85.76L470.9 80.81L488.6 67.38L506.3 92.07L524 91.75L541.7 85.95M435.5 82.5L453.2 80.16L470.9 81.76L488.6 93.8L506.3 86.81L524 78.72L541.7 89.08M435.5 82.5L453.2 79.85L470.9 84.3L488.6 73.9L506.3 87.32L524 71.97L541.7 89.11M435.5 82.5L453.2 69.6L470.9 93.01L488.6 88.46L506.3 89.16L524 85.35L541.7 85.13M435.5 82.5L453.2 85.14L470.9 78.52L488.6 76.12L506.3 79.42L524 72.26L541.7 63.75M435.5 82.5L453.2 73.03L470.9 77.19L488.6 92.77L506.3 82.2L524 76.88L541.7 93.33M435.5 82.5L453.2 65.66L470.9 88.98L488.6 85.17L506.3 87.59L524 74.92L541.7 84.42M435.5 82.5L453.2 82.27L470.9 70.84L488.6 77.3L506.3 83.58L524 73.72L541.7 78.19M435.5 82.5L453.2 76.84L470.9 76.56L488.6 80.74L506.3 82.16L524 84.8L541.7 88.24M435.5 82.5L453.2 85.51L470.9 88.64L488.6 77.33L506.3 71.28L524 84.56L541.7 73.8M435.5 82.5L453.2 93.59L470.9 67.44L488.6 79.03L506.3 70.89L524 72.75L541.7 87.49M435.5 82.5L453.2 91.75L470.9 90.88L488.6 83.09L506.3 84.61L524 72.3L541.7 72.71M435.5 82.5L453.2 78.99L470.9 84.74L488.6 75.34L506.3 88.01L524 89.87L541.7 70.43M435.5 82.5L453.2 87.33L470.9 87.58L488.6 94.18L506.3 76.6L524 69.88L541.7 67.73M435.5 82.5L453.2 76.3L470.9 73.68L488.6 72.86L506.3 90.61L524 73.46L541.7 75.43M435.5 82.5L453.2 83.99L470.9 73.4L488.6 79.36L506.3 83.26L524 91.47L541.7 70.19M435.5 82.5L453.2 87.06L470.9 68.14L488.6 83.49L506.3 80.78L524 87.48L541.7 69.52M435.5 82.5L453.2 95.8L470.9 77L488.6 84.24L506.3 76L524 94.6L541.7 67.86M435.5 82.5L453.2 86.91L470.9 75.65L488.6 89.31L506.3 71.55L524 93.44L541.7 92.15M435.5 82.5L453.2 85.39L470.9 72.72L488.6 71.48L506.3 69.09L524 77.93L541.7 92.88M435.5 82.5L453.2 93.54L470.9 78.08L488.6 93.82L506.3 80.34L524 85.85L541.7 76.24M435.5 82.5L453.2 64.19L470.9 72.58L488.6 87.18L506.3 71.93L524 84.75L541.7 69.42M435.5 82.5L453.2 87.72L470.9 74.41L488.6 86.2L506.3 94.25L524 87.94L541.7 77.89M435.5 82.5L453.2 79.86L470.9 83.29L488.6 85.22L506.3 85.93L524 87.99L541.7 72.18M435.5 82.5L453.2 95.36L470.9 69.99L488.6 94.78L506.3 78.48L524 69.73L541.7 74.66M435.5 82.5L453.2 84.07L470.9 68.28L488.6 68.02L506.3 70.46L524 92.04L541.7 81.97M435.5 82.5L453.2 62.41L470.9 85.28L488.6 87.53L506.3 92.77L524 88.56L541.7 65.92M435.5 82.5L453.2 83.1L470.9 77.14L488.6 78.47L506.3 95.5L524 86.13L541.7 83.66M435.5 82.5L453.2 92.94L470.9 65.04L488.6 93.63L506.3 81.36L524 80.75L541.7 88.18M435.5 82.5L453.2 88.91L470.9 72.87L488.6 78.01L506.3 78.82L524 78.36L541.7 94.5M435.5 82.5L453.2 97.06L470.9 90.51L488.6 79.28L506.3 85.46L524 75.32L541.7 63.92M435.5 82.5L453.2 87.51L470.9 80.18L488.6 73.58L506.3 84.92L524 87.57L541.7 68.03M435.5 82.5L453.2 83.13L470.9 89.74L488.6 94.56L506.3 89.23L524 88.63L541.7 70.33M435.5 82.5L453.2 72.08L470.9 82.34L488.6 76.02L506.3 91.19L524 84.71L541.7 96.09M435.5 82.5L453.2 74.55L470.9 95.14L488.6 92.78L506.3 78.34L524 89.87L541.7 92.62M435.5 82.5L453.2 84.37L470.9 78.57L488.6 74.05L506.3 74.43L524 81.44L541.7 83.42M435.5 82.5L453.2 65.75L470.9 91.42L488.6 77.64L506.3 89.9L524 80.94L541.7 90.44M435.5 82.5L453.2 77.09L470.9 77.97L488.6 91.92L506.3 81.19L524 79.99L541.7 82.06M435.5 82.5L453.2 68.15L470.9 90.51L488.6 78.51L506.3 77.47L524 92.97L541.7 84.91M435.5 82.5L453.2 71.69L470.9 94.82L488.6 84.5L506.3 75L524 85.51L541.7 83.05M435.5 82.5L453.2 66.92L470.9 88.67L488.6 71.89L506.3 81.44L524 86.92L541.7 81.79M435.5 82.5L453.2 72.26L470.9 81.42L488.6 82.71L506.3 93.94L524 80.37L541.7 87.11M435.5 82.5L453.2 63.18L470.9 89.68L488.6 67.93L506.3 73.46L524 76.6L541.7 79.44M435.5 82.5L453.2 82.38L470.9 77.94L488.6 87.6L506.3 88.84L524 73.98L541.7 91.83M435.5 82.5L453.2 72.64L470.9 78.22L488.6 88.1L506.3 71.06L524 84.53L541.7 87.8M435.5 82.5L453.2 84.44L470.9 78.71L488.6 76.59L506.3 70.58L524 88.08L541.7 79.14M435.5 82.5L453.2 83.42L470.9 92.29L488.6 72.93L506.3 96.39L524 87.18L541.7 73.79M435.5 82.5L453.2 68.08L470.9 85.48L488.6 80.75L506.3 78.25L524 91.71L541.7 96.38M435.5 82.5L453.2 70.48L470.9 95.03L488.6 81.57L506.3 79.01L524 89.37L541.7 74.14M435.5 82.5L453.2 82.61L470.9 85.69L488.6 73.35L506.3 83.56L524 80.03L541.7 70.49M435.5 82.5L453.2 73.58L470.9 78.7L488.6 95.31L506.3 93.28L524 83.45L541.7 80.11M435.5 82.5L453.2 97.55L470.9 71.72L488.6 70.52L506.3 75.24L524 78.16L541.7 64.36M435.5 82.5L453.2 91.09L470.9 89.04L488.6 89.72L506.3 79.89L524 69.09L541.7 88.99M435.5 82.5L453.2 82.1L470.9 95.57L488.6 72.6L506.3 70.97L524 73.86L541.7 65.04M435.5 82.5L453.2 83.37L470.9 75.23L488.6 74.28L506.3 90.78L524 82.63L541.7 89.85M435.5 82.5L453.2 67.99L470.9 85.15L488.6 89.72L506.3 87.93L524 88.2L541.7 67.88M435.5 82.5L453.2 80.25L470.9 95.37L488.6 72.93L506.3 72.66L524 69.24L541.7 78.05M435.5 82.5L453.2 82.74L470.9 89.03L488.6 82.65L506.3 89.92L524 78.84L541.7 76.96M435.5 82.5L453.2 68.81L470.9 83.52L488.6 93.86L506.3 69.32L524 95.22L541.7 80.35M435.5 82.5L453.2 92.97L470.9 88.04L488.6 88.86L506.3 90.6L524 87.79L541.7 74.33M435.5 82.5L453.2 88.45L470.9 81.56L488.6 77.95L506.3 83.03L524 94.7L541.7 87.01M435.5 82.5L453.2 80.24L470.9 74.65L488.6 82.41L506.3 78.23L524 83.81L541.7 73.87M435.5 82.5L453.2 80.9L470.9 90.78L488.6 73.65L506.3 83.64L524 94.42L541.7 80.83M435.5 82.5L453.2 97.21L470.9 91.22L488.6 77.75L506.3 71.52L524 71.35L541.7 82.83M435.5 82.5L453.2 94.42L470.9 84.49L488.6 67.16L506.3 84.88L524 66.93L541.7 71.19M435.5 82.5L453.2 88.38L470.9 74.8L488.6 88.5L506.3 83.48L524 82.98L541.7 81.81M435.5 82.5L453.2 89.62L470.9 77.72L488.6 68.46L506.3 87.36L524 84.97L541.7 94.87M435.5 82.5L453.2 88.54L470.9 94.95L488.6 68.85L506.3 89.19L524 79.03L541.7 91.06M435.5 82.5L453.2 66.99L470.9 69.52L488.6 88.51L506.3 91.46L524 78.51L541.7 76.67M435.5 82.5L453.2 72.01L470.9 67.07L488.6 84.53L506.3 88.07L524 85.81L541.7 90.81M435.5 82.5L453.2 72.28L470.9 72.46L488.6 86.42L506.3 82.35L524 73.03L541.7 93.71M435.5 82.5L453.2 90.18L470.9 87.88L488.6 77.05L506.3 82.56L524 92.9L541.7 72.3M435.5 82.5L453.2 80.79L470.9 76.17L488.6 93.97L506.3 81.47L524 80.32L541.7 78.56M435.5 82.5L453.2 87.5L470.9 76.93L488.6 86.73L506.3 80.57L524 92.46L541.7 77.25M435.5 82.5L453.2 79.76L470.9 83.65L488.6 89.73L506.3 69.51L524 80.94L541.7 95.71M435.5 82.5L453.2 77.13L470.9 88.13L488.6 81.37L506.3 75.89L524 80.52L541.7 63.69M435.5 82.5L453.2 96.84L470.9 75.1L488.6 80.1L506.3 78.25L524 69.04L541.7 72.15M435.5 82.5L453.2 90.09L470.9 76.45L488.6 81.2L506.3 80.93L524 73.78L541.7 64.27M435.5 82.5L453.2 77.92L470.9 86L488.6 66.74L506.3 75.28L524 73.06L541.7 91.4M435.5 82.5L453.2 76.14L470.9 65.57L488.6 70.71L506.3 76.61L524 74.06L541.7 74.15M435.5 82.5L453.2 75.34L470.9 73.43L488.6 81.11L506.3 76.97L524 94.97L541.7 85.51M435.5 82.5L453.2 96.91L470.9 77.01L488.6 80.08L506.3 79.61L524 82.32L541.7 85.76M435.5 82.5L453.2 93.59L470.9 68.89L488.6 87.99L506.3 82.26L524 84.7L541.7 81.18M435.5 82.5L453.2 70.68L470.9 68.3L488.6 81.06L506.3 83.87L524 77.96L541.7 71.19M435.5 82.5L453.2 98.22L470.9 74.29L488.6 91.78L506.3 80.02L524 88.89L541.7 80.9M435.5 82.5L453.2 72.66L470.9 79.97L488.6 93.19L506.3 72.49L524 76.5L541.7 78.58M435.5 82.5L453.2 95.24L470.9 89.73L488.6 85.95L506.3 84.49L524 76.67L541.7 79.73M435.5 82.5L453.2 87.89L470.9 94.94L488.6 67.36L506.3 94.93L524 71.67L541.7 89.27M435.5 82.5L453.2 87.84L470.9 74.83L488.6 81.16L506.3 92.46L524 70.82L541.7 66.1M435.5 82.5L453.2 74.83L470.9 69.47L488.6 73.86L506.3 82.59L524 76.28L541.7 84.57M435.5 82.5L453.2 85.02L470.9 85.49L488.6 77.9L506.3 68.83L524 81.99L541.7 70.89M435.5 82.5L453.2 81.19L470.9 82.64L488.6 91.27L506.3 68.29L524 86.2L541.7 79.57M435.5 82.5L453.2 65.59L470.9 85.47L488.6 85.29L506.3 82.97L524 81.99L541.7 80.23M435.5 82.5L453.2 82.55L470.9 66.47L488.6 78.13L506.3 75.36L524 87.94L541.7 79.04M435.5 82.5L453.2 97.57L470.9 84.9L488.6 75.45L506.3 75.69L524 79.07L541.7 74.38M435.5 82.5L453.2 71.28L470.9 91.96L488.6 87.51L506.3 74.62L524 87.61L541.7 73.92M435.5 82.5L453.2 78.08L470.9 87.98L488.6 85.7L506.3 67.49L524 71.19L541.7 79.43M435.5 82.5L453.2 81.37L470.9 74.93L488.6 73.43L506.3 80.23L524 79.38L541.7 81.68M435.5 82.5L453.2 81.33L470.9 71.83L488.6 82.59L506.3 76.24L524 87.66L541.7 76.28M435.5 82.5L453.2 90.17L470.9 82.41L488.6 87.04L506.3 79.32L524 78.55L541.7 74.15M435.5 82.5L453.2 83.66L470.9 79.21L488.6 88.21L506.3 77.01L524 72.27L541.7 77.56M435.5 82.5L453.2 83.01L470.9 95.57L488.6 69.79L506.3 90.71L524 80.65L541.7 85.19M435.5 82.5L453.2 75.18L470.9 85.5L488.6 83.88L506.3 81.7L524 75L541.7 84.59M435.5 82.5L453.2 73.96L470.9 67.65L488.6 88.17L506.3 69.65L524 89.91L541.7 63.69M435.5 82.5L453.2 93.04L470.9 85.5L488.6 86.62L506.3 94.25L524 76.44L541.7 77.45M435.5 82.5L453.2 77.56L470.9 78.27L488.6 93.43L506.3 71.28L524 74.19L541.7 72.43M435.5 82.5L453.2 82.53L470.9 81.28L488.6 76.25L506.3 90.21L524 67.48L541.7 80.57M435.5 82.5L453.2 77.46L470.9 83.57L488.6 81.32L506.3 92.18L524 88.67L541.7 89.19M435.5 82.5L453.2 85.33L470.9 64.99L488.6 90.7L506.3 91.48L524 89.01L541.7 78.53M435.5 82.5L453.2 91.26L470.9 88.15L488.6 88.5L506.3 88.53L524 68.46L541.7 88.63M435.5 82.5L453.2 81.35L470.9 81.48L488.6 88.39L506.3 85.54L524 75.49L541.7 95.35M435.5 82.5L453.2 84.18L470.9 96.25L488.6 68.73L506.3 76.05L524 78.59L541.7 69.38M435.5 82.5L453.2 80.49L470.9 78.66L488.6 86.88L506.3 81.97L524 66.85L541.7 63.88M435.5 82.5L453.2 90.98L470.9 78.45L488.6 90.98L506.3 83.28L524 84.78L541.7 71.04M435.5 82.5L453.2 72.13L470.9 87.81L488.6 84.63L506.3 76.48L524 77.76L541.7 82.93M435.5 82.5L453.2 90L470.9 82.96L488.6 67.72L506.3 88.19L524 86.54L541.7 84.08M435.5 82.5L453.2 65.87L470.9 84.04L488.6 79.18L506.3 81.07L524 77.5L541.7 85.16M435.5 82.5L453.2 77.01L470.9 82.29L488.6 69.16L506.3 80.15L524 89.22L541.7 78.15M435.5 82.5L453.2 89.02L470.9 81.89L488.6 78.83L506.3 83.38L524 82.05L541.7 89.32M435.5 82.5L453.2 84.08L470.9 77.21L488.6 75.84L506.3 79.45L524 80.46L541.7 74.15M435.5 82.5L453.2 67.82L470.9 73.39L488.6 76.81L506.3 81.65L524 80.19L541.7 64.41M435.5 82.5L453.2 84.16L470.9 81.52L488.6 72.45L506.3 83.71L524 84.72L541.7 85.27M435.5 82.5L453.2 63.57L470.9 92.07L488.6 70.98L506.3 69.36L524 81.54L541.7 77.66M435.5 82.5L453.2 75.58L470.9 88.41L488.6 84.26L506.3 76L524 75.93L541.7 62.7M435.5 82.5L453.2 78.69L470.9 72.28L488.6 88.19L506.3 78.22L524 80.93L541.7 83.15M435.5 82.5L453.2 87.68L470.9 89.1L488.6 65.52L506.3 89.32L524 71.24L541.7 82.68M435.5 82.5L453.2 87.43L470.9 84.36L488.6 67.3L506.3 88.29L524 86.4L541.7 81.92M435.5 82.5L453.2 71.23L470.9 72.19L488.6 88.35L506.3 95.33L524 85.33L541.7 90.54M435.5 82.5L453.2 91.97L470.9 81.85L488.6 80.51L506.3 89.79L524 74.75L541.7 79.55M435.5 82.5L453.2 71.31L470.9 91.74L488.6 90.18L506.3 73.31L524 79.86L541.7 71.83M435.5 82.5L453.2 65.27L470.9 88.53L488.6 86.98L506.3 79.53L524 81.88L541.7 63.71M435.5 82.5L453.2 78.84L470.9 71.25L488.6 72.47L506.3 74.19L524 89.94L541.7 71.59M435.5 82.5L453.2 68.81L470.9 80.58L488.6 76.85L506.3 81.97L524 70.19L541.7 71.6M435.5 82.5L453.2 91.29L470.9 87.84L488.6 78.1L506.3 71.75L524 95.7L541.7 73.24M435.5 82.5L453.2 84.63L470.9 71.26L488.6 78.95L506.3 96.36L524 89.34L541.7 68.34M435.5 82.5L453.2 73.46L470.9 75.98L488.6 84.24L506.3 68.2L524 74.81L541.7 79.84M435.5 82.5L453.2 78.19L470.9 94.6L488.6 66.76L506.3 87.74L524 92.98L541.7 84.6M435.5 82.5L453.2 87.95L470.9 85.59L488.6 89.34L506.3 81.2L524 84L541.7 80.4M435.5 82.5L453.2 88.48L470.9 71.38L488.6 75.41L506.3 91.02L524 86.22L541.7 64.33M435.5 82.5L453.2 91.29L470.9 85.94L488.6 77.33L506.3 76.05L524 72.43L541.7 89.81M435.5 82.5L453.2 88.65L470.9 82.36L488.6 75.91L506.3 85.53L524 75.76L541.7 82.56M435.5 82.5L453.2 88.46L470.9 82.77L488.6 85.62L506.3 90.62L524 81.86L541.7 86.38M435.5 82.5L453.2 69.03L470.9 70.47L488.6 90.35L506.3 82.65L524 89.69L541.7 89.25M435.5 82.5L453.2 74.93L470.9 78.56L488.6 80.42L506.3 72.09L524 86.63L541.7 87.91M435.5 82.5L453.2 81.05L470.9 69.6L488.6 74.9L506.3 76.22L524 76.58L541.7 89.66M435.5 82.5L453.2 81.28L470.9 69.31L488.6 78.26L506.3 89.39L524 69.19L541.7 87.82M435.5 82.5L453.2 84.31L470.9 74.58L488.6 90.39L506.3 75.87L524 90.92L541.7 70.15M435.5 82.5L453.2 67.84L470.9 82.62L488.6 70.55L506.3 84.6L524 81.27L541.7 80.38M435.5 82.5L453.2 64.48L470.9 80.86L488.6 92.12L506.3 67.21L524 92.49L541.7 76.83M435.5 82.5L453.2 68.17L470.9 87.24L488.6 92.02L506.3 81.87L524 93.22L541.7 76.04M435.5 82.5L453.2 87.39L470.9 66.35L488.6 93.5L506.3 77.64L524 89.64L541.7 68.2M435.5 82.5L453.2 86.96L470.9 83L488.6 79.82L506.3 76.01L524 78.21L541.7 82.49M435.5 82.5L453.2 82.59L470.9 75.1L488.6 83.77L506.3 85.96L524 81.74L541.7 91.87M435.5 82.5L453.2 77.66L470.9 89.43L488.6 77.22L506.3 87.2L524 69.67L541.7 78.16M435.5 82.5L453.2 84.18L470.9 86.77L488.6 87.58L506.3 81.77L524 82.79L541.7 77.96M435.5 82.5L453.2 86.14L470.9 90.04L488.6 88.98L506.3 90.77L524 90.96L541.7 88.61M435.5 82.5L453.2 76.63L470.9 76.46L488.6 68.41L506.3 86.52L524 94.69L541.7 67.71M435.5 82.5L453.2 68.35L470.9 70.53L488.6 85.17L506.3 81.27L524 72.69L541.7 71.24M435.5 82.5L453.2 66.63L470.9 82.77L488.6 78.18L506.3 92.18L524 69.37L541.7 67.39M435.5 82.5L453.2 69.41L470.9 75.95L488.6 77.94L506.3 76.26L524 84.04L541.7 95.12M435.5 82.5L453.2 73.77L470.9 82L488.6 70.8L506.3 82.57L524 89.69L541.7 79.05M435.5 82.5L453.2 78.04L470.9 83.15L488.6 79.21L506.3 90.8L524 80.21L541.7 80.53M435.5 82.5L453.2 96.11L470.9 81.72L488.6 85.74L506.3 87.29L524 86.31L541.7 89.97M435.5 82.5L453.2 96.92L470.9 66.54L488.6 81.72L506.3 76.79L524 83.31L541.7 80.95M435.5 82.5L453.2 90.36L470.9 86.37L488.6 94.91L506.3 82.56L524 93.28L541.7 68.64M435.5 82.5L453.2 89.82L470.9 71.89L488.6 77.19L506.3 82.3L524 83.24L541.7 70.72M435.5 82.5L453.2 91.59L470.9 66.69L488.6 80.22L506.3 67.24L524 81.44L541.7 66.5M435.5 82.5L453.2 93.66L470.9 92.09L488.6 79.81L506.3 72.15L524 87.24L541.7 85.38M435.5 82.5L453.2 67.06L470.9 70.8L488.6 86.65L506.3 68.66L524 81.68L541.7 82.06M435.5 82.5L453.2 82.36L470.9 78.54L488.6 81.05L506.3 80.51L524 70.87L541.7 83.35M435.5 82.5L453.2 74.23L470.9 71.14L488.6 79.72L506.3 83.34L524 86.43L541.7 89.82M435.5 82.5L453.2 89.03L470.9 76.58L488.6 72.89L506.3 90.3L524 82.06L541.7 95.08M435.5 82.5L453.2 77.46L470.9 80.35L488.6 75.55L506.3 89.42L524 82.74L541.7 71.11M435.5 82.5L453.2 67.56L470.9 77.92L488.6 79.32L506.3 82.41L524 90.39L541.7 78.13M435.5 82.5L453.2 84.21L470.9 69.56L488.6 88.78L506.3 67.63L524 67.48L541.7 66.71M435.5 82.5L453.2 64.89L470.9 80.05L488.6 80.3L506.3 78.59L524 86.8L541.7 83.05M435.5 82.5L453.2 73.09L470.9 68.38L488.6 76.19L506.3 92.27L524 82.68L541.7 82.24M435.5 82.5L453.2 95.97L470.9 65.11L488.6 85.83L506.3 67.34L524 85.5L541.7 95.37M435.5 82.5L453.2 74.52L470.9 91.83L488.6 80.95L506.3 72.16L524 78.38L541.7 62.84M435.5 82.5L453.2 96.48L470.9 91.47L488.6 93.86L506.3 78.21L524 68.47L541.7 71.37M435.5 82.5L453.2 78.63L470.9 95.49L488.6 79.3L506.3 71.4L524 73.76L541.7 88.39M435.5 82.5L453.2 81.52L470.9 93.64L488.6 80.44L506.3 85.09L524 83.39L541.7 87.29M435.5 82.5L453.2 65.05L470.9 80.59L488.6 76.56L506.3 78.54L524 91.88L541.7 87.52M435.5 82.5L453.2 83.74L470.9 77.74L488.6 90.55L506.3 79.19L524 81.45L541.7 69.45M435.5 82.5L453.2 83.61L470.9 76.38L488.6 91.03L506.3 80.63L524 91.34L541.7 86.03M435.5 82.5L453.2 93.05L470.9 80.11L488.6 78.12L506.3 88.98L524 90.16L541.7 69.74M435.5 82.5L453.2 94.93L470.9 75.4L488.6 78.82L506.3 68.22L524 68.25L541.7 75.37M435.5 82.5L453.2 68.67L470.9 80.69L488.6 65.45L506.3 75.38L524 91.31L541.7 86.99M435.5 82.5L453.2 90.15L470.9 76.6L488.6 77.26L506.3 68.03L524 69.02L541.7 71.16M435.5 82.5L453.2 86.41L470.9 85.77L488.6 88.11L506.3 89.43L524 76.98L541.7 79.26M435.5 82.5L453.2 74.03L470.9 81.07L488.6 72.56L506.3 84.78L524 85.21L541.7 77.29M435.5 82.5L453.2 79.81L470.9 66.34L488.6 66.14L506.3 72.41L524 78.89L541.7 95.6M435.5 82.5L453.2 84.02L470.9 82.17L488.6 73.55L506.3 83.81L524 91.69L541.7 78.07M435.5 82.5L453.2 77.01L470.9 88.06L488.6 70.33L506.3 76.51L524 91.77L541.7 85.2M435.5 82.5L453.2 97.52L470.9 80.38L488.6 84.54L506.3 81.62L524 81.06L541.7 82.2M435.5 82.5L453.2 76.23L470.9 65.2L488.6 87.84L506.3 90.78L524 81.22L541.7 79.66M435.5 82.5L453.2 88.19L470.9 72.73L488.6 95.74L506.3 85.16L524 82.1L541.7 75.25M435.5 82.5L453.2 71.09L470.9 65.78L488.6 89.25L506.3 92.73L524 84.35L541.7 82.82M435.5 82.5L453.2 66.14L470.9 88.04L488.6 87.71L506.3 80.61L524 84.53L541.7 88.37M435.5 82.5L453.2 91.62L470.9 75.16L488.6 88.59L506.3 86.62L524 87.9L541.7 78.66M435.5 82.5L453.2 86.64L470.9 80.49L488.6 72.54L506.3 92.26L524 77.59L541.7 88.26M435.5 82.5L453.2 65.76L470.9 92.56L488.6 84.23L506.3 75.23L524 90.68L541.7 67.32M435.5 82.5L453.2 84.34L470.9 84.57L488.6 77.5L506.3 72.69L524 77.9L541.7 88.97M435.5 82.5L453.2 68.24L470.9 82.59L488.6 67.43L506.3 82.51L524 93.31L541.7 72.04M435.5 82.5L453.2 77.26L470.9 76.4L488.6 69.01L506.3 82.88L524 68.43L541.7 76.46M435.5 82.5L453.2 75.17L470.9 85.27L488.6 91.8L506.3 81.78L524 71.02L541.7 81.37M435.5 82.5L453.2 80.16L470.9 69.23L488.6 82.15L506.3 72.56L524 73.42L541.7 72.71M435.5 82.5L453.2 75.41L470.9 84.59L488.6 89.67L506.3 84.01L524 77.56L541.7 79.19M435.5 82.5L453.2 74.69L470.9 95.57L488.6 74.25L506.3 67.29L524 83.82L541.7 88.29M435.5 82.5L453.2 90.87L470.9 79.24L488.6 79.66L506.3 73.04L524 76.2L541.7 75.18M435.5 82.5L453.2 82.27L470.9 90.49L488.6 72.42L506.3 71.4L524 67.34L541.7 75.24M435.5 82.5L453.2 70.23L470.9 85.06L488.6 83.12L506.3 89.86L524 68.23L541.7 78.52M435.5 82.5L453.2 74.48L470.9 95.85L488.6 66.35L506.3 81.61L524 77.74L541.7 73.47M435.5 82.5L453.2 87.11L470.9 95.21L488.6 72.6L506.3 89.23L524 89.9L541.7 77.56M435.5 82.5L453.2 78.68L470.9 66.11L488.6 86.7L506.3 67.01L524 72.46L541.7 91.43M435.5 82.5L453.2 95.51L470.9 70.81L488.6 92.93L506.3 93.96L524 81.83L541.7 62.67M435.5 82.5L453.2 83.14L470.9 75.93L488.6 74.97L506.3 95.07L524 74.1L541.7 79.98M435.5 82.5L453.2 92.71L470.9 77.39L488.6 70.02L506.3 74.37L524 74.1L541.7 80.57M435.5 82.5L453.2 65.5L470.9 79.42L488.6 82.03L506.3 88.76L524 83.97L541.7 81.41M435.5 82.5L453.2 85.13L470.9 80.58L488.6 88.14L506.3 68.14L524 83.39L541.7 84.7M435.5 82.5L453.2 64.62L470.9 73.45L488.6 79.96L506.3 74.92L524 85.98L541.7 80.85M435.5 82.5L453.2 79.83L470.9 75.13L488.6 76.23L506.3 75.36L524 74.35L541.7 74.81M435.5 82.5L453.2 77.52L470.9 81.14L488.6 93.56L506.3 83.05L524 93.17L541.7 72.16M435.5 82.5L453.2 95.79L470.9 73.15L488.6 84.03L506.3 89.89L524 92.33L541.7 80.49M435.5 82.5L453.2 82.47L470.9 80.07L488.6 86.55L506.3 88.83L524 71.24L541.7 82.1M435.5 82.5L453.2 82.41L470.9 93.03L488.6 88.13L506.3 75.05L524 81.04L541.7 65.91M435.5 82.5L453.2 85.06L470.9 80.34L488.6 87.06L506.3 86.8L524 84.4L541.7 66.34M435.5 82.5L453.2 63.63L470.9 90.52L488.6 78.71L506.3 72.21L524 78.38L541.7 78.94M435.5 82.5L453.2 98.27L470.9 67.15L488.6 85.5L506.3 90.18L524 72.78L541.7 70.68M435.5 82.5L453.2 70.57L470.9 71.97L488.6 74.32L506.3 79.99L524 72.96L541.7 69M435.5 82.5L453.2 79.9L470.9 77.66L488.6 86.55L506.3 67.87L524 83.5L541.7 81.06M435.5 82.5L453.2 95.25L470.9 92.97L488.6 75.75L506.3 75.95L524 86.53L541.7 80.14M435.5 82.5L453.2 64.03L470.9 71.8L488.6 80.83L506.3 80.74L524 67.02L541.7 75.68M435.5 82.5L453.2 78.85L470.9 82.76L488.6 94.28L506.3 90.19L524 88.06L541.7 84.79M435.5 82.5L453.2 98.21L470.9 89.33L488.6 75.47L506.3 83.77L524 76.46L541.7 82.23M435.5 82.5L453.2 74.68L470.9 75.89L488.6 76.18L506.3 67.05L524 70.6L541.7 65.85M435.5 82.5L453.2 63.57L470.9 65.51L488.6 75.33L506.3 84.4L524 72.59L541.7 71.1M435.5 82.5L453.2 78.67L470.9 77.19L488.6 74.15L506.3 77.63L524 78.13L541.7 89.28M435.5 82.5L453.2 94.39L470.9 77.4L488.6 73.33L506.3 78.56L524 69.29L541.7 69.18M435.5 82.5L453.2 72.38L470.9 81.89L488.6 87.94L506.3 76.35L524 73.13L541.7 72.4M435.5 82.5L453.2 92.09L470.9 86.39L488.6 84.72L506.3 73.81L524 83.68L541.7 79.61M435.5 82.5L453.2 86.26L470.9 95.16L488.6 84.75L506.3 85.32L524 79L541.7 68.48M435.5 82.5L453.2 81.81L470.9 83.01L488.6 88.57L506.3 72.77L524 94.42L541.7 71.18M435.5 82.5L453.2 72.62L470.9 87.65L488.6 84.68L506.3 79.07L524 85.59L541.7 63.31M435.5 82.5L453.2 64.22L470.9 93.51L488.6 93.3L506.3 67.12L524 81.93L541.7 78.78M435.5 82.5L453.2 73.05L470.9 79.89L488.6 82.4L506.3 85.27L524 71.13L541.7 87.86M435.5 82.5L453.2 96.83L470.9 96L488.6 84.38L506.3 81.44L524 79.45L541.7 71.55M435.5 82.5L453.2 79.29L470.9 90.28L488.6 81.46L506.3 90.93L524 70.77L541.7 66.98M435.5 82.5L453.2 87.35L470.9 69.73L488.6 82.47L506.3 89.99L524 67.41L541.7 82.01M435.5 82.5L453.2 93.37L470.9 65.55L488.6 94.47L506.3 83.26L524 81.46L541.7 93.03M435.5 82.5L453.2 77.66L470.9 65.38L488.6 68.68L506.3 81.17L524 77.67L541.7 79.25M435.5 82.5L453.2 80.74L470.9 76.91L488.6 78.58L506.3 88.12L524 73.21L541.7 88.21M435.5 82.5L453.2 77.43L470.9 76.09L488.6 94.81L506.3 67.71L524 82.3L541.7 64.42M435.5 82.5L453.2 72.78L470.9 86.3L488.6 81.29L506.3 92.77L524 73.44L541.7 79.07M435.5 82.5L453.2 84.39L470.9 77.68L488.6 80.79L506.3 88.62L524 93.87L541.7 67.17M435.5 82.5L453.2 70.09L470.9 89.25L488.6 68.59L506.3 95.16L524 73.68L541.7 95.02M435.5 82.5L453.2 88.28L470.9 93.16L488.6 83.74L506.3 83.85L524 81.65L541.7 90M435.5 82.5L453.2 73.89L470.9 91.46L488.6 72.67L506.3 74.67L524 79.96L541.7 81.45M435.5 82.5L453.2 81.04L470.9 73.18L488.6 82.13L506.3 91.07L524 69.02L541.7 73.59M435.5 82.5L453.2 81.5L470.9 82.73L488.6 84.41L506.3 77.74L524 75.42L541.7 71.2M435.5 82.5L453.2 90.62L470.9 72.52L488.6 73.35L506.3 71.16L524 88.01L541.7 64.27M435.5 82.5L453.2 93.06L470.9 87.54L488.6 73.26L506.3 70.03L524 80.29L541.7 80.98M435.5 82.5L453.2 84.57L470.9 93.09L488.6 68.53L506.3 90.38L524 69.29L541.7 71.15M435.5 82.5L453.2 94.02L470.9 71.18L488.6 89.61L506.3 80.14L524 75.75L541.7 76.27M435.5 82.5L453.2 84.92L470.9 89.99L488.6 77.72L506.3 82.9L524 83.2L541.7 62.44M435.5 82.5L453.2 85.4L470.9 81.46L488.6 90.7L506.3 88.04L524 92.12L541.7 81.06M435.5 82.5L453.2 83.07L470.9 77.55L488.6 80.43L506.3 91.44L524 68.64L541.7 63.46M435.5 82.5L453.2 65.76L470.9 82.56L488.6 93.08L506.3 96.38L524 74.46L541.7 75.56M435.5 82.5L453.2 89.03L470.9 82.65L488.6 67.97L506.3 91.53L524 81.12L541.7 89.43M435.5 82.5L453.2 78.5L470.9 65.35L488.6 74.69L506.3 76.94L524 80.29L541.7 86.4M435.5 82.5L453.2 83.32L470.9 79.54L488.6 68.79L506.3 90.24L524 84.05L541.7 90.49M435.5 82.5L453.2 75.14L470.9 74.39L488.6 93.72L506.3 79.09L524 74.9L541.7 72.05M435.5 82.5L453.2 65.78L470.9 80.9L488.6 85.77L506.3 73.13L524 90.6L541.7 80.09M435.5 82.5L453.2 85.5L470.9 84.53L488.6 91.86L506.3 81.74L524 87.09L541.7 88.37M435.5 82.5L453.2 63.46L470.9 78.67L488.6 72.18L506.3 89.48L524 82.42L541.7 74.62M435.5 82.5L453.2 88.92L470.9 86.3L488.6 72.14L506.3 85.6L524 79.53L541.7 72.42M435.5 82.5L453.2 74.2L470.9 86.12L488.6 73.33L506.3 81.33L524 81.45L541.7 85.87M435.5 82.5L453.2 63.39L470.9 73.19L488.6 74.06L506.3 95.62L524 83.55L541.7 78.92M435.5 82.5L453.2 91.64L470.9 68.44L488.6 76.65L506.3 89.69L524 83.6L541.7 87.93M435.5 82.5L453.2 90.81L470.9 67.95L488.6 83.41L506.3 92.29L524 86.43L541.7 80.05M435.5 82.5L453.2 82.34L470.9 74.7L488.6 70.4L506.3 77.99L524 76.07L541.7 67.88M435.5 82.5L453.2 73.6L470.9 83.77L488.6 76.07L506.3 83.25L524 91.74L541.7 71.24M435.5 82.5L453.2 78.34L470.9 67.51L488.6 71.98L506.3 89.07L524 70.55L541.7 91.26M435.5 82.5L453.2 65.63L470.9 89.53L488.6 82.45L506.3 67.18L524 86.94L541.7 70.23M435.5 82.5L453.2 80.48L470.9 88.18L488.6 77.65L506.3 70.65L524 85.53L541.7 76.49M435.5 82.5L453.2 90.31L470.9 85.57L488.6 85.99L506.3 73.19L524 79.42L541.7 81.35M435.5 82.5L453.2 83.08L470.9 89.16L488.6 74.74L506.3 95.69L524 84.14L541.7 76.78M435.5 82.5L453.2 80.56L470.9 81.52L488.6 89.09L506.3 87.51L524 69.47L541.7 81.66M435.5 82.5L453.2 90.12L470.9 65.5L488.6 70.46L506.3 84.02L524 79.19L541.7 65.52M435.5 82.5L453.2 95.3L470.9 69.25L488.6 80.27L506.3 86.16L524 74.31L541.7 69.97M435.5 82.5L453.2 95.21L470.9 84.45L488.6 75.2L506.3 78.45L524 79.53L541.7 89.21M435.5 82.5L453.2 69.22L470.9 88.32L488.6 69.1L506.3 86.28L524 94.4L541.7 84.25M435.5 82.5L453.2 90.16L470.9 92.5L488.6 70.55L506.3 80.36L524 85.9L541.7 66.3M435.5 82.5L453.2 80.29L470.9 94.16L488.6 68.69L506.3 76.89L524 87.28L541.7 73.34M435.5 82.5L453.2 88.4L470.9 65.3L488.6 92.7L506.3 82.38L524 84.25L541.7 78.16M435.5 82.5L453.2 82.25L470.9 74.38L488.6 93.36L506.3 79.39L524 75.65L541.7 91.74M435.5 82.5L453.2 88.94L470.9 78.91L488.6 86.84L506.3 72.25L524 82.11L541.7 73.33M435.5 82.5L453.2 68.7L470.9 90.17L488.6 93.67L506.3 77.83L524 78.23L541.7 82.66M435.5 82.5L453.2 82.8L470.9 83.39L488.6 69.97L506.3 82.26L524 93.36L541.7 71.06M435.5 82.5L453.2 74.59L470.9 85.34L488.6 80.66L506.3 73.97L524 73.41L541.7 93.38M435.5 82.5L453.2 82.44L470.9 86.71L488.6 77.48L506.3 81.54L524 75.08L541.7 70.96M435.5 82.5L453.2 96.05L470.9 77.13L488.6 70.86L506.3 70.27L524 74.15L541.7 74.49M435.5 82.5L453.2 65.03L470.9 94.87L488.6 65.83L506.3 70.86L524 72.69L541.7 75.7M435.5 82.5L453.2 80.09L470.9 72.07L488.6 69.44L506.3 92.15L524 87.49L541.7 79.9M435.5 82.5L453.2 88.59L470.9 76.35L488.6 87.28L506.3 86.4L524 91.86L541.7 73.59M435.5 82.5L453.2 81.32L470.9 83.39L488.6 71.14L506.3 84.23L524 69.62L541.7 96M435.5 82.5L453.2 93.8L470.9 84.5L488.6 84.28L506.3 92.46L524 95.07L541.7 74.24M435.5 82.5L453.2 93.89L470.9 69.02L488.6 70.03L506.3 72.26L524 82.4L541.7 68.37M435.5 82.5L453.2 78.4L470.9 81.64L488.6 92.43L506.3 80.42L524 78.26L541.7 92.88M435.5 82.5L453.2 71.95L470.9 75.56L488.6 77.2L506.3 93.16L524 87.08L541.7 79.55M435.5 82.5L453.2 83.85L470.9 85.93L488.6 78.14L506.3 69.06L524 84.05L541.7 72.3M435.5 82.5L453.2 94.01L470.9 64.23L488.6 92.81L506.3 90.08L524 78.78L541.7 66.58M435.5 82.5L453.2 70.3L470.9 86.45L488.6 73.93L506.3 71.39L524 94.05L541.7 92.16M435.5 82.5L453.2 63.92L470.9 93.04L488.6 76.72L506.3 70.94L524 93.43L541.7 79.87M435.5 82.5L453.2 66.94L470.9 80.68L488.6 78.62L506.3 80.17L524 69.84L541.7 76.62M435.5 82.5L453.2 87.92L470.9 69.51L488.6 80.96L506.3 95.26L524 75.52L541.7 66.2M435.5 82.5L453.2 71.07L470.9 86.18L488.6 94.77L506.3 73.74L524 90.26L541.7 80.16M435.5 82.5L453.2 74.09L470.9 77.33L488.6 79.34L506.3 83.84L524 68.88L541.7 75.42M435.5 82.5L453.2 94.24L470.9 81.55L488.6 78.12L506.3 73.41L524 75.18L541.7 70.55M435.5 82.5L453.2 74.1L470.9 92.99L488.6 76.7L506.3 68.34L524 83.38L541.7 88.03M435.5 82.5L453.2 75.55L470.9 88.61L488.6 79.69L506.3 95.21L524 90.79L541.7 81.84M435.5 82.5L453.2 86.73L470.9 81L488.6 82.39L506.3 90.72L524 80.3L541.7 68.78M435.5 82.5L453.2 81.43L470.9 66.38L488.6 80.76L506.3 67.01L524 74.18L541.7 64.28M435.5 82.5L453.2 77.38L470.9 76.76L488.6 85.31L506.3 93.25L524 83.09L541.7 71.97M435.5 82.5L453.2 95.35L470.9 80.83L488.6 70.43L506.3 83.77L524 85.46L541.7 76.61M435.5 82.5L453.2 89.18L470.9 79.8L488.6 73.24L506.3 80.67L524 86.62L541.7 77.4M435.5 82.5L453.2 93.43L470.9 84.18L488.6 91.14L506.3 80.79L524 87.68L541.7 63.14M435.5 82.5L453.2 90.95L470.9 85.45L488.6 79.12L506.3 67.65L524 73.87L541.7 93.83M435.5 82.5L453.2 70.54L470.9 77.57L488.6 71.48L506.3 89.63L524 70.35L541.7 89.81M435.5 82.5L453.2 93.18L470.9 85.02L488.6 86.67L506.3 83.06L524 85.86L541.7 76.36M435.5 82.5L453.2 88.85L470.9 65.12L488.6 86.16L506.3 72.87L524 78.45L541.7 86.72M435.5 82.5L453.2 97.05L470.9 72.92L488.6 92.84L506.3 89.27L524 67.78L541.7 63.65M435.5 82.5L453.2 90.93L470.9 74.74L488.6 68.05L506.3 72.42L524 80.31L541.7 85.31M435.5 82.5L453.2 73.27L470.9 95.87L488.6 85.56L506.3 72.43L524 92.06L541.7 90.65M435.5 82.5L453.2 79.94L470.9 93.51L488.6 90.94L506.3 83.53L524 84.09L541.7 94.49M435.5 82.5L453.2 74.54L470.9 70.97L488.6 66.38L506.3 90.68L524 79.45L541.7 69.55M435.5 82.5L453.2 83.93L470.9 91.56L488.6 70.04L506.3 83.39L524 88.28L541.7 69.47M435.5 82.5L453.2 76.33L470.9 66.69L488.6 75.64L506.3 96.21L524 81.18L541.7 91.82M435.5 82.5L453.2 79.07L470.9 71.14L488.6 66.58L506.3 75.09L524 69.62L541.7 66.76M435.5 82.5L453.2 91.23L470.9 80.74L488.6 75.08L506.3 95.09L524 87.39L541.7 92.94M435.5 82.5L453.2 83.06L470.9 96.17L488.6 85.18L506.3 89.76L524 90.55L541.7 69.41M435.5 82.5L453.2 82.45L470.9 67.28L488.6 71.47L506.3 91.9L524 91.8L541.7 87.14M435.5 82.5L453.2 91.29L470.9 68.28L488.6 81.08L506.3 94.17L524 68.02L541.7 76.75M435.5 82.5L453.2 71.18L470.9 75.95L488.6 70.26L506.3 69.94L524 87.92L541.7 72.31M435.5 82.5L453.2 90.58L470.9 65.95L488.6 82.15L506.3 86.1L524 84.08L541.7 70.86M435.5 82.5L453.2 76.82L470.9 86.22L488.6 78.08L506.3 69.53L524 85.85L541.7 71.09M435.5 82.5L453.2 76.45L470.9 87.52L488.6 80.75L506.3 71.59L524 90.08L541.7 74.92M435.5 82.5L453.2 83.98L470.9 77.3L488.6 74.86L506.3 78.43L524 78.15L541.7 63.08M435.5 82.5L453.2 75.92L470.9 88.85L488.6 83.48L506.3 69.34L524 89.12L541.7 85.46M435.5 82.5L453.2 87.01L470.9 81.35L488.6 76.51L506.3 83.95L524 77.11L541.7 65.73M435.5 82.5L453.2 93.27L470.9 72.49L488.6 71.19L506.3 96.31L524 69.44L541.7 79.02M435.5 82.5L453.2 75.23L470.9 80.65L488.6 76.31L506.3 83.11L524 81.6L541.7 82.6M435.5 82.5L453.2 87.34L470.9 85.03L488.6 76.82L506.3 86.83L524 75.61L541.7 76.22M435.5 82.5L453.2 63.52L470.9 90.87L488.6 74.11L506.3 87.23L524 73.55L541.7 71.95M435.5 82.5L453.2 78.83L470.9 74.61L488.6 87.1L506.3 84.08L524 72.47L541.7 79.21M435.5 82.5L453.2 72.98L470.9 79.59L488.6 75.5L506.3 71.93L524 91.4L541.7 90.74M435.5 82.5L453.2 84.16L470.9 89.42L488.6 78.71L506.3 68.8L524 71.32L541.7 80.15M435.5 82.5L453.2 96.59L470.9 79.46L488.6 75.62L506.3 69.24L524 87.62L541.7 92.26M435.5 82.5L453.2 72.56L470.9 85.97L488.6 77.34L506.3 87.88L524 68.42L541.7 83.83M435.5 82.5L453.2 77.21L470.9 85.47L488.6 91.13L506.3 89.49L524 80.33L541.7 77.3M435.5 82.5L453.2 65.92L470.9 75.53L488.6 75.91L506.3 83.86L524 94.11L541.7 73.77M435.5 82.5L453.2 88.63L470.9 86.57L488.6 92.22L506.3 91.62L524 81.41L541.7 77.37M435.5 82.5L453.2 77.84L470.9 89.52L488.6 76.31L506.3 83.57L524 92.24L541.7 71.61M435.5 82.5L453.2 75.67L470.9 76.78L488.6 93.41L506.3 84.92L524 79.77L541.7 77.75M435.5 82.5L453.2 87.72L470.9 78.92L488.6 80.07L506.3 82.42L524 75.62L541.7 72.84M435.5 82.5L453.2 97.26L470.9 71.11L488.6 71.7L506.3 89.05L524 69.57L541.7 78.45M435.5 82.5L453.2 97.99L470.9 90.31L488.6 79.66L506.3 81.08L524 83.43L541.7 74.05M435.5 82.5L453.2 84.16L470.9 84.63L488.6 87.44L506.3 69.38L524 77.72L541.7 91.34M435.5 82.5L453.2 82.26L470.9 81.26L488.6 84.68L506.3 89.83L524 74.08L541.7 74.94M435.5 82.5L453.2 76.05L470.9 90.29L488.6 75.01L506.3 82.19L524 82.43L541.7 72.84M435.5 82.5L453.2 67.43L470.9 78.6L488.6 78.97L506.3 80.04L524 75.58L541.7 75.22M435.5 82.5L453.2 78.46L470.9 72.95L488.6 81.83L506.3 71.51L524 91.13L541.7 70.54M435.5 82.5L453.2 87.76L470.9 70L488.6 80.4L506.3 93.41L524 90.18L541.7 67.34M435.5 82.5L453.2 75.19L470.9 65.86L488.6 75.26L506.3 86.17L524 83.49L541.7 89.31M435.5 82.5L453.2 76.28L470.9 68.42L488.6 81.82L506.3 78.04L524 72.91L541.7 73.96M435.5 82.5L453.2 65.5L470.9 94.58L488.6 68.61L506.3 91.51L524 74.32L541.7 84.26M435.5 82.5L453.2 82.7L470.9 65.47L488.6 80.36L506.3 86.08L524 67.45L541.7 84.32M435.5 82.5L453.2 83.72L470.9 94.58L488.6 94.87L506.3 82.44L524 93.06L541.7 71.83M435.5 82.5L453.2 89.54L470.9 66.35L488.6 80.54L506.3 79.79L524 80.81L541.7 69.53M435.5 82.5L453.2 69.2L470.9 74.51L488.6 81.65L506.3 71.23L524 72.29L541.7 81.46M435.5 82.5L453.2 95.33L470.9 89.28L488.6 91.71L506.3 75.78L524 94.95L541.7 80.96M435.5 82.5L453.2 89.86L470.9 66.42L488.6 82.18L506.3 68.23L524 77.01L541.7 79.21M435.5 82.5L453.2 97.01L470.9 91.24L488.6 82.78L506.3 90.17L524 86.68L541.7 81.46M435.5 82.5L453.2 70.63L470.9 89.04L488.6 66.05L506.3 87.96L524 90.49L541.7 77.85M435.5 82.5L453.2 77.8L470.9 80.02L488.6 95.66L506.3 69.61L524 92.93L541.7 92.15M435.5 82.5L453.2 75.81L470.9 68.36L488.6 71.01L506.3 91.57L524 86.2L541.7 73.88M435.5 82.5L453.2 89.31L470.9 65.09L488.6 88.76L506.3 83.05L524 87.03L541.7 62.48M435.5 82.5L453.2 77.6L470.9 84.78L488.6 79.47L506.3 77.82L524 92.77L541.7 83.14M435.5 82.5L453.2 78.7L470.9 86.71L488.6 66.51L506.3 71.95L524 67.92L541.7 90.91M435.5 82.5L453.2 81.18L470.9 88.38L488.6 73.47L506.3 73.93L524 77.24L541.7 78.35M435.5 82.5L453.2 68.01L470.9 68.26L488.6 82.79L506.3 68.95L524 80.98L541.7 73.86M435.5 82.5L453.2 90.06L470.9 65.02L488.6 83.61L506.3 93.32L524 77.57L541.7 88.62M435.5 82.5L453.2 65.08L470.9 75.24L488.6 76.23L506.3 72.04L524 75.2L541.7 85.17M435.5 82.5L453.2 93.56L470.9 87.17L488.6 90.55L506.3 79.27L524 84.12L541.7 67.84M435.5 82.5L453.2 73.77L470.9 78.79L488.6 69.62L506.3 77.9L524 73.47L541.7 63.85M435.5 82.5L453.2 63L470.9 75.82L488.6 71.62L506.3 80.24L524 87.18L541.7 86.57M435.5 82.5L453.2 84.04L470.9 65.29L488.6 71.29L506.3 85.35L524 90.93L541.7 72.7M435.5 82.5L453.2 82.34L470.9 71.03L488.6 73L506.3 71.85L524 81.37L541.7 76.69M435.5 82.5L453.2 80.15L470.9 73.88L488.6 84.72L506.3 84.38L524 81.94L541.7 92.5M435.5 82.5L453.2 97.73L470.9 88.46L488.6 74.92L506.3 94.36L524 70.95L541.7 85.38M435.5 82.5L453.2 67.55L470.9 76.09L488.6 76.03L506.3 68.91L524 86.66L541.7 73.91M435.5 82.5L453.2 96.98L470.9 71.72L488.6 74.33L506.3 92.06L524 95.44L541.7 88.55M435.5 82.5L453.2 77.69L470.9 80.1L488.6 88.67L506.3 88.74L524 69.41L541.7 76.75M435.5 82.5L453.2 74.84L470.9 95.23L488.6 78.53L506.3 69.17L524 83.05L541.7 80.52M435.5 82.5L453.2 76.82L470.9 87.5L488.6 72.2L506.3 94.16L524 86.08L541.7 73.19M435.5 82.5L453.2 80.94L470.9 80.93L488.6 95L506.3 78.46L524 86.37L541.7 76.4M435.5 82.5L453.2 94.94L470.9 73.82L488.6 91.97L506.3 93.99L524 67.41L541.7 77.06M435.5 82.5L453.2 88.86L470.9 81.97L488.6 80.1L506.3 72.86L524 73.49L541.7 67.88M435.5 82.5L453.2 64.52L470.9 93.31L488.6 77.27L506.3 91.59L524 80.27L541.7 66.67M435.5 82.5L453.2 84.73L470.9 83.1L488.6 78.73L506.3 74.9L524 90.93L541.7 73.38M435.5 82.5L453.2 98.07L470.9 86.23L488.6 69.59L506.3 90.42L524 94.05L541.7 83.28M435.5 82.5L453.2 66.37L470.9 72.41L488.6 81.31L506.3 76.96L524 79.07L541.7 83.76M435.5 82.5L453.2 84.54L470.9 90.96L488.6 91.53L506.3 78.63L524 81.63L541.7 92.08M435.5 82.5L453.2 76.44L470.9 69.07L488.6 85.39L506.3 75.95L524 89.06L541.7 69.13M435.5 82.5L453.2 84.46L470.9 82.82L488.6 83.35L506.3 81.71L524 83.19L541.7 92.63M435.5 82.5L453.2 87.39L470.9 95.39L488.6 86.25L506.3 82.56L524 84.05L541.7 87.09M435.5 82.5L453.2 94.26L470.9 91.33L488.6 84.71L506.3 71.85L524 75.85L541.7 66.16M435.5 82.5L453.2 83.33L470.9 65.47L488.6 70.31L506.3 90.52L524 72.81L541.7 91.25M435.5 82.5L453.2 74.82L470.9 78.11L488.6 78.07L506.3 82.5L524 91.3L541.7 75.64M435.5 82.5L453.2 63.88L470.9 72.15L488.6 73.15L506.3 71.5L524 92.01L541.7 73.05M435.5 82.5L453.2 92.12L470.9 83.7L488.6 95.5L506.3 81.34L524 79.52L541.7 88.45M435.5 82.5L453.2 79.74L470.9 71.69L488.6 90.45L506.3 85.36L524 86.23L541.7 79.99M435.5 82.5L453.2 70.81L470.9 76.13L488.6 72.74L506.3 68.86L524 88.45L541.7 91.86M435.5 82.5L453.2 92.74L470.9 72.67L488.6 83.03L506.3 79.06L524 95.32L541.7 63.91M435.5 82.5L453.2 77.74L470.9 85.38L488.6 73.11L506.3 78.23L524 71.17L541.7 93.81M435.5 82.5L453.2 85.83L470.9 85.61L488.6 79.06L506.3 68.72L524 68.4L541.7 89.02M435.5 82.5L453.2 68.24L470.9 71.25L488.6 95.13L506.3 89.12L524 79.73L541.7 72.84M435.5 82.5L453.2 73.78L470.9 88.61L488.6 84.76L506.3 70.07L524 76.45L541.7 79.7M435.5 82.5L453.2 69.76L470.9 68.69L488.6 80.37L506.3 86.36L524 85.65L541.7 89.97M435.5 82.5L453.2 84.4L470.9 92.27L488.6 87.84L506.3 85.86L524 80.76L541.7 62.84M435.5 82.5L453.2 63.45L470.9 74.01L488.6 78.57L506.3 77.47L524 95.05L541.7 64.52M435.5 82.5L453.2 82.11L470.9 90.16L488.6 78.3L506.3 89.33L524 87.61L541.7 62.64M435.5 82.5L453.2 70.65L470.9 75.76L488.6 86.62L506.3 89.94L524 91.22L541.7 93.77M435.5 82.5L453.2 82.31L470.9 73.17L488.6 78.29L506.3 79.2L524 88.33L541.7 64.35M435.5 82.5L453.2 66.87L470.9 74.96L488.6 80.67L506.3 80.93L524 71.18L541.7 69.19M435.5 82.5L453.2 81.63L470.9 83.82L488.6 85.54L506.3 72.14L524 95.4L541.7 77.97M435.5 82.5L453.2 95.12L470.9 81.35L488.6 92.96L506.3 79.63L524 85.39L541.7 82.94M435.5 82.5L453.2 71.73L470.9 71.44L488.6 83.16L506.3 82.02L524 75.4L541.7 76.41M435.5 82.5L453.2 96.34L470.9 89.83L488.6 89.54L506.3 87.38L524 76.63L541.7 95.45M435.5 82.5L453.2 63.5L470.9 94.97L488.6 89.56L506.3 91.14L524 69.33L541.7 66.38M435.5 82.5L453.2 83.34L470.9 84.28L488.6 85.22L506.3 78.9L524 91.46L541.7 65.09M435.5 82.5L453.2 82.53L470.9 81.31L488.6 77.35L506.3 83.98L524 81.65L541.7 73.53M435.5 82.5L453.2 86.45L470.9 82.5L488.6 66.7L506.3 68.09L524 85.64L541.7 73.65M435.5 82.5L453.2 90.16L470.9 76.78L488.6 76.16L506.3 95.78L524 86.22L541.7 67.11M435.5 82.5L453.2 80.92L470.9 67.06L488.6 76.17L506.3 79.93L524 87.71L541.7 84.07" fill="none" stroke="#d3d3d3" stroke-width="0.35" stroke-linejoin="miter"/>
<path d="M435.5 82.5L453.2 86.01L470.9 58.77L488.6 55.58L506.3 66.69L524 62.94L541.7 77.92M435.5 82.5L453.2 83.14L470.9 62.49L488.6 68.84L506.3 82.28L524 85.7L541.7 62.13M435.5 82.5L453.2 80.55L470.9 80.05L488.6 80.53L506.3 90.57L524 60.77L541.7 74.11M435.5 82.5L453.2 58.31L470.9 63.87L488.6 80.73L506.3 74.66L524 73.2L541.7 76.21M435.5 82.5L453.2 70.52L470.9 61.91L488.6 73.2L506.3 78.25L524 65.58L541.7 79.63M435.5 82.5L453.2 61.29L470.9 85.26L488.6 74.05L506.3 58.79L524 80.95L541.7 69.57M435.5 82.5L453.2 89.07L470.9 61.61L488.6 93.33L506.3 82.44L524 65.83L541.7 57.16M435.5 82.5L453.2 61.61L470.9 63.88L488.6 75.21L506.3 86.06L524 81.51L541.7 62.04M435.5 82.5L453.2 87.16L470.9 60.6L488.6 63.78L506.3 75.65L524 76.68L541.7 74.1M435.5 82.5L453.2 61.71L470.9 61.09L488.6 76.61L506.3 56.62L524 77.11L541.7 60.13" fill="none" stroke="#d3d3d3" stroke-width="0.3" stroke-linejoin="miter"/>
<path d="M435.5 82.5L453.2 34.4L470.9 76.19L488.6 85.8L506.3 79.47L524 75.45L541.7 69.39M435.5 82.5L453.2 34.67L470.9 85.18L488.6 75.85L506.3 81.11L524 78L541.7 84.74M435.5 82.5L453.2 34.3L470.9 76.36L488.6 91.57L506.3 76.27L524 80.28L541.7 79.9M435.5 82.5L453.2 29.74L470.9 80.61L488.6 76.22L506.3 82.68L524 79.23L541.7 93.66M435.5 82.5L453.2 32.85L470.9 80.81L488.6 87.16L506.3 82.78L524 83.17L541.7 83.11M435.5 82.5L453.2 26.91L470.9 91.13L488.6 72.81L506.3 84.61L524 76.3L541.7 69M435.5 82.5L453.2 28.8L470.9 78L488.6 81.9L506.3 87.49L524 85.94L541.7 86.39" fill="none" stroke="#d3d3d3" stroke-width="0.3" stroke-linejoin="miter"/>
<path d="M435.5 82.5L453.2 80.18L470.9 90.56L488.6 80.21L506.3 49.93L524 79.68L541.7 78.69M435.5 82.5L453.2 68.57L470.9 68.31L488.6 88.66L506.3 34.59L524 80.51L541.7 79.42M435.5 82.5L453.2 77.17L470.9 72.33L488.6 79.08L506.3 48.32L524 77.82L541.7 67.28M435.5 82.5L453.2 74.81L470.9 77.97L488.6 74.16L506.3 30.71L524 81.64L541.7 65.84M435.5 82.5L453.2 93.35L470.9 85.22L488.6 84.34L506.3 39.9L524 87.07L541.7 72.29M435.5 82.5L453.2 92.63L470.9 80.43L488.6 87.12L506.3 44.96L524 78.59L541.7 65.05" fill="none" stroke="#d3d3d3" stroke-width="0.3" stroke-linejoin="miter"/>
<path d="M435.5 82.5L453.2 63.97L470.9 80.91L488.6 70.19L506.3 77.83L524 54.21L541.7 69.74M435.5 82.5L453.2 79.22L470.9 85.16L488.6 73.96L506.3 81.12L524 49.33L541.7 90.25M435.5 82.5L453.2 80.62L470.9 80.86L488.6 82.24L506.3 74.87L524 43.44L541.7 76.76M435.5 82.5L453.2 78.21L470.9 73.6L488.6 84.46L506.3 76.58L524 49.61L541.7 85.64M435.5 82.5L453.2 70.82L470.9 69.65L488.6 86.24L506.3 79.86L524 40.89L541.7 87.92" fill="none" stroke="#d3d3d3" stroke-width="0.3" stroke-linejoin="miter"/>
<path d="M435.5 82.5L453.2 82L470.9 84.06L488.6 85.56L506.3 86.14L524 86.62L541.7 45.75M435.5 82.5L453.2 71.78L470.9 87.02L488.6 81.87L506.3 89.17L524 87.45L541.7 42.56M435.5 82.5L453.2 84.83L470.9 91.61L488.6 79.99L506.3 80.84L524 87.74L541.7 53.04M435.5 82.5L453.2 81.64L470.9 86.41L488.6 73.16L506.3 76.69L524 91.57L541.7 42.63" fill="none" stroke="#d3d3d3" stroke-width="0.3" stroke-linejoin="miter"/>
<path d="M435.5 82.5L453.2 120.24L470.9 84.27L488.6 68.7L506.3 76.52L524 77.19L541.7 80.13M435.5 82.5L453.2 117.5L470.9 91.16L488.6 83.36L506.3 70.51L524 81.77L541.7 73.85M435.5 82.5L453.2 131.22L470.9 72.15L488.6 94.97L506.3 76.87L524 77L541.7 91.37M435.5 82.5L453.2 128.13L470.9 78.95L488.6 78.54L506.3 79.73L524 89.66L541.7 73M435.5 82.5L453.2 129.46L470.9 78.84L488.6 82.13L506.3 83.03L524 71.63L541.7 85.75M435.5 82.5L453.2 123.65L470.9 74.46L488.6 74.97L506.3 82.18L524 93.44L541.7 73.12M435.5 82.5L453.2 111.29L470.9 78.29L488.6 78.89L506.3 81.28L524 88.86L541.7 83.71M435.5 82.5L453.2 131.79L470.9 77.67L488.6 76.85L506.3 70.09L524 78.84L541.7 83.95M435.5 82.5L453.2 128.36L470.9 78.65L488.6 78.47L506.3 82.27L524 79.01L541.7 85.81M435.5 82.5L453.2 110.15L470.9 84.19L488.6 89.25L506.3 78.17L524 92.84L541.7 84.3M435.5 82.5L453.2 120.42L470.9 89L488.6 79.86L506.3 70.47L524 73.88L541.7 78.69M435.5 82.5L453.2 125.39L470.9 84.57L488.6 80.84L506.3 72.71L524 73.3L541.7 73.6M435.5 82.5L453.2 127.82L470.9 77.16L488.6 73.62L506.3 70.71L524 84.84L541.7 81.83M435.5 82.5L453.2 113.8L470.9 87.26L488.6 77.39L506.3 86.33L524 85.26L541.7 88.34M435.5 82.5L453.2 121.7L470.9 87.03L488.6 80.17L506.3 67.62L524 74.96L541.7 63.97M435.5 82.5L453.2 128.67L470.9 84.82L488.6 80.65L506.3 84.32L524 88.8L541.7 79.54" fill="none" stroke="#d3d3d3" stroke-width="0.3" stroke-linejoin="miter"/>
<path d="M435.5 82.5L453.2 80.64L470.9 86.27L488.6 106.25L506.3 81.22L524 83.84L541.7 68.89M435.5 82.5L453.2 82.25L470.9 77.68L488.6 109.68L506.3 70.29L524 82.67L541.7 73.24M435.5 82.5L453.2 82.05L470.9 76.4L488.6 120.54L506.3 76.13L524 68.29L541.7 73.89M435.5 82.5L453.2 88.17L470.9 84.19L488.6 107.5L506.3 69.71L524 93.76L541.7 78.79M435.5 82.5L453.2 93.77L470.9 83.33L488.6 109.06L506.3 72.09L524 78.7L541.7 64.04M435.5 82.5L453.2 86.11L470.9 75.68L488.6 110.82L506.3 75.8L524 78.77L541.7 84.57M435.5 82.5L453.2 82.34L470.9 80.91L488.6 115.17L506.3 76.4L524 76.99L541.7 81.84M435.5 82.5L453.2 77.86L470.9 91.05L488.6 119.46L506.3 81.63L524 88.57L541.7 81.03M435.5 82.5L453.2 82.9L470.9 79.92L488.6 108.35L506.3 80.37L524 89.34L541.7 79.08M435.5 82.5L453.2 85.43L470.9 75.75L488.6 107.15L506.3 87.07L524 78.12L541.7 68.44" fill="none" stroke="#d3d3d3" stroke-width="0.3" stroke-linejoin="miter"/>
<path d="M435.5 82.5L453.2 89.07L470.9 68.99L488.6 79.56L506.3 124.65L524 77L541.7 71.24M435.5 82.5L453.2 79L470.9 72.77L488.6 88.88L506.3 120.83L524 71.44L541.7 80.19M435.5 82.5L453.2 92.2L470.9 79.38L488.6 89.34L506.3 123.14L524 75.79L541.7 85.43M435.5 82.5L453.2 77.65L470.9 91.27L488.6 78.07L506.3 114.76L524 71.15L541.7 87.11M435.5 82.5L453.2 82.8L470.9 75.3L488.6 71.56L506.3 113.65L524 90.93L541.7 88.36M435.5 82.5L453.2 77.08L470.9 82.15L488.6 72.86L506.3 113.78L524 74.62L541.7 81.26M435.5 82.5L453.2 83.98L470.9 72.97L488.6 82.72L506.3 118.99L524 83.32L541.7 83.35M435.5 82.5L453.2 84.85L470.9 80.49L488.6 84.17L506.3 123.85L524 78.68L541.7 70.76M435.5 82.5L453.2 79.8L470.9 75.11L488.6 85.83L506.3 109.54L524 87.97L541.7 72.88M435.5 82.5L453.2 72.54L470.9 77.87L488.6 71.12L506.3 106.73L524 74.6L541.7 74.79M435.5 82.5L453.2 68.62L470.9 80.32L488.6 85.71L506.3 123.06L524 81.57L541.7 72.7M435.5 82.5L453.2 73.34L470.9 90.06L488.6 94.22L506.3 121.95L524 84.44L541.7 74.96M435.5 82.5L453.2 68.18L470.9 70.56L488.6 78.63L506.3 114.1L524 80.78L541.7 87.97M435.5 82.5L453.2 79.19L470.9 84.94L488.6 75.53L506.3 126.93L524 88.08L541.7 76.37M435.5 82.5L453.2 68.63L470.9 82.52L488.6 80.37L506.3 111.78L524 71.41L541.7 87.91M435.5 82.5L453.2 75.81L470.9 78.29L488.6 86.18L506.3 122.38L524 80.13L541.7 78.67M435.5 82.5L453.2 70.95L470.9 87.91L488.6 83.33L506.3 110.56L524 77.89L541.7 87.41M435.5 82.5L453.2 76.56L470.9 78.02L488.6 81.9L506.3 109.77L524 91.51L541.7 91.78M435.5 82.5L453.2 79.92L470.9 75.4L488.6 70.57L506.3 123.07L524 88.62L541.7 79.58M435.5 82.5L453.2 87.8L470.9 76.49L488.6 82.64L506.3 114.05L524 88.2L541.7 74.55M435.5 82.5L453.2 83.25L470.9 78.07L488.6 80.2L506.3 106.76L524 83.88L541.7 83.91M435.5 82.5L453.2 78.43L470.9 84.7L488.6 91.24L506.3 127.42L524 72.5L541.7 87.29M435.5 82.5L453.2 94.19L470.9 65.32L488.6 85.19L506.3 124.64L524 77.26L541.7 83.92M435.5 82.5L453.2 75.72L470.9 68.97L488.6 71.57L506.3 125.16L524 89.89L541.7 77.46M435.5 82.5L453.2 84.12L470.9 72.09L488.6 91.04L506.3 125.64L524 74.18L541.7 90.14M435.5 82.5L453.2 82.61L470.9 69.69L488.6 85.26L506.3 127.32L524 83L541.7 85.89M435.5 82.5L453.2 82.76L470.9 83.62L488.6 89.92L506.3 121.33L524 91.51L541.7 88.22M435.5 82.5L453.2 76.79L470.9 82.17L488.6 86.69L506.3 120.23L524 70.57L541.7 79.46M435.5 82.5L453.2 77.44L470.9 90.38L488.6 85.38L506.3 108.34L524 83.86L541.7 75.6M435.5 82.5L453.2 72.94L470.9 81.89L488.6 90.33L506.3 126.03L524 80.72L541.7 67.72M435.5 82.5L453.2 83.85L470.9 70.86L488.6 84.81L506.3 114.6L524 71.7L541.7 90.3M435.5 82.5L453.2 80.22L470.9 82.12L488.6 80.13L506.3 106.23L524 85.27L541.7 90.29M435.5 82.5L453.2 84.61L470.9 83.2L488.6 83.44L506.3 127.18L524 86.68L541.7 82.97M435.5 82.5L453.2 78.39L470.9 81.78L488.6 84.11L506.3 126.21L524 91.36L541.7 72.09M435.5 82.5L453.2 94.41L470.9 79.69L488.6 78.99L506.3 125.66L524 87.12L541.7 91.22M435.5 82.5L453.2 63.67L470.9 70.55L488.6 86.89L506.3 126.63L524 87.22L541.7 89.04M435.5 82.5L453.2 70.46L470.9 78.46L488.6 87.97L506.3 111.93L524 86.71L541.7 71.16M435.5 82.5L453.2 82.11L470.9 81.74L488.6 89.33L506.3 125L524 78.1L541.7 87.38M435.5 82.5L453.2 86.77L470.9 71.99L488.6 78.5L506.3 111.15L524 94.51L541.7 77.69M435.5 82.5L453.2 91.14L470.9 72.25L488.6 81.98L506.3 122.08L524 91.95L541.7 75.71M435.5 82.5L453.2 82.34L470.9 88.07L488.6 77.81L506.3 120.56L524 91.46L541.7 87.93M435.5 82.5L453.2 66.3L470.9 91.16L488.6 82.33L506.3 124.12L524 88.36L541.7 86.58M435.5 82.5L453.2 83.68L470.9 70.22L488.6 80.6L506.3 106.06L524 90.07L541.7 82.15M435.5 82.5L453.2 80.84L470.9 82.65L488.6 83.38L506.3 126.22L524 69.31L541.7 81.1M435.5 82.5L453.2 86.95L470.9 88.97L488.6 80.09L506.3 118.19L524 79.09L541.7 76.55" fill="none" stroke="#d3d3d3" stroke-width="0.35" stroke-linejoin="miter"/>
<path d="M435.5 82.5L453.2 72.98L470.9 80.01L488.6 70.89L506.3 84.56L524 130.81L541.7 91.78M435.5 82.5L453.2 66.72L470.9 88.94L488.6 80.9L506.3 77.78L524 130.44L541.7 86.57M435.5 82.5L453.2 86.5L470.9 82.26L488.6 68.25L506.3 83.83L524 126.43L541.7 84.49M435.5 82.5L453.2 76.43L470.9 87.27L488.6 71.87L506.3 76.32L524 123.32L541.7 72.02M435.5 82.5L453.2 90.16L470.9 83.91L488.6 82.4L506.3 74.23L524 106.41L541.7 81.82M435.5 82.5L453.2 73.74L470.9 81.35L488.6 72.7L506.3 71.82L524 116.87L541.7 80.55M435.5 82.5L453.2 67.33L470.9 86.47L488.6 76.42L506.3 81.73L524 131.61L541.7 74.46M435.5 82.5L453.2 92.73L470.9 70.64L488.6 74.97L506.3 87.12L524 106.36L541.7 80.98M435.5 82.5L453.2 84.11L470.9 76.82L488.6 80.44L506.3 70.73L524 108.89L541.7 78.38M435.5 82.5L453.2 74.62L470.9 85.55L488.6 83.35L506.3 84.33L524 111.82L541.7 82.91M435.5 82.5L453.2 78.5L470.9 78.73L488.6 82.68L506.3 81.44L524 112.42L541.7 75.34M435.5 82.5L453.2 90.55L470.9 72.98L488.6 69.53L506.3 82.04L524 124.47L541.7 84.02M435.5 82.5L453.2 74.5L470.9 85.82L488.6 94.42L506.3 88.2L524 121.88L541.7 88.53M435.5 82.5L453.2 77.51L470.9 81.96L488.6 83.71L506.3 86.83L524 115.06L541.7 81.71M435.5 82.5L453.2 73.79L470.9 82.36L488.6 68.54L506.3 83.48L524 113.86L541.7 80.04M435.5 82.5L453.2 80.91L470.9 75.13L488.6 88.44L506.3 85.95L524 126.19L541.7 71.44M435.5 82.5L453.2 69.95L470.9 86.75L488.6 67.1L506.3 79.3L524 131.39L541.7 72.24M435.5 82.5L453.2 83.45L470.9 85.03L488.6 94.92L506.3 87.87L524 124.81L541.7 80.85M435.5 82.5L453.2 78.82L470.9 86.15L488.6 83.8L506.3 86.06L524 129.27L541.7 79.44M435.5 82.5L453.2 85.15L470.9 93.64L488.6 77.79L506.3 87.49L524 131.71L541.7 79.78M435.5 82.5L453.2 89.33L470.9 88.05L488.6 80.03L506.3 87.53L524 128.58L541.7 82.77M435.5 82.5L453.2 76.14L470.9 84.51L488.6 80.44L506.3 87.95L524 114.66L541.7 69.06M435.5 82.5L453.2 90.95L470.9 91.31L488.6 70.52L506.3 82.95L524 111.45L541.7 75.11M435.5 82.5L453.2 80.04L470.9 82.2L488.6 89.44L506.3 85.29L524 114.04L541.7 66.8M435.5 82.5L453.2 70.99L470.9 80.3L488.6 82.39L506.3 70.81L524 106.33L541.7 70.47M435.5 82.5L453.2 86.17L470.9 75.01L488.6 83.14L506.3 88.26L524 113.98L541.7 79.21M435.5 82.5L453.2 89.07L470.9 93.86L488.6 84.73L506.3 72.84L524 124.3L541.7 81.56M435.5 82.5L453.2 86.57L470.9 89.62L488.6 80.35L506.3 72.02L524 115.59L541.7 89.51M435.5 82.5L453.2 85.88L470.9 77.27L488.6 80.02L506.3 72.96L524 123.77L541.7 71.79M435.5 82.5L453.2 74.69L470.9 77.85L488.6 74.94L506.3 68.07L524 121.78L541.7 81.39M435.5 82.5L453.2 71.68L470.9 83.94L488.6 78.7L506.3 83.3L524 127.29L541.7 66.58M435.5 82.5L453.2 79.51L470.9 84.47L488.6 82.21L506.3 77.51L524 118.91L541.7 87.52M435.5 82.5L453.2 79.88L470.9 83.6L488.6 66.98L506.3 81.41L524 119.37L541.7 76.74M435.5 82.5L453.2 88.44L470.9 77.28L488.6 81L506.3 92.69L524 113.02L541.7 84.34M435.5 82.5L453.2 84.28L470.9 88.73L488.6 80.22L506.3 80.06L524 123.14L541.7 77.46M435.5 82.5L453.2 87.51L470.9 75.82L488.6 87.65L506.3 83.53L524 108.21L541.7 71.46M435.5 82.5L453.2 80.38L470.9 76.14L488.6 82.09L506.3 85.62L524 131.49L541.7 94.09M435.5 82.5L453.2 89.27L470.9 84.37L488.6 87.63L506.3 73.35L524 109.87L541.7 82.64M435.5 82.5L453.2 86.2L470.9 76.8L488.6 73.08L506.3 80.38L524 130.36L541.7 71.38M435.5 82.5L453.2 75.2L470.9 74.12L488.6 78.29L506.3 79.54L524 131.39L541.7 82.61M435.5 82.5L453.2 77.81L470.9 83.43L488.6 75.21L506.3 82.31L524 130.98L541.7 80.96M435.5 82.5L453.2 85.21L470.9 79.79L488.6 84.92L506.3 88.48L524 129.7L541.7 75.48M435.5 82.5L453.2 89.44L470.9 80.21L488.6 83.03L506.3 93.22L524 113.94L541.7 86.18M435.5 82.5L453.2 66.71L470.9 82.34L488.6 74.47L506.3 91.29L524 110.68L541.7 73.67M435.5 82.5L453.2 89.56L470.9 70.48L488.6 82.23L506.3 77.94L524 115.38L541.7 72.16M435.5 82.5L453.2 85.27L470.9 83.06L488.6 79.81L506.3 82.55L524 113.77L541.7 81.38M435.5 82.5L453.2 67.82L470.9 76.28L488.6 86.75L506.3 80.2L524 110.91L541.7 71.36M435.5 82.5L453.2 72.19L470.9 73.11L488.6 77.29L506.3 81.42L524 109.34L541.7 84.34M435.5 82.5L453.2 87.28L470.9 84.36L488.6 75.4L506.3 80.08L524 117.65L541.7 74.95M435.5 82.5L453.2 68.63L470.9 86.3L488.6 75.4L506.3 86.25L524 129.01L541.7 70.41" fill="none" stroke="#d3d3d3" stroke-width="0.35" stroke-linejoin="miter"/>
<path d="M435.5 82.5L453.2 83.68L470.9 68.88L488.6 72.38L506.3 88.85L524 79.44L541.7 105.62M435.5 82.5L453.2 82.33L470.9 79.6L488.6 66.27L506.3 79.54L524 75.99L541.7 105.23M435.5 82.5L453.2 76.19L470.9 76.93L488.6 82.22L506.3 73.32L524 80.09L541.7 110.23M435.5 82.5L453.2 80.93L470.9 80.63L488.6 80.08L506.3 75.56L524 86.11L541.7 100.05M435.5 82.5L453.2 85.73L470.9 81.39L488.6 84.24L506.3 82.89L524 86.31L541.7 102.98M435.5 82.5L453.2 75.59L470.9 79.98L488.6 87.6L506.3 82.41L524 81.07L541.7 108.27M435.5 82.5L453.2 71.45L470.9 78.22L488.6 79.3L506.3 74.65L524 77.24L541.7 111.12M435.5 82.5L453.2 85.81L470.9 88.05L488.6 81.77L506.3 83.81L524 81.46L541.7 109.97" fill="none" stroke="#d3d3d3" stroke-width="0.3" stroke-linejoin="miter"/>
</g>
<path d="M435.5 82.5L453.2 82.5L470.9 82.5L488.6 82.5L506.3 82.5L524 82.5L541.7 82.5" fill="none" stroke="#5050ee" stroke-width="0.9"/>
<path d="M435.5 82.5H541.7" stroke="#e0607a" stroke-width="0.9"/>
<circle cx="435.5" cy="82.5" r="1.1" fill="#5050ee"/>
<circle cx="453.2" cy="82.5" r="1.1" fill="#5050ee"/>
<circle cx="470.9" cy="82.5" r="1.1" fill="#5050ee"/>
<circle cx="488.6" cy="82.5" r="1.1" fill="#5050ee"/>
<circle cx="506.3" cy="82.5" r="1.1" fill="#5050ee"/>
<circle cx="524" cy="82.5" r="1.1" fill="#5050ee"/>
<circle cx="541.7" cy="82.5" r="1.1" fill="#5050ee"/>
<rect x="431.5" y="22.6" width="114.9" height="115" fill="none" stroke="#8f8f8f" stroke-width="1.1"/>
<path d="M429.9 24.5H431.5" stroke="#666" stroke-width="0.5"/>
<text x="427.7" y="26.5" text-anchor="end" font-family='"Liberation Serif", serif' font-size="6" fill="#1a1a1a">20</text>
<path d="M429.9 53.5H431.5" stroke="#666" stroke-width="0.5"/>
<text x="427.7" y="55.5" text-anchor="end" font-family='"Liberation Serif", serif' font-size="6" fill="#1a1a1a">10</text>
<path d="M429.9 82.5H431.5" stroke="#666" stroke-width="0.5"/>
<text x="427.7" y="84.5" text-anchor="end" font-family='"Liberation Serif", serif' font-size="6" fill="#1a1a1a">0</text>
<path d="M429.9 111.5H431.5" stroke="#666" stroke-width="0.5"/>
<text x="427.7" y="113.5" text-anchor="end" font-family='"Liberation Serif", serif' font-size="6" fill="#1a1a1a">−10</text>
<path d="M435.5 137.6V139.6" stroke="#666" stroke-width="0.5"/>
<text x="435.5" y="150.5" text-anchor="middle" font-family='"Liberation Serif", serif' font-weight="bold" font-size="6.6" fill="#222">PL</text>
<path d="M453.2 137.6V139.6" stroke="#666" stroke-width="0.5"/>
<text x="453.2" y="151.7" text-anchor="middle" font-family='"Liberation Serif", serif' font-weight="bold" font-size="6.6" fill="#222">RS</text>
<path d="M470.9 137.6V139.6" stroke="#666" stroke-width="0.5"/>
<text x="470.9" y="150.5" text-anchor="middle" font-family='"Liberation Serif", serif' font-weight="bold" font-size="6.6" fill="#222">DZ</text>
<path d="M488.6 137.6V139.6" stroke="#666" stroke-width="0.5"/>
<text x="488.6" y="151.7" text-anchor="middle" font-family='"Liberation Serif", serif' font-weight="bold" font-size="6.6" fill="#222">LX</text>
<path d="M506.3 137.6V139.6" stroke="#666" stroke-width="0.5"/>
<text x="506.3" y="150.5" text-anchor="middle" font-family='"Liberation Serif", serif' font-weight="bold" font-size="6.6" fill="#222">RZ</text>
<path d="M524 137.6V139.6" stroke="#666" stroke-width="0.5"/>
<text x="524" y="151.7" text-anchor="middle" font-family='"Liberation Serif", serif' font-weight="bold" font-size="6.6" fill="#222">TA</text>
<path d="M541.7 137.6V139.6" stroke="#666" stroke-width="0.5"/>
<text x="541.7" y="150.5" text-anchor="middle" font-family='"Liberation Serif", serif' font-weight="bold" font-size="6.6" fill="#222">ZZ</text>
<text transform="translate(418.4 73) rotate(-90)" text-anchor="middle" font-family='"Liberation Serif", serif' font-weight="bold" font-size="7.1" fill="#111">log2(FPKM+1)</text>
<text transform="translate(245.8 189.7) scale(0.9 1)" font-family='"Liberation Serif", serif' font-weight="bold" font-size="13.6">E</text>
<rect x="448.8" y="213" width="67.7" height="6" fill="#f98181"/>
<path d="M430.8 216H436.5" stroke="#000" stroke-width="1.25"/>
<text x="430.3" y="218.8" text-anchor="end" font-family='"Liberation Serif", serif' font-weight="bold" font-size="7.3" fill="#111">Plant-pathogen interaction</text>
<rect x="448.8" y="222.67" width="67.7" height="6" fill="#f98181"/>
<path d="M430.8 225.67H436.5" stroke="#000" stroke-width="1.25"/>
<text x="430.3" y="228.47" text-anchor="end" font-family='"Liberation Serif", serif' font-weight="bold" font-size="7.3" fill="#111">Flavonoid biosynthesis</text>
<rect x="448.8" y="232.33" width="47.3" height="6" fill="#f98181"/>
<path d="M430.8 235.33H436.5" stroke="#000" stroke-width="1.25"/>
<text x="430.3" y="238.13" text-anchor="end" font-family='"Liberation Serif", serif' font-weight="bold" font-size="7.3" fill="#111">Circadian rhythm - plant</text>
<rect x="448.8" y="242" width="36.2" height="6" fill="#f98181"/>
<path d="M430.8 245H436.5" stroke="#000" stroke-width="1.25"/>
<text x="430.3" y="247.8" text-anchor="end" font-family='"Liberation Serif", serif' font-weight="bold" font-size="7.3" fill="#111">Phenylpropanoid biosynthesis</text>
<rect x="448.8" y="251.67" width="36.2" height="6" fill="#f98181"/>
<path d="M430.8 254.67H436.5" stroke="#000" stroke-width="1.25"/>
<text x="430.3" y="257.47" text-anchor="end" font-family='"Liberation Serif", serif' font-weight="bold" font-size="7.3" fill="#111">Phenylalanine metabolism</text>
<rect x="448.8" y="261.33" width="29.1" height="6" fill="#f98181"/>
<path d="M430.8 264.33H436.5" stroke="#000" stroke-width="1.25"/>
<text x="430.3" y="267.13" text-anchor="end" font-family='"Liberation Serif", serif' font-weight="bold" font-size="7.3" fill="#111">Tropane, piperidine and pyridine alkaloid biosynthesis</text>
<rect x="448.8" y="271" width="26" height="6" fill="#f98181"/>
<path d="M430.8 274H436.5" stroke="#000" stroke-width="1.25"/>
<text x="430.3" y="276.8" text-anchor="end" font-family='"Liberation Serif", serif' font-weight="bold" font-size="7.3" fill="#111">Photosynthesis - antenna proteins</text>
<rect x="448.8" y="280.67" width="85.4" height="6" fill="#15904f"/>
<path d="M430.8 283.67H436.5" stroke="#000" stroke-width="1.25"/>
<text x="430.3" y="286.47" text-anchor="end" font-family='"Liberation Serif", serif' font-weight="bold" font-size="7.3" fill="#111">Carbon metabolism</text>
<rect x="448.8" y="290.33" width="52.3" height="6" fill="#15904f"/>
<path d="M430.8 293.33H436.5" stroke="#000" stroke-width="1.25"/>
<text x="430.3" y="296.13" text-anchor="end" font-family='"Liberation Serif", serif' font-weight="bold" font-size="7.3" fill="#111">Biosynthesis of amino acids</text>
<rect x="448.8" y="300" width="52.3" height="6" fill="#15904f"/>
<path d="M430.8 303H436.5" stroke="#000" stroke-width="1.25"/>
<text x="430.3" y="305.8" text-anchor="end" font-family='"Liberation Serif", serif' font-weight="bold" font-size="7.3" fill="#111">Carbon fixation in photosynthetic organisms</text>
<rect x="448.8" y="309.67" width="45.9" height="6" fill="#15904f"/>
<path d="M430.8 312.67H436.5" stroke="#000" stroke-width="1.25"/>
<text x="430.3" y="315.47" text-anchor="end" font-family='"Liberation Serif", serif' font-weight="bold" font-size="7.3" fill="#111">Biosynthesis of cofactors</text>
<rect x="448.8" y="319.33" width="42.8" height="6" fill="#15904f"/>
<path d="M430.8 322.33H436.5" stroke="#000" stroke-width="1.25"/>
<text x="430.3" y="325.13" text-anchor="end" font-family='"Liberation Serif", serif' font-weight="bold" font-size="7.3" fill="#111">Glyoxylate and dicarboxylate metabolism</text>
<rect x="448.8" y="329" width="36.2" height="6" fill="#15904f"/>
<path d="M430.8 332H436.5" stroke="#000" stroke-width="1.25"/>
<text x="430.3" y="334.8" text-anchor="end" font-family='"Liberation Serif", serif' font-weight="bold" font-size="7.3" fill="#111">Glycine, serine and threonine metabolism</text>
<rect x="448.8" y="338.67" width="35.5" height="6" fill="#15904f"/>
<path d="M430.8 341.67H436.5" stroke="#000" stroke-width="1.25"/>
<text x="430.3" y="344.47" text-anchor="end" font-family='"Liberation Serif", serif' font-weight="bold" font-size="7.3" fill="#111">Purine metabolism</text>
<rect x="448.8" y="348.33" width="31.2" height="6" fill="#15904f"/>
<path d="M430.8 351.33H436.5" stroke="#000" stroke-width="1.25"/>
<text x="430.3" y="354.13" text-anchor="end" font-family='"Liberation Serif", serif' font-weight="bold" font-size="7.3" fill="#111">Cysteine and methionine metabolism</text>
<rect x="448.8" y="358" width="26.3" height="6" fill="#15904f"/>
<path d="M430.8 361H436.5" stroke="#000" stroke-width="1.25"/>
<text x="430.3" y="363.8" text-anchor="end" font-family='"Liberation Serif", serif' font-weight="bold" font-size="7.3" fill="#111">Fructose and mannose metabolism</text>
<rect x="448.8" y="367.67" width="25.1" height="6" fill="#15904f"/>
<path d="M430.8 370.67H436.5" stroke="#000" stroke-width="1.25"/>
<text x="430.3" y="373.47" text-anchor="end" font-family='"Liberation Serif", serif' font-weight="bold" font-size="7.3" fill="#111">Phenylalanine, tyrosine and tryptophan biosynthesis</text>
<rect x="448.8" y="377.33" width="22" height="6" fill="#15904f"/>
<path d="M430.8 380.33H436.5" stroke="#000" stroke-width="1.25"/>
<text x="430.3" y="383.13" text-anchor="end" font-family='"Liberation Serif", serif' font-weight="bold" font-size="7.3" fill="#111">Pentose phosphate pathway</text>
<rect x="448.8" y="387" width="20.4" height="6" fill="#15904f"/>
<path d="M430.8 390H436.5" stroke="#000" stroke-width="1.25"/>
<text x="430.3" y="392.8" text-anchor="end" font-family='"Liberation Serif", serif' font-weight="bold" font-size="7.3" fill="#111">Glycolysis / Gluconeogenesis</text>
<path d="M436.5 209.5V396.6" stroke="#000" stroke-width="1.35"/>
<path d="M448.6 408.4V411.4H539.2V408.4M478.8 411.4V408.4M508.9 411.4V408.4" fill="none" stroke="#000" stroke-width="1.25"/>
<text x="448.6" y="420.6" text-anchor="middle" font-family='"Liberation Sans", sans-serif' font-weight="bold" font-size="7" fill="#111">0</text>
<text x="478.8" y="420.6" text-anchor="middle" font-family='"Liberation Sans", sans-serif' font-weight="bold" font-size="7" fill="#111">2</text>
<text x="508.9" y="420.6" text-anchor="middle" font-family='"Liberation Sans", sans-serif' font-weight="bold" font-size="7" fill="#111">4</text>
<text x="539.2" y="420.6" text-anchor="middle" font-family='"Liberation Sans", sans-serif' font-weight="bold" font-size="7" fill="#111">6</text>
<rect x="494.2" y="272" width="10" height="4.2" fill="#f98181"/>
<text transform="translate(506.5 276.7) scale(0.88 1)" font-family='"Liberation Serif", serif' font-size="8" fill="#222">Cluster 1</text>
<rect x="492.1" y="387.6" width="9.8" height="5.4" fill="#15904f"/>
<text transform="translate(506.5 392.9) scale(0.88 1)" font-family='"Liberation Serif", serif' font-size="8" fill="#222">Cluster 2</text>
</svg></body></html>
